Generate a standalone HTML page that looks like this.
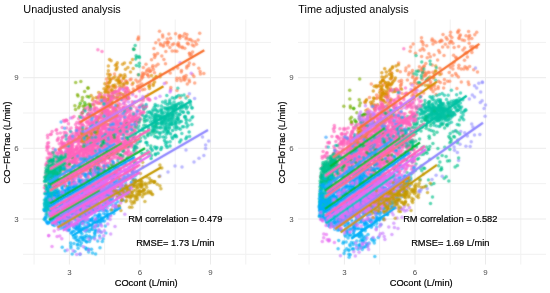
<!DOCTYPE html>
<html><head><meta charset="utf-8"><title>plot</title><style>html,body{margin:0;padding:0;background:#fff;width:550px;height:293px;overflow:hidden}
svg{display:block}
circle{r:1.75px}
.mn{stroke:#f1f1f1;stroke-width:1}
.mj{stroke:#ebebeb;stroke-width:1}
text{font-family:"Liberation Sans",Arial,sans-serif}
.t{font-size:10.9px;fill:#000}
.tk{font-size:7.9px;fill:#4d4d4d}
.ax{font-size:9.3px;fill:#000;stroke:#000;stroke-width:0.2px}</style></head><body>
<svg width="550" height="293" viewBox="0 0 550 293">
<defs><filter id="soft" x="0" y="0" width="275" height="293" filterUnits="userSpaceOnUse" primitiveUnits="userSpaceOnUse"><feConvolveMatrix order="3" kernelMatrix="1 2 1 2 12 2 1 2 1" divisor="24" edgeMode="duplicate"/></filter></defs>
<g>
<line x1="34.1" y1="19.5" x2="34.1" y2="264.5" class="mn"/>
<line x1="23.0" y1="254.3" x2="271.0" y2="254.3" class="mn"/>
<line x1="104.7" y1="19.5" x2="104.7" y2="264.5" class="mn"/>
<line x1="23.0" y1="183.7" x2="271.0" y2="183.7" class="mn"/>
<line x1="175.2" y1="19.5" x2="175.2" y2="264.5" class="mn"/>
<line x1="23.0" y1="113.0" x2="271.0" y2="113.0" class="mn"/>
<line x1="245.8" y1="19.5" x2="245.8" y2="264.5" class="mn"/>
<line x1="23.0" y1="42.4" x2="271.0" y2="42.4" class="mn"/>
<line x1="69.4" y1="19.5" x2="69.4" y2="264.5" class="mj"/>
<line x1="23.0" y1="219.0" x2="271.0" y2="219.0" class="mj"/>
<line x1="140.0" y1="19.5" x2="140.0" y2="264.5" class="mj"/>
<line x1="23.0" y1="148.3" x2="271.0" y2="148.3" class="mj"/>
<line x1="210.5" y1="19.5" x2="210.5" y2="264.5" class="mj"/>
<line x1="23.0" y1="77.7" x2="271.0" y2="77.7" class="mj"/>
<g filter="url(#soft)"><g fill="#FF62BC" fill-opacity="0.65"><circle cx="128.5" cy="149.9"/><circle cx="96.7" cy="124.3"/><circle cx="66.6" cy="149.3"/><circle cx="68.4" cy="123.7"/><circle cx="100.2" cy="138.3"/><circle cx="109.2" cy="117.1"/><circle cx="95.1" cy="136.8"/><circle cx="55.8" cy="162"/><circle cx="103.3" cy="175.4"/><circle cx="100.3" cy="133.5"/><circle cx="127.1" cy="129.2"/><circle cx="118.6" cy="122.8"/><circle cx="100.7" cy="153.3"/><circle cx="113.1" cy="133.3"/><circle cx="66.9" cy="156.3"/><circle cx="97" cy="149.5"/><circle cx="100.6" cy="154.4"/><circle cx="93.7" cy="141.9"/><circle cx="112.3" cy="112.9"/><circle cx="84.6" cy="133.5"/><circle cx="112" cy="142.1"/><circle cx="87.7" cy="114.4"/><circle cx="120.1" cy="121.5"/><circle cx="113.7" cy="108.7"/><circle cx="83.6" cy="163.7"/><circle cx="132.2" cy="101.7"/><circle cx="60.3" cy="150.4"/><circle cx="113.9" cy="133.5"/><circle cx="102.9" cy="118.2"/><circle cx="110.3" cy="151.2"/><circle cx="83.7" cy="117.9"/><circle cx="75.3" cy="158.4"/><circle cx="49.9" cy="153.6"/><circle cx="69.2" cy="145.6"/><circle cx="88.6" cy="140.7"/><circle cx="134" cy="130.3"/><circle cx="129.7" cy="122.4"/><circle cx="82.5" cy="149.2"/><circle cx="94" cy="141.1"/><circle cx="62.9" cy="158.1"/><circle cx="89.5" cy="123.5"/><circle cx="81.5" cy="140.6"/><circle cx="127.5" cy="127.4"/><circle cx="94.3" cy="144.9"/><circle cx="47.9" cy="177"/><circle cx="67" cy="156.1"/><circle cx="65.7" cy="132.5"/><circle cx="84.7" cy="174.1"/><circle cx="113.1" cy="120.8"/><circle cx="87.6" cy="121.2"/><circle cx="94.1" cy="128.6"/><circle cx="113.8" cy="107.8"/><circle cx="86.3" cy="127"/><circle cx="76.3" cy="157.2"/><circle cx="98.3" cy="146.7"/><circle cx="125.9" cy="145.8"/><circle cx="59.3" cy="160.7"/><circle cx="49.2" cy="154.3"/><circle cx="85.4" cy="144.5"/><circle cx="95.5" cy="138.3"/><circle cx="75.3" cy="163.9"/><circle cx="118.1" cy="125.6"/><circle cx="103.2" cy="146.1"/><circle cx="121.8" cy="134.5"/><circle cx="113.1" cy="126.7"/><circle cx="67.2" cy="140.1"/><circle cx="121.5" cy="144.6"/><circle cx="98.8" cy="126.9"/><circle cx="103" cy="163.2"/><circle cx="130.2" cy="113"/><circle cx="93.9" cy="113.8"/><circle cx="65.5" cy="152.4"/><circle cx="95.6" cy="154.2"/><circle cx="128" cy="139.7"/><circle cx="129.3" cy="115.7"/><circle cx="65.6" cy="157.7"/><circle cx="104.3" cy="114.9"/><circle cx="101.3" cy="159.8"/><circle cx="68.1" cy="161.9"/><circle cx="79.1" cy="165.7"/><circle cx="115.4" cy="135.4"/><circle cx="77.2" cy="176.3"/><circle cx="72.2" cy="184"/><circle cx="94" cy="120.8"/><circle cx="94.9" cy="140.2"/><circle cx="100.2" cy="132.7"/><circle cx="123.1" cy="87.9"/><circle cx="80.6" cy="139"/><circle cx="86.2" cy="121.9"/><circle cx="77.7" cy="155.5"/><circle cx="105.7" cy="158.4"/><circle cx="79.4" cy="148.5"/><circle cx="125.5" cy="141.8"/><circle cx="86.3" cy="160.5"/><circle cx="71" cy="177.8"/><circle cx="99" cy="134.6"/><circle cx="102" cy="149.8"/><circle cx="140.3" cy="118.4"/><circle cx="85.4" cy="151.6"/><circle cx="72.3" cy="117.8"/><circle cx="116.7" cy="123.3"/><circle cx="124.3" cy="109.4"/><circle cx="102.4" cy="137.8"/><circle cx="103" cy="144.9"/><circle cx="85.5" cy="142.9"/><circle cx="59.9" cy="160.2"/><circle cx="74.1" cy="138.4"/><circle cx="113.2" cy="146.7"/><circle cx="68.8" cy="182"/><circle cx="79.6" cy="158"/><circle cx="119.7" cy="132.4"/><circle cx="99.5" cy="166.9"/><circle cx="118.1" cy="136.8"/><circle cx="47.6" cy="143.3"/><circle cx="125.2" cy="129.8"/><circle cx="70.2" cy="136.5"/><circle cx="87" cy="152.7"/><circle cx="105.1" cy="151.1"/><circle cx="73.8" cy="162.8"/><circle cx="82" cy="137.9"/><circle cx="91.4" cy="135.8"/><circle cx="85" cy="168.3"/><circle cx="130.8" cy="136.6"/><circle cx="99.8" cy="153.9"/><circle cx="93" cy="146.5"/><circle cx="105.4" cy="135.5"/><circle cx="129.4" cy="92.4"/><circle cx="83.3" cy="142"/><circle cx="124.6" cy="146.7"/><circle cx="117.2" cy="131.9"/><circle cx="95.9" cy="151.8"/><circle cx="92.6" cy="123.6"/><circle cx="78.8" cy="141.8"/><circle cx="103.6" cy="173.2"/><circle cx="59.4" cy="159.6"/><circle cx="92.6" cy="144"/><circle cx="130.2" cy="145.7"/><circle cx="90.9" cy="130.1"/><circle cx="59.6" cy="150.3"/><circle cx="127.4" cy="121.2"/><circle cx="113.3" cy="143.1"/><circle cx="105.3" cy="152.5"/><circle cx="92" cy="125"/><circle cx="64.5" cy="165.3"/><circle cx="85.6" cy="136.3"/><circle cx="116.7" cy="116.3"/><circle cx="81.3" cy="132.4"/><circle cx="123.1" cy="107.2"/><circle cx="78.3" cy="144.4"/><circle cx="100.3" cy="136.3"/><circle cx="105.1" cy="128"/><circle cx="91.8" cy="160.7"/><circle cx="111.8" cy="124"/><circle cx="139.6" cy="87.2"/><circle cx="97.2" cy="148.5"/><circle cx="120.3" cy="130.3"/><circle cx="85" cy="151.8"/><circle cx="90" cy="148"/><circle cx="104.9" cy="120.8"/><circle cx="119.5" cy="141.4"/><circle cx="113.9" cy="123.9"/><circle cx="106.3" cy="127.9"/><circle cx="100.6" cy="133.6"/><circle cx="72.3" cy="180.2"/><circle cx="113.8" cy="95.9"/><circle cx="118.2" cy="105.5"/><circle cx="89" cy="130.4"/><circle cx="81.1" cy="147.4"/><circle cx="86.5" cy="116.6"/><circle cx="94.8" cy="144.3"/><circle cx="141" cy="113.5"/><circle cx="64.1" cy="143.3"/><circle cx="112" cy="116.5"/><circle cx="76.3" cy="154.5"/><circle cx="94.7" cy="141.9"/><circle cx="78.6" cy="130.2"/><circle cx="86.6" cy="138.6"/><circle cx="86.3" cy="148.6"/><circle cx="109.2" cy="141.9"/><circle cx="107.5" cy="118.2"/><circle cx="65.9" cy="162.7"/><circle cx="95.3" cy="139.9"/><circle cx="64.8" cy="145.9"/><circle cx="78.4" cy="129.6"/><circle cx="78.6" cy="118.8"/><circle cx="97.2" cy="157"/><circle cx="76.6" cy="146.6"/><circle cx="66.6" cy="160.2"/><circle cx="143.5" cy="98.6"/><circle cx="89.1" cy="164.5"/><circle cx="104.6" cy="136.3"/><circle cx="91.1" cy="155.1"/><circle cx="132.3" cy="134.7"/><circle cx="79.9" cy="132.1"/><circle cx="47.7" cy="137.7"/><circle cx="124.2" cy="125"/><circle cx="60.2" cy="173.7"/><circle cx="51.5" cy="176"/><circle cx="86.6" cy="147"/><circle cx="112.7" cy="135.7"/><circle cx="128.1" cy="125.7"/><circle cx="86.5" cy="130"/><circle cx="57.4" cy="140.5"/><circle cx="120.5" cy="142.3"/><circle cx="131.2" cy="170.6"/><circle cx="113.5" cy="139.5"/><circle cx="60.8" cy="146.9"/><circle cx="91.4" cy="144.6"/><circle cx="115" cy="146.8"/><circle cx="90.4" cy="145.6"/><circle cx="68.8" cy="155.7"/><circle cx="114.8" cy="156.6"/><circle cx="91.7" cy="125.2"/><circle cx="79.3" cy="154.5"/><circle cx="109.7" cy="132.7"/><circle cx="95.4" cy="134.6"/><circle cx="97" cy="121.1"/><circle cx="69.5" cy="153.6"/><circle cx="79.8" cy="139.2"/><circle cx="126.7" cy="122.7"/><circle cx="129.2" cy="124.9"/><circle cx="134.4" cy="130.9"/><circle cx="49.3" cy="176.4"/><circle cx="89.6" cy="106.7"/><circle cx="98" cy="139.5"/><circle cx="61.4" cy="140.4"/><circle cx="109.2" cy="156.6"/><circle cx="124.7" cy="147.5"/><circle cx="124.1" cy="84.7"/><circle cx="76.1" cy="148.4"/><circle cx="115" cy="145.5"/><circle cx="74.8" cy="139.2"/><circle cx="70.6" cy="147"/><circle cx="93.9" cy="138.3"/><circle cx="68.4" cy="154.7"/><circle cx="86.1" cy="157.5"/><circle cx="103.1" cy="109.7"/><circle cx="57.5" cy="153.4"/><circle cx="82.4" cy="150.8"/><circle cx="116" cy="130.4"/><circle cx="51.2" cy="134.3"/><circle cx="109.9" cy="114.5"/><circle cx="123.8" cy="125.5"/><circle cx="108.5" cy="117.8"/><circle cx="89.6" cy="149.8"/><circle cx="71.7" cy="132.5"/><circle cx="93.6" cy="139.6"/><circle cx="74" cy="157.5"/><circle cx="52.2" cy="173.2"/><circle cx="58.5" cy="137.9"/><circle cx="129.6" cy="107.9"/><circle cx="52" cy="155.6"/><circle cx="71.1" cy="128.1"/><circle cx="76.8" cy="132.3"/><circle cx="69.7" cy="130.1"/><circle cx="136.9" cy="110.6"/><circle cx="120.3" cy="104.5"/><circle cx="109.1" cy="111.4"/><circle cx="83.1" cy="153.3"/><circle cx="80.6" cy="140.8"/><circle cx="109.9" cy="115.4"/><circle cx="87.2" cy="142"/><circle cx="52.1" cy="152.5"/><circle cx="73.5" cy="153.6"/><circle cx="92.1" cy="136.3"/><circle cx="92.2" cy="132.8"/><circle cx="70.5" cy="138.6"/><circle cx="62.1" cy="153.4"/><circle cx="112.2" cy="141.6"/><circle cx="81.5" cy="171.7"/><circle cx="117.2" cy="113.4"/><circle cx="91.4" cy="111.7"/><circle cx="91.9" cy="151.3"/><circle cx="128" cy="118.4"/><circle cx="48.5" cy="152.8"/><circle cx="130.4" cy="127"/><circle cx="128.2" cy="139.5"/><circle cx="77.7" cy="152.1"/><circle cx="78.7" cy="133.9"/><circle cx="55" cy="165.2"/><circle cx="98.7" cy="125.8"/><circle cx="84" cy="134.9"/><circle cx="122.8" cy="124.4"/><circle cx="130.9" cy="110.1"/><circle cx="79.1" cy="135.8"/><circle cx="81" cy="141.8"/><circle cx="121.7" cy="148.4"/><circle cx="67.1" cy="170.3"/><circle cx="97.5" cy="164.1"/><circle cx="90.6" cy="125.4"/><circle cx="115.5" cy="140.8"/><circle cx="83.1" cy="142.9"/><circle cx="98.4" cy="142"/><circle cx="50.4" cy="134.5"/><circle cx="96.4" cy="141.9"/><circle cx="81.4" cy="113.3"/><circle cx="129.9" cy="119.5"/><circle cx="67.8" cy="175.5"/><circle cx="124.4" cy="144.5"/><circle cx="116.7" cy="139.4"/><circle cx="69.7" cy="148.1"/><circle cx="104.2" cy="145.3"/><circle cx="107.4" cy="116.2"/><circle cx="79.3" cy="138.3"/><circle cx="89.9" cy="125.1"/><circle cx="47.6" cy="135.3"/><circle cx="103" cy="134.8"/><circle cx="110.1" cy="100.2"/><circle cx="84.2" cy="157.3"/><circle cx="66.8" cy="120.4"/><circle cx="126.5" cy="126.6"/><circle cx="80.1" cy="146.2"/><circle cx="92.7" cy="154.3"/><circle cx="125.4" cy="142"/><circle cx="103.9" cy="147.6"/><circle cx="116.1" cy="149.8"/><circle cx="47.2" cy="162"/><circle cx="97" cy="139.9"/><circle cx="88.5" cy="139.2"/><circle cx="107.9" cy="136.5"/><circle cx="98.3" cy="118.5"/><circle cx="62.3" cy="137.7"/><circle cx="48.7" cy="146.8"/><circle cx="79.9" cy="180.7"/><circle cx="117.5" cy="116.2"/><circle cx="82" cy="125.7"/><circle cx="74.5" cy="139.8"/><circle cx="93.7" cy="127.9"/><circle cx="116.4" cy="140.8"/><circle cx="145.9" cy="96.4"/><circle cx="112.6" cy="125"/><circle cx="53.2" cy="148.7"/><circle cx="52.3" cy="153.8"/><circle cx="128.9" cy="156.1"/><circle cx="126.1" cy="99.9"/><circle cx="105.8" cy="136.3"/><circle cx="106.3" cy="116.1"/><circle cx="103" cy="126.6"/><circle cx="99.7" cy="115.1"/><circle cx="120" cy="131.3"/><circle cx="91.1" cy="132.2"/><circle cx="93.3" cy="140.9"/><circle cx="84.5" cy="158.3"/><circle cx="100.5" cy="134.3"/><circle cx="72.6" cy="167.2"/><circle cx="128.7" cy="136.9"/><circle cx="47.1" cy="150.3"/><circle cx="120.8" cy="128.8"/><circle cx="128.2" cy="117.9"/><circle cx="115.7" cy="139"/><circle cx="84.4" cy="138"/><circle cx="78.7" cy="129"/><circle cx="136.3" cy="120.3"/><circle cx="115.5" cy="107.4"/><circle cx="82.7" cy="149.6"/><circle cx="76.2" cy="154.2"/><circle cx="115.9" cy="122.4"/><circle cx="93.4" cy="126"/><circle cx="123.1" cy="157.4"/><circle cx="107.9" cy="124.5"/><circle cx="76.7" cy="140.2"/><circle cx="118.1" cy="116.3"/><circle cx="133.5" cy="102.6"/><circle cx="94.8" cy="160.5"/><circle cx="141.4" cy="113.5"/><circle cx="115.6" cy="173.2"/><circle cx="125.4" cy="89.2"/><circle cx="102.3" cy="175.6"/><circle cx="64.8" cy="165"/><circle cx="136.3" cy="108"/><circle cx="116" cy="145.5"/><circle cx="57.8" cy="157.7"/><circle cx="55.4" cy="152.7"/><circle cx="70.4" cy="170.2"/><circle cx="81.8" cy="127.5"/><circle cx="111.7" cy="152.4"/><circle cx="90.9" cy="144.3"/><circle cx="107.8" cy="124.7"/><circle cx="64.1" cy="158.8"/><circle cx="85.8" cy="118.2"/><circle cx="117.2" cy="136.9"/><circle cx="98.7" cy="123.8"/><circle cx="89.2" cy="150.6"/><circle cx="107.6" cy="119.2"/><circle cx="71.5" cy="152.7"/><circle cx="99.8" cy="150.6"/><circle cx="64.9" cy="165.1"/><circle cx="98.4" cy="152.1"/><circle cx="61.5" cy="143.2"/><circle cx="64.9" cy="163.4"/><circle cx="77.9" cy="134.9"/><circle cx="65.9" cy="177.7"/><circle cx="79.2" cy="139.3"/><circle cx="47.9" cy="169"/><circle cx="94.8" cy="146.6"/><circle cx="136.1" cy="125"/><circle cx="64" cy="132.5"/><circle cx="97.1" cy="159.6"/><circle cx="63.8" cy="145.7"/><circle cx="91.2" cy="150.6"/><circle cx="71.8" cy="152.1"/><circle cx="115.4" cy="129.6"/><circle cx="92.5" cy="149.5"/><circle cx="110.1" cy="153.6"/><circle cx="66.9" cy="169.6"/><circle cx="89.1" cy="120.9"/><circle cx="80.6" cy="122.5"/><circle cx="89.8" cy="157.6"/><circle cx="64.3" cy="162.7"/><circle cx="87.2" cy="154.4"/><circle cx="60.5" cy="150.2"/><circle cx="73" cy="158.9"/><circle cx="126.6" cy="153.7"/><circle cx="93.5" cy="123.6"/><circle cx="85" cy="109.2"/><circle cx="130.2" cy="144.6"/><circle cx="71.3" cy="178.1"/><circle cx="59.8" cy="160.9"/><circle cx="74" cy="116.4"/><circle cx="105.3" cy="114.4"/><circle cx="126" cy="110.9"/><circle cx="97.7" cy="128.8"/><circle cx="98.5" cy="125.9"/><circle cx="116.3" cy="140.3"/><circle cx="96.8" cy="135.2"/><circle cx="146.3" cy="106.7"/><circle cx="83.6" cy="155.5"/><circle cx="94.7" cy="110.3"/><circle cx="91.3" cy="132.9"/><circle cx="69.1" cy="151.1"/><circle cx="65.4" cy="145"/><circle cx="65.5" cy="175.8"/><circle cx="87.6" cy="148.3"/><circle cx="102.4" cy="147.2"/><circle cx="91.1" cy="152.3"/><circle cx="103.1" cy="112.9"/><circle cx="119.7" cy="132.3"/><circle cx="64.4" cy="143.2"/><circle cx="59.1" cy="185.4"/><circle cx="106.9" cy="132"/><circle cx="69.4" cy="142"/><circle cx="88.8" cy="132.8"/><circle cx="93" cy="152.4"/><circle cx="49.2" cy="159.2"/><circle cx="123.6" cy="103.8"/><circle cx="90.1" cy="133.4"/><circle cx="65.3" cy="165.4"/><circle cx="86.5" cy="160.7"/><circle cx="105.7" cy="129.2"/><circle cx="102.5" cy="128.8"/><circle cx="52.3" cy="178.4"/><circle cx="104.5" cy="154"/><circle cx="47.9" cy="173.7"/><circle cx="116.4" cy="129.2"/><circle cx="97.6" cy="125.7"/><circle cx="90" cy="140.8"/><circle cx="71.5" cy="144.7"/><circle cx="95.3" cy="162.7"/><circle cx="92.4" cy="179"/><circle cx="64.2" cy="147.4"/><circle cx="127.2" cy="99"/><circle cx="111.1" cy="138.6"/><circle cx="79.3" cy="139.9"/><circle cx="135.2" cy="115.1"/><circle cx="102.2" cy="142.6"/><circle cx="126.4" cy="90.9"/><circle cx="56.7" cy="129.7"/><circle cx="87.7" cy="151.2"/><circle cx="116.6" cy="124.9"/><circle cx="134.4" cy="121.8"/><circle cx="113" cy="118.3"/><circle cx="116.7" cy="117.5"/><circle cx="125.1" cy="141.2"/><circle cx="143.6" cy="112.3"/><circle cx="64.8" cy="163.6"/><circle cx="103.3" cy="125.9"/><circle cx="60.2" cy="164.8"/><circle cx="122.8" cy="123.1"/><circle cx="106.9" cy="141.8"/><circle cx="110.4" cy="150.1"/><circle cx="112" cy="125.2"/><circle cx="63" cy="145.3"/><circle cx="77.9" cy="151.4"/><circle cx="127" cy="139.2"/><circle cx="76.9" cy="148.3"/><circle cx="95.1" cy="129.9"/><circle cx="128.8" cy="135.6"/><circle cx="104.4" cy="113.6"/><circle cx="75.9" cy="164.6"/><circle cx="89.4" cy="139.7"/><circle cx="88.1" cy="148.8"/><circle cx="94.8" cy="167.2"/><circle cx="91.8" cy="134.7"/><circle cx="131.9" cy="136.7"/><circle cx="113.1" cy="140.1"/><circle cx="94" cy="143.8"/><circle cx="109" cy="134.5"/><circle cx="46.1" cy="180"/><circle cx="82.5" cy="133.1"/><circle cx="86.1" cy="129.1"/><circle cx="72.2" cy="145.2"/><circle cx="118" cy="124.2"/><circle cx="107.3" cy="110.4"/><circle cx="114.6" cy="111.2"/><circle cx="113.2" cy="118.5"/><circle cx="79.4" cy="122.6"/><circle cx="62" cy="146.7"/><circle cx="69.6" cy="143.8"/><circle cx="124.5" cy="112.4"/><circle cx="86.8" cy="139.4"/><circle cx="78.9" cy="143.6"/><circle cx="101.1" cy="153.4"/><circle cx="76.1" cy="141.5"/><circle cx="90.8" cy="160.3"/><circle cx="69" cy="150.8"/><circle cx="115" cy="140.4"/><circle cx="76.6" cy="127.4"/><circle cx="46.9" cy="147.2"/><circle cx="88.4" cy="115.1"/><circle cx="116.9" cy="132.4"/><circle cx="88.8" cy="131.4"/><circle cx="107.3" cy="128.5"/><circle cx="108.2" cy="124.8"/><circle cx="122.5" cy="99.9"/><circle cx="67.1" cy="179.2"/><circle cx="122.2" cy="155.6"/><circle cx="74.4" cy="158.2"/><circle cx="121" cy="143.7"/><circle cx="90.2" cy="164.8"/><circle cx="105.8" cy="111.9"/><circle cx="98.3" cy="158.1"/><circle cx="77" cy="129"/><circle cx="117.9" cy="143.3"/><circle cx="75.6" cy="149.6"/><circle cx="123.4" cy="107.7"/><circle cx="114.3" cy="148.8"/><circle cx="104.6" cy="160.1"/><circle cx="104.5" cy="139.4"/><circle cx="95" cy="145.1"/><circle cx="104.2" cy="118.6"/><circle cx="93.8" cy="132.1"/><circle cx="126.9" cy="112.5"/><circle cx="110.5" cy="102.3"/><circle cx="96.4" cy="168.3"/><circle cx="97.1" cy="159"/><circle cx="85.4" cy="149.4"/><circle cx="104.7" cy="97"/><circle cx="74.1" cy="178.1"/><circle cx="73.4" cy="166.7"/><circle cx="139.7" cy="120.2"/><circle cx="121.1" cy="134.3"/><circle cx="79.5" cy="153.8"/><circle cx="106.3" cy="116.9"/><circle cx="83.4" cy="119.5"/><circle cx="86.2" cy="140.6"/><circle cx="112.5" cy="152.9"/><circle cx="71.3" cy="148.2"/><circle cx="58.4" cy="173.5"/><circle cx="113.8" cy="154.9"/><circle cx="114" cy="139.8"/><circle cx="132.3" cy="119.1"/><circle cx="101.2" cy="117.2"/><circle cx="65.2" cy="152.9"/><circle cx="101" cy="108.7"/><circle cx="104.7" cy="151.5"/><circle cx="62.3" cy="144.6"/><circle cx="139.6" cy="106.6"/><circle cx="109.9" cy="145.7"/><circle cx="99.6" cy="138.7"/><circle cx="109.7" cy="137.3"/><circle cx="98.9" cy="111.4"/><circle cx="101.4" cy="122.2"/><circle cx="133.9" cy="160.9"/><circle cx="124" cy="90.4"/><circle cx="121" cy="130.2"/><circle cx="66.7" cy="128.1"/><circle cx="122.6" cy="116.5"/><circle cx="92.9" cy="139.9"/><circle cx="127" cy="112.1"/><circle cx="84.4" cy="152.5"/><circle cx="104.5" cy="95.1"/><circle cx="110.7" cy="129.4"/><circle cx="68.2" cy="137.8"/><circle cx="53.5" cy="167.1"/><circle cx="133.4" cy="112.7"/><circle cx="82.8" cy="117.9"/><circle cx="76.6" cy="127.6"/><circle cx="95.6" cy="167.3"/><circle cx="122.4" cy="144.2"/><circle cx="69.7" cy="161.8"/><circle cx="76.3" cy="130"/><circle cx="114" cy="129"/><circle cx="100" cy="130.9"/><circle cx="114.4" cy="110.9"/><circle cx="112.7" cy="157.8"/><circle cx="91.4" cy="130.6"/><circle cx="124.2" cy="107.9"/><circle cx="104.7" cy="125.4"/><circle cx="102.8" cy="121.7"/><circle cx="110.8" cy="141.6"/><circle cx="140.6" cy="114.4"/><circle cx="106.5" cy="103.7"/><circle cx="74.5" cy="150.3"/><circle cx="59.4" cy="149.7"/><circle cx="71.6" cy="155"/><circle cx="110.6" cy="124"/><circle cx="112.1" cy="122.1"/><circle cx="98" cy="145.7"/><circle cx="109.5" cy="142.6"/><circle cx="139.2" cy="110.2"/><circle cx="91" cy="108.4"/><circle cx="117.7" cy="110.3"/><circle cx="79.5" cy="135.2"/><circle cx="105.8" cy="129.1"/><circle cx="87.6" cy="142.1"/><circle cx="86.3" cy="140.9"/><circle cx="69.5" cy="138.3"/><circle cx="63.3" cy="164.6"/><circle cx="118.5" cy="140.4"/><circle cx="103.7" cy="124.4"/><circle cx="109.4" cy="106.2"/><circle cx="64.1" cy="175.2"/><circle cx="101.4" cy="162"/><circle cx="76.5" cy="162.3"/><circle cx="102.4" cy="153.5"/><circle cx="83.1" cy="172.5"/><circle cx="65" cy="136.5"/><circle cx="95.6" cy="124.7"/><circle cx="75.9" cy="173.7"/><circle cx="130.3" cy="118.2"/><circle cx="135.6" cy="142.7"/><circle cx="81.9" cy="133.5"/><circle cx="103.1" cy="154.5"/><circle cx="135.8" cy="148.1"/><circle cx="82.4" cy="112.4"/><circle cx="51.1" cy="180.4"/><circle cx="122.5" cy="147.7"/><circle cx="94.9" cy="139.5"/><circle cx="107.6" cy="141"/><circle cx="97.1" cy="120.7"/><circle cx="59.4" cy="154.2"/><circle cx="90.9" cy="163.7"/><circle cx="94.1" cy="166.9"/><circle cx="86" cy="129.5"/><circle cx="104.8" cy="160.5"/><circle cx="123.3" cy="142.2"/><circle cx="119.2" cy="123.9"/><circle cx="97.2" cy="144.2"/><circle cx="80.8" cy="149.7"/><circle cx="88.7" cy="138.2"/><circle cx="88.1" cy="124.4"/><circle cx="108.1" cy="155.1"/><circle cx="85.6" cy="149"/><circle cx="123.9" cy="115.9"/><circle cx="92.6" cy="116.7"/><circle cx="136.1" cy="151.6"/><circle cx="89.8" cy="174"/><circle cx="117.3" cy="98.4"/><circle cx="107.7" cy="137.4"/><circle cx="108.2" cy="144.6"/><circle cx="83.2" cy="161.8"/><circle cx="103.2" cy="167.1"/><circle cx="47.2" cy="145.8"/><circle cx="74.3" cy="161.8"/><circle cx="78.6" cy="164"/><circle cx="81.8" cy="159.3"/><circle cx="79.1" cy="123.7"/><circle cx="110.4" cy="128.2"/><circle cx="108.5" cy="104.8"/><circle cx="68" cy="142.4"/><circle cx="62.1" cy="167.3"/><circle cx="117.2" cy="166.1"/><circle cx="100.1" cy="127.6"/><circle cx="116.3" cy="106.9"/><circle cx="83.4" cy="125.4"/><circle cx="80.1" cy="121.8"/><circle cx="57.3" cy="133.4"/><circle cx="105.2" cy="134.7"/><circle cx="93" cy="146.8"/><circle cx="114.5" cy="138.7"/><circle cx="105" cy="125.9"/><circle cx="123.3" cy="151.6"/><circle cx="116.3" cy="111.2"/><circle cx="104.2" cy="136"/><circle cx="62.2" cy="127.4"/><circle cx="88.3" cy="185.2"/><circle cx="62.7" cy="143.3"/><circle cx="87.5" cy="136.3"/><circle cx="124.3" cy="161.9"/><circle cx="93.8" cy="145.5"/><circle cx="86.5" cy="168"/><circle cx="93.6" cy="150.2"/><circle cx="90" cy="159.1"/><circle cx="93.3" cy="124.3"/><circle cx="99.5" cy="130.3"/><circle cx="71.3" cy="182.5"/><circle cx="103.8" cy="127.6"/><circle cx="71.9" cy="152.5"/><circle cx="94.9" cy="133.9"/><circle cx="77.7" cy="170.5"/><circle cx="100.7" cy="132.6"/><circle cx="62.4" cy="137.2"/><circle cx="114.1" cy="117.9"/><circle cx="112" cy="129.6"/><circle cx="105.3" cy="140"/><circle cx="83.6" cy="137.8"/><circle cx="93.2" cy="149.9"/><circle cx="117.7" cy="107.1"/><circle cx="76.9" cy="147"/><circle cx="93.5" cy="142.9"/><circle cx="94.2" cy="137.8"/><circle cx="127.9" cy="154.4"/><circle cx="97.5" cy="164"/><circle cx="119.3" cy="149.1"/><circle cx="102" cy="138.9"/><circle cx="115.8" cy="113.8"/><circle cx="96.5" cy="118.2"/><circle cx="118.8" cy="132.6"/><circle cx="110.5" cy="126.4"/><circle cx="75" cy="162"/><circle cx="83.8" cy="138.6"/><circle cx="95.9" cy="145.6"/><circle cx="96.6" cy="119.7"/><circle cx="67.7" cy="165.7"/><circle cx="86.8" cy="137"/><circle cx="72" cy="162.6"/><circle cx="107.2" cy="124.2"/><circle cx="50.2" cy="185.7"/><circle cx="80.4" cy="123.7"/><circle cx="82.2" cy="123.5"/><circle cx="94.8" cy="128.7"/><circle cx="64.1" cy="161.3"/><circle cx="103.8" cy="125.3"/><circle cx="66.7" cy="120.4"/><circle cx="76.7" cy="134.7"/><circle cx="82.4" cy="134.2"/><circle cx="127.9" cy="143.5"/><circle cx="103.2" cy="144.5"/><circle cx="83.1" cy="117.8"/><circle cx="108.9" cy="156.2"/><circle cx="76.9" cy="133.1"/><circle cx="76.8" cy="122.4"/><circle cx="109.3" cy="114.1"/><circle cx="130.8" cy="152.7"/><circle cx="97.2" cy="136.4"/><circle cx="72.8" cy="161.8"/><circle cx="97.2" cy="111.8"/><circle cx="70.7" cy="155.2"/><circle cx="82.1" cy="150.4"/><circle cx="101.5" cy="160"/><circle cx="92.4" cy="157"/><circle cx="123.8" cy="149.6"/><circle cx="86" cy="146.2"/><circle cx="89.9" cy="129.6"/><circle cx="98.1" cy="116.8"/><circle cx="72.8" cy="139.1"/><circle cx="87.6" cy="157.9"/><circle cx="66.5" cy="145.7"/><circle cx="101.8" cy="130.4"/><circle cx="114.3" cy="168.7"/><circle cx="66.9" cy="133.9"/><circle cx="81.7" cy="133.8"/><circle cx="80.9" cy="150.5"/><circle cx="92.9" cy="103.9"/><circle cx="135.6" cy="122.8"/><circle cx="84.3" cy="160.8"/><circle cx="92" cy="135.3"/><circle cx="72.3" cy="162.3"/><circle cx="117" cy="115.2"/><circle cx="80.4" cy="164.6"/><circle cx="76.3" cy="138"/><circle cx="75" cy="141.5"/><circle cx="117.4" cy="130.5"/><circle cx="120.9" cy="138.4"/><circle cx="94.6" cy="137.8"/><circle cx="51.7" cy="167.7"/><circle cx="93.7" cy="129.9"/><circle cx="108.5" cy="149.2"/><circle cx="113.8" cy="121.9"/><circle cx="94" cy="180"/><circle cx="61.3" cy="152"/><circle cx="95.9" cy="163.2"/><circle cx="111" cy="135.7"/><circle cx="87.3" cy="162"/><circle cx="96.8" cy="135.7"/><circle cx="99.4" cy="148"/><circle cx="96" cy="142"/><circle cx="115.7" cy="117.8"/><circle cx="88.8" cy="141.6"/><circle cx="112.8" cy="140.8"/><circle cx="82.5" cy="125.2"/><circle cx="85.3" cy="133.2"/><circle cx="118.2" cy="140"/><circle cx="96.7" cy="119"/><circle cx="61.1" cy="153"/><circle cx="110.9" cy="138.4"/><circle cx="88.4" cy="150.2"/><circle cx="124.8" cy="152.2"/><circle cx="99.5" cy="140.4"/><circle cx="89.6" cy="155.3"/><circle cx="71.2" cy="137.2"/><circle cx="105.4" cy="109.9"/><circle cx="107.8" cy="140.9"/><circle cx="94.7" cy="129.7"/><circle cx="140.4" cy="111.6"/><circle cx="99" cy="150.2"/><circle cx="94.6" cy="156"/><circle cx="95.1" cy="142.3"/><circle cx="94.8" cy="149.3"/><circle cx="78.2" cy="159.5"/><circle cx="121.9" cy="110.1"/><circle cx="56.1" cy="130.2"/><circle cx="74.3" cy="157.6"/><circle cx="96.7" cy="169.4"/><circle cx="136" cy="96.4"/><circle cx="84.9" cy="136.7"/><circle cx="119.1" cy="115"/><circle cx="147.8" cy="99.2"/><circle cx="95.7" cy="121.4"/><circle cx="71.7" cy="151.1"/><circle cx="71.7" cy="158.5"/><circle cx="108.5" cy="133.8"/><circle cx="111.6" cy="150.8"/><circle cx="123.4" cy="107.9"/><circle cx="112" cy="146.7"/><circle cx="85.2" cy="135.1"/><circle cx="126.4" cy="137.3"/><circle cx="98.4" cy="161.1"/><circle cx="119.2" cy="158.3"/><circle cx="84.9" cy="158.6"/><circle cx="78.3" cy="172.8"/><circle cx="69.8" cy="145"/><circle cx="86" cy="149.6"/><circle cx="124.7" cy="154"/><circle cx="91.1" cy="145.2"/><circle cx="117.8" cy="149"/><circle cx="87.8" cy="163.8"/><circle cx="57.6" cy="156.9"/><circle cx="59.2" cy="143.8"/><circle cx="74.5" cy="175.9"/><circle cx="99.2" cy="103.2"/><circle cx="50.8" cy="158"/><circle cx="114" cy="139.5"/><circle cx="76.1" cy="132"/><circle cx="109.1" cy="171.3"/><circle cx="114" cy="130.2"/><circle cx="92.1" cy="146.6"/><circle cx="103" cy="110.7"/><circle cx="135.1" cy="130.5"/><circle cx="109.5" cy="124.8"/></g>
<g fill="#FF62BC" fill-opacity="0.65"><circle cx="96.9" cy="183.5"/><circle cx="114.7" cy="147.3"/><circle cx="106.5" cy="144.3"/><circle cx="97" cy="131.6"/><circle cx="69.6" cy="192.2"/><circle cx="61" cy="161.1"/><circle cx="64.6" cy="169.1"/><circle cx="50.9" cy="176.9"/><circle cx="118.2" cy="158.5"/><circle cx="122.3" cy="124.9"/><circle cx="86.1" cy="170.5"/><circle cx="82.9" cy="166.1"/><circle cx="49.3" cy="157.8"/><circle cx="89" cy="167.7"/><circle cx="61.3" cy="151.9"/><circle cx="83.3" cy="182.9"/><circle cx="113.1" cy="182.2"/><circle cx="117.6" cy="172.7"/><circle cx="113.7" cy="148.3"/><circle cx="94.9" cy="132.6"/><circle cx="52.6" cy="195.3"/><circle cx="148.1" cy="98.3"/><circle cx="66.6" cy="165.6"/><circle cx="82.6" cy="189.3"/><circle cx="75.3" cy="159.2"/><circle cx="103.5" cy="184.8"/><circle cx="80.3" cy="177.6"/><circle cx="50.8" cy="181.6"/><circle cx="87.8" cy="174.6"/><circle cx="112.9" cy="155"/><circle cx="118" cy="158.4"/><circle cx="83.7" cy="157.3"/><circle cx="92.6" cy="163.2"/><circle cx="113" cy="174.2"/><circle cx="92.5" cy="158.6"/><circle cx="74.1" cy="187.5"/><circle cx="74.7" cy="187.8"/><circle cx="49.6" cy="187.2"/><circle cx="113.4" cy="162.7"/><circle cx="112.6" cy="150"/><circle cx="46.6" cy="191.9"/><circle cx="112.5" cy="166"/><circle cx="64.8" cy="183.7"/><circle cx="51.2" cy="200.5"/><circle cx="127.5" cy="152.1"/><circle cx="81.4" cy="141.5"/><circle cx="136" cy="127.4"/><circle cx="64.4" cy="174.4"/><circle cx="113.1" cy="180.5"/><circle cx="65.8" cy="176.7"/><circle cx="46" cy="171.5"/><circle cx="123.5" cy="144.5"/><circle cx="59.8" cy="165.4"/><circle cx="66.7" cy="203.6"/><circle cx="119.1" cy="134"/><circle cx="111.5" cy="146.1"/><circle cx="100" cy="160.9"/><circle cx="65.4" cy="185.1"/><circle cx="139.5" cy="120.5"/><circle cx="63.6" cy="146.6"/><circle cx="90.6" cy="173"/><circle cx="133.2" cy="146"/><circle cx="97.7" cy="179.3"/><circle cx="98.1" cy="180.4"/><circle cx="51.5" cy="200.1"/><circle cx="56.7" cy="175.3"/><circle cx="98.2" cy="137.9"/><circle cx="98.9" cy="181.1"/><circle cx="49.4" cy="167"/><circle cx="91.8" cy="189.1"/><circle cx="138.1" cy="114.2"/><circle cx="116.7" cy="127"/><circle cx="140.8" cy="105.5"/><circle cx="51.5" cy="183.6"/><circle cx="105.9" cy="132.3"/><circle cx="109.9" cy="147"/><circle cx="102.3" cy="133.3"/><circle cx="62.5" cy="209.9"/><circle cx="118.3" cy="129"/><circle cx="142.3" cy="114.5"/><circle cx="99.5" cy="182.3"/><circle cx="57.4" cy="156.4"/><circle cx="51.3" cy="163.1"/><circle cx="89.9" cy="151.7"/><circle cx="78.6" cy="138.3"/><circle cx="103.5" cy="151.9"/><circle cx="133.9" cy="125"/><circle cx="114.7" cy="136.8"/><circle cx="135.4" cy="115.8"/><circle cx="103.7" cy="151.8"/><circle cx="100" cy="159.9"/><circle cx="109.3" cy="140.1"/><circle cx="112.1" cy="159.3"/><circle cx="131.8" cy="127.3"/><circle cx="116.1" cy="145.7"/><circle cx="103.1" cy="148.8"/><circle cx="109.4" cy="133.8"/><circle cx="73.9" cy="153.1"/><circle cx="116.3" cy="131.5"/><circle cx="136.2" cy="125.4"/><circle cx="88.4" cy="170.4"/><circle cx="124.3" cy="137.5"/><circle cx="79.6" cy="151.4"/><circle cx="92.7" cy="174.6"/><circle cx="125.4" cy="121.7"/><circle cx="91.6" cy="188.5"/><circle cx="71.7" cy="145.7"/><circle cx="118.4" cy="139.4"/><circle cx="130.3" cy="126.5"/><circle cx="97.1" cy="179.2"/><circle cx="56.2" cy="176.9"/><circle cx="63.4" cy="180.9"/><circle cx="132.9" cy="170.1"/><circle cx="135.4" cy="113.8"/><circle cx="97.4" cy="161.7"/><circle cx="121.5" cy="158.1"/><circle cx="70" cy="152.7"/><circle cx="115.2" cy="124.6"/><circle cx="61.1" cy="169.3"/><circle cx="83.1" cy="143.7"/><circle cx="88" cy="143.3"/><circle cx="73.2" cy="172.8"/><circle cx="103.6" cy="182.9"/><circle cx="55.8" cy="185.3"/><circle cx="112.8" cy="126.9"/><circle cx="88.3" cy="140.8"/><circle cx="52.8" cy="183.3"/><circle cx="108.5" cy="177.7"/><circle cx="131.3" cy="120.3"/><circle cx="128.7" cy="111.1"/><circle cx="143.4" cy="112.2"/><circle cx="137.6" cy="110.4"/><circle cx="93" cy="135.9"/><circle cx="131.2" cy="171.5"/><circle cx="107.7" cy="162.9"/><circle cx="125" cy="119.7"/><circle cx="89.6" cy="153.7"/><circle cx="135.1" cy="131.4"/><circle cx="89.2" cy="167"/><circle cx="69.7" cy="146.8"/><circle cx="73.6" cy="141.7"/><circle cx="125.3" cy="140"/><circle cx="119" cy="150.9"/><circle cx="51.5" cy="206.1"/><circle cx="143.3" cy="100.4"/><circle cx="96.6" cy="178"/><circle cx="94.9" cy="183.9"/><circle cx="128.4" cy="151.5"/><circle cx="115.2" cy="119.3"/><circle cx="99.5" cy="170"/><circle cx="107.8" cy="158.5"/><circle cx="86.9" cy="187.3"/><circle cx="74.5" cy="181.4"/><circle cx="97.4" cy="136.2"/><circle cx="47.3" cy="164"/><circle cx="79.6" cy="167.5"/><circle cx="48.2" cy="159.4"/><circle cx="96.7" cy="157.4"/><circle cx="117.3" cy="121.2"/><circle cx="109.6" cy="163.2"/><circle cx="110.4" cy="145.6"/><circle cx="102.3" cy="171.4"/><circle cx="97.5" cy="130.8"/><circle cx="116" cy="172"/><circle cx="89.3" cy="137.4"/><circle cx="57.7" cy="208.5"/><circle cx="58.3" cy="191.7"/><circle cx="55.5" cy="184.1"/><circle cx="81.9" cy="175.2"/><circle cx="113.8" cy="153.4"/><circle cx="92" cy="132.3"/><circle cx="116.4" cy="133.5"/><circle cx="119.5" cy="142.2"/><circle cx="77.2" cy="202.9"/><circle cx="83.6" cy="197.6"/><circle cx="102.3" cy="158.4"/><circle cx="77.3" cy="149.5"/><circle cx="129.7" cy="137.4"/><circle cx="115.2" cy="128"/><circle cx="106.2" cy="164.2"/><circle cx="136.2" cy="147.3"/><circle cx="94.7" cy="172.6"/><circle cx="116.6" cy="146.4"/><circle cx="120.6" cy="132.9"/><circle cx="52.6" cy="162.1"/><circle cx="109.9" cy="138.9"/><circle cx="57.8" cy="214.3"/><circle cx="98.5" cy="173.3"/><circle cx="60" cy="211.6"/><circle cx="109.5" cy="169.5"/><circle cx="119.7" cy="117.8"/><circle cx="100.4" cy="125.5"/><circle cx="76.9" cy="200.9"/><circle cx="128" cy="145.5"/><circle cx="58.4" cy="193.6"/><circle cx="117.7" cy="156.2"/><circle cx="127.6" cy="169.3"/><circle cx="98.7" cy="165.5"/><circle cx="108.6" cy="158.3"/><circle cx="126.5" cy="121.8"/><circle cx="51.7" cy="160.6"/><circle cx="50.1" cy="190"/><circle cx="81.6" cy="186.7"/><circle cx="64.4" cy="155.4"/><circle cx="87.3" cy="177.2"/><circle cx="112.5" cy="135.1"/><circle cx="61.2" cy="185.1"/><circle cx="74.8" cy="195.3"/><circle cx="76.8" cy="199.1"/><circle cx="47.6" cy="195.1"/><circle cx="78.9" cy="168.1"/><circle cx="97.4" cy="179.1"/><circle cx="67.2" cy="193.9"/><circle cx="49.1" cy="195.9"/><circle cx="87.6" cy="191.4"/><circle cx="72.5" cy="202.2"/><circle cx="88.9" cy="187.9"/><circle cx="83.6" cy="148.6"/><circle cx="75.9" cy="183.9"/><circle cx="57.9" cy="193.9"/><circle cx="45.2" cy="177.1"/><circle cx="90.7" cy="132.7"/><circle cx="97.3" cy="160.1"/><circle cx="56.8" cy="165.8"/><circle cx="114" cy="128.4"/><circle cx="88" cy="173.8"/><circle cx="116.4" cy="173.6"/><circle cx="97" cy="162.7"/><circle cx="95.6" cy="176.6"/><circle cx="120.1" cy="174.8"/><circle cx="62" cy="155.3"/><circle cx="80.1" cy="176.6"/><circle cx="121.6" cy="125.6"/><circle cx="77.6" cy="176.7"/><circle cx="76.7" cy="192.4"/><circle cx="57.8" cy="200.4"/><circle cx="63.4" cy="192.7"/><circle cx="124.3" cy="170.1"/><circle cx="135" cy="123.1"/><circle cx="114.9" cy="124.8"/><circle cx="136.9" cy="166.7"/><circle cx="104" cy="177.3"/><circle cx="73" cy="142.5"/><circle cx="55.1" cy="194.8"/><circle cx="118.3" cy="137"/><circle cx="50.1" cy="158.7"/><circle cx="50.4" cy="173.7"/><circle cx="81.9" cy="170.4"/><circle cx="119.5" cy="169"/><circle cx="120.3" cy="170.2"/><circle cx="75" cy="178.7"/><circle cx="129.2" cy="128.3"/><circle cx="83.7" cy="154.1"/><circle cx="45.6" cy="187.8"/><circle cx="62.7" cy="162.3"/><circle cx="64.3" cy="162.6"/><circle cx="69.3" cy="153.5"/><circle cx="111.4" cy="177.8"/><circle cx="82.9" cy="193.9"/><circle cx="70.3" cy="144.7"/><circle cx="70.9" cy="193.2"/><circle cx="129.1" cy="128.3"/><circle cx="71.4" cy="183"/><circle cx="106.4" cy="172.9"/><circle cx="98.5" cy="131.3"/><circle cx="53.5" cy="167"/><circle cx="107.8" cy="166.9"/><circle cx="111.7" cy="118.8"/><circle cx="109.8" cy="131.8"/><circle cx="74.2" cy="153.9"/><circle cx="117.8" cy="173.8"/><circle cx="76.7" cy="161.2"/><circle cx="79.5" cy="138.8"/><circle cx="46.3" cy="206.9"/><circle cx="54.2" cy="180.9"/><circle cx="81.5" cy="151.8"/><circle cx="68.4" cy="202.2"/><circle cx="119.8" cy="158.1"/><circle cx="125.2" cy="112.1"/><circle cx="72.3" cy="172"/><circle cx="46.1" cy="165.3"/><circle cx="46.9" cy="164.7"/><circle cx="109.7" cy="132"/><circle cx="45.9" cy="174.5"/><circle cx="76.1" cy="174.2"/><circle cx="109" cy="137.9"/><circle cx="66.6" cy="175.5"/><circle cx="92.3" cy="188.1"/><circle cx="70" cy="144.1"/><circle cx="51.2" cy="173.9"/><circle cx="71.3" cy="167.5"/><circle cx="116.2" cy="169.7"/><circle cx="127.7" cy="117.5"/><circle cx="94.3" cy="153.6"/><circle cx="77.6" cy="140.9"/><circle cx="68.3" cy="189.3"/><circle cx="47.7" cy="192.3"/><circle cx="67.9" cy="177.5"/><circle cx="109" cy="130.3"/><circle cx="55.6" cy="182"/><circle cx="51.3" cy="207.9"/><circle cx="49.8" cy="192.3"/><circle cx="102" cy="135.2"/><circle cx="149.7" cy="100.3"/><circle cx="85.5" cy="164.2"/><circle cx="106.5" cy="145.1"/><circle cx="90.3" cy="171"/><circle cx="57.8" cy="194.2"/><circle cx="117" cy="167.5"/><circle cx="54.1" cy="178.9"/><circle cx="115.3" cy="120.1"/><circle cx="136.5" cy="162.3"/><circle cx="120.1" cy="163"/><circle cx="106.4" cy="179"/><circle cx="126.2" cy="127.8"/><circle cx="115.7" cy="165.8"/><circle cx="146.3" cy="106.6"/><circle cx="65.1" cy="190"/><circle cx="130.9" cy="154.5"/><circle cx="103.7" cy="147.8"/><circle cx="79.4" cy="138.6"/><circle cx="55.1" cy="191.7"/><circle cx="124.5" cy="125"/><circle cx="133.8" cy="116.5"/><circle cx="89.6" cy="172.4"/><circle cx="124.7" cy="164.9"/><circle cx="112.5" cy="154.3"/><circle cx="47.2" cy="158"/><circle cx="82.3" cy="170.2"/><circle cx="119.1" cy="158.2"/><circle cx="47" cy="212.5"/><circle cx="73.5" cy="203.3"/><circle cx="86.5" cy="187.7"/><circle cx="130.5" cy="108.8"/><circle cx="106.4" cy="146.9"/><circle cx="92.4" cy="140.7"/><circle cx="45.6" cy="191.6"/><circle cx="119.4" cy="124.3"/><circle cx="130.8" cy="133.8"/><circle cx="106.4" cy="139"/><circle cx="85.4" cy="193.6"/><circle cx="54.4" cy="205.5"/><circle cx="135" cy="115.2"/><circle cx="96.7" cy="181.2"/><circle cx="106.1" cy="154.5"/><circle cx="105.5" cy="133"/><circle cx="79.3" cy="159.6"/><circle cx="129.9" cy="164.2"/><circle cx="111.2" cy="137.1"/><circle cx="88.1" cy="167.3"/><circle cx="72.1" cy="142.5"/><circle cx="123.9" cy="128.3"/><circle cx="75.3" cy="140.4"/><circle cx="143.5" cy="107"/><circle cx="63.2" cy="171.3"/><circle cx="65.7" cy="151.1"/><circle cx="110.9" cy="161.2"/><circle cx="139.2" cy="106"/><circle cx="51.2" cy="184"/><circle cx="134" cy="118.8"/><circle cx="116.5" cy="122.6"/><circle cx="54.9" cy="204.3"/><circle cx="98" cy="148.9"/><circle cx="96.3" cy="173.3"/><circle cx="132.4" cy="134.6"/><circle cx="77" cy="148.2"/><circle cx="51.3" cy="215.8"/><circle cx="116.2" cy="178.9"/><circle cx="114.1" cy="179.9"/><circle cx="62.4" cy="193.5"/><circle cx="146" cy="105.8"/><circle cx="69.5" cy="204.2"/><circle cx="73" cy="180.7"/><circle cx="137.8" cy="122.5"/><circle cx="93" cy="160.9"/><circle cx="129.5" cy="110.1"/><circle cx="54" cy="175.6"/><circle cx="63.7" cy="205.2"/><circle cx="98.2" cy="164.3"/><circle cx="96.1" cy="183.1"/><circle cx="54.7" cy="191"/><circle cx="111.7" cy="148.7"/><circle cx="66.1" cy="145.2"/><circle cx="47.9" cy="173.3"/><circle cx="131.4" cy="132.9"/><circle cx="110" cy="136.8"/><circle cx="76.7" cy="163.5"/><circle cx="57.6" cy="175.3"/><circle cx="74" cy="187.3"/><circle cx="82.5" cy="179.7"/><circle cx="48.2" cy="201"/><circle cx="121.5" cy="131.4"/><circle cx="97.7" cy="164.4"/><circle cx="136.4" cy="124.4"/><circle cx="128.3" cy="157.9"/><circle cx="51.1" cy="206.2"/><circle cx="98.6" cy="170.4"/><circle cx="123.1" cy="139.1"/><circle cx="133.3" cy="161.4"/><circle cx="116.5" cy="165"/><circle cx="86.8" cy="159"/><circle cx="49.9" cy="214.4"/><circle cx="118.5" cy="167.8"/><circle cx="64.9" cy="182.4"/><circle cx="131.8" cy="144.5"/><circle cx="126.5" cy="160.3"/><circle cx="91.9" cy="190.8"/><circle cx="94.4" cy="137.7"/><circle cx="65.4" cy="170.6"/><circle cx="105.4" cy="163.6"/><circle cx="117.6" cy="176.8"/><circle cx="92.2" cy="155"/><circle cx="132.5" cy="158.4"/><circle cx="133.7" cy="115.8"/><circle cx="121" cy="130.3"/><circle cx="77.9" cy="154.4"/><circle cx="46.1" cy="164.1"/><circle cx="125.6" cy="161.9"/><circle cx="57.8" cy="211"/><circle cx="100.9" cy="175.3"/><circle cx="50" cy="159.2"/><circle cx="142.7" cy="106.5"/><circle cx="49.5" cy="197"/><circle cx="50.3" cy="180.8"/><circle cx="142.8" cy="107.6"/><circle cx="143.6" cy="110.1"/><circle cx="113.9" cy="173.8"/><circle cx="106.5" cy="173.1"/><circle cx="125.2" cy="131.6"/><circle cx="142" cy="103.9"/><circle cx="46.8" cy="193.3"/><circle cx="56.9" cy="155.6"/><circle cx="149.5" cy="99.4"/><circle cx="78.7" cy="157.2"/><circle cx="59.1" cy="211.4"/><circle cx="71.8" cy="183"/><circle cx="88.9" cy="177.5"/><circle cx="56.3" cy="178.3"/><circle cx="125.7" cy="128"/><circle cx="89.8" cy="180.3"/><circle cx="70.3" cy="202.2"/><circle cx="61.9" cy="161.6"/><circle cx="118.7" cy="129.1"/><circle cx="60.3" cy="191.5"/><circle cx="96.3" cy="167.7"/><circle cx="58.4" cy="152.6"/><circle cx="80.4" cy="169.8"/><circle cx="68.9" cy="156.6"/><circle cx="86.6" cy="189.4"/><circle cx="61.9" cy="196.8"/></g>
<g fill="#FF7F50" fill-opacity="0.65"><circle cx="192.6" cy="51.9"/><circle cx="190.5" cy="39.5"/><circle cx="186.4" cy="37.4"/><circle cx="179.7" cy="35.6"/><circle cx="162.6" cy="35"/><circle cx="182.3" cy="47.8"/><circle cx="183" cy="36.2"/><circle cx="175.6" cy="33.7"/><circle cx="182.3" cy="47"/><circle cx="173.8" cy="43.7"/><circle cx="179.7" cy="46.8"/><circle cx="153.9" cy="48.5"/><circle cx="196.5" cy="44.3"/><circle cx="170.5" cy="38.2"/><circle cx="179.7" cy="38.3"/><circle cx="167.8" cy="42.3"/><circle cx="187.4" cy="43.2"/><circle cx="162.8" cy="36.9"/><circle cx="163.9" cy="59.6"/><circle cx="167.5" cy="44.9"/><circle cx="189.8" cy="53.4"/><circle cx="188.3" cy="44.1"/><circle cx="167.2" cy="38.9"/><circle cx="178.4" cy="43"/><circle cx="155.4" cy="55.5"/><circle cx="198.1" cy="39.9"/><circle cx="157.6" cy="53.4"/><circle cx="163.2" cy="45"/><circle cx="172.1" cy="51.1"/><circle cx="192.3" cy="44.9"/><circle cx="161.8" cy="56.1"/><circle cx="168.9" cy="33.9"/><circle cx="190" cy="55.6"/><circle cx="160.6" cy="44.9"/><circle cx="167.2" cy="42.5"/><circle cx="193.9" cy="46.1"/><circle cx="178.8" cy="44.7"/><circle cx="164.9" cy="42.7"/><circle cx="165.8" cy="51.4"/><circle cx="186" cy="38.7"/><circle cx="186.9" cy="34.6"/><circle cx="160.3" cy="43.7"/><circle cx="174.9" cy="50.9"/><circle cx="180.1" cy="36.1"/><circle cx="184.8" cy="48.2"/><circle cx="159.5" cy="31.3"/><circle cx="184.7" cy="33.7"/><circle cx="191.3" cy="54.7"/><circle cx="195.2" cy="41.8"/><circle cx="188.9" cy="39.5"/><circle cx="163.3" cy="46.2"/><circle cx="169.8" cy="47.5"/><circle cx="158.8" cy="39.9"/><circle cx="177.5" cy="44.5"/><circle cx="176.8" cy="51.3"/><circle cx="154.3" cy="54.5"/><circle cx="172.2" cy="44.7"/><circle cx="192.1" cy="41"/><circle cx="189.4" cy="53.3"/><circle cx="168.4" cy="42.2"/><circle cx="179.2" cy="36.8"/><circle cx="178.2" cy="45.4"/><circle cx="199.7" cy="33.3"/><circle cx="155.8" cy="42.8"/><circle cx="187" cy="66.2"/></g>
<g fill="#FF7F50" fill-opacity="0.65"><circle cx="177" cy="90.4"/><circle cx="176.9" cy="80.5"/><circle cx="179.8" cy="78.3"/><circle cx="188.5" cy="65.5"/><circle cx="173.2" cy="69"/><circle cx="187.7" cy="96.4"/><circle cx="198.8" cy="68.3"/><circle cx="200.4" cy="73.9"/><circle cx="181.3" cy="72.1"/><circle cx="186.7" cy="67.9"/><circle cx="184.7" cy="80"/><circle cx="170.2" cy="73.1"/><circle cx="181.5" cy="70.5"/><circle cx="183.8" cy="79.5"/><circle cx="189.1" cy="80.1"/><circle cx="185.9" cy="78.1"/><circle cx="183.6" cy="77.4"/><circle cx="184.1" cy="76.4"/><circle cx="181" cy="80.7"/><circle cx="194.7" cy="83"/><circle cx="203.8" cy="73.5"/><circle cx="177.7" cy="68"/><circle cx="166.2" cy="82.7"/><circle cx="187.3" cy="83.9"/><circle cx="186.1" cy="75.5"/><circle cx="170.7" cy="89.5"/><circle cx="180.1" cy="97.4"/><circle cx="193.8" cy="64.2"/><circle cx="192.6" cy="74.4"/><circle cx="189.4" cy="63"/><circle cx="189.5" cy="81.7"/><circle cx="170.8" cy="87.4"/><circle cx="200.1" cy="71.4"/><circle cx="176.8" cy="78.3"/><circle cx="193.9" cy="76.5"/></g>
<g fill="#FF7F50" fill-opacity="0.65"><circle cx="147.1" cy="70"/><circle cx="141.7" cy="75.9"/><circle cx="137.5" cy="81.9"/><circle cx="165.5" cy="63.8"/><circle cx="147.6" cy="75.1"/><circle cx="153.4" cy="69.5"/><circle cx="152.8" cy="65.7"/><circle cx="138.2" cy="74.8"/><circle cx="152.5" cy="67.3"/><circle cx="141.4" cy="78.9"/><circle cx="130.1" cy="79.8"/><circle cx="142.4" cy="89.7"/><circle cx="133.3" cy="89.1"/><circle cx="142.5" cy="72.9"/><circle cx="144.6" cy="89.2"/><circle cx="142.8" cy="77"/><circle cx="143.6" cy="74.3"/><circle cx="154.5" cy="72.8"/><circle cx="149" cy="68.8"/><circle cx="149.7" cy="71.6"/><circle cx="147.6" cy="74.8"/><circle cx="143.3" cy="67.4"/><circle cx="151.5" cy="59.7"/><circle cx="155.9" cy="66"/><circle cx="139.8" cy="85.2"/><circle cx="142.1" cy="77.3"/><circle cx="139.8" cy="81"/><circle cx="150.8" cy="70.7"/><circle cx="146" cy="64.2"/><circle cx="158" cy="64.3"/><circle cx="146.7" cy="71.2"/><circle cx="150.1" cy="71.3"/><circle cx="144.6" cy="73.6"/><circle cx="149.8" cy="83.7"/><circle cx="137.8" cy="86.2"/><circle cx="148.8" cy="76.7"/><circle cx="141.9" cy="83.9"/><circle cx="154.6" cy="57.6"/><circle cx="132.5" cy="93.3"/><circle cx="142.7" cy="74.9"/></g>
<g fill="#FF7F50" fill-opacity="0.65"><circle cx="138.5" cy="37.1"/><circle cx="138" cy="39.5"/><circle cx="138.3" cy="38.6"/></g>
<g fill="#FF7F50" fill-opacity="0.65"><circle cx="112.3" cy="96.3"/><circle cx="108.5" cy="91.9"/><circle cx="128.7" cy="95.3"/><circle cx="125.7" cy="81"/><circle cx="106.9" cy="99.2"/><circle cx="107.7" cy="102.9"/><circle cx="131.1" cy="78.9"/><circle cx="107" cy="84.3"/><circle cx="126.6" cy="88.1"/><circle cx="115.9" cy="86.7"/><circle cx="112.1" cy="92.2"/><circle cx="103.8" cy="104.4"/><circle cx="127.4" cy="97.1"/><circle cx="108.2" cy="124.4"/><circle cx="104.2" cy="99.6"/><circle cx="96.3" cy="101.6"/><circle cx="115.5" cy="87.4"/><circle cx="110.7" cy="87"/><circle cx="106.8" cy="87"/><circle cx="106.5" cy="79"/><circle cx="101.9" cy="96.6"/><circle cx="110" cy="107.2"/><circle cx="98.9" cy="96"/><circle cx="121.6" cy="81.1"/><circle cx="107.4" cy="82.2"/><circle cx="137.4" cy="86.8"/><circle cx="135.9" cy="80"/><circle cx="94.8" cy="108"/><circle cx="100.7" cy="103.4"/><circle cx="116.5" cy="97.4"/><circle cx="102.3" cy="101.7"/><circle cx="116.3" cy="104.4"/><circle cx="107.4" cy="114.3"/><circle cx="119.3" cy="94.1"/><circle cx="104.6" cy="102.2"/><circle cx="119.3" cy="81.8"/><circle cx="119.5" cy="92.9"/><circle cx="108.7" cy="89.6"/><circle cx="109.5" cy="102.4"/><circle cx="132.2" cy="84.5"/><circle cx="107.9" cy="103.4"/><circle cx="123.2" cy="95"/><circle cx="109.9" cy="74.4"/><circle cx="114" cy="93.1"/><circle cx="98.2" cy="103.3"/><circle cx="99.9" cy="99.1"/><circle cx="126.5" cy="81.3"/><circle cx="124.1" cy="86.9"/><circle cx="111.8" cy="78.8"/><circle cx="89.7" cy="104.5"/><circle cx="105.4" cy="100.1"/><circle cx="109.2" cy="99.4"/><circle cx="106.7" cy="101.1"/><circle cx="105.7" cy="102.8"/><circle cx="119.3" cy="77"/><circle cx="111.5" cy="91.8"/><circle cx="111.6" cy="111.5"/><circle cx="104.5" cy="97.7"/><circle cx="114.5" cy="74.1"/><circle cx="128.6" cy="90.6"/></g>
<g fill="#D89000" fill-opacity="0.65"><circle cx="110.1" cy="101.2"/><circle cx="103" cy="112.2"/><circle cx="130.5" cy="62.7"/><circle cx="117.1" cy="67.1"/><circle cx="114.9" cy="76.8"/><circle cx="118.3" cy="77.9"/><circle cx="125.5" cy="92.8"/><circle cx="130.5" cy="72"/><circle cx="108.6" cy="86.8"/><circle cx="105.2" cy="92"/><circle cx="101.1" cy="93.4"/><circle cx="120.8" cy="93.6"/><circle cx="116.5" cy="64.5"/><circle cx="128.4" cy="98.4"/><circle cx="121.4" cy="75.4"/><circle cx="119.1" cy="81.2"/><circle cx="94.9" cy="116.3"/><circle cx="121.4" cy="87.1"/><circle cx="119.6" cy="82.5"/><circle cx="99.1" cy="117.7"/><circle cx="108.5" cy="86.7"/><circle cx="117.3" cy="62.7"/><circle cx="109.6" cy="97.4"/><circle cx="109.5" cy="59.5"/><circle cx="113.9" cy="97.9"/><circle cx="97.8" cy="128.9"/><circle cx="114" cy="87.2"/><circle cx="117.1" cy="97.1"/><circle cx="114.9" cy="84.9"/><circle cx="116" cy="69.7"/><circle cx="133.9" cy="49.2"/><circle cx="110.3" cy="79.7"/><circle cx="113.4" cy="85.8"/><circle cx="123.3" cy="77.9"/><circle cx="109.1" cy="117"/><circle cx="101.1" cy="96.8"/><circle cx="108.1" cy="103.9"/><circle cx="112.2" cy="103.6"/><circle cx="104.1" cy="98.3"/><circle cx="118.3" cy="83.2"/><circle cx="115.4" cy="65.3"/><circle cx="117.5" cy="80.2"/><circle cx="132.6" cy="59.4"/><circle cx="95.9" cy="127"/><circle cx="133.2" cy="68.5"/><circle cx="91.1" cy="95.5"/><circle cx="115.3" cy="91.1"/><circle cx="122.9" cy="94.6"/><circle cx="119" cy="80.3"/><circle cx="126.9" cy="96.6"/><circle cx="116.1" cy="80"/><circle cx="120.7" cy="83.2"/><circle cx="111.8" cy="89.7"/><circle cx="124.8" cy="97.3"/><circle cx="123.2" cy="84.7"/><circle cx="108.4" cy="70.8"/><circle cx="109.9" cy="96.2"/><circle cx="102.7" cy="100.9"/><circle cx="103.3" cy="98.4"/><circle cx="116.6" cy="93.7"/><circle cx="112.4" cy="96.6"/><circle cx="101.5" cy="97.5"/><circle cx="107.6" cy="92.4"/><circle cx="112" cy="90.2"/><circle cx="104" cy="88.8"/><circle cx="92.7" cy="100.3"/><circle cx="115.7" cy="110.1"/><circle cx="106.8" cy="86.6"/><circle cx="113" cy="92.8"/><circle cx="120.1" cy="74.9"/><circle cx="108.8" cy="96"/><circle cx="116.6" cy="68.7"/><circle cx="117.5" cy="105.8"/><circle cx="93" cy="98"/><circle cx="108.8" cy="77.3"/><circle cx="97.6" cy="121.1"/><circle cx="114.1" cy="91.8"/><circle cx="122.6" cy="64.2"/><circle cx="125.5" cy="69.2"/><circle cx="123.7" cy="78.6"/><circle cx="127" cy="83.5"/><circle cx="111.9" cy="101.1"/><circle cx="105.4" cy="101.8"/><circle cx="97.2" cy="98"/><circle cx="133" cy="83"/><circle cx="101.6" cy="113.7"/><circle cx="108.8" cy="95.9"/><circle cx="108.2" cy="99.2"/><circle cx="106.5" cy="110.6"/><circle cx="108.9" cy="82.9"/><circle cx="107.8" cy="74.1"/><circle cx="119.6" cy="96.5"/><circle cx="127.1" cy="82.6"/><circle cx="110.6" cy="106.4"/><circle cx="127.9" cy="67.5"/><circle cx="98.7" cy="92.6"/><circle cx="112.2" cy="102.5"/><circle cx="124.1" cy="83.4"/><circle cx="124.7" cy="74.7"/><circle cx="111.1" cy="60.7"/><circle cx="106.7" cy="89.5"/><circle cx="125.1" cy="76.6"/><circle cx="108.4" cy="92.9"/><circle cx="108.4" cy="66"/><circle cx="105.1" cy="91.9"/><circle cx="110.1" cy="81.4"/><circle cx="107.3" cy="99.6"/><circle cx="96.3" cy="97.4"/><circle cx="105.8" cy="90.1"/><circle cx="112.7" cy="96.5"/><circle cx="110.1" cy="75.1"/><circle cx="93.9" cy="104.9"/><circle cx="113.3" cy="77.9"/><circle cx="109.8" cy="79.3"/><circle cx="127.5" cy="97.8"/><circle cx="124.5" cy="63.1"/><circle cx="119.7" cy="86.3"/><circle cx="113" cy="85.5"/><circle cx="109.3" cy="82.8"/><circle cx="104.8" cy="83.7"/></g>
<g fill="#D89000" fill-opacity="0.65"><circle cx="160.4" cy="74.2"/><circle cx="153.2" cy="85.5"/><circle cx="151.5" cy="75.5"/><circle cx="153.4" cy="84"/><circle cx="153.9" cy="78.5"/><circle cx="149.5" cy="88.4"/><circle cx="156.2" cy="77.1"/><circle cx="149.5" cy="86"/><circle cx="156.1" cy="76.5"/><circle cx="154.6" cy="82"/><circle cx="160" cy="76.8"/><circle cx="148.8" cy="86.2"/></g>
<g fill="#00C08B" fill-opacity="0.65"><circle cx="138.6" cy="74.8"/><circle cx="133.9" cy="49.5"/><circle cx="133.5" cy="48.9"/><circle cx="139.4" cy="57.4"/><circle cx="135.6" cy="58.9"/><circle cx="136.8" cy="57.2"/><circle cx="139.3" cy="63.2"/><circle cx="136.3" cy="65.4"/><circle cx="139" cy="56.5"/><circle cx="136.1" cy="55.8"/><circle cx="135.2" cy="45.5"/><circle cx="139.3" cy="66.2"/></g>
<g fill="#C77CFF" fill-opacity="0.65"><circle cx="180.1" cy="62.8"/><circle cx="164.3" cy="83.6"/><circle cx="148.4" cy="94.6"/><circle cx="170.6" cy="90.5"/><circle cx="155.6" cy="98.2"/><circle cx="170.1" cy="92.1"/><circle cx="191.2" cy="73.3"/><circle cx="160" cy="96.3"/></g>
<g fill="#7CAE00" fill-opacity="0.65"><circle cx="88" cy="87.8"/><circle cx="84.6" cy="91.5"/><circle cx="78" cy="95.9"/><circle cx="84.2" cy="106.1"/><circle cx="80.8" cy="81.6"/><circle cx="84.1" cy="110.4"/><circle cx="77.5" cy="94.8"/><circle cx="82.5" cy="97.6"/><circle cx="87.1" cy="96.5"/><circle cx="75.7" cy="82.6"/><circle cx="79.7" cy="105.7"/><circle cx="74.9" cy="105.8"/><circle cx="78.6" cy="107.8"/><circle cx="88.9" cy="104.2"/><circle cx="75.5" cy="109.4"/><circle cx="82.2" cy="100.5"/><circle cx="83.3" cy="106.2"/><circle cx="88" cy="88.3"/></g>
<g fill="#39B600" fill-opacity="0.65"><circle cx="89.9" cy="109.5"/><circle cx="90.3" cy="107.4"/><circle cx="88.2" cy="113.8"/><circle cx="90.3" cy="106.2"/><circle cx="90.8" cy="105.1"/><circle cx="80.3" cy="103.2"/><circle cx="79.8" cy="116.5"/><circle cx="89" cy="97.1"/><circle cx="84.2" cy="109.6"/><circle cx="85.9" cy="104.9"/><circle cx="82.3" cy="113.1"/><circle cx="84.7" cy="102.7"/></g>
<g fill="#00C1A3" fill-opacity="0.65"><circle cx="171.6" cy="109.5"/><circle cx="164.8" cy="125.7"/><circle cx="165.4" cy="143.1"/><circle cx="149.8" cy="112.8"/><circle cx="188.4" cy="113"/><circle cx="165.9" cy="127.3"/><circle cx="165.7" cy="108.1"/><circle cx="187.9" cy="112.2"/><circle cx="170.7" cy="118.1"/><circle cx="167.5" cy="108.7"/><circle cx="155.2" cy="104.4"/><circle cx="179.7" cy="114.4"/><circle cx="165.4" cy="103.2"/><circle cx="150.6" cy="118.3"/><circle cx="172.3" cy="114.1"/><circle cx="166.9" cy="108.6"/><circle cx="178.2" cy="116.9"/><circle cx="184.8" cy="117.3"/><circle cx="155" cy="114.6"/><circle cx="165.8" cy="128.9"/><circle cx="168.8" cy="116.7"/><circle cx="186.4" cy="120.3"/><circle cx="176.4" cy="97.1"/><circle cx="165.7" cy="137.6"/><circle cx="176.8" cy="127.1"/><circle cx="191.9" cy="117.8"/><circle cx="142.7" cy="128.3"/><circle cx="165.6" cy="109.1"/><circle cx="181.3" cy="105.8"/><circle cx="184.7" cy="116.6"/><circle cx="161.6" cy="110.6"/><circle cx="192" cy="107.8"/><circle cx="172.7" cy="115.4"/><circle cx="157.2" cy="117.1"/><circle cx="165.6" cy="100.9"/><circle cx="158.5" cy="110.9"/><circle cx="172.2" cy="117.2"/><circle cx="152.3" cy="115.6"/><circle cx="169.3" cy="108.5"/><circle cx="146" cy="132.2"/><circle cx="168" cy="113.7"/><circle cx="162" cy="122.2"/><circle cx="162.6" cy="119.1"/><circle cx="182.4" cy="126.7"/><circle cx="189.5" cy="100.6"/><circle cx="167.5" cy="104.4"/><circle cx="154.2" cy="107.3"/><circle cx="162.9" cy="114.1"/><circle cx="155.4" cy="119.8"/><circle cx="174.6" cy="109.9"/><circle cx="157.2" cy="127.9"/><circle cx="165" cy="120.1"/><circle cx="154.3" cy="126.7"/><circle cx="178.7" cy="103.4"/><circle cx="154" cy="117.1"/><circle cx="175.6" cy="122.2"/><circle cx="182.5" cy="103.5"/><circle cx="142.7" cy="115.6"/><circle cx="168.8" cy="121.1"/><circle cx="150.4" cy="121.7"/><circle cx="163.3" cy="122.9"/><circle cx="156.4" cy="118.6"/><circle cx="163.6" cy="120.8"/><circle cx="168" cy="120.8"/><circle cx="170.5" cy="124.4"/><circle cx="155.5" cy="154.8"/><circle cx="186" cy="97.9"/><circle cx="176.3" cy="109.6"/><circle cx="157.6" cy="132.1"/><circle cx="137.8" cy="118.2"/><circle cx="174.5" cy="98.3"/><circle cx="179.5" cy="108.9"/><circle cx="167.9" cy="131.7"/><circle cx="169.2" cy="126.8"/><circle cx="185.8" cy="106.1"/><circle cx="162.8" cy="132.1"/><circle cx="176" cy="129.6"/><circle cx="156.5" cy="119.7"/><circle cx="174" cy="102.1"/><circle cx="155.5" cy="105.9"/><circle cx="164.3" cy="119"/><circle cx="189.6" cy="136.5"/><circle cx="166" cy="116.1"/><circle cx="171.7" cy="119.7"/><circle cx="167.2" cy="131.8"/><circle cx="183.2" cy="106.7"/><circle cx="138.6" cy="125.9"/><circle cx="186.9" cy="127"/><circle cx="162.1" cy="113"/><circle cx="168.9" cy="110.6"/><circle cx="155.9" cy="114.6"/><circle cx="191.9" cy="124.5"/><circle cx="172.2" cy="124.7"/><circle cx="161.3" cy="113"/><circle cx="177.1" cy="119"/><circle cx="151.1" cy="134.7"/><circle cx="139.8" cy="119.2"/><circle cx="183.6" cy="126.7"/><circle cx="164.7" cy="116.6"/><circle cx="173.7" cy="116.2"/><circle cx="154.1" cy="118.3"/><circle cx="163.5" cy="128.1"/><circle cx="165.1" cy="119.1"/><circle cx="167.7" cy="114"/><circle cx="182.1" cy="108.1"/><circle cx="174.5" cy="127.5"/><circle cx="166" cy="128.8"/><circle cx="161.9" cy="122.1"/><circle cx="149.9" cy="132.5"/><circle cx="183.3" cy="112.2"/><circle cx="147.4" cy="120"/><circle cx="168.2" cy="129.6"/><circle cx="138" cy="128.7"/><circle cx="169.6" cy="101.7"/><circle cx="176.8" cy="96.8"/><circle cx="175.5" cy="124.6"/><circle cx="156" cy="109.9"/><circle cx="155.5" cy="116.1"/><circle cx="174.4" cy="121.6"/><circle cx="162.6" cy="124.2"/><circle cx="154.1" cy="120"/><circle cx="145.2" cy="138"/><circle cx="151.4" cy="113.1"/><circle cx="189.8" cy="120.2"/><circle cx="154.4" cy="130.3"/><circle cx="171.9" cy="106.5"/><circle cx="160.2" cy="136.7"/><circle cx="161.2" cy="110.9"/><circle cx="146.2" cy="115.3"/><circle cx="145.9" cy="116.6"/><circle cx="161.7" cy="123.6"/><circle cx="148.8" cy="129.6"/><circle cx="159.8" cy="133.7"/><circle cx="160.5" cy="119.3"/><circle cx="143" cy="106.1"/><circle cx="174.9" cy="135.5"/><circle cx="146.1" cy="120.7"/><circle cx="165.3" cy="118.2"/><circle cx="176.6" cy="120.6"/><circle cx="177.8" cy="88.3"/><circle cx="147.4" cy="145"/><circle cx="184.1" cy="95"/><circle cx="161.2" cy="123.4"/><circle cx="157.3" cy="115.4"/><circle cx="147.5" cy="112.3"/><circle cx="169.4" cy="115.6"/><circle cx="175.9" cy="106.8"/><circle cx="172.4" cy="114.8"/><circle cx="176.6" cy="104.4"/><circle cx="165.5" cy="129.2"/><circle cx="174.9" cy="105.8"/><circle cx="142.1" cy="130.5"/><circle cx="172.9" cy="109.6"/><circle cx="154.9" cy="120.2"/><circle cx="171.1" cy="122.3"/><circle cx="174" cy="119.1"/><circle cx="159.3" cy="123.2"/><circle cx="167.1" cy="112.9"/><circle cx="170.1" cy="141.8"/><circle cx="160.5" cy="116.5"/><circle cx="169" cy="115"/><circle cx="165.6" cy="122.9"/><circle cx="155.6" cy="126.6"/><circle cx="181.1" cy="107.2"/><circle cx="148.6" cy="127.4"/><circle cx="169.7" cy="119.6"/><circle cx="157.9" cy="105.8"/><circle cx="172.3" cy="97.7"/><circle cx="179.5" cy="121.2"/><circle cx="169.7" cy="123.7"/><circle cx="171.8" cy="118.3"/><circle cx="167.7" cy="110.3"/><circle cx="165.5" cy="117.4"/><circle cx="160.2" cy="118.9"/><circle cx="152.3" cy="125.7"/><circle cx="166.8" cy="95.6"/><circle cx="163.8" cy="107.8"/><circle cx="166.2" cy="134.2"/><circle cx="156.7" cy="122.4"/><circle cx="155" cy="117.1"/><circle cx="177.3" cy="118.2"/><circle cx="167.1" cy="126.6"/><circle cx="181.8" cy="133.5"/><circle cx="143.8" cy="108.9"/><circle cx="151.7" cy="114"/><circle cx="179.8" cy="114.2"/><circle cx="160" cy="116.3"/><circle cx="154.9" cy="129.9"/><circle cx="171.4" cy="114.9"/><circle cx="144.7" cy="117.6"/><circle cx="148.9" cy="116.8"/><circle cx="176.2" cy="105.9"/><circle cx="176.3" cy="104.9"/><circle cx="192" cy="108"/><circle cx="160.9" cy="126.8"/><circle cx="179" cy="103.7"/><circle cx="152.8" cy="109.8"/><circle cx="175.5" cy="108.2"/><circle cx="161.3" cy="122.1"/><circle cx="156.8" cy="124.2"/><circle cx="173.3" cy="108.6"/><circle cx="156.2" cy="132.1"/><circle cx="146" cy="125.5"/><circle cx="190.5" cy="105"/><circle cx="152.8" cy="127.7"/><circle cx="167.8" cy="108.1"/><circle cx="174.4" cy="113.4"/><circle cx="185.9" cy="118.7"/><circle cx="156.3" cy="127.3"/><circle cx="172.9" cy="113.4"/><circle cx="153.8" cy="128.6"/><circle cx="170.8" cy="107.5"/><circle cx="165.8" cy="120.3"/><circle cx="180.3" cy="129.3"/><circle cx="185.4" cy="106.9"/><circle cx="181.2" cy="102.2"/><circle cx="166.1" cy="122.7"/><circle cx="164.4" cy="112.2"/><circle cx="168.3" cy="131.4"/><circle cx="175.6" cy="106.4"/><circle cx="186.4" cy="108.7"/><circle cx="168.3" cy="119"/><circle cx="169.5" cy="107.5"/><circle cx="161.9" cy="116.6"/><circle cx="178.6" cy="95.6"/><circle cx="178.8" cy="128.2"/><circle cx="152.7" cy="121.4"/><circle cx="161.4" cy="106.1"/><circle cx="185.4" cy="116.4"/><circle cx="188" cy="125.2"/><circle cx="183.1" cy="112.1"/><circle cx="178" cy="118.7"/><circle cx="166.6" cy="124.2"/><circle cx="161.6" cy="117.9"/><circle cx="175.1" cy="124"/><circle cx="172.5" cy="107.5"/><circle cx="171.9" cy="136.9"/><circle cx="169.2" cy="124.4"/><circle cx="152.7" cy="125.3"/><circle cx="173.6" cy="109.2"/><circle cx="168.7" cy="115.4"/><circle cx="177" cy="116.1"/><circle cx="148.8" cy="129.2"/><circle cx="149.7" cy="111.7"/><circle cx="161.1" cy="109.3"/><circle cx="154.5" cy="123"/><circle cx="180.9" cy="111.2"/><circle cx="171.6" cy="123.7"/><circle cx="175.8" cy="112.1"/><circle cx="153.1" cy="110.9"/><circle cx="192.7" cy="116.8"/><circle cx="172.3" cy="124.1"/><circle cx="158.3" cy="115.9"/><circle cx="169.1" cy="103.4"/><circle cx="156" cy="123.2"/><circle cx="162.6" cy="102"/><circle cx="157.6" cy="123.6"/><circle cx="164.4" cy="131.5"/><circle cx="190.3" cy="102.6"/><circle cx="177.2" cy="113.5"/><circle cx="158.9" cy="127.5"/><circle cx="181.3" cy="95.7"/><circle cx="147.5" cy="134.7"/><circle cx="179.1" cy="123"/><circle cx="180.1" cy="106.9"/><circle cx="157.4" cy="112"/><circle cx="176.3" cy="123.1"/><circle cx="145.3" cy="108.1"/><circle cx="174.5" cy="105.1"/><circle cx="173.5" cy="105.5"/><circle cx="155.6" cy="109.7"/><circle cx="171.9" cy="121.6"/><circle cx="159.1" cy="115.8"/><circle cx="162.9" cy="121.5"/><circle cx="167.5" cy="118.3"/><circle cx="160.3" cy="118.8"/><circle cx="167" cy="116"/><circle cx="171.3" cy="103.7"/><circle cx="176.5" cy="127"/><circle cx="169.8" cy="99.9"/></g>
<g fill="#C77CFF" fill-opacity="0.6"><circle cx="128.5" cy="102.1"/><circle cx="107.9" cy="117.8"/><circle cx="106.7" cy="113.1"/><circle cx="120.2" cy="119.1"/><circle cx="124.8" cy="110.7"/><circle cx="113.5" cy="118.4"/><circle cx="116.7" cy="117.5"/><circle cx="96.8" cy="151.6"/><circle cx="108.4" cy="119.2"/><circle cx="83.1" cy="130.4"/><circle cx="105.3" cy="110.1"/><circle cx="112.1" cy="96.7"/><circle cx="72.5" cy="139.6"/><circle cx="66.1" cy="151.7"/><circle cx="120.2" cy="118.4"/><circle cx="73.9" cy="141.4"/><circle cx="85.8" cy="139.1"/><circle cx="122.6" cy="89.3"/><circle cx="91" cy="108.9"/><circle cx="136.6" cy="113.9"/><circle cx="81.8" cy="130.3"/><circle cx="120.6" cy="115"/><circle cx="85.4" cy="133.8"/><circle cx="95.4" cy="112"/><circle cx="101.6" cy="122"/><circle cx="127.1" cy="109.3"/><circle cx="98.6" cy="129.5"/><circle cx="112.9" cy="114"/><circle cx="114.7" cy="124.7"/><circle cx="107.6" cy="129.7"/><circle cx="104.6" cy="113.5"/><circle cx="81.7" cy="116.9"/><circle cx="107.3" cy="120"/><circle cx="90.1" cy="114.5"/><circle cx="127.3" cy="96"/><circle cx="106.3" cy="115.6"/><circle cx="91.9" cy="127.1"/><circle cx="108.2" cy="120.3"/><circle cx="123.8" cy="103.1"/><circle cx="115" cy="92.4"/><circle cx="111.1" cy="105"/><circle cx="107.5" cy="103.4"/><circle cx="132.7" cy="94.7"/><circle cx="93.3" cy="133.6"/><circle cx="142.8" cy="96.5"/><circle cx="96.1" cy="118.3"/><circle cx="70.6" cy="118"/><circle cx="97.1" cy="130.4"/><circle cx="116.1" cy="111.7"/><circle cx="103.7" cy="135.6"/></g>
<g fill="#9590FF" fill-opacity="0.65"><circle cx="202.5" cy="137"/><circle cx="208.7" cy="141"/><circle cx="205.6" cy="145"/><circle cx="205.6" cy="148.5"/><circle cx="203.8" cy="155.5"/><circle cx="199" cy="158.3"/><circle cx="194" cy="162"/><circle cx="182" cy="167"/><circle cx="189.4" cy="93.8"/><circle cx="194.6" cy="98.6"/><circle cx="175" cy="166"/><circle cx="168" cy="172"/><circle cx="160" cy="176"/><circle cx="186" cy="150"/></g>
<g fill="#FF62BC" fill-opacity="0.65"><circle cx="99.4" cy="125.9"/><circle cx="55.8" cy="158.9"/><circle cx="127.9" cy="143.7"/><circle cx="90.5" cy="159.5"/><circle cx="104" cy="148.6"/><circle cx="112.6" cy="152.4"/><circle cx="100" cy="132.2"/><circle cx="105.4" cy="124.7"/><circle cx="107.1" cy="137.9"/><circle cx="64" cy="203.1"/><circle cx="85.6" cy="169.9"/><circle cx="78.2" cy="156"/><circle cx="125.5" cy="115.6"/><circle cx="98.6" cy="172.3"/><circle cx="82.7" cy="162.9"/><circle cx="91.2" cy="141.2"/><circle cx="81.3" cy="155.6"/><circle cx="97.3" cy="140"/><circle cx="109" cy="141"/><circle cx="103.8" cy="158.8"/><circle cx="100.6" cy="143.4"/><circle cx="67.5" cy="152.2"/><circle cx="62.4" cy="161.2"/><circle cx="104.5" cy="161"/><circle cx="96.6" cy="116.6"/><circle cx="107.5" cy="153.3"/><circle cx="69.5" cy="163.1"/><circle cx="57.7" cy="139.2"/><circle cx="97.2" cy="156"/><circle cx="116.1" cy="148.9"/><circle cx="87.9" cy="158.1"/><circle cx="109.1" cy="128.6"/><circle cx="97.1" cy="162.7"/><circle cx="124.3" cy="120.7"/><circle cx="101.9" cy="137.5"/><circle cx="110.2" cy="159"/><circle cx="83.3" cy="155.4"/><circle cx="100.5" cy="153.6"/><circle cx="110.5" cy="147.5"/><circle cx="97.8" cy="162.9"/><circle cx="70.4" cy="148.9"/><circle cx="87.6" cy="157.2"/><circle cx="81.7" cy="137.1"/><circle cx="82.9" cy="138.2"/><circle cx="102.5" cy="161.7"/><circle cx="109.1" cy="154.9"/><circle cx="113.4" cy="138.3"/><circle cx="48.6" cy="142.7"/><circle cx="78.3" cy="164.3"/><circle cx="107.8" cy="149.9"/><circle cx="123.4" cy="129.1"/><circle cx="93.5" cy="154.1"/><circle cx="93.5" cy="140"/><circle cx="53.4" cy="164.8"/><circle cx="113.7" cy="108"/><circle cx="96.3" cy="158.7"/><circle cx="113.7" cy="152.4"/><circle cx="87.6" cy="161.5"/><circle cx="116.5" cy="153.5"/><circle cx="84.8" cy="157.2"/><circle cx="101.8" cy="139.2"/><circle cx="77.4" cy="166.9"/><circle cx="68.6" cy="174.2"/><circle cx="61.9" cy="158.9"/><circle cx="95.7" cy="140.6"/><circle cx="127.9" cy="131.5"/><circle cx="97.5" cy="135.8"/><circle cx="53" cy="170"/><circle cx="83.3" cy="174.1"/><circle cx="119.2" cy="123.7"/><circle cx="57.2" cy="158.9"/><circle cx="114.8" cy="134.6"/><circle cx="84.5" cy="159.6"/><circle cx="95.4" cy="167"/><circle cx="89.8" cy="133.1"/><circle cx="107.1" cy="146.6"/><circle cx="106.8" cy="141.5"/><circle cx="144.2" cy="107.2"/><circle cx="67.7" cy="142.2"/><circle cx="127" cy="109.4"/><circle cx="87" cy="122.5"/><circle cx="114.1" cy="135.2"/><circle cx="60.3" cy="178.1"/><circle cx="86.3" cy="135.4"/><circle cx="105" cy="144.9"/><circle cx="102.6" cy="155.3"/><circle cx="64.4" cy="196.4"/><circle cx="44.4" cy="187.8"/><circle cx="81" cy="173.5"/><circle cx="92.1" cy="133.5"/><circle cx="81.7" cy="115.2"/><circle cx="70.5" cy="183.1"/><circle cx="73.1" cy="160.5"/><circle cx="108.1" cy="141.7"/><circle cx="90.7" cy="140.3"/><circle cx="111.1" cy="116.9"/><circle cx="107.1" cy="140.5"/><circle cx="136.3" cy="117.1"/><circle cx="70.1" cy="155"/><circle cx="99.1" cy="163.9"/><circle cx="74.2" cy="160.1"/><circle cx="93.1" cy="149.2"/><circle cx="112.2" cy="113.7"/><circle cx="99.7" cy="139"/><circle cx="94.4" cy="161.7"/><circle cx="70.6" cy="136.6"/><circle cx="135.4" cy="159.4"/><circle cx="106.4" cy="131.6"/><circle cx="112.6" cy="123.8"/><circle cx="54.4" cy="181.1"/><circle cx="86.2" cy="132.2"/><circle cx="95.4" cy="170.3"/><circle cx="107.9" cy="142"/><circle cx="104.8" cy="167.4"/><circle cx="101.9" cy="134.6"/><circle cx="92.1" cy="168.3"/><circle cx="75.6" cy="124.5"/><circle cx="87.7" cy="175.2"/><circle cx="81.7" cy="162.3"/><circle cx="73.1" cy="150.7"/><circle cx="68.6" cy="141.9"/><circle cx="94.7" cy="178.8"/><circle cx="94.9" cy="144.4"/><circle cx="95.2" cy="132.8"/><circle cx="126.2" cy="129.8"/><circle cx="101" cy="115.1"/><circle cx="105.4" cy="164.8"/><circle cx="106.4" cy="137.3"/><circle cx="71.2" cy="151"/><circle cx="131.2" cy="126.3"/><circle cx="93.4" cy="176.9"/><circle cx="65.1" cy="120.6"/><circle cx="84.6" cy="149.2"/><circle cx="92.4" cy="174.6"/><circle cx="83.2" cy="155.4"/><circle cx="101.4" cy="146.5"/><circle cx="71.5" cy="175.7"/><circle cx="125.6" cy="105.5"/><circle cx="80.5" cy="138.5"/><circle cx="80" cy="128.3"/><circle cx="106" cy="142.6"/><circle cx="96.4" cy="179.7"/><circle cx="75.4" cy="135.7"/><circle cx="112.3" cy="131.2"/><circle cx="110.7" cy="121.5"/><circle cx="46.9" cy="200.5"/><circle cx="127.8" cy="147.3"/><circle cx="102.1" cy="140.6"/><circle cx="117.2" cy="123.3"/><circle cx="75.8" cy="151"/><circle cx="98.6" cy="137.4"/><circle cx="72.2" cy="159"/><circle cx="80.1" cy="150.8"/><circle cx="92.8" cy="148.8"/><circle cx="72.5" cy="140.3"/><circle cx="111" cy="155"/><circle cx="51" cy="177.8"/><circle cx="131.8" cy="133.5"/><circle cx="102.4" cy="129.1"/><circle cx="133" cy="133.2"/><circle cx="112.7" cy="148.4"/><circle cx="103.1" cy="170"/><circle cx="81.1" cy="169.8"/><circle cx="98.1" cy="139.5"/><circle cx="115.6" cy="143.3"/><circle cx="85.3" cy="141.8"/><circle cx="125.7" cy="127.4"/><circle cx="67.4" cy="152.7"/><circle cx="131.3" cy="144.6"/><circle cx="62" cy="146.7"/><circle cx="69.6" cy="191"/><circle cx="57.5" cy="177.2"/><circle cx="131.3" cy="135.2"/><circle cx="111.8" cy="137.6"/><circle cx="101.8" cy="146.2"/><circle cx="64.8" cy="185.3"/><circle cx="104.5" cy="171"/><circle cx="103.1" cy="132.9"/><circle cx="123.9" cy="122.7"/><circle cx="75.1" cy="165.2"/><circle cx="120.5" cy="169.1"/><circle cx="104.3" cy="134"/><circle cx="110.7" cy="146.4"/><circle cx="77.8" cy="165.9"/><circle cx="137.7" cy="120.7"/><circle cx="123.9" cy="171"/><circle cx="81" cy="128.2"/><circle cx="97" cy="157.5"/><circle cx="87.9" cy="166.3"/><circle cx="96.7" cy="140.3"/><circle cx="112.7" cy="133.8"/><circle cx="56.5" cy="165.1"/><circle cx="115.1" cy="173.7"/><circle cx="95.4" cy="144.7"/><circle cx="70.6" cy="185.4"/><circle cx="81.6" cy="146.4"/><circle cx="132.1" cy="116.2"/><circle cx="98.7" cy="153.8"/><circle cx="126.8" cy="121.3"/><circle cx="92.8" cy="152"/><circle cx="129.2" cy="115.8"/><circle cx="112.1" cy="145.3"/><circle cx="61.9" cy="159.4"/><circle cx="111.5" cy="149.3"/><circle cx="71.8" cy="171.9"/><circle cx="104.7" cy="166.4"/><circle cx="95.8" cy="119.9"/><circle cx="118.4" cy="120.4"/><circle cx="97.6" cy="122.1"/><circle cx="126.2" cy="152.6"/><circle cx="87.5" cy="138.1"/><circle cx="104" cy="128.8"/><circle cx="129.8" cy="106.5"/><circle cx="56.2" cy="178.7"/><circle cx="97.4" cy="159.5"/><circle cx="103.7" cy="139.4"/><circle cx="79.3" cy="127.8"/><circle cx="77" cy="156.3"/><circle cx="122.4" cy="142.1"/><circle cx="73.3" cy="168.7"/><circle cx="103" cy="159.9"/><circle cx="98.6" cy="157.3"/><circle cx="69.6" cy="189.8"/><circle cx="119.6" cy="123.3"/><circle cx="81.2" cy="131.9"/><circle cx="72.2" cy="147.7"/><circle cx="85.4" cy="136.9"/><circle cx="89.8" cy="162.7"/><circle cx="63.2" cy="179.2"/><circle cx="109" cy="117.5"/><circle cx="89.4" cy="142.7"/><circle cx="88.4" cy="159.3"/><circle cx="68.7" cy="158.7"/><circle cx="141.2" cy="99.9"/><circle cx="123.1" cy="133"/><circle cx="113.1" cy="128.1"/><circle cx="114.2" cy="133.6"/><circle cx="96.3" cy="117.7"/><circle cx="45.4" cy="192.6"/><circle cx="127.9" cy="129.9"/><circle cx="105.7" cy="151"/><circle cx="89.9" cy="118.7"/><circle cx="123.9" cy="110.1"/><circle cx="67.8" cy="163.4"/><circle cx="134.9" cy="148.4"/><circle cx="124.3" cy="131.2"/><circle cx="97.8" cy="130"/><circle cx="106.9" cy="134.8"/><circle cx="112.9" cy="146.4"/><circle cx="93.9" cy="160.3"/><circle cx="54.1" cy="164.8"/><circle cx="87" cy="153.2"/><circle cx="100.1" cy="137"/><circle cx="134.4" cy="135.4"/><circle cx="102.2" cy="136.6"/><circle cx="112.5" cy="135.7"/><circle cx="126.6" cy="144.2"/><circle cx="59.9" cy="175.1"/><circle cx="75.8" cy="158.9"/><circle cx="113.6" cy="165"/><circle cx="108.4" cy="135.7"/><circle cx="118.6" cy="135.8"/><circle cx="102.2" cy="137.7"/><circle cx="106.3" cy="166.2"/><circle cx="133.3" cy="118.2"/><circle cx="102.8" cy="167.1"/><circle cx="91.3" cy="161.3"/><circle cx="88.4" cy="138.4"/><circle cx="91.8" cy="152"/><circle cx="88.1" cy="154.2"/><circle cx="68.7" cy="154.4"/><circle cx="60.9" cy="204.3"/><circle cx="126.8" cy="133.1"/><circle cx="83.2" cy="154"/><circle cx="82.1" cy="158.9"/><circle cx="73.5" cy="150.4"/><circle cx="124.3" cy="118.5"/><circle cx="110.2" cy="116.7"/><circle cx="98.2" cy="168.2"/><circle cx="81.9" cy="170.2"/><circle cx="83.8" cy="156.3"/><circle cx="104.2" cy="110.5"/><circle cx="105.8" cy="124.7"/><circle cx="73.2" cy="161.6"/><circle cx="98.8" cy="166.1"/><circle cx="85.2" cy="133"/><circle cx="104.5" cy="128.6"/><circle cx="108.4" cy="155.4"/><circle cx="109.9" cy="144.1"/><circle cx="109.2" cy="119.3"/><circle cx="113.5" cy="166.8"/><circle cx="72.8" cy="161.7"/><circle cx="75.7" cy="149.4"/><circle cx="86.6" cy="146"/><circle cx="117.7" cy="95.2"/><circle cx="57.6" cy="174.6"/><circle cx="100.8" cy="118.4"/><circle cx="106.2" cy="151.4"/><circle cx="81.4" cy="195.9"/><circle cx="98.3" cy="162.1"/><circle cx="114.6" cy="141.2"/><circle cx="111.3" cy="136"/><circle cx="67.7" cy="147.5"/><circle cx="113.9" cy="171.6"/><circle cx="68.1" cy="191.6"/><circle cx="113.1" cy="148.6"/><circle cx="113.1" cy="117"/><circle cx="101.5" cy="138"/><circle cx="93.4" cy="179.6"/><circle cx="91.5" cy="113.4"/><circle cx="51.5" cy="189.3"/><circle cx="96.5" cy="124.6"/><circle cx="111.7" cy="142.2"/><circle cx="90.5" cy="144"/><circle cx="68.8" cy="150.9"/><circle cx="88.9" cy="172.6"/><circle cx="105.9" cy="134.2"/><circle cx="90.5" cy="162.7"/><circle cx="87.5" cy="142.2"/><circle cx="116" cy="137.6"/><circle cx="102.1" cy="127.1"/><circle cx="110.4" cy="160"/><circle cx="92.8" cy="148.7"/><circle cx="97.4" cy="141.2"/><circle cx="95.7" cy="163.4"/><circle cx="100.2" cy="131.9"/><circle cx="133.1" cy="121.2"/><circle cx="130.7" cy="109.3"/><circle cx="82.1" cy="134"/><circle cx="111.6" cy="136"/><circle cx="68.5" cy="149.3"/><circle cx="89.6" cy="173.2"/><circle cx="102.7" cy="171.8"/><circle cx="122.3" cy="161.1"/><circle cx="52.1" cy="131.5"/><circle cx="69.6" cy="137.4"/><circle cx="61.5" cy="142.2"/><circle cx="63.5" cy="120.4"/><circle cx="130.1" cy="115.1"/><circle cx="106.9" cy="146.5"/><circle cx="108.9" cy="105.7"/><circle cx="116" cy="172.6"/><circle cx="124.4" cy="138.2"/><circle cx="98.5" cy="186.5"/><circle cx="116.1" cy="152.1"/><circle cx="116.5" cy="120.3"/><circle cx="116.3" cy="123.3"/><circle cx="115.9" cy="149.6"/><circle cx="77.3" cy="140.6"/><circle cx="130.4" cy="134.7"/><circle cx="64.8" cy="170.2"/><circle cx="80" cy="166.1"/><circle cx="90" cy="168.2"/><circle cx="121.2" cy="134.5"/><circle cx="111.6" cy="127"/><circle cx="88.5" cy="136.2"/><circle cx="133.4" cy="165"/><circle cx="79.6" cy="183.1"/><circle cx="115.8" cy="129.4"/><circle cx="90.1" cy="156.2"/><circle cx="97.2" cy="138.4"/><circle cx="92.7" cy="145.8"/><circle cx="123.6" cy="160.6"/><circle cx="96.3" cy="153.4"/><circle cx="110.4" cy="152.5"/><circle cx="114.8" cy="140"/><circle cx="106.5" cy="154.4"/><circle cx="81.4" cy="165.1"/><circle cx="73" cy="146"/><circle cx="59.2" cy="149.2"/><circle cx="92.4" cy="146.5"/><circle cx="121.2" cy="159.3"/><circle cx="79.1" cy="153.8"/><circle cx="125.4" cy="122.6"/><circle cx="66.2" cy="156.4"/><circle cx="132.2" cy="120.2"/><circle cx="92.6" cy="122.2"/><circle cx="69.9" cy="151"/><circle cx="47.5" cy="148.1"/><circle cx="85.7" cy="148.9"/><circle cx="83" cy="183.1"/><circle cx="98.4" cy="159.7"/><circle cx="115.7" cy="168"/><circle cx="98.1" cy="109.8"/><circle cx="64.4" cy="135.4"/><circle cx="101.4" cy="171.9"/><circle cx="57.3" cy="165.2"/><circle cx="109.5" cy="137.5"/><circle cx="132.8" cy="129.1"/><circle cx="118" cy="153.1"/><circle cx="66.1" cy="120"/><circle cx="109.7" cy="119.1"/><circle cx="99.6" cy="133.5"/><circle cx="109.9" cy="136.5"/><circle cx="89.4" cy="146.6"/><circle cx="104" cy="139.4"/><circle cx="116.7" cy="116.3"/><circle cx="75.1" cy="154.4"/><circle cx="82" cy="133.7"/><circle cx="82.4" cy="141.6"/><circle cx="115.4" cy="157.9"/><circle cx="92.1" cy="139.3"/><circle cx="102.7" cy="121.3"/><circle cx="106.8" cy="144.3"/><circle cx="82.5" cy="188"/><circle cx="112.5" cy="128.8"/><circle cx="71.3" cy="135.2"/><circle cx="105.4" cy="148.2"/><circle cx="96.3" cy="143.7"/><circle cx="105.4" cy="155.2"/><circle cx="103.4" cy="124.4"/><circle cx="81.8" cy="163.1"/><circle cx="133.3" cy="153.7"/><circle cx="86.6" cy="131.4"/><circle cx="80.9" cy="182.8"/><circle cx="128.3" cy="125.2"/><circle cx="92.9" cy="156.5"/><circle cx="90.9" cy="138.4"/><circle cx="73.7" cy="133.9"/><circle cx="89.1" cy="134.1"/><circle cx="83.4" cy="154"/><circle cx="69.1" cy="163.5"/><circle cx="65.7" cy="146.9"/><circle cx="85.2" cy="148.3"/><circle cx="90.7" cy="130"/><circle cx="91.9" cy="121.6"/><circle cx="64.5" cy="121.5"/><circle cx="72.4" cy="148.3"/><circle cx="98.2" cy="170"/><circle cx="131.9" cy="146.7"/><circle cx="96.1" cy="175.6"/><circle cx="99.7" cy="130.7"/><circle cx="119.1" cy="130.8"/><circle cx="85.1" cy="169"/><circle cx="127" cy="148.2"/><circle cx="124.4" cy="134.6"/><circle cx="70.4" cy="172.6"/><circle cx="101.7" cy="121.5"/><circle cx="97.6" cy="138.1"/><circle cx="134.1" cy="136.8"/><circle cx="123.5" cy="144.4"/><circle cx="69.7" cy="185.8"/><circle cx="75.3" cy="185"/><circle cx="91.5" cy="125.3"/><circle cx="100.9" cy="158.3"/><circle cx="62.6" cy="181"/><circle cx="91.6" cy="136"/><circle cx="117.4" cy="163"/><circle cx="100.7" cy="122.1"/><circle cx="129.6" cy="146.3"/><circle cx="67.6" cy="149.5"/><circle cx="98.2" cy="168.7"/><circle cx="66" cy="166.8"/><circle cx="78.4" cy="180.5"/><circle cx="83.7" cy="162"/><circle cx="120.5" cy="150.2"/><circle cx="130.7" cy="155"/><circle cx="116.8" cy="139.8"/><circle cx="75" cy="155"/><circle cx="132.1" cy="137.7"/><circle cx="86.3" cy="136"/><circle cx="69.1" cy="167.5"/><circle cx="69" cy="165.1"/><circle cx="95.3" cy="178.1"/><circle cx="104.8" cy="122"/><circle cx="109.1" cy="147.2"/><circle cx="87.2" cy="157.7"/><circle cx="91.4" cy="185.1"/><circle cx="117" cy="149.4"/><circle cx="66.7" cy="176.5"/><circle cx="136.7" cy="121.4"/><circle cx="74.1" cy="136.4"/><circle cx="80.6" cy="162.5"/><circle cx="85.4" cy="136.6"/><circle cx="87.1" cy="150.1"/><circle cx="86.8" cy="156.7"/><circle cx="104.8" cy="105.8"/><circle cx="124.8" cy="131.9"/><circle cx="75.1" cy="166.7"/><circle cx="117.8" cy="142.4"/><circle cx="101.9" cy="125.6"/><circle cx="57.8" cy="178.2"/><circle cx="104.5" cy="155.6"/><circle cx="81.9" cy="164.1"/><circle cx="69.9" cy="140.5"/><circle cx="89.1" cy="182.2"/><circle cx="86" cy="177.1"/><circle cx="91.4" cy="147.8"/><circle cx="75.5" cy="153.9"/><circle cx="101.8" cy="144.3"/><circle cx="51.9" cy="165.4"/><circle cx="71.4" cy="151.6"/><circle cx="68" cy="171.4"/><circle cx="55.3" cy="150.7"/><circle cx="107.5" cy="156.2"/><circle cx="80.7" cy="146.8"/><circle cx="113.3" cy="173.9"/><circle cx="79.8" cy="163.2"/><circle cx="105.4" cy="135.1"/><circle cx="128.9" cy="156.3"/><circle cx="96.9" cy="131.1"/><circle cx="118.5" cy="141.9"/><circle cx="128.6" cy="97.8"/><circle cx="79.1" cy="139.4"/><circle cx="109.8" cy="145.4"/><circle cx="96.1" cy="162.7"/><circle cx="70.2" cy="143.7"/><circle cx="88.3" cy="161.4"/><circle cx="45.2" cy="185.3"/><circle cx="70.6" cy="161.8"/><circle cx="124.3" cy="148"/><circle cx="127.2" cy="133.9"/><circle cx="75.5" cy="172.3"/><circle cx="79" cy="157.5"/><circle cx="65.4" cy="186.5"/><circle cx="62.3" cy="152.7"/><circle cx="82.2" cy="185.7"/><circle cx="119" cy="127.7"/><circle cx="130.8" cy="125.4"/><circle cx="85.3" cy="154"/><circle cx="81.7" cy="156.5"/><circle cx="89" cy="128.6"/><circle cx="137.9" cy="121.2"/><circle cx="82" cy="172.6"/><circle cx="104.3" cy="174.9"/><circle cx="92.5" cy="160.4"/><circle cx="126.6" cy="146.6"/><circle cx="60.4" cy="133.1"/><circle cx="97.4" cy="144.1"/><circle cx="111.3" cy="131.6"/><circle cx="69.2" cy="154.1"/><circle cx="49.2" cy="167.1"/><circle cx="69.5" cy="160.9"/><circle cx="57.1" cy="195.2"/><circle cx="72.4" cy="180.1"/><circle cx="70.9" cy="178"/><circle cx="76.3" cy="132.5"/><circle cx="129.5" cy="141.9"/><circle cx="124.7" cy="127.2"/><circle cx="88.2" cy="156.7"/><circle cx="98.8" cy="147.3"/><circle cx="102.4" cy="153.8"/><circle cx="75.2" cy="171.7"/><circle cx="74.4" cy="167.9"/><circle cx="72.5" cy="143.9"/><circle cx="92.8" cy="169.9"/><circle cx="112.8" cy="166"/><circle cx="134.5" cy="132.5"/><circle cx="106.8" cy="155.2"/><circle cx="85.2" cy="186.7"/></g>
<g fill="#FF62BC" fill-opacity="0.65"><circle cx="97.9" cy="49.7"/></g>
<g fill="#FF62BC" fill-opacity="0.65"><circle cx="102" cy="51.4"/></g>
<g fill="#FF62BC" fill-opacity="0.65"><circle cx="111.2" cy="105"/><circle cx="125.8" cy="92.3"/><circle cx="117.2" cy="112"/><circle cx="120.1" cy="108.7"/><circle cx="106.7" cy="105.8"/><circle cx="119.8" cy="88.6"/><circle cx="103.6" cy="119.7"/><circle cx="110.4" cy="101"/><circle cx="95.1" cy="115.7"/><circle cx="116.6" cy="100.5"/><circle cx="116.4" cy="116.7"/><circle cx="119.2" cy="107.6"/><circle cx="114" cy="124.6"/><circle cx="100.3" cy="122.1"/><circle cx="103" cy="108.3"/><circle cx="118.7" cy="103"/><circle cx="86.8" cy="131.2"/><circle cx="118.8" cy="91.1"/><circle cx="112.6" cy="109"/><circle cx="125" cy="114"/><circle cx="103.9" cy="101.6"/><circle cx="100.5" cy="110.8"/><circle cx="116.3" cy="91.4"/><circle cx="108.9" cy="114.8"/><circle cx="99.1" cy="110.9"/><circle cx="88.9" cy="113.7"/><circle cx="95.9" cy="121.8"/><circle cx="85.3" cy="108.8"/><circle cx="115.2" cy="92"/><circle cx="128.8" cy="98.3"/><circle cx="113.9" cy="109.3"/><circle cx="92.3" cy="122.6"/><circle cx="127.9" cy="91.9"/><circle cx="88.1" cy="114.5"/><circle cx="90.6" cy="123.3"/><circle cx="120.9" cy="116.5"/><circle cx="99.7" cy="101.6"/><circle cx="87.7" cy="107.6"/><circle cx="139.4" cy="91"/><circle cx="104.7" cy="101.7"/><circle cx="118" cy="91.3"/><circle cx="109.1" cy="120.5"/><circle cx="114.1" cy="92"/><circle cx="98" cy="117"/><circle cx="108" cy="110.4"/><circle cx="125" cy="101.9"/><circle cx="109.6" cy="96.4"/><circle cx="107.9" cy="108.9"/><circle cx="121.6" cy="99.4"/><circle cx="97.6" cy="134.3"/><circle cx="101.2" cy="134.7"/><circle cx="110.7" cy="99.2"/><circle cx="109.4" cy="101.9"/><circle cx="127.4" cy="88.6"/><circle cx="99.8" cy="94.5"/><circle cx="107" cy="112.3"/><circle cx="106.2" cy="99.6"/><circle cx="87.5" cy="128.7"/><circle cx="113.6" cy="111.3"/><circle cx="94.8" cy="108.1"/><circle cx="105.2" cy="110.9"/><circle cx="87.5" cy="131.9"/><circle cx="112.2" cy="99.4"/><circle cx="103.7" cy="99"/><circle cx="125.2" cy="95"/><circle cx="96.6" cy="107.9"/><circle cx="119.6" cy="89.2"/><circle cx="113.2" cy="115.2"/><circle cx="103.1" cy="106"/><circle cx="132" cy="116"/><circle cx="114.2" cy="98"/><circle cx="106.7" cy="114.3"/><circle cx="124.4" cy="98.6"/><circle cx="133.4" cy="106.2"/><circle cx="110.4" cy="105.5"/><circle cx="110" cy="112.6"/><circle cx="94" cy="109.9"/><circle cx="104.7" cy="108.7"/><circle cx="106.4" cy="103.6"/><circle cx="93" cy="104.5"/><circle cx="107.8" cy="95.1"/><circle cx="121.8" cy="113.4"/><circle cx="125.7" cy="121.3"/><circle cx="117.6" cy="99.7"/><circle cx="83.2" cy="111.8"/><circle cx="111.9" cy="106.8"/><circle cx="96.6" cy="102.9"/><circle cx="121.1" cy="94.8"/><circle cx="97.2" cy="112.1"/><circle cx="108.7" cy="112.8"/><circle cx="127" cy="88"/><circle cx="121" cy="110.2"/><circle cx="107.1" cy="111.8"/><circle cx="104.9" cy="112"/><circle cx="125.8" cy="120"/><circle cx="111.4" cy="97.9"/><circle cx="97.5" cy="126.6"/><circle cx="98.2" cy="97.2"/><circle cx="112.4" cy="93.3"/><circle cx="94.7" cy="101.5"/><circle cx="101.4" cy="115.4"/><circle cx="105" cy="105"/><circle cx="103.9" cy="101.5"/><circle cx="88.8" cy="110.2"/><circle cx="89.5" cy="135"/><circle cx="120.1" cy="119.9"/><circle cx="101.6" cy="111"/><circle cx="107" cy="107.1"/><circle cx="107.6" cy="111.3"/><circle cx="111.8" cy="94.2"/></g>
<g fill="#D89000" fill-opacity="0.65"><circle cx="97.3" cy="131.4"/><circle cx="91.3" cy="137.3"/><circle cx="98.1" cy="128"/><circle cx="86.6" cy="129.5"/><circle cx="82.6" cy="129.6"/><circle cx="79.2" cy="137.1"/><circle cx="81.7" cy="133.4"/><circle cx="82.6" cy="139.1"/><circle cx="88.2" cy="137.8"/><circle cx="86.3" cy="139.3"/><circle cx="94" cy="127.5"/><circle cx="83.8" cy="141.1"/><circle cx="92.7" cy="129.5"/><circle cx="81.7" cy="141.2"/><circle cx="87.4" cy="131.8"/><circle cx="96.7" cy="133.5"/><circle cx="84.3" cy="144"/><circle cx="91.4" cy="133.7"/><circle cx="91.7" cy="143.5"/><circle cx="82.8" cy="133.7"/></g>
<g fill="#00C08B" fill-opacity="0.65"><circle cx="140.5" cy="137.8"/><circle cx="135.5" cy="134"/><circle cx="127.4" cy="145.8"/><circle cx="140.4" cy="134.5"/><circle cx="153.3" cy="130.9"/><circle cx="154" cy="133.2"/><circle cx="122.8" cy="155.9"/><circle cx="144" cy="119.4"/><circle cx="143.9" cy="125.3"/><circle cx="147.9" cy="135.8"/><circle cx="134.5" cy="149.3"/><circle cx="148.2" cy="153.9"/><circle cx="155.5" cy="125.4"/><circle cx="131.9" cy="130.2"/><circle cx="137.1" cy="143.7"/><circle cx="134.1" cy="138.3"/><circle cx="150.8" cy="146"/><circle cx="126.6" cy="137.4"/><circle cx="135.2" cy="126.9"/><circle cx="123.7" cy="150.7"/><circle cx="144.4" cy="131.5"/><circle cx="128.4" cy="146.2"/><circle cx="128.9" cy="140.4"/><circle cx="139" cy="122.3"/><circle cx="144.5" cy="121.4"/><circle cx="150.1" cy="153"/><circle cx="134.8" cy="120.7"/><circle cx="130.1" cy="160.7"/><circle cx="143.7" cy="135.9"/><circle cx="152.1" cy="131.6"/><circle cx="126.9" cy="157.7"/><circle cx="156.7" cy="137.1"/><circle cx="148.3" cy="133"/><circle cx="122.8" cy="151.3"/><circle cx="135" cy="139.1"/></g>
<g fill="#00C1A3" fill-opacity="0.75"><circle cx="134.9" cy="145.8"/><circle cx="135.1" cy="163.1"/><circle cx="151.4" cy="155.6"/><circle cx="164.5" cy="140.5"/><circle cx="160" cy="132.7"/><circle cx="160.5" cy="128"/><circle cx="158" cy="137.9"/><circle cx="142.5" cy="155.2"/><circle cx="133.7" cy="151.1"/><circle cx="156.9" cy="147.6"/><circle cx="170" cy="145.9"/><circle cx="135.1" cy="163.4"/><circle cx="169.6" cy="128.1"/><circle cx="140.2" cy="158.6"/><circle cx="155.3" cy="154"/><circle cx="145.2" cy="153.4"/><circle cx="163.4" cy="137"/><circle cx="186.2" cy="123.1"/><circle cx="176.5" cy="136.8"/><circle cx="167.9" cy="133.1"/><circle cx="133.4" cy="160.8"/><circle cx="166.1" cy="145.5"/><circle cx="178.1" cy="119.3"/><circle cx="185.9" cy="138.7"/><circle cx="138.8" cy="141.4"/><circle cx="163.5" cy="117.1"/><circle cx="146.8" cy="142.5"/><circle cx="147.6" cy="151.1"/><circle cx="161.5" cy="147.6"/><circle cx="152.2" cy="150.3"/><circle cx="136.9" cy="147.7"/><circle cx="172.6" cy="138.5"/><circle cx="133.3" cy="168.3"/><circle cx="150.9" cy="148.4"/><circle cx="175.6" cy="135.3"/><circle cx="134.1" cy="147.6"/><circle cx="179.7" cy="141.9"/><circle cx="154.8" cy="136.5"/><circle cx="160.8" cy="149.5"/><circle cx="134.9" cy="146.8"/><circle cx="142.1" cy="153.5"/><circle cx="167.2" cy="147.3"/><circle cx="189.1" cy="131.9"/><circle cx="151.1" cy="158.6"/><circle cx="181.4" cy="106.4"/><circle cx="156.1" cy="148.8"/><circle cx="145.9" cy="142.6"/><circle cx="174.7" cy="136.3"/><circle cx="152.3" cy="130.5"/><circle cx="167.1" cy="142.2"/><circle cx="172.6" cy="130.6"/><circle cx="140.5" cy="141.1"/><circle cx="187.4" cy="107.1"/><circle cx="181" cy="139.9"/><circle cx="154.8" cy="146.9"/><circle cx="170.5" cy="133.7"/><circle cx="158" cy="153.2"/><circle cx="181.3" cy="121.4"/><circle cx="186.7" cy="137.1"/><circle cx="136" cy="140.5"/></g>
<g fill="#35A2FF" fill-opacity="0.65"><circle cx="103.4" cy="142"/><circle cx="84.3" cy="139.1"/><circle cx="89.6" cy="156.4"/><circle cx="109.8" cy="146"/><circle cx="90.6" cy="174.1"/><circle cx="101.7" cy="145.3"/><circle cx="113.1" cy="130.2"/><circle cx="121" cy="123.6"/><circle cx="72.6" cy="136.2"/><circle cx="124.8" cy="117.3"/><circle cx="122.5" cy="138.6"/><circle cx="83.8" cy="160.7"/><circle cx="82.9" cy="131.5"/><circle cx="97.5" cy="124.9"/><circle cx="97.7" cy="143.2"/><circle cx="109.2" cy="129.6"/><circle cx="87.9" cy="144.9"/><circle cx="120.9" cy="99.4"/><circle cx="125.6" cy="126.3"/><circle cx="135" cy="101.8"/><circle cx="64.6" cy="128.2"/><circle cx="55.4" cy="149.8"/><circle cx="103" cy="136.5"/><circle cx="99.8" cy="150.7"/><circle cx="92.5" cy="117.9"/><circle cx="99.8" cy="149.6"/><circle cx="115.4" cy="105.6"/><circle cx="137.3" cy="111.4"/><circle cx="64.6" cy="158"/><circle cx="72.9" cy="167.8"/><circle cx="92.1" cy="137.7"/><circle cx="106.8" cy="149.3"/><circle cx="119.7" cy="127.8"/><circle cx="89.8" cy="165.9"/><circle cx="115.2" cy="134.4"/><circle cx="101.6" cy="100.6"/><circle cx="61.1" cy="122"/><circle cx="58.1" cy="157"/><circle cx="139.5" cy="107.6"/><circle cx="91.5" cy="119.8"/><circle cx="81" cy="158.5"/><circle cx="131.1" cy="129.2"/><circle cx="92.9" cy="176.3"/><circle cx="110.4" cy="125.1"/><circle cx="76.4" cy="171.4"/><circle cx="108.5" cy="139.3"/><circle cx="76.5" cy="130.5"/><circle cx="66" cy="169.9"/><circle cx="107.2" cy="144.1"/><circle cx="131.6" cy="124.4"/><circle cx="112.3" cy="124.2"/><circle cx="92.6" cy="125.6"/><circle cx="84.2" cy="144.8"/><circle cx="80.9" cy="159.6"/><circle cx="77.5" cy="156"/><circle cx="65.4" cy="158.9"/><circle cx="113.4" cy="124"/><circle cx="123.1" cy="113.4"/><circle cx="134.7" cy="124.3"/><circle cx="96.3" cy="162.3"/></g>
<g fill="#00BFC4" fill-opacity="0.65"><circle cx="80.7" cy="117.6"/><circle cx="79.3" cy="165.9"/><circle cx="102.9" cy="137.4"/><circle cx="83.1" cy="182.2"/><circle cx="82.9" cy="127.7"/><circle cx="86.2" cy="159"/><circle cx="70.6" cy="131.4"/><circle cx="90.5" cy="127.1"/><circle cx="104" cy="116.3"/><circle cx="120.5" cy="154.4"/><circle cx="127" cy="131.6"/><circle cx="84.1" cy="137.6"/><circle cx="67.5" cy="145.6"/><circle cx="95.4" cy="151.1"/><circle cx="99.3" cy="172"/><circle cx="106.1" cy="120.6"/><circle cx="107.7" cy="136.7"/><circle cx="103.9" cy="104"/><circle cx="130.7" cy="108.3"/><circle cx="91.2" cy="173.6"/><circle cx="66" cy="139"/><circle cx="83.8" cy="158.8"/><circle cx="96.6" cy="122.7"/><circle cx="85.3" cy="110.9"/><circle cx="105.3" cy="134.5"/><circle cx="124.6" cy="110.9"/><circle cx="104.2" cy="142.4"/><circle cx="66.1" cy="135.6"/><circle cx="95.6" cy="137.3"/><circle cx="117.8" cy="160.4"/><circle cx="123.4" cy="135.1"/><circle cx="96.8" cy="155.8"/><circle cx="146.1" cy="104.4"/><circle cx="90.9" cy="143.3"/><circle cx="101.6" cy="141.2"/><circle cx="59.4" cy="169.5"/><circle cx="85.5" cy="147.2"/><circle cx="104" cy="143.1"/><circle cx="91.9" cy="126.8"/><circle cx="133.4" cy="114"/><circle cx="68.6" cy="146.1"/><circle cx="120.2" cy="130.9"/><circle cx="96.2" cy="142.4"/><circle cx="126.3" cy="127.1"/><circle cx="74.6" cy="165.2"/><circle cx="111.9" cy="117.3"/><circle cx="90.5" cy="115.9"/><circle cx="131.3" cy="142.8"/><circle cx="104" cy="103.8"/><circle cx="105.8" cy="150"/></g>
<g fill="#00C08B" fill-opacity="0.65"><circle cx="44.5" cy="181.5"/><circle cx="53.3" cy="169.4"/><circle cx="57.3" cy="172.9"/><circle cx="63.3" cy="162"/><circle cx="51.4" cy="175.2"/><circle cx="50.8" cy="180.4"/><circle cx="57" cy="177.5"/><circle cx="49.1" cy="173.3"/><circle cx="58.2" cy="167.7"/><circle cx="46.5" cy="170.5"/><circle cx="63.6" cy="162.1"/><circle cx="48.1" cy="168.6"/><circle cx="50.5" cy="172.1"/><circle cx="58.5" cy="170.7"/><circle cx="50.2" cy="167.9"/><circle cx="51.8" cy="174.7"/><circle cx="51" cy="166.7"/><circle cx="53.4" cy="161.4"/><circle cx="59.7" cy="166.5"/><circle cx="50.9" cy="188.8"/><circle cx="50.6" cy="177.2"/><circle cx="54.3" cy="155.6"/><circle cx="45.6" cy="177.4"/><circle cx="55.1" cy="167.2"/><circle cx="55.4" cy="165.5"/><circle cx="56.5" cy="166.3"/><circle cx="51.1" cy="159.6"/><circle cx="60.7" cy="168.7"/><circle cx="62.8" cy="159.5"/><circle cx="58.8" cy="181.1"/><circle cx="53.5" cy="169.8"/><circle cx="48.3" cy="175.2"/><circle cx="48.3" cy="178.9"/><circle cx="51.1" cy="173.3"/><circle cx="51.3" cy="173.4"/><circle cx="50.1" cy="172.7"/><circle cx="51.3" cy="168.2"/><circle cx="47.3" cy="165.6"/><circle cx="53.7" cy="173.2"/><circle cx="62" cy="164.8"/><circle cx="54" cy="188"/><circle cx="51.1" cy="181"/><circle cx="55" cy="168.2"/><circle cx="49.8" cy="171"/><circle cx="50.4" cy="173.8"/><circle cx="54.1" cy="157.4"/><circle cx="48.2" cy="178.5"/><circle cx="51.3" cy="176.5"/><circle cx="49" cy="183.9"/><circle cx="49.4" cy="169.5"/><circle cx="56.5" cy="178.2"/><circle cx="64.4" cy="164.1"/><circle cx="46.1" cy="188.4"/><circle cx="47.8" cy="178.7"/><circle cx="60.8" cy="156.3"/><circle cx="59" cy="175.1"/><circle cx="57.6" cy="180.6"/><circle cx="55.7" cy="172.3"/><circle cx="60.4" cy="163.7"/><circle cx="48.2" cy="177.8"/><circle cx="64.2" cy="157.2"/><circle cx="60.4" cy="172.5"/><circle cx="50.5" cy="174.1"/><circle cx="52.2" cy="170.3"/><circle cx="53.7" cy="160.3"/><circle cx="48.7" cy="171.5"/><circle cx="45.9" cy="180.3"/><circle cx="53.7" cy="181.4"/><circle cx="50.4" cy="172.5"/><circle cx="53.2" cy="159"/><circle cx="49.5" cy="175.3"/><circle cx="60.3" cy="157.7"/><circle cx="52.4" cy="161.3"/><circle cx="46.8" cy="186.3"/><circle cx="51.2" cy="171.1"/><circle cx="46.3" cy="170.3"/><circle cx="61.3" cy="168.4"/><circle cx="57.4" cy="161.2"/><circle cx="55.6" cy="175.6"/><circle cx="56.6" cy="172.2"/><circle cx="55.2" cy="169.6"/><circle cx="53.2" cy="159.8"/><circle cx="52.7" cy="178.8"/><circle cx="58" cy="176.3"/><circle cx="53.2" cy="174.7"/><circle cx="49.4" cy="173.3"/><circle cx="60" cy="171.2"/><circle cx="72.7" cy="167"/><circle cx="45.5" cy="173.1"/><circle cx="46.8" cy="176.6"/><circle cx="50.5" cy="171.6"/><circle cx="50.1" cy="160.2"/><circle cx="52.8" cy="172.4"/><circle cx="62.8" cy="163.6"/><circle cx="63.6" cy="163.4"/><circle cx="59.9" cy="158.4"/><circle cx="52.8" cy="174.1"/><circle cx="54.4" cy="176.1"/><circle cx="50" cy="183.7"/><circle cx="52.1" cy="166.1"/><circle cx="58.7" cy="161.4"/><circle cx="61.6" cy="156.1"/><circle cx="62.9" cy="166.2"/><circle cx="48.7" cy="174.4"/><circle cx="56.2" cy="166.3"/><circle cx="45.5" cy="181.6"/><circle cx="54.4" cy="174.2"/><circle cx="51.8" cy="165.3"/><circle cx="51.4" cy="161.2"/><circle cx="58.5" cy="168.1"/><circle cx="56.8" cy="173.9"/><circle cx="56.5" cy="169.1"/><circle cx="52.5" cy="164.7"/><circle cx="56.5" cy="156.7"/><circle cx="45.3" cy="176.6"/><circle cx="51.8" cy="175.5"/><circle cx="56.6" cy="172.9"/><circle cx="53.7" cy="188.8"/><circle cx="64" cy="169.3"/><circle cx="69.2" cy="170.3"/><circle cx="51" cy="167.7"/><circle cx="46" cy="168.1"/><circle cx="54.6" cy="167.6"/><circle cx="61.8" cy="161.4"/><circle cx="55" cy="169.5"/><circle cx="62.6" cy="161.7"/><circle cx="57.6" cy="180"/><circle cx="51.4" cy="165.7"/><circle cx="51" cy="168.2"/><circle cx="56.2" cy="176.2"/><circle cx="55.3" cy="167.1"/><circle cx="53.5" cy="179.5"/><circle cx="49.2" cy="170.5"/><circle cx="48.9" cy="183.8"/><circle cx="65.4" cy="157.4"/><circle cx="48.6" cy="172"/><circle cx="55.3" cy="166.9"/><circle cx="56.9" cy="166.3"/><circle cx="53.9" cy="172.7"/><circle cx="47.9" cy="177.5"/><circle cx="50.6" cy="159.7"/><circle cx="59.2" cy="175"/><circle cx="52.8" cy="173.3"/><circle cx="55" cy="170.4"/><circle cx="58.4" cy="174.8"/><circle cx="52.7" cy="181.7"/><circle cx="65.1" cy="156.8"/><circle cx="47.9" cy="177.9"/><circle cx="46.8" cy="177.3"/><circle cx="44.9" cy="177.5"/><circle cx="53.4" cy="171.9"/><circle cx="51.9" cy="173.6"/><circle cx="47.3" cy="177.1"/><circle cx="52.1" cy="187.1"/><circle cx="57" cy="173.3"/><circle cx="62.8" cy="169.5"/><circle cx="60.3" cy="170.5"/><circle cx="60" cy="166.7"/><circle cx="45.3" cy="180.4"/><circle cx="49" cy="164.9"/><circle cx="50.6" cy="182.5"/><circle cx="48.9" cy="182.3"/><circle cx="54" cy="177.5"/><circle cx="53.4" cy="177.2"/><circle cx="49.8" cy="160.4"/><circle cx="60.2" cy="166.9"/><circle cx="50.2" cy="183.8"/><circle cx="52.3" cy="181.8"/><circle cx="45.2" cy="180.7"/><circle cx="52.9" cy="173.4"/><circle cx="53.5" cy="171.5"/><circle cx="53" cy="172.1"/><circle cx="49.8" cy="175.4"/><circle cx="48.1" cy="172.4"/><circle cx="53.3" cy="172"/><circle cx="53.2" cy="170.3"/><circle cx="52.1" cy="177.7"/><circle cx="57" cy="178"/><circle cx="51.4" cy="167.7"/><circle cx="50.5" cy="175"/><circle cx="53.1" cy="152.4"/><circle cx="49.7" cy="170.2"/><circle cx="49.3" cy="162.5"/><circle cx="64.4" cy="168.8"/><circle cx="65.6" cy="154.6"/><circle cx="57.1" cy="167.4"/><circle cx="53" cy="180.8"/><circle cx="60.9" cy="160.3"/><circle cx="46.9" cy="188.2"/><circle cx="48.5" cy="161.2"/><circle cx="61.8" cy="157.5"/><circle cx="53.3" cy="178.3"/><circle cx="60.5" cy="167.6"/><circle cx="55.1" cy="168.1"/><circle cx="52.5" cy="189.9"/><circle cx="46.6" cy="175.7"/><circle cx="49.5" cy="167.3"/><circle cx="53.5" cy="180.8"/><circle cx="46.4" cy="171.8"/><circle cx="64.3" cy="168.2"/><circle cx="57.5" cy="174.5"/><circle cx="53.8" cy="171.4"/><circle cx="50.6" cy="169.8"/><circle cx="63.5" cy="179.3"/><circle cx="61.2" cy="169.4"/><circle cx="63" cy="161.3"/><circle cx="58" cy="165.2"/><circle cx="59.8" cy="161"/><circle cx="55.1" cy="167.4"/><circle cx="52.5" cy="167.9"/><circle cx="50.3" cy="166.9"/><circle cx="54.3" cy="176.4"/><circle cx="56.1" cy="169.5"/><circle cx="52.4" cy="179.6"/><circle cx="64.9" cy="163.5"/><circle cx="53.6" cy="170.4"/><circle cx="51.6" cy="171.7"/><circle cx="54.4" cy="171.2"/><circle cx="49.2" cy="167.9"/><circle cx="57" cy="162.5"/><circle cx="55.8" cy="180.3"/><circle cx="57.5" cy="175.7"/><circle cx="49.7" cy="166.5"/><circle cx="53.3" cy="164.2"/><circle cx="58.3" cy="158.8"/><circle cx="48.9" cy="172.3"/><circle cx="50.8" cy="174.1"/><circle cx="45.5" cy="185.6"/><circle cx="64.6" cy="167.8"/><circle cx="62.7" cy="160.1"/></g>
<g fill="#00BFC4" fill-opacity="0.65"><circle cx="56.7" cy="193.4"/><circle cx="48.2" cy="190.3"/><circle cx="45.9" cy="181.3"/><circle cx="50.5" cy="212.6"/><circle cx="51.7" cy="207.6"/><circle cx="53.4" cy="207.9"/><circle cx="58.3" cy="190.4"/><circle cx="53.5" cy="202.7"/><circle cx="56.1" cy="199.3"/><circle cx="56.8" cy="191.9"/><circle cx="49.4" cy="202.9"/><circle cx="52.1" cy="212"/><circle cx="52.1" cy="186.2"/><circle cx="49.1" cy="185.9"/><circle cx="45.3" cy="193.8"/><circle cx="46.4" cy="188.9"/><circle cx="47.7" cy="199.8"/><circle cx="46.5" cy="199.6"/><circle cx="44.1" cy="209.4"/><circle cx="52.2" cy="205.6"/><circle cx="52.9" cy="181.2"/><circle cx="50.1" cy="194.4"/><circle cx="57.3" cy="203.9"/><circle cx="44.2" cy="219.2"/><circle cx="52.9" cy="178.4"/><circle cx="55" cy="203.7"/><circle cx="55.5" cy="189.5"/><circle cx="45.9" cy="200.8"/><circle cx="57.1" cy="184.2"/><circle cx="49.8" cy="200.4"/><circle cx="50.9" cy="209.9"/><circle cx="54.3" cy="185.7"/><circle cx="53.8" cy="197.1"/><circle cx="52" cy="203"/><circle cx="49.3" cy="196.6"/><circle cx="60.2" cy="201"/><circle cx="48.4" cy="199.8"/><circle cx="44.4" cy="203.4"/><circle cx="55.8" cy="198.2"/><circle cx="48.3" cy="215.2"/><circle cx="51.3" cy="194.5"/><circle cx="56.6" cy="209.2"/><circle cx="61.9" cy="203"/><circle cx="49.2" cy="193.2"/><circle cx="50.6" cy="195.6"/><circle cx="50.2" cy="195"/><circle cx="48.2" cy="205.2"/><circle cx="49.3" cy="175.9"/><circle cx="63.6" cy="211.1"/><circle cx="51.2" cy="205.5"/><circle cx="49" cy="198.6"/><circle cx="44.9" cy="218.9"/><circle cx="46.6" cy="208"/><circle cx="45" cy="203.3"/><circle cx="44.4" cy="199.9"/><circle cx="45.9" cy="202.7"/><circle cx="49" cy="195.8"/><circle cx="49.8" cy="216.9"/><circle cx="51.2" cy="199.5"/><circle cx="58.3" cy="208.7"/><circle cx="49.2" cy="196.2"/><circle cx="57.5" cy="169.7"/><circle cx="47.8" cy="203.4"/><circle cx="53.3" cy="192.1"/><circle cx="58" cy="192.8"/><circle cx="49.6" cy="209.2"/><circle cx="46.1" cy="217.6"/><circle cx="52.3" cy="211.6"/><circle cx="47.2" cy="202.9"/><circle cx="46.9" cy="207.3"/><circle cx="50.4" cy="209.8"/><circle cx="48.2" cy="177"/><circle cx="54.5" cy="195.3"/><circle cx="55.1" cy="180.2"/><circle cx="47.2" cy="209.9"/><circle cx="46.5" cy="189.6"/><circle cx="47.3" cy="192.4"/><circle cx="49.3" cy="197.5"/><circle cx="47.8" cy="202.2"/><circle cx="61" cy="183.6"/><circle cx="51.8" cy="204.3"/><circle cx="52.2" cy="205.2"/><circle cx="57.5" cy="200.3"/><circle cx="56.3" cy="209.1"/><circle cx="50.6" cy="199.3"/><circle cx="46.1" cy="198.9"/><circle cx="49.3" cy="207.8"/><circle cx="47.2" cy="179.3"/><circle cx="44.2" cy="209.1"/><circle cx="50.8" cy="175.2"/><circle cx="52.3" cy="200.3"/><circle cx="54.3" cy="186.7"/><circle cx="50.5" cy="198"/><circle cx="46.2" cy="207.1"/><circle cx="54.3" cy="209.9"/><circle cx="51.4" cy="193.3"/><circle cx="45.5" cy="208.1"/><circle cx="48.9" cy="191.9"/><circle cx="53.2" cy="198.2"/><circle cx="48.6" cy="204.2"/><circle cx="55.5" cy="199.2"/><circle cx="52.7" cy="210.9"/><circle cx="47" cy="214"/><circle cx="46.6" cy="201.8"/><circle cx="53.5" cy="179.7"/><circle cx="48.9" cy="199.8"/><circle cx="62.4" cy="193.8"/><circle cx="50.7" cy="200.4"/><circle cx="47.1" cy="198.3"/><circle cx="51.2" cy="203.7"/><circle cx="52.4" cy="206.7"/><circle cx="49.8" cy="199.9"/><circle cx="45.4" cy="210.9"/><circle cx="50.2" cy="193.6"/><circle cx="57.2" cy="202.9"/><circle cx="52.4" cy="208.6"/><circle cx="60.2" cy="195.8"/><circle cx="49.8" cy="185.2"/><circle cx="55" cy="186.8"/><circle cx="46.7" cy="203.6"/><circle cx="52.1" cy="184"/><circle cx="45.9" cy="200.8"/><circle cx="46.8" cy="200.5"/><circle cx="49.9" cy="209.3"/><circle cx="50.3" cy="188.6"/><circle cx="51.9" cy="208.9"/><circle cx="44.5" cy="210.4"/><circle cx="47.9" cy="178.4"/><circle cx="46.1" cy="209.5"/><circle cx="48.3" cy="201.5"/><circle cx="46.2" cy="214.2"/><circle cx="50.1" cy="204.6"/><circle cx="47.1" cy="205.7"/><circle cx="48.5" cy="209.1"/><circle cx="53" cy="193.5"/><circle cx="49.5" cy="195.2"/><circle cx="48.3" cy="191.8"/><circle cx="50.7" cy="199.3"/><circle cx="49.2" cy="195.1"/><circle cx="47" cy="210.9"/><circle cx="51.7" cy="197.2"/><circle cx="50.5" cy="198.4"/><circle cx="53.6" cy="206.4"/><circle cx="56.1" cy="187.6"/><circle cx="53.8" cy="193.4"/><circle cx="50.5" cy="191.2"/><circle cx="50.5" cy="196.1"/><circle cx="51.2" cy="204.1"/><circle cx="51.5" cy="221.1"/><circle cx="51.1" cy="208.9"/><circle cx="53" cy="193"/><circle cx="48.6" cy="189.5"/><circle cx="48.9" cy="205.4"/><circle cx="48.2" cy="204.6"/><circle cx="49.7" cy="200.7"/><circle cx="50.2" cy="201"/><circle cx="45.3" cy="201.4"/><circle cx="52.4" cy="203.7"/><circle cx="55" cy="190.7"/><circle cx="45.9" cy="194"/><circle cx="55" cy="193.6"/><circle cx="44.6" cy="204.9"/><circle cx="51.4" cy="204.6"/><circle cx="48.6" cy="179.4"/><circle cx="50.7" cy="202.6"/><circle cx="54.8" cy="191.2"/><circle cx="54.9" cy="210"/><circle cx="50.6" cy="205.5"/><circle cx="49.4" cy="199.2"/><circle cx="53.3" cy="206.8"/><circle cx="48.8" cy="190.3"/><circle cx="49.7" cy="204.8"/><circle cx="54.2" cy="201.1"/><circle cx="51.7" cy="208.1"/><circle cx="46.7" cy="205.6"/><circle cx="48.6" cy="199.1"/><circle cx="50.9" cy="199.5"/><circle cx="46.7" cy="189.2"/><circle cx="54.8" cy="194.9"/><circle cx="57.7" cy="201.8"/><circle cx="56.9" cy="188.1"/><circle cx="56.1" cy="208.2"/><circle cx="49.4" cy="193.6"/><circle cx="53.8" cy="194.7"/><circle cx="51.9" cy="204.8"/><circle cx="51.1" cy="192.9"/><circle cx="46.9" cy="190.6"/><circle cx="47.7" cy="208.1"/><circle cx="48.4" cy="192.2"/><circle cx="48.1" cy="207.2"/><circle cx="46.6" cy="205.9"/><circle cx="47.9" cy="204.7"/><circle cx="54.3" cy="193.7"/><circle cx="44.8" cy="193.4"/><circle cx="44.6" cy="206"/><circle cx="54.1" cy="205.9"/><circle cx="54.6" cy="188.6"/><circle cx="52" cy="204.1"/><circle cx="51.6" cy="201"/><circle cx="50.9" cy="200"/><circle cx="49.6" cy="203.6"/><circle cx="50.4" cy="212"/><circle cx="48.4" cy="195.6"/><circle cx="50.6" cy="197.8"/><circle cx="50.5" cy="187.1"/><circle cx="49.2" cy="195.9"/><circle cx="54.2" cy="189.8"/><circle cx="57.9" cy="196.8"/><circle cx="48.4" cy="197.6"/><circle cx="55.3" cy="203.3"/><circle cx="55.5" cy="198.7"/><circle cx="54" cy="187.7"/><circle cx="46.6" cy="200.3"/><circle cx="53.9" cy="176.7"/><circle cx="46.1" cy="206.4"/><circle cx="48.1" cy="189.2"/><circle cx="45.6" cy="199.6"/><circle cx="54.8" cy="197.9"/><circle cx="53" cy="211.2"/><circle cx="63.3" cy="185.8"/></g>
<g fill="#00BA38" fill-opacity="0.65"><circle cx="90.6" cy="169.6"/><circle cx="107.2" cy="155.9"/><circle cx="86.7" cy="181.3"/><circle cx="64.3" cy="194.3"/><circle cx="107.4" cy="176.1"/><circle cx="96.5" cy="199.2"/><circle cx="88.4" cy="191.8"/><circle cx="105.4" cy="171.2"/><circle cx="111.2" cy="165"/><circle cx="83.5" cy="146.5"/><circle cx="100.7" cy="169.2"/><circle cx="72.4" cy="175.4"/><circle cx="67.5" cy="186.6"/><circle cx="88.9" cy="193.7"/><circle cx="55.1" cy="185.5"/><circle cx="104.5" cy="154"/><circle cx="66.5" cy="176.8"/><circle cx="67.5" cy="178.3"/><circle cx="97.7" cy="167.7"/><circle cx="114.4" cy="137.6"/><circle cx="74" cy="210.6"/><circle cx="72.1" cy="157.2"/><circle cx="108.5" cy="157.1"/><circle cx="103.4" cy="140.3"/><circle cx="111.5" cy="153.7"/><circle cx="101.8" cy="182"/><circle cx="103.1" cy="143.2"/><circle cx="86.4" cy="135.4"/><circle cx="97.7" cy="168.3"/><circle cx="120.2" cy="155.2"/><circle cx="108.9" cy="167.6"/><circle cx="113.7" cy="135.1"/><circle cx="101.1" cy="145.7"/><circle cx="106.5" cy="196.8"/><circle cx="104.3" cy="172"/><circle cx="119.2" cy="129.1"/><circle cx="91.1" cy="171"/><circle cx="98.1" cy="174"/><circle cx="85.8" cy="160.5"/><circle cx="117" cy="153.6"/><circle cx="127.2" cy="138.6"/><circle cx="126.9" cy="124.1"/><circle cx="69.5" cy="164.2"/><circle cx="95" cy="132.2"/><circle cx="99.5" cy="157.4"/></g>
<g fill="#00A9FF" fill-opacity="0.65"><circle cx="107.1" cy="191.6"/><circle cx="60.6" cy="205.8"/><circle cx="92.4" cy="175.3"/><circle cx="54.4" cy="215.1"/><circle cx="81" cy="186.8"/><circle cx="85.3" cy="174"/><circle cx="69.4" cy="210.4"/><circle cx="53" cy="199.7"/><circle cx="106.3" cy="178.3"/><circle cx="101.8" cy="207.1"/><circle cx="69.6" cy="183"/><circle cx="67.7" cy="197.1"/><circle cx="77.2" cy="202.9"/><circle cx="90.3" cy="219.9"/><circle cx="83.8" cy="207.3"/><circle cx="74.1" cy="182.2"/><circle cx="101.4" cy="184.5"/><circle cx="72.8" cy="210.7"/><circle cx="86.1" cy="205.3"/><circle cx="66.9" cy="213.2"/><circle cx="64.5" cy="205.3"/><circle cx="66.1" cy="220.9"/><circle cx="95.1" cy="220.5"/><circle cx="101" cy="190.4"/><circle cx="54.9" cy="221.3"/><circle cx="112.4" cy="196.1"/><circle cx="60.6" cy="195.3"/><circle cx="98.4" cy="178.8"/><circle cx="74.6" cy="210.1"/><circle cx="98.4" cy="188.9"/><circle cx="71.3" cy="192.6"/><circle cx="97.8" cy="225.6"/><circle cx="68.8" cy="219.8"/><circle cx="122.1" cy="165"/><circle cx="91" cy="199.6"/><circle cx="55.1" cy="216.6"/><circle cx="85.8" cy="208.3"/><circle cx="72.6" cy="218.1"/><circle cx="102.9" cy="196.8"/><circle cx="92.2" cy="202.8"/><circle cx="74.6" cy="196.1"/><circle cx="79.3" cy="210.1"/><circle cx="75.3" cy="190"/><circle cx="55.4" cy="196.6"/><circle cx="72.5" cy="218"/><circle cx="90.3" cy="185.5"/><circle cx="91.3" cy="194.4"/><circle cx="80.4" cy="212.5"/><circle cx="84" cy="193.3"/><circle cx="60" cy="213.7"/><circle cx="73.8" cy="210.7"/><circle cx="62.9" cy="214.3"/><circle cx="61.4" cy="204.9"/><circle cx="84.8" cy="206"/><circle cx="107.8" cy="189.4"/><circle cx="92.5" cy="191.7"/><circle cx="45.1" cy="218.1"/><circle cx="99.4" cy="187.1"/><circle cx="62.4" cy="202.1"/><circle cx="73.6" cy="187"/><circle cx="85" cy="188.3"/><circle cx="80.6" cy="223"/><circle cx="85" cy="193.9"/><circle cx="93.3" cy="192.7"/><circle cx="48.7" cy="222.6"/><circle cx="91.3" cy="186.1"/><circle cx="99.8" cy="186.2"/><circle cx="90.9" cy="199.2"/><circle cx="94.2" cy="191.3"/><circle cx="57.5" cy="213.1"/><circle cx="68.8" cy="183.6"/><circle cx="90" cy="195.7"/><circle cx="95.1" cy="195"/><circle cx="76.8" cy="207.1"/><circle cx="90.7" cy="189.9"/><circle cx="66.1" cy="208.4"/><circle cx="114.2" cy="188.6"/><circle cx="91.7" cy="182.3"/><circle cx="52.7" cy="217.8"/><circle cx="62.2" cy="213.2"/><circle cx="88.1" cy="194.6"/><circle cx="101.5" cy="177.3"/><circle cx="72.5" cy="207.1"/><circle cx="99.2" cy="173"/><circle cx="67.9" cy="215.9"/><circle cx="83.8" cy="183.3"/><circle cx="50.8" cy="218.7"/><circle cx="90.6" cy="195.1"/><circle cx="76.7" cy="222.2"/><circle cx="79.1" cy="213.3"/><circle cx="68.2" cy="190.5"/><circle cx="114.2" cy="192.2"/><circle cx="87.3" cy="190.7"/><circle cx="53.6" cy="189.2"/><circle cx="69.1" cy="204.6"/><circle cx="111.5" cy="204.5"/><circle cx="99.7" cy="204.2"/><circle cx="75.1" cy="211.6"/><circle cx="59" cy="217.5"/><circle cx="98.4" cy="193.3"/><circle cx="97.2" cy="172.1"/><circle cx="69" cy="216.2"/><circle cx="98.1" cy="175.5"/><circle cx="99.5" cy="209.3"/><circle cx="83.3" cy="195.7"/><circle cx="78.7" cy="197.2"/><circle cx="98.1" cy="187.8"/><circle cx="101.5" cy="194.2"/><circle cx="76.5" cy="187.4"/><circle cx="54.9" cy="210.8"/><circle cx="52.5" cy="224.6"/><circle cx="79.8" cy="205.4"/><circle cx="112.6" cy="177.1"/><circle cx="68.2" cy="222.7"/><circle cx="106.8" cy="194.2"/><circle cx="73.9" cy="210.9"/><circle cx="66.9" cy="210"/><circle cx="79.6" cy="201.4"/><circle cx="84.7" cy="210.7"/><circle cx="73.6" cy="215.5"/><circle cx="53.2" cy="213.4"/><circle cx="80.6" cy="197.4"/><circle cx="94.5" cy="172.8"/><circle cx="96" cy="195.3"/><circle cx="98.7" cy="162.2"/><circle cx="98.7" cy="178.5"/><circle cx="49.7" cy="196.5"/><circle cx="71" cy="213"/><circle cx="82" cy="198.9"/><circle cx="60.7" cy="228.4"/><circle cx="87.9" cy="213.2"/><circle cx="91.2" cy="219.7"/><circle cx="104.5" cy="189.7"/><circle cx="88.6" cy="204.4"/><circle cx="93.5" cy="192.2"/><circle cx="103.7" cy="187.4"/><circle cx="78.3" cy="201.6"/><circle cx="63.8" cy="221.7"/><circle cx="99.9" cy="186.4"/><circle cx="117.5" cy="196"/><circle cx="68" cy="188.2"/><circle cx="73.8" cy="209.2"/><circle cx="110.6" cy="194.3"/><circle cx="102.7" cy="221.1"/><circle cx="77.2" cy="223.7"/><circle cx="96.2" cy="187.2"/><circle cx="121.4" cy="189.3"/><circle cx="74.2" cy="185.8"/><circle cx="102.8" cy="171.4"/><circle cx="110.5" cy="175.7"/><circle cx="99.1" cy="206.3"/><circle cx="103.8" cy="199.7"/><circle cx="104.9" cy="195.9"/><circle cx="80.2" cy="205"/><circle cx="104.4" cy="209.8"/><circle cx="90.4" cy="205.4"/><circle cx="96.4" cy="203.2"/><circle cx="91.3" cy="179.3"/><circle cx="102.8" cy="184.2"/><circle cx="73.5" cy="192"/><circle cx="79" cy="181.7"/><circle cx="65.3" cy="192.9"/><circle cx="116.2" cy="179.6"/><circle cx="97.5" cy="175.4"/><circle cx="112.2" cy="198.5"/><circle cx="71.9" cy="206"/><circle cx="79.3" cy="208.9"/><circle cx="63.5" cy="222"/><circle cx="97.2" cy="221.4"/><circle cx="86.1" cy="174.5"/><circle cx="68.5" cy="196.9"/><circle cx="71" cy="224.8"/><circle cx="61.4" cy="216.7"/><circle cx="81.9" cy="212.7"/><circle cx="119.6" cy="191.1"/><circle cx="93" cy="184.2"/><circle cx="54.9" cy="205"/><circle cx="105.1" cy="189.6"/><circle cx="86.3" cy="198.6"/><circle cx="100.8" cy="191.3"/><circle cx="91" cy="209.6"/><circle cx="80.7" cy="168"/><circle cx="82.5" cy="215.2"/><circle cx="113.5" cy="162.9"/><circle cx="87.7" cy="190.7"/><circle cx="55" cy="196.3"/><circle cx="61.6" cy="187.1"/><circle cx="98.9" cy="209.3"/><circle cx="61.5" cy="197.9"/><circle cx="96.3" cy="204.3"/><circle cx="80.7" cy="209.2"/><circle cx="90.6" cy="219.6"/><circle cx="90.9" cy="201.7"/><circle cx="72.1" cy="199.5"/><circle cx="66.5" cy="204.7"/><circle cx="69.7" cy="222"/><circle cx="79.5" cy="216.6"/><circle cx="86.4" cy="191.4"/><circle cx="101.2" cy="180.9"/><circle cx="52.5" cy="209.4"/><circle cx="94.6" cy="190.8"/><circle cx="103.2" cy="182.6"/><circle cx="90.5" cy="201.8"/><circle cx="64.7" cy="200.8"/><circle cx="104.3" cy="180.1"/><circle cx="72.8" cy="198.8"/><circle cx="75.2" cy="170.9"/><circle cx="81.2" cy="221.2"/><circle cx="73.4" cy="191.5"/><circle cx="98.1" cy="177.4"/><circle cx="68.6" cy="180.4"/><circle cx="53.1" cy="182.6"/><circle cx="86.6" cy="187.1"/><circle cx="113.7" cy="175.7"/><circle cx="78.4" cy="225.3"/><circle cx="56.6" cy="200.6"/><circle cx="99.7" cy="183.2"/><circle cx="79.1" cy="214.9"/><circle cx="62.3" cy="209.1"/><circle cx="53.5" cy="212.8"/><circle cx="84.9" cy="192.3"/><circle cx="70.3" cy="193.1"/><circle cx="84.5" cy="204.2"/><circle cx="65.4" cy="210.6"/><circle cx="93.1" cy="181"/><circle cx="91.3" cy="188.2"/><circle cx="79.4" cy="198.2"/><circle cx="78.2" cy="174.8"/><circle cx="88.7" cy="189.2"/><circle cx="76.9" cy="214.7"/><circle cx="81.7" cy="203.3"/><circle cx="65.1" cy="191.1"/><circle cx="115.3" cy="167"/><circle cx="90.7" cy="180.7"/><circle cx="81.5" cy="180.9"/><circle cx="81.1" cy="194.1"/><circle cx="75.9" cy="194.1"/><circle cx="98.6" cy="186.4"/><circle cx="61.9" cy="204.3"/><circle cx="84.6" cy="210.2"/><circle cx="102" cy="198.2"/><circle cx="81.6" cy="180.4"/><circle cx="53" cy="223.9"/><circle cx="70.6" cy="201.6"/><circle cx="62" cy="195.2"/><circle cx="76.4" cy="215.1"/><circle cx="98.3" cy="190.4"/><circle cx="82.5" cy="204"/><circle cx="112.7" cy="200.2"/><circle cx="92.3" cy="190.5"/><circle cx="87.9" cy="190.5"/><circle cx="72.1" cy="211.3"/><circle cx="126.3" cy="165"/><circle cx="75.8" cy="189"/><circle cx="82" cy="205.7"/><circle cx="81.2" cy="203.8"/><circle cx="93" cy="180.9"/><circle cx="124.3" cy="188.2"/><circle cx="63.4" cy="219.4"/><circle cx="101.8" cy="188.5"/><circle cx="98.6" cy="194.6"/><circle cx="97.7" cy="202.6"/><circle cx="79.1" cy="199.7"/><circle cx="84.1" cy="188.2"/><circle cx="97.7" cy="193.2"/><circle cx="53" cy="216.5"/><circle cx="56.6" cy="204.6"/><circle cx="89.8" cy="209.2"/><circle cx="67.6" cy="203"/><circle cx="90.3" cy="210.8"/><circle cx="69.8" cy="218.5"/><circle cx="78.7" cy="179.1"/><circle cx="92.8" cy="217.8"/><circle cx="98.2" cy="168.2"/><circle cx="84.7" cy="216.4"/><circle cx="81.6" cy="220"/><circle cx="60.8" cy="198.4"/><circle cx="66" cy="215.5"/><circle cx="58.4" cy="195.8"/><circle cx="100.4" cy="186.7"/><circle cx="46.8" cy="222.1"/><circle cx="74.2" cy="197"/><circle cx="87.7" cy="202.2"/><circle cx="75.2" cy="186.2"/><circle cx="75.5" cy="198"/><circle cx="69.7" cy="205.2"/><circle cx="87.3" cy="194.7"/><circle cx="86.3" cy="202.3"/><circle cx="87.9" cy="210.1"/><circle cx="52.9" cy="201.8"/><circle cx="54" cy="217.5"/><circle cx="72" cy="209.2"/><circle cx="104.3" cy="187.7"/><circle cx="99.5" cy="205.6"/><circle cx="86.1" cy="202.5"/><circle cx="78.3" cy="202.1"/><circle cx="89.1" cy="189.2"/><circle cx="79.3" cy="199.9"/><circle cx="79.8" cy="190.5"/><circle cx="77.3" cy="192.6"/><circle cx="64.5" cy="208.8"/><circle cx="97.7" cy="210.1"/><circle cx="76.7" cy="214.2"/><circle cx="116.2" cy="182.3"/><circle cx="74.5" cy="206"/><circle cx="59.5" cy="205.5"/><circle cx="90.1" cy="195.5"/><circle cx="83.4" cy="204.8"/><circle cx="62.7" cy="192.4"/><circle cx="71.1" cy="198.8"/><circle cx="108.6" cy="188.1"/><circle cx="75.6" cy="204.7"/><circle cx="63.5" cy="195.3"/><circle cx="96.1" cy="207.9"/><circle cx="86.2" cy="210.2"/><circle cx="79.3" cy="231.5"/><circle cx="114.4" cy="175.3"/><circle cx="84.9" cy="191.6"/><circle cx="72.6" cy="216.3"/><circle cx="71.4" cy="222.2"/><circle cx="75.3" cy="211.6"/><circle cx="118.7" cy="170"/><circle cx="89.2" cy="212.9"/><circle cx="93.4" cy="208"/><circle cx="111.4" cy="178.2"/><circle cx="85.3" cy="193"/><circle cx="85.8" cy="176.5"/><circle cx="93.6" cy="209.1"/><circle cx="81.2" cy="182.4"/><circle cx="77.2" cy="209.5"/><circle cx="112.4" cy="191.4"/><circle cx="79.8" cy="215.3"/><circle cx="111.8" cy="198.2"/><circle cx="82.7" cy="191.8"/><circle cx="91" cy="199.2"/><circle cx="59.1" cy="210.2"/><circle cx="120.6" cy="188.7"/><circle cx="98.6" cy="182.7"/><circle cx="83.6" cy="205.9"/><circle cx="86.7" cy="222.4"/><circle cx="56.3" cy="223.7"/><circle cx="71.3" cy="186.9"/><circle cx="72.6" cy="178"/><circle cx="105.3" cy="177.9"/><circle cx="94.8" cy="196.8"/><circle cx="93" cy="197.3"/><circle cx="86.2" cy="215"/><circle cx="81.8" cy="202.5"/><circle cx="68.1" cy="225.8"/><circle cx="62.3" cy="196.8"/><circle cx="84.5" cy="197.5"/><circle cx="75" cy="195.7"/><circle cx="95.7" cy="208.5"/><circle cx="117.9" cy="190.4"/><circle cx="80.9" cy="208.2"/><circle cx="94.7" cy="195.3"/><circle cx="81.5" cy="206.5"/><circle cx="103.6" cy="195.1"/><circle cx="75.1" cy="203.6"/><circle cx="108" cy="175.9"/><circle cx="84.8" cy="214.5"/><circle cx="110.2" cy="183.1"/><circle cx="71.2" cy="233.3"/><circle cx="68.7" cy="213"/><circle cx="107.7" cy="201.9"/><circle cx="60" cy="207"/><circle cx="54.9" cy="205.2"/><circle cx="98" cy="177.9"/><circle cx="104.4" cy="202.4"/><circle cx="114.7" cy="191"/><circle cx="89.8" cy="212.9"/><circle cx="54.3" cy="193.9"/><circle cx="118.3" cy="177.3"/><circle cx="108.9" cy="192.9"/><circle cx="124.6" cy="174.5"/><circle cx="68.2" cy="207.6"/><circle cx="112.6" cy="161.2"/><circle cx="85.2" cy="204"/><circle cx="94.6" cy="192.5"/><circle cx="90.8" cy="202.1"/><circle cx="92.4" cy="194.4"/><circle cx="119.8" cy="191.3"/><circle cx="78" cy="197.1"/><circle cx="81.4" cy="200.5"/><circle cx="55.8" cy="185.1"/><circle cx="83.1" cy="199"/><circle cx="82.4" cy="202.2"/><circle cx="101.9" cy="194.3"/><circle cx="100.8" cy="186.2"/><circle cx="77.1" cy="216.1"/><circle cx="104" cy="165.9"/><circle cx="86.6" cy="180.9"/><circle cx="69.2" cy="198.8"/><circle cx="81.7" cy="185.8"/><circle cx="114.2" cy="187.8"/><circle cx="75.3" cy="188.5"/><circle cx="76.7" cy="188.6"/><circle cx="87.5" cy="203.1"/><circle cx="87.9" cy="206.6"/><circle cx="86.2" cy="216.8"/><circle cx="106.8" cy="200.3"/><circle cx="84.2" cy="196.5"/><circle cx="95.2" cy="187.6"/><circle cx="62.4" cy="187.9"/><circle cx="99" cy="204.6"/><circle cx="61.2" cy="225.6"/><circle cx="87.1" cy="190.7"/><circle cx="61.5" cy="215.5"/><circle cx="89.2" cy="206.6"/><circle cx="82.4" cy="188.9"/><circle cx="69.5" cy="197.3"/><circle cx="94.9" cy="189.1"/><circle cx="69.8" cy="195.3"/><circle cx="72.6" cy="210.6"/><circle cx="101.8" cy="189.4"/><circle cx="94.9" cy="187.3"/><circle cx="70" cy="195.6"/><circle cx="53.2" cy="201.1"/><circle cx="55.5" cy="207.9"/><circle cx="91.3" cy="194.1"/><circle cx="81.3" cy="216.9"/><circle cx="82.1" cy="200.3"/><circle cx="65.1" cy="177"/><circle cx="123.4" cy="178.7"/><circle cx="55.6" cy="176.6"/><circle cx="102.6" cy="198.4"/><circle cx="88" cy="199.6"/><circle cx="88" cy="207.5"/><circle cx="90.6" cy="189.2"/><circle cx="65.9" cy="216.2"/><circle cx="59.5" cy="205.1"/><circle cx="99.9" cy="171.2"/><circle cx="101.3" cy="182.3"/><circle cx="107.9" cy="178.3"/><circle cx="80.5" cy="185.4"/><circle cx="62.3" cy="202.2"/><circle cx="97.1" cy="201.1"/><circle cx="105.8" cy="203.4"/><circle cx="85.2" cy="183.1"/><circle cx="67.5" cy="207.8"/><circle cx="88.6" cy="184.8"/><circle cx="79.6" cy="187.1"/><circle cx="75" cy="201.9"/><circle cx="72.1" cy="202.7"/><circle cx="48" cy="194.3"/><circle cx="102.9" cy="191"/><circle cx="65.5" cy="228.9"/><circle cx="88" cy="190.3"/><circle cx="72.8" cy="211.7"/><circle cx="96.4" cy="194.8"/><circle cx="84.1" cy="197"/><circle cx="109.8" cy="185.3"/><circle cx="53.6" cy="217.8"/><circle cx="73" cy="213.7"/><circle cx="104.7" cy="206.2"/><circle cx="113.1" cy="178.7"/><circle cx="54.2" cy="205.3"/><circle cx="91.8" cy="186.3"/><circle cx="72.3" cy="197.1"/><circle cx="85.8" cy="197"/><circle cx="81.2" cy="197.1"/><circle cx="60.2" cy="221.3"/><circle cx="102.5" cy="206"/><circle cx="78.9" cy="190.8"/><circle cx="84.5" cy="194.9"/><circle cx="88.1" cy="180.1"/><circle cx="93.7" cy="190.6"/><circle cx="82.2" cy="173.1"/><circle cx="97.6" cy="180.6"/><circle cx="89.9" cy="195.9"/><circle cx="117.3" cy="180.2"/><circle cx="64" cy="196"/><circle cx="87.6" cy="183.6"/><circle cx="87.8" cy="211.4"/><circle cx="93.6" cy="190.7"/><circle cx="95.9" cy="210.6"/><circle cx="92.1" cy="210.3"/><circle cx="98.1" cy="189.4"/><circle cx="55.7" cy="212.7"/><circle cx="45.6" cy="216.8"/><circle cx="67.5" cy="225.2"/><circle cx="76.3" cy="201.3"/><circle cx="93.6" cy="159.2"/><circle cx="57.9" cy="203.4"/><circle cx="98.6" cy="199.5"/><circle cx="84.2" cy="210.3"/><circle cx="91.1" cy="201.1"/><circle cx="125.4" cy="182.5"/><circle cx="94.9" cy="209.3"/><circle cx="67.8" cy="205.3"/><circle cx="86.2" cy="190.2"/><circle cx="100.3" cy="187"/><circle cx="82.1" cy="187"/><circle cx="84.1" cy="193.4"/><circle cx="91" cy="198"/><circle cx="69.4" cy="226.8"/><circle cx="58.2" cy="217.7"/><circle cx="63.4" cy="205.7"/><circle cx="110" cy="183.2"/><circle cx="71.1" cy="207.3"/><circle cx="112.3" cy="178.5"/><circle cx="81.8" cy="184.7"/><circle cx="71" cy="197.6"/><circle cx="93" cy="194.4"/><circle cx="68.1" cy="189.6"/><circle cx="106.6" cy="188.9"/><circle cx="86.1" cy="196.6"/><circle cx="98" cy="196.2"/><circle cx="95" cy="183.4"/><circle cx="67.7" cy="211.4"/><circle cx="109.7" cy="174.2"/><circle cx="104" cy="178.6"/><circle cx="80.9" cy="207"/><circle cx="69.7" cy="186.9"/><circle cx="90" cy="196.8"/><circle cx="66.6" cy="188.8"/><circle cx="104.1" cy="183.3"/><circle cx="76.6" cy="184.6"/><circle cx="102.2" cy="190.8"/><circle cx="87.3" cy="214.7"/><circle cx="86.1" cy="183.9"/><circle cx="55.1" cy="215.1"/><circle cx="74.1" cy="196.3"/><circle cx="112.2" cy="184.7"/><circle cx="109.2" cy="176.2"/><circle cx="68.8" cy="230.4"/><circle cx="88.7" cy="219.7"/><circle cx="73.7" cy="202.2"/><circle cx="85.5" cy="199.1"/><circle cx="65.5" cy="221.6"/><circle cx="57.5" cy="205.1"/><circle cx="63.5" cy="167.9"/><circle cx="98.1" cy="192"/><circle cx="60.4" cy="222.2"/><circle cx="94.2" cy="212"/><circle cx="69.4" cy="206.1"/><circle cx="62.6" cy="205.6"/><circle cx="81.3" cy="196.5"/><circle cx="82.3" cy="210.1"/><circle cx="76.3" cy="210.6"/><circle cx="113.5" cy="186.3"/><circle cx="57.4" cy="191.3"/><circle cx="84.1" cy="185.2"/><circle cx="51.8" cy="210.9"/><circle cx="68.1" cy="188.8"/><circle cx="64.2" cy="192.1"/><circle cx="111.9" cy="181.3"/><circle cx="92.1" cy="199.3"/><circle cx="86.9" cy="179.9"/><circle cx="70.3" cy="212.4"/><circle cx="95.1" cy="206.4"/><circle cx="51.7" cy="200.7"/><circle cx="85.2" cy="180.2"/><circle cx="71.8" cy="193.4"/><circle cx="74.4" cy="207.6"/><circle cx="77.4" cy="189.8"/><circle cx="73.3" cy="213.3"/><circle cx="96.9" cy="182.1"/><circle cx="89.7" cy="206.9"/><circle cx="86.9" cy="198.1"/><circle cx="86.2" cy="190.4"/><circle cx="67.1" cy="192.8"/><circle cx="76.6" cy="205.2"/><circle cx="78.1" cy="226"/><circle cx="91.7" cy="197.1"/><circle cx="74.3" cy="185.5"/><circle cx="59" cy="221.3"/><circle cx="67.5" cy="217.3"/><circle cx="108.9" cy="205.2"/><circle cx="82.8" cy="194.2"/><circle cx="84.4" cy="199"/><circle cx="121.4" cy="200.5"/><circle cx="67.2" cy="200.7"/><circle cx="65.6" cy="205"/><circle cx="101.9" cy="189.5"/><circle cx="77" cy="202.2"/><circle cx="84.6" cy="175.4"/><circle cx="88.6" cy="215.2"/><circle cx="91.4" cy="186.2"/><circle cx="79" cy="225.7"/><circle cx="50.2" cy="181.6"/><circle cx="77.9" cy="196.1"/><circle cx="44.3" cy="210.4"/><circle cx="91.5" cy="206.4"/><circle cx="94.1" cy="192.9"/><circle cx="99.5" cy="192.1"/><circle cx="99.5" cy="197"/><circle cx="74" cy="197.5"/><circle cx="57.1" cy="210.6"/><circle cx="90.1" cy="190.8"/><circle cx="63.8" cy="206.4"/><circle cx="97.3" cy="208.8"/><circle cx="63.6" cy="212.3"/><circle cx="52.4" cy="208.3"/><circle cx="110.2" cy="173.1"/><circle cx="94.6" cy="169.8"/><circle cx="87.9" cy="188.1"/><circle cx="75.4" cy="224.9"/><circle cx="86.1" cy="189.7"/><circle cx="67.2" cy="227.1"/><circle cx="86.6" cy="199.2"/><circle cx="79" cy="209.4"/><circle cx="49.2" cy="186.5"/><circle cx="73" cy="204.4"/><circle cx="68.5" cy="200.3"/><circle cx="69.1" cy="206.1"/><circle cx="85.6" cy="195.1"/><circle cx="84.8" cy="189.5"/><circle cx="104.4" cy="169.4"/><circle cx="87.5" cy="215"/><circle cx="80.6" cy="192.8"/><circle cx="85.5" cy="183.6"/><circle cx="92.9" cy="179.1"/><circle cx="67.2" cy="208.1"/><circle cx="73.3" cy="206.6"/><circle cx="60.8" cy="224.6"/><circle cx="69.4" cy="217.8"/><circle cx="78.7" cy="215"/><circle cx="93.8" cy="185.4"/><circle cx="81.9" cy="204.8"/><circle cx="107.8" cy="165.6"/><circle cx="100.4" cy="173.1"/><circle cx="80.6" cy="186.4"/><circle cx="71.6" cy="232.5"/><circle cx="85.5" cy="213.9"/><circle cx="76.9" cy="213.3"/><circle cx="108.6" cy="188.2"/><circle cx="74" cy="186.7"/><circle cx="88.6" cy="199"/><circle cx="105.2" cy="192.8"/><circle cx="78.9" cy="216.1"/><circle cx="122.2" cy="190.3"/><circle cx="69.1" cy="217.1"/><circle cx="102.1" cy="190.8"/><circle cx="72.7" cy="188.6"/><circle cx="59.2" cy="192.2"/><circle cx="62.5" cy="191.7"/><circle cx="115.7" cy="182.9"/><circle cx="109.4" cy="200.4"/><circle cx="92.1" cy="204.6"/><circle cx="92" cy="184.6"/><circle cx="57.9" cy="197"/><circle cx="55.2" cy="201.2"/><circle cx="78.2" cy="186.1"/><circle cx="90.6" cy="191.5"/><circle cx="59.2" cy="195.1"/><circle cx="81.4" cy="203.9"/><circle cx="58.1" cy="225.5"/><circle cx="55.4" cy="201.2"/><circle cx="106.2" cy="184.4"/><circle cx="99.5" cy="195.9"/><circle cx="45.4" cy="220.2"/><circle cx="72.3" cy="176"/><circle cx="77.8" cy="208.9"/><circle cx="46" cy="197.2"/><circle cx="88.9" cy="201.8"/><circle cx="88.9" cy="195.7"/><circle cx="67.6" cy="222.6"/><circle cx="75.2" cy="186.8"/><circle cx="62.2" cy="188.9"/><circle cx="87.4" cy="184.3"/><circle cx="87.9" cy="195.4"/><circle cx="64.9" cy="217"/><circle cx="60" cy="205"/><circle cx="112.7" cy="201.6"/><circle cx="79" cy="198.6"/><circle cx="74.1" cy="186.9"/><circle cx="48" cy="223.6"/><circle cx="74.4" cy="205.1"/><circle cx="67.6" cy="194.6"/><circle cx="106.2" cy="194.7"/><circle cx="80.1" cy="181"/><circle cx="94" cy="191.1"/><circle cx="68.5" cy="200"/><circle cx="76.2" cy="228.6"/><circle cx="57.7" cy="221.5"/><circle cx="89.8" cy="203.3"/><circle cx="70.7" cy="190"/><circle cx="60.3" cy="219.3"/><circle cx="65.5" cy="202.8"/><circle cx="68.4" cy="206.9"/><circle cx="89.4" cy="173.3"/><circle cx="98.4" cy="184.2"/><circle cx="67.5" cy="212.3"/><circle cx="78" cy="195.8"/><circle cx="121.1" cy="183.4"/><circle cx="78.2" cy="199.2"/><circle cx="74.4" cy="218.8"/><circle cx="64" cy="201.4"/><circle cx="78.9" cy="216.8"/><circle cx="60.2" cy="197.9"/><circle cx="84.9" cy="196.9"/><circle cx="106.9" cy="192.5"/><circle cx="126.4" cy="165.2"/><circle cx="111.9" cy="192"/><circle cx="66.6" cy="221.2"/><circle cx="124.1" cy="161.2"/><circle cx="85.8" cy="213.7"/><circle cx="64.7" cy="218.7"/><circle cx="81.2" cy="220"/><circle cx="89.7" cy="189.9"/><circle cx="100.9" cy="174.9"/><circle cx="80.7" cy="227.8"/><circle cx="98.6" cy="198.6"/><circle cx="76.9" cy="229.6"/><circle cx="95.2" cy="177.4"/><circle cx="105.3" cy="189.2"/><circle cx="95.3" cy="191.7"/><circle cx="61.1" cy="182.5"/><circle cx="82.4" cy="187.2"/><circle cx="80.2" cy="205.1"/><circle cx="60.9" cy="206.4"/><circle cx="99.9" cy="185.9"/><circle cx="76.9" cy="204.2"/><circle cx="98.4" cy="198.9"/><circle cx="86.4" cy="182"/><circle cx="81.7" cy="190.8"/><circle cx="63.5" cy="193.6"/><circle cx="105.1" cy="189.9"/><circle cx="104.1" cy="200.7"/><circle cx="115" cy="167.7"/><circle cx="85.6" cy="201.1"/><circle cx="77.4" cy="198.8"/><circle cx="75.6" cy="203.6"/><circle cx="90.4" cy="187.8"/><circle cx="73.3" cy="199.8"/><circle cx="70.1" cy="187.7"/><circle cx="101.3" cy="160.4"/><circle cx="97.7" cy="203.2"/><circle cx="64.7" cy="190.8"/><circle cx="73.5" cy="193.4"/><circle cx="84.3" cy="188.3"/><circle cx="89.7" cy="181.4"/><circle cx="94.5" cy="165.9"/><circle cx="103.7" cy="186"/><circle cx="89.2" cy="203.6"/><circle cx="84" cy="210"/><circle cx="57.4" cy="199.5"/><circle cx="64.9" cy="224.7"/><circle cx="71.2" cy="171.4"/><circle cx="69" cy="204.1"/><circle cx="70.7" cy="212.6"/><circle cx="110" cy="171.5"/><circle cx="86" cy="186.8"/><circle cx="87" cy="183.8"/><circle cx="85.4" cy="185.8"/><circle cx="93" cy="190.2"/><circle cx="111.6" cy="192.2"/><circle cx="108.4" cy="192.9"/><circle cx="70.5" cy="196.2"/></g>
<g fill="#E76BF3" fill-opacity="0.65"><circle cx="105.7" cy="181.6"/><circle cx="103.8" cy="185.9"/><circle cx="130.5" cy="176.5"/><circle cx="67.3" cy="226.4"/><circle cx="64.2" cy="205.7"/><circle cx="71.1" cy="224.5"/><circle cx="84.3" cy="196.3"/><circle cx="94.6" cy="190.9"/><circle cx="75.7" cy="203.7"/><circle cx="93.9" cy="203.4"/><circle cx="69" cy="223"/><circle cx="126.7" cy="185.3"/><circle cx="92.1" cy="205.1"/><circle cx="124.9" cy="170.8"/><circle cx="125.8" cy="185.4"/><circle cx="50.5" cy="213.6"/><circle cx="67.7" cy="214.3"/><circle cx="120.2" cy="183.3"/><circle cx="64.9" cy="204.2"/><circle cx="106.2" cy="182.7"/><circle cx="82.4" cy="211.8"/><circle cx="122.8" cy="178.7"/><circle cx="65.1" cy="228"/><circle cx="90" cy="189.5"/><circle cx="74.7" cy="205.2"/><circle cx="74" cy="208.8"/><circle cx="67.1" cy="230.4"/><circle cx="121.7" cy="194.5"/><circle cx="55.4" cy="209"/><circle cx="78" cy="201.3"/><circle cx="121.6" cy="186.4"/><circle cx="106.8" cy="201"/><circle cx="128.4" cy="191.9"/><circle cx="83.6" cy="202"/><circle cx="124.7" cy="168.8"/><circle cx="90.3" cy="209.5"/><circle cx="73.7" cy="225.9"/><circle cx="88.2" cy="188.9"/><circle cx="104.1" cy="192.2"/><circle cx="77.1" cy="220.5"/><circle cx="90.8" cy="210.5"/><circle cx="117.7" cy="192.8"/><circle cx="49.7" cy="213.1"/><circle cx="99.3" cy="207.2"/><circle cx="134.4" cy="169.9"/><circle cx="110.1" cy="192.8"/><circle cx="95.1" cy="212.1"/><circle cx="72" cy="200.1"/><circle cx="121.6" cy="185.3"/><circle cx="82.4" cy="211.9"/><circle cx="107.2" cy="178"/><circle cx="82.5" cy="196.6"/><circle cx="89.8" cy="211.1"/><circle cx="53.4" cy="209.4"/><circle cx="131.4" cy="188.3"/><circle cx="99.1" cy="191.4"/><circle cx="62.2" cy="211.3"/><circle cx="92.5" cy="205.4"/><circle cx="131.1" cy="187.1"/><circle cx="97.8" cy="187.8"/><circle cx="136.6" cy="163.3"/><circle cx="75" cy="198.4"/><circle cx="55.5" cy="217.4"/><circle cx="108.8" cy="177.4"/><circle cx="127.8" cy="191.2"/><circle cx="63.6" cy="207.8"/><circle cx="102.5" cy="207.5"/><circle cx="62.7" cy="225.5"/><circle cx="61.6" cy="212.9"/><circle cx="100.4" cy="205"/><circle cx="123.8" cy="186.9"/><circle cx="73.8" cy="205.7"/><circle cx="77.4" cy="195.2"/><circle cx="127.8" cy="174"/><circle cx="128" cy="177.8"/><circle cx="87.8" cy="203.6"/><circle cx="51.3" cy="213.9"/><circle cx="94.1" cy="210"/><circle cx="90.5" cy="206.9"/><circle cx="82.6" cy="212.1"/><circle cx="80" cy="212.9"/><circle cx="86.7" cy="207"/><circle cx="50.1" cy="215.1"/><circle cx="106.2" cy="203.3"/><circle cx="128.9" cy="167.6"/><circle cx="113.6" cy="189.8"/><circle cx="85.4" cy="212.8"/><circle cx="121.6" cy="199.3"/><circle cx="52.9" cy="210.8"/><circle cx="99.8" cy="183.5"/><circle cx="75.9" cy="197.9"/><circle cx="129.5" cy="167.2"/><circle cx="112.2" cy="175.2"/><circle cx="72.9" cy="215.9"/><circle cx="100" cy="209"/><circle cx="80" cy="210.5"/><circle cx="88.6" cy="210.2"/><circle cx="134.4" cy="168.3"/><circle cx="62.4" cy="218.7"/><circle cx="68.6" cy="200.7"/><circle cx="103.7" cy="186.2"/><circle cx="114.9" cy="188.8"/><circle cx="61.5" cy="218.6"/><circle cx="103.8" cy="193.5"/><circle cx="123.1" cy="179.4"/><circle cx="80.2" cy="199.1"/><circle cx="105.8" cy="181.7"/><circle cx="115.6" cy="190.8"/><circle cx="126.5" cy="177.6"/><circle cx="76" cy="205.8"/><circle cx="70.9" cy="222.4"/><circle cx="54.5" cy="214.3"/><circle cx="115.7" cy="183.9"/><circle cx="131.4" cy="183.3"/><circle cx="57.1" cy="214.1"/><circle cx="94.3" cy="198.9"/><circle cx="132.7" cy="177.4"/><circle cx="111.7" cy="177.3"/><circle cx="115.8" cy="185.3"/><circle cx="131.3" cy="164.9"/></g>
<g fill="#00A9FF" fill-opacity="0.65"><circle cx="93.3" cy="210"/><circle cx="135.7" cy="175.2"/><circle cx="108.1" cy="216.9"/><circle cx="100.4" cy="223.5"/><circle cx="59.5" cy="216.1"/><circle cx="80" cy="224.7"/><circle cx="95.4" cy="226.5"/><circle cx="89.3" cy="224.6"/><circle cx="119" cy="182.2"/><circle cx="88.3" cy="223.7"/><circle cx="134" cy="184.1"/><circle cx="116" cy="191.3"/><circle cx="76" cy="227.6"/><circle cx="114.4" cy="182.3"/><circle cx="82.4" cy="215.9"/><circle cx="87.1" cy="230.2"/><circle cx="81.5" cy="221.3"/><circle cx="74.7" cy="207.6"/><circle cx="114.8" cy="183.6"/><circle cx="122" cy="180.6"/><circle cx="76.6" cy="213.6"/><circle cx="105.7" cy="214.4"/><circle cx="63.3" cy="227.7"/><circle cx="96.9" cy="218.8"/><circle cx="108.2" cy="198.8"/><circle cx="97.3" cy="195"/><circle cx="106.3" cy="190.7"/><circle cx="98.5" cy="216.6"/><circle cx="83.7" cy="224.3"/><circle cx="67.3" cy="216.2"/><circle cx="88.3" cy="226.1"/><circle cx="123.3" cy="191.7"/><circle cx="73.4" cy="206.3"/><circle cx="99.5" cy="221.8"/><circle cx="125.6" cy="186"/><circle cx="108.2" cy="214.4"/><circle cx="79.9" cy="207.5"/><circle cx="70.4" cy="211.8"/><circle cx="108.4" cy="215"/><circle cx="79.2" cy="220.5"/><circle cx="107.3" cy="215.1"/><circle cx="104.6" cy="220.9"/><circle cx="94" cy="196.8"/><circle cx="83.6" cy="221.5"/><circle cx="97.8" cy="215.3"/><circle cx="99.3" cy="199.8"/><circle cx="134.6" cy="180.8"/><circle cx="104.7" cy="200.7"/><circle cx="78" cy="202.9"/><circle cx="75.3" cy="226.4"/><circle cx="87.8" cy="211.5"/><circle cx="118.4" cy="186.5"/><circle cx="86.5" cy="227.1"/><circle cx="78.5" cy="225"/><circle cx="56.8" cy="216.7"/><circle cx="110.4" cy="214.9"/><circle cx="81.2" cy="214.4"/><circle cx="99.4" cy="197"/><circle cx="74.1" cy="231.3"/><circle cx="100" cy="214.8"/><circle cx="95.9" cy="206.7"/><circle cx="57.4" cy="222.5"/><circle cx="135.6" cy="180"/><circle cx="93.2" cy="200.7"/><circle cx="80.6" cy="229.9"/><circle cx="72.5" cy="213.8"/><circle cx="113.5" cy="210.4"/><circle cx="98.6" cy="210.3"/><circle cx="128.1" cy="194.6"/><circle cx="67.6" cy="226.9"/><circle cx="90.4" cy="213"/><circle cx="104.9" cy="210.4"/><circle cx="97.2" cy="192.9"/><circle cx="87.9" cy="204.1"/><circle cx="123.8" cy="176.4"/><circle cx="51.4" cy="218.3"/><circle cx="64" cy="228.2"/><circle cx="123.3" cy="200.3"/><circle cx="95.7" cy="198.3"/><circle cx="82.5" cy="221.4"/><circle cx="73.4" cy="226.9"/><circle cx="107.7" cy="218.4"/><circle cx="69.2" cy="223.7"/><circle cx="62.5" cy="218.1"/><circle cx="92.3" cy="221.3"/><circle cx="107.7" cy="186.4"/><circle cx="83.3" cy="218.9"/><circle cx="107.1" cy="192.1"/><circle cx="78.5" cy="229.4"/><circle cx="95.8" cy="194"/><circle cx="47.3" cy="222.9"/><circle cx="106.3" cy="207.1"/><circle cx="85.9" cy="219.9"/><circle cx="58.8" cy="220.3"/><circle cx="100.8" cy="218.8"/><circle cx="52.9" cy="219.3"/><circle cx="134" cy="179.5"/><circle cx="99.3" cy="210.8"/><circle cx="77.7" cy="215.3"/><circle cx="93.3" cy="203.6"/><circle cx="97.4" cy="217.6"/><circle cx="120.3" cy="191.9"/><circle cx="54.5" cy="222.4"/><circle cx="109.4" cy="196"/><circle cx="128" cy="174.9"/><circle cx="60.4" cy="223.9"/><circle cx="88.3" cy="197.3"/><circle cx="96.9" cy="199.1"/><circle cx="71.4" cy="212.4"/><circle cx="74.4" cy="207.2"/><circle cx="126.2" cy="192.9"/><circle cx="113.8" cy="213.4"/><circle cx="75.9" cy="224.7"/><circle cx="76.3" cy="209.8"/><circle cx="59.6" cy="213.4"/><circle cx="129.9" cy="177.4"/><circle cx="97.8" cy="198.7"/><circle cx="118.9" cy="206.4"/><circle cx="66.2" cy="223.9"/><circle cx="78.1" cy="206"/><circle cx="97.4" cy="198.1"/><circle cx="110.4" cy="195.6"/><circle cx="80.8" cy="220.9"/><circle cx="84.7" cy="201.4"/><circle cx="95.7" cy="208.6"/><circle cx="74.2" cy="217.6"/><circle cx="132.8" cy="172"/><circle cx="57.3" cy="218.8"/><circle cx="75.7" cy="228.3"/><circle cx="68.1" cy="229.8"/><circle cx="125.9" cy="180"/><circle cx="102.1" cy="220.2"/><circle cx="134.7" cy="175.9"/><circle cx="73.5" cy="217.5"/><circle cx="124.9" cy="187.9"/><circle cx="115.8" cy="207.5"/><circle cx="55.4" cy="217.4"/><circle cx="102.7" cy="206.4"/><circle cx="115.1" cy="182.9"/><circle cx="80.4" cy="209.5"/><circle cx="107.2" cy="211.5"/><circle cx="132.7" cy="172.3"/><circle cx="63.2" cy="224.3"/><circle cx="60" cy="220.2"/><circle cx="122.1" cy="184.7"/><circle cx="107.6" cy="193.8"/><circle cx="85" cy="229.9"/><circle cx="97.1" cy="205.6"/><circle cx="77.5" cy="226.5"/><circle cx="88" cy="207.3"/><circle cx="83.2" cy="214.2"/><circle cx="137.1" cy="172.1"/><circle cx="122.3" cy="200"/><circle cx="110.3" cy="198"/><circle cx="89.3" cy="207.2"/><circle cx="90.7" cy="212.9"/><circle cx="137.3" cy="172.5"/><circle cx="110.7" cy="209.9"/><circle cx="83.4" cy="221.8"/><circle cx="102.3" cy="210.4"/><circle cx="115.4" cy="203.4"/><circle cx="115.6" cy="207.7"/><circle cx="91.3" cy="208.5"/><circle cx="113.2" cy="193.4"/><circle cx="103.7" cy="204.4"/><circle cx="77.5" cy="225"/><circle cx="85.6" cy="202.3"/><circle cx="88.9" cy="208.1"/><circle cx="132.9" cy="174.6"/><circle cx="116.4" cy="199.7"/><circle cx="84.3" cy="210.4"/><circle cx="105.1" cy="194.1"/><circle cx="115.3" cy="209.5"/><circle cx="85.9" cy="205"/><circle cx="124" cy="178.1"/><circle cx="131.6" cy="184.8"/><circle cx="118.8" cy="192.9"/><circle cx="68" cy="211.5"/><circle cx="69.5" cy="229"/><circle cx="98.5" cy="196.1"/><circle cx="93.6" cy="209.4"/><circle cx="76.1" cy="211.7"/><circle cx="92.3" cy="200.2"/><circle cx="123.3" cy="190.3"/><circle cx="129.2" cy="188.5"/><circle cx="82.5" cy="210.5"/><circle cx="56.9" cy="222.6"/><circle cx="75.9" cy="223.5"/><circle cx="75.2" cy="219.6"/><circle cx="111.9" cy="187.3"/><circle cx="106.4" cy="202.9"/><circle cx="131.5" cy="182.2"/><circle cx="81" cy="210.4"/><circle cx="96.8" cy="219.6"/><circle cx="110.4" cy="186.2"/><circle cx="106.4" cy="210.2"/><circle cx="98.1" cy="210.4"/><circle cx="56.6" cy="216.8"/><circle cx="83.7" cy="228.4"/><circle cx="50.9" cy="222.6"/><circle cx="63.3" cy="216.6"/><circle cx="88" cy="203.6"/><circle cx="79.5" cy="229.2"/><circle cx="47.3" cy="222.2"/><circle cx="137.8" cy="173.2"/><circle cx="80.6" cy="212.3"/><circle cx="65.5" cy="227"/><circle cx="52.7" cy="219.1"/><circle cx="53.3" cy="224.8"/><circle cx="104.7" cy="187.9"/><circle cx="118.1" cy="207.3"/><circle cx="55.9" cy="216.2"/><circle cx="54.6" cy="225.4"/><circle cx="60.4" cy="226.4"/><circle cx="102.9" cy="218.3"/><circle cx="54.3" cy="218.4"/><circle cx="49.7" cy="221.7"/><circle cx="84.5" cy="210"/><circle cx="95.5" cy="220.6"/><circle cx="94.9" cy="215.2"/><circle cx="93.7" cy="221.5"/><circle cx="117.9" cy="201.7"/><circle cx="85.8" cy="213.4"/><circle cx="125.1" cy="188.7"/><circle cx="115.8" cy="205.3"/><circle cx="103.7" cy="213.4"/><circle cx="92.7" cy="199.7"/><circle cx="60.8" cy="213"/><circle cx="93.8" cy="210.7"/><circle cx="102.3" cy="198.9"/><circle cx="114.1" cy="181.9"/><circle cx="68.4" cy="225.8"/><circle cx="63.9" cy="213.9"/><circle cx="71" cy="213.7"/><circle cx="57.9" cy="219.6"/><circle cx="90.4" cy="203.7"/><circle cx="121" cy="194.2"/><circle cx="97.2" cy="222.5"/><circle cx="110.6" cy="200.9"/><circle cx="99.7" cy="216.3"/><circle cx="64.8" cy="223.7"/><circle cx="72.5" cy="207"/><circle cx="99.1" cy="214.5"/><circle cx="109.4" cy="200.5"/><circle cx="83.6" cy="214.5"/><circle cx="85.9" cy="204.4"/><circle cx="96" cy="223.1"/><circle cx="63.2" cy="214"/><circle cx="89.2" cy="220.7"/><circle cx="99.4" cy="198.8"/><circle cx="112.6" cy="196.7"/><circle cx="52.2" cy="221.4"/><circle cx="103.2" cy="208.2"/><circle cx="132.8" cy="179.5"/><circle cx="107.7" cy="215.7"/><circle cx="126.8" cy="193.6"/><circle cx="67.7" cy="220.4"/><circle cx="107.9" cy="194.5"/><circle cx="93" cy="226.5"/><circle cx="108.6" cy="196.6"/></g>
<g fill="#00B0F6" fill-opacity="0.65"><circle cx="85.1" cy="240.7"/><circle cx="76.1" cy="239.6"/><circle cx="82.3" cy="237.8"/><circle cx="86.3" cy="237.4"/><circle cx="95.8" cy="221.9"/><circle cx="86.7" cy="242"/><circle cx="74.8" cy="251.4"/><circle cx="80.7" cy="245.4"/><circle cx="89" cy="249.4"/><circle cx="100.6" cy="221.7"/><circle cx="95.3" cy="230.3"/><circle cx="94.5" cy="232.7"/><circle cx="94.8" cy="235.8"/><circle cx="71" cy="248.1"/><circle cx="72.8" cy="231.2"/><circle cx="90.3" cy="239.3"/><circle cx="100.9" cy="232.1"/><circle cx="95.8" cy="229.9"/><circle cx="86.5" cy="249.1"/><circle cx="88.1" cy="249"/><circle cx="90.1" cy="229.4"/><circle cx="77.3" cy="240.5"/><circle cx="88.6" cy="252"/><circle cx="89.3" cy="231.5"/><circle cx="82.5" cy="239.8"/><circle cx="87.2" cy="229.3"/><circle cx="105.8" cy="233.1"/><circle cx="82" cy="229.4"/><circle cx="95.6" cy="253.9"/><circle cx="83.8" cy="238"/><circle cx="105.4" cy="225.9"/><circle cx="79.4" cy="241.6"/><circle cx="91.9" cy="229.5"/><circle cx="94.2" cy="237.9"/><circle cx="83.3" cy="228.5"/><circle cx="103" cy="238.7"/><circle cx="80" cy="254.3"/><circle cx="77.3" cy="245"/><circle cx="92.2" cy="219"/><circle cx="86" cy="231.7"/><circle cx="100" cy="247.7"/><circle cx="101.5" cy="217.9"/><circle cx="84.6" cy="236.5"/><circle cx="91.5" cy="249.2"/><circle cx="70.6" cy="242.9"/><circle cx="92.5" cy="253.1"/><circle cx="82" cy="233.7"/><circle cx="78.2" cy="226.2"/><circle cx="76.3" cy="236.4"/><circle cx="92.2" cy="237.4"/><circle cx="62.2" cy="247.3"/><circle cx="73.9" cy="243.5"/><circle cx="65.2" cy="250.7"/><circle cx="85.1" cy="247.5"/><circle cx="97.7" cy="241.1"/><circle cx="96.1" cy="231.8"/><circle cx="75.3" cy="237.6"/><circle cx="77.8" cy="244.2"/><circle cx="73.9" cy="237.8"/><circle cx="78.1" cy="248.2"/><circle cx="81.4" cy="236.9"/><circle cx="81.4" cy="242.9"/><circle cx="80.8" cy="223.3"/><circle cx="80.1" cy="237.4"/><circle cx="92.6" cy="228.9"/><circle cx="86.5" cy="241.6"/><circle cx="78.9" cy="239.7"/><circle cx="70.9" cy="245.8"/><circle cx="94.9" cy="233.7"/><circle cx="102.3" cy="241.6"/><circle cx="89.6" cy="237.3"/><circle cx="99.1" cy="230.7"/><circle cx="74.2" cy="227.3"/><circle cx="78.9" cy="228"/><circle cx="83.4" cy="239.7"/><circle cx="97.9" cy="226"/><circle cx="89.5" cy="236.3"/><circle cx="85.1" cy="226.9"/><circle cx="80.9" cy="232.4"/><circle cx="99.6" cy="236"/><circle cx="92.1" cy="226.6"/><circle cx="86.1" cy="248.9"/><circle cx="89.5" cy="241.6"/><circle cx="86.5" cy="235.6"/><circle cx="72.2" cy="253.9"/></g>
<g fill="#E76BF3" fill-opacity="0.65"><circle cx="92.2" cy="203.3"/><circle cx="90.1" cy="197"/><circle cx="75" cy="178.6"/><circle cx="94.4" cy="205.4"/><circle cx="100" cy="196.7"/><circle cx="85.1" cy="186.1"/><circle cx="62.5" cy="225.3"/><circle cx="120.7" cy="203"/><circle cx="106.7" cy="181.5"/><circle cx="101.6" cy="184.1"/><circle cx="72.6" cy="175.5"/><circle cx="121.7" cy="192.3"/><circle cx="65.4" cy="218.3"/><circle cx="95" cy="195.3"/><circle cx="112.5" cy="187"/><circle cx="103.1" cy="194.6"/><circle cx="118.7" cy="190.9"/><circle cx="100.3" cy="199"/><circle cx="103.1" cy="209.9"/><circle cx="52.8" cy="215"/><circle cx="73.5" cy="220.8"/><circle cx="69.9" cy="219"/><circle cx="105.7" cy="190.1"/><circle cx="73" cy="211.8"/><circle cx="95.4" cy="219"/><circle cx="101.7" cy="191.1"/><circle cx="107.4" cy="202.3"/><circle cx="106.4" cy="199.3"/><circle cx="76.3" cy="196.5"/><circle cx="91.1" cy="197.7"/><circle cx="95" cy="185.1"/><circle cx="57.6" cy="204.8"/><circle cx="74" cy="196.2"/><circle cx="85.7" cy="201.4"/><circle cx="92.4" cy="182.5"/><circle cx="102.3" cy="190.3"/><circle cx="76.2" cy="207.8"/><circle cx="90.7" cy="200.4"/><circle cx="73.3" cy="207.4"/><circle cx="83.2" cy="202.2"/><circle cx="66.5" cy="210.2"/><circle cx="71.7" cy="209.3"/><circle cx="86.6" cy="183.8"/><circle cx="76.8" cy="218.4"/><circle cx="102.2" cy="199.6"/><circle cx="71" cy="224"/><circle cx="113.4" cy="195.4"/><circle cx="87.3" cy="189.4"/><circle cx="67.8" cy="225.7"/><circle cx="96.9" cy="192.1"/><circle cx="98.3" cy="194.7"/><circle cx="88" cy="203.9"/><circle cx="78.9" cy="219.8"/><circle cx="100.5" cy="191.1"/><circle cx="71.6" cy="199.1"/><circle cx="101.2" cy="187.1"/><circle cx="91.7" cy="187.5"/><circle cx="76.6" cy="206.5"/><circle cx="90.4" cy="190.8"/><circle cx="74.2" cy="202"/><circle cx="79.3" cy="204.6"/><circle cx="102.4" cy="198.4"/><circle cx="116" cy="191.9"/><circle cx="93.9" cy="198.2"/><circle cx="91.4" cy="197.1"/><circle cx="97.3" cy="177.6"/><circle cx="107.1" cy="201.1"/><circle cx="78.4" cy="199"/><circle cx="70" cy="197.3"/><circle cx="78.3" cy="221.1"/><circle cx="71" cy="211.4"/><circle cx="77.5" cy="204.9"/><circle cx="64.9" cy="224.2"/><circle cx="64.5" cy="216.9"/><circle cx="102.1" cy="199.7"/><circle cx="74.8" cy="206.1"/><circle cx="103.7" cy="195.8"/><circle cx="52.1" cy="204.2"/><circle cx="86" cy="204.4"/><circle cx="79.4" cy="212.8"/><circle cx="71.8" cy="217.1"/><circle cx="90.4" cy="188.5"/><circle cx="55.1" cy="223.5"/><circle cx="84.5" cy="201"/><circle cx="119.6" cy="178.9"/><circle cx="61.8" cy="206.5"/><circle cx="87.5" cy="204.2"/><circle cx="88.9" cy="209.7"/><circle cx="122.3" cy="179"/><circle cx="71.2" cy="205.4"/><circle cx="79.7" cy="213.5"/><circle cx="84.9" cy="180.8"/><circle cx="118.8" cy="196.8"/><circle cx="106.7" cy="180.8"/><circle cx="65.9" cy="200"/><circle cx="85.7" cy="197.1"/><circle cx="113.5" cy="187.9"/><circle cx="69.7" cy="206"/><circle cx="125.5" cy="173.5"/><circle cx="130" cy="169.4"/><circle cx="88.4" cy="197.9"/><circle cx="101.3" cy="203.5"/><circle cx="97.6" cy="203.1"/><circle cx="75" cy="207"/><circle cx="82.5" cy="210.9"/><circle cx="88.6" cy="192.2"/><circle cx="104.6" cy="189"/><circle cx="92.4" cy="170.4"/><circle cx="108.7" cy="192.8"/><circle cx="62.7" cy="222.9"/><circle cx="53.1" cy="214.6"/><circle cx="56.2" cy="223.2"/><circle cx="64.8" cy="183.8"/><circle cx="103.8" cy="200.1"/><circle cx="83.5" cy="204.6"/><circle cx="84.3" cy="203.1"/><circle cx="97.5" cy="200.1"/><circle cx="93.4" cy="195.7"/><circle cx="83.3" cy="214.9"/><circle cx="68.4" cy="207.8"/><circle cx="95.7" cy="183.3"/><circle cx="66.1" cy="200.6"/><circle cx="92" cy="211.9"/><circle cx="75.1" cy="198.9"/><circle cx="95.1" cy="195.6"/><circle cx="63.9" cy="218.6"/><circle cx="74.5" cy="212"/><circle cx="122.1" cy="184.8"/><circle cx="101.5" cy="196.2"/><circle cx="104.7" cy="194"/><circle cx="82.8" cy="197.6"/><circle cx="81" cy="200.4"/><circle cx="113.4" cy="205.2"/><circle cx="88" cy="194.4"/><circle cx="105.3" cy="189.4"/><circle cx="84.3" cy="215.7"/><circle cx="82.2" cy="198.4"/><circle cx="64.3" cy="214.7"/><circle cx="78" cy="203.2"/><circle cx="70.8" cy="203.1"/><circle cx="112" cy="197.2"/><circle cx="104" cy="197.8"/><circle cx="96.3" cy="195.4"/><circle cx="66.8" cy="204.7"/><circle cx="99.9" cy="180.3"/><circle cx="82.6" cy="223.6"/><circle cx="86.9" cy="199.8"/><circle cx="91.1" cy="199.3"/><circle cx="62.9" cy="214"/><circle cx="80.9" cy="198.4"/><circle cx="94.3" cy="201.8"/><circle cx="120.7" cy="171.5"/><circle cx="94.2" cy="190.2"/><circle cx="107.4" cy="207.9"/><circle cx="83.5" cy="208.1"/><circle cx="112.6" cy="206.9"/><circle cx="77.7" cy="188.8"/><circle cx="99" cy="204.5"/><circle cx="108.9" cy="189.6"/><circle cx="88.9" cy="198.8"/><circle cx="111" cy="187.3"/><circle cx="85.4" cy="192.6"/><circle cx="101" cy="174.2"/><circle cx="98.5" cy="194.7"/><circle cx="128.8" cy="175.5"/><circle cx="74.3" cy="183.8"/><circle cx="95" cy="209"/><circle cx="80.5" cy="187"/><circle cx="73.5" cy="225.9"/><circle cx="76.2" cy="213"/><circle cx="91.3" cy="191.5"/><circle cx="77.6" cy="208.5"/><circle cx="91.2" cy="180.1"/><circle cx="92.1" cy="206.3"/><circle cx="95.3" cy="178.7"/><circle cx="87.5" cy="185.8"/><circle cx="93.6" cy="206.7"/><circle cx="116.8" cy="183.8"/><circle cx="84.9" cy="192.7"/><circle cx="86" cy="202.1"/><circle cx="76.4" cy="194.4"/><circle cx="95.5" cy="209.7"/><circle cx="89.4" cy="200.2"/><circle cx="102" cy="188.2"/><circle cx="66.8" cy="207.3"/><circle cx="105.3" cy="182.5"/><circle cx="85.5" cy="196.6"/><circle cx="74" cy="202.2"/><circle cx="102.2" cy="192.1"/><circle cx="83.2" cy="203.7"/><circle cx="71.5" cy="209.4"/><circle cx="111.1" cy="190.2"/><circle cx="88.4" cy="208.1"/><circle cx="102.3" cy="201.1"/><circle cx="104.6" cy="178.5"/><circle cx="116.2" cy="186.8"/><circle cx="104.4" cy="174.5"/><circle cx="58.7" cy="216.8"/><circle cx="101" cy="200.3"/><circle cx="99.1" cy="178.8"/><circle cx="106.5" cy="197.5"/><circle cx="95.4" cy="201.6"/><circle cx="119.7" cy="180"/><circle cx="87.6" cy="213.7"/><circle cx="111.3" cy="193.4"/><circle cx="106" cy="188.1"/><circle cx="70.8" cy="213"/><circle cx="107.9" cy="192.3"/><circle cx="98.5" cy="194"/><circle cx="92" cy="191.2"/><circle cx="88.3" cy="197.2"/><circle cx="88.5" cy="199.8"/><circle cx="94.6" cy="196.4"/><circle cx="113.8" cy="186.9"/><circle cx="114.6" cy="186.7"/><circle cx="95.8" cy="180.4"/><circle cx="103.6" cy="200.3"/><circle cx="109.7" cy="193.2"/><circle cx="115.6" cy="176.8"/><circle cx="103.6" cy="198.7"/><circle cx="118.3" cy="184.2"/><circle cx="113.9" cy="176.2"/><circle cx="112.8" cy="192.8"/><circle cx="133.2" cy="172.5"/><circle cx="93.5" cy="198.4"/><circle cx="103.6" cy="202.3"/><circle cx="88.2" cy="194.5"/><circle cx="104.2" cy="184.8"/><circle cx="101" cy="171.1"/><circle cx="101.4" cy="175.8"/><circle cx="87.5" cy="208"/><circle cx="86.5" cy="203.2"/><circle cx="96" cy="225.2"/><circle cx="99.9" cy="194.8"/><circle cx="89.1" cy="208.7"/><circle cx="80.9" cy="197.4"/><circle cx="100.5" cy="206.1"/><circle cx="104.9" cy="194.2"/><circle cx="72.7" cy="199"/><circle cx="59.3" cy="219.3"/><circle cx="78" cy="202.1"/><circle cx="90.5" cy="194.1"/><circle cx="93.4" cy="202.3"/><circle cx="67.7" cy="214.9"/><circle cx="66.8" cy="204.9"/><circle cx="91.9" cy="190.2"/><circle cx="93.7" cy="206.9"/><circle cx="61.9" cy="196.5"/><circle cx="95.4" cy="190.5"/><circle cx="97.4" cy="200.7"/><circle cx="83" cy="206.9"/><circle cx="127.2" cy="171.4"/><circle cx="82.7" cy="182.1"/><circle cx="110.7" cy="216.1"/><circle cx="108.5" cy="185.8"/><circle cx="105.3" cy="205.3"/><circle cx="91.8" cy="211.4"/><circle cx="105" cy="189.6"/><circle cx="60.2" cy="218.8"/><circle cx="74.5" cy="209.9"/><circle cx="72.5" cy="202.6"/><circle cx="90.6" cy="198.3"/><circle cx="84.7" cy="207.1"/><circle cx="90.7" cy="196.8"/><circle cx="116.8" cy="195.6"/><circle cx="112" cy="180.5"/><circle cx="120.4" cy="184.7"/><circle cx="122.5" cy="198"/><circle cx="127.8" cy="179"/><circle cx="103.6" cy="200.2"/><circle cx="97.8" cy="199.6"/><circle cx="101.3" cy="206.3"/><circle cx="93.8" cy="173.1"/><circle cx="108.2" cy="203.2"/><circle cx="98.9" cy="191.7"/><circle cx="103.6" cy="208"/><circle cx="65.4" cy="203.2"/><circle cx="111.9" cy="183.8"/><circle cx="98.8" cy="192"/><circle cx="91.9" cy="199.4"/><circle cx="110.7" cy="188"/><circle cx="77.4" cy="213.3"/><circle cx="88.6" cy="202.1"/><circle cx="96.2" cy="206.7"/><circle cx="70.3" cy="202.4"/><circle cx="133.8" cy="165.4"/><circle cx="95.1" cy="192.1"/><circle cx="54" cy="198.5"/><circle cx="50" cy="199.8"/><circle cx="82.9" cy="209.7"/><circle cx="96.7" cy="185.5"/><circle cx="86.5" cy="218.3"/><circle cx="93.4" cy="175.3"/><circle cx="68.9" cy="215.9"/><circle cx="71.3" cy="201.7"/><circle cx="125.4" cy="171.5"/><circle cx="122.3" cy="179"/><circle cx="66.8" cy="223.8"/><circle cx="52.4" cy="212.2"/><circle cx="115.9" cy="206"/><circle cx="107.8" cy="192.9"/><circle cx="58.4" cy="213.1"/><circle cx="94" cy="202"/><circle cx="69.8" cy="203.5"/><circle cx="116.1" cy="207.1"/><circle cx="80.5" cy="213.3"/><circle cx="105.1" cy="192.8"/><circle cx="66.7" cy="198.7"/><circle cx="82.6" cy="205.2"/><circle cx="102.6" cy="191"/><circle cx="105" cy="179.9"/><circle cx="74" cy="205.8"/><circle cx="84.5" cy="199.3"/><circle cx="122.5" cy="192.7"/><circle cx="101.6" cy="194.9"/><circle cx="76.4" cy="201"/><circle cx="103.6" cy="186.4"/><circle cx="89.8" cy="204.3"/><circle cx="73.7" cy="215.3"/><circle cx="74.6" cy="215.5"/><circle cx="61.7" cy="201.7"/><circle cx="91.4" cy="214"/><circle cx="79.8" cy="203.8"/><circle cx="57" cy="219.4"/><circle cx="54.4" cy="212"/><circle cx="88.1" cy="216.2"/><circle cx="72.4" cy="209.2"/><circle cx="90.5" cy="199.3"/><circle cx="77.3" cy="223.8"/><circle cx="81.1" cy="213.1"/><circle cx="87.5" cy="198.3"/><circle cx="80.6" cy="191.4"/><circle cx="64.5" cy="205.8"/><circle cx="86.8" cy="212.5"/><circle cx="127.1" cy="172.6"/><circle cx="96.7" cy="180.9"/><circle cx="105.5" cy="172.3"/><circle cx="106.7" cy="175.6"/><circle cx="98.4" cy="199.6"/><circle cx="109.7" cy="189.1"/><circle cx="90.9" cy="190.7"/><circle cx="56.1" cy="217.1"/><circle cx="89.5" cy="187.6"/><circle cx="66.2" cy="206.7"/><circle cx="111.4" cy="186.2"/><circle cx="82.6" cy="205.8"/><circle cx="108.1" cy="192.4"/><circle cx="87.5" cy="219.1"/><circle cx="78.2" cy="211.1"/><circle cx="100.8" cy="200.2"/><circle cx="105.2" cy="181.5"/><circle cx="114.1" cy="192"/><circle cx="107.4" cy="198.5"/><circle cx="81.8" cy="216.7"/><circle cx="111.9" cy="196.6"/><circle cx="73.5" cy="217.1"/><circle cx="91.8" cy="198.3"/><circle cx="77.1" cy="201.1"/><circle cx="77.7" cy="211.8"/><circle cx="83.2" cy="186.8"/><circle cx="93.1" cy="178.3"/><circle cx="88.4" cy="190.8"/><circle cx="120.1" cy="187"/><circle cx="59.9" cy="213.4"/><circle cx="113.6" cy="196"/><circle cx="116.3" cy="170.6"/><circle cx="90.4" cy="198.8"/><circle cx="130.4" cy="178.3"/><circle cx="91.9" cy="181.3"/><circle cx="59.1" cy="199.5"/><circle cx="123.9" cy="191.2"/><circle cx="65.7" cy="212.5"/><circle cx="79.5" cy="200"/><circle cx="111.9" cy="184.3"/><circle cx="113" cy="195.1"/><circle cx="83.9" cy="209.1"/><circle cx="71.1" cy="203.6"/><circle cx="101.4" cy="192.9"/><circle cx="115.7" cy="152.7"/><circle cx="97.1" cy="205.8"/><circle cx="74.6" cy="201"/><circle cx="130" cy="189.7"/><circle cx="62.7" cy="192.6"/><circle cx="68.6" cy="214.8"/><circle cx="83.8" cy="197.4"/><circle cx="53.5" cy="212.3"/><circle cx="64.3" cy="202.9"/><circle cx="104.1" cy="202.3"/><circle cx="73.2" cy="211.2"/><circle cx="107.9" cy="191.1"/><circle cx="115.3" cy="185.4"/><circle cx="110.1" cy="192.8"/><circle cx="107.1" cy="197.1"/><circle cx="117.1" cy="190.9"/><circle cx="71.2" cy="193.6"/><circle cx="95" cy="178.9"/><circle cx="90" cy="197.1"/><circle cx="101.8" cy="182.4"/><circle cx="64.2" cy="213.6"/><circle cx="90.9" cy="202.9"/><circle cx="118" cy="183.9"/><circle cx="78.2" cy="201.1"/><circle cx="96.4" cy="207"/><circle cx="74.3" cy="207.2"/><circle cx="112" cy="193.1"/><circle cx="101.1" cy="193.4"/><circle cx="75.3" cy="224"/><circle cx="67.5" cy="219"/><circle cx="97.6" cy="195.2"/><circle cx="124.5" cy="178.1"/><circle cx="102.2" cy="197.4"/><circle cx="107.2" cy="179.7"/><circle cx="78.8" cy="202.7"/><circle cx="111.5" cy="194.3"/><circle cx="75.8" cy="182.8"/><circle cx="99.6" cy="184.4"/><circle cx="120.5" cy="184.7"/><circle cx="130" cy="185.6"/><circle cx="101.8" cy="178.5"/><circle cx="122.8" cy="193.5"/><circle cx="76.4" cy="207"/><circle cx="76.9" cy="200.6"/><circle cx="89.5" cy="210.5"/><circle cx="75.9" cy="203.7"/><circle cx="62.7" cy="208.4"/><circle cx="78.2" cy="218.7"/><circle cx="86.9" cy="197.5"/><circle cx="97.3" cy="196"/><circle cx="106.6" cy="200"/><circle cx="105.1" cy="173.5"/><circle cx="126.1" cy="196.5"/><circle cx="109.7" cy="201.8"/><circle cx="84.8" cy="207.3"/><circle cx="85.1" cy="191.5"/><circle cx="85.7" cy="202"/><circle cx="101.3" cy="192.5"/><circle cx="91.8" cy="208.5"/><circle cx="102.1" cy="181.9"/><circle cx="101.6" cy="181.9"/><circle cx="73.1" cy="204.8"/><circle cx="79.9" cy="204.9"/><circle cx="58.2" cy="226.4"/><circle cx="85" cy="220"/><circle cx="79.3" cy="194.1"/><circle cx="86.9" cy="191.2"/><circle cx="85" cy="191.9"/><circle cx="102.1" cy="192.1"/><circle cx="90.9" cy="197.1"/><circle cx="121.7" cy="179"/><circle cx="123.4" cy="180.5"/></g>
<g fill="#E76BF3" fill-opacity="0.65"><circle cx="58.4" cy="229.3"/><circle cx="54.2" cy="231.1"/><circle cx="52" cy="246.4"/><circle cx="48.8" cy="235.4"/><circle cx="59.8" cy="236"/><circle cx="48.6" cy="235.7"/><circle cx="61.8" cy="238.7"/><circle cx="57.1" cy="236.5"/></g>
<g fill="#C77CFF" fill-opacity="0.65"><circle cx="115" cy="226.4"/><circle cx="98.8" cy="229.5"/><circle cx="94.8" cy="239"/><circle cx="88.6" cy="250"/><circle cx="76.7" cy="254.5"/><circle cx="110.7" cy="234"/><circle cx="73.2" cy="250.7"/><circle cx="110.1" cy="219.6"/><circle cx="86.3" cy="229.3"/><circle cx="83.4" cy="246.7"/><circle cx="87.1" cy="225.8"/><circle cx="100.9" cy="225.1"/><circle cx="67.3" cy="250.1"/><circle cx="80.2" cy="254"/><circle cx="101.7" cy="225.9"/><circle cx="104.3" cy="230.7"/><circle cx="94.5" cy="227.4"/><circle cx="84.5" cy="230.6"/><circle cx="88.9" cy="239"/><circle cx="99.9" cy="238.1"/><circle cx="124.8" cy="214.2"/><circle cx="101.7" cy="232.3"/><circle cx="98.2" cy="232.1"/><circle cx="103.7" cy="235.8"/><circle cx="107.8" cy="223.9"/></g>
<g fill="#C49A00" fill-opacity="0.65"><circle cx="159.2" cy="176.4"/><circle cx="141.9" cy="182.6"/><circle cx="127.2" cy="191.7"/><circle cx="133.6" cy="186.6"/><circle cx="130.5" cy="175.5"/><circle cx="143.9" cy="189.6"/><circle cx="133.7" cy="186"/><circle cx="136.8" cy="192.7"/><circle cx="126.7" cy="197"/><circle cx="117.6" cy="193.3"/><circle cx="134.4" cy="202.8"/><circle cx="135.1" cy="197.6"/><circle cx="148.3" cy="191"/><circle cx="133.5" cy="180.5"/><circle cx="141.3" cy="184.8"/><circle cx="148.7" cy="183.1"/><circle cx="150.4" cy="182.4"/><circle cx="129.6" cy="207.3"/><circle cx="160.9" cy="188.7"/><circle cx="111.6" cy="209.9"/><circle cx="119.7" cy="194.7"/><circle cx="146.6" cy="187.3"/><circle cx="141.9" cy="186.9"/><circle cx="137" cy="197.8"/><circle cx="141.1" cy="185.1"/><circle cx="143.4" cy="194.3"/><circle cx="139.5" cy="184.6"/><circle cx="141.7" cy="181.2"/><circle cx="136.6" cy="195.2"/><circle cx="142.4" cy="196.7"/><circle cx="143.5" cy="190.1"/><circle cx="128" cy="196.3"/><circle cx="131.7" cy="192.6"/><circle cx="154.1" cy="181.6"/><circle cx="117.1" cy="197.8"/><circle cx="161.8" cy="168.1"/><circle cx="138.4" cy="191.3"/><circle cx="125.8" cy="201.5"/><circle cx="135.7" cy="190.1"/><circle cx="129.9" cy="192"/><circle cx="137.3" cy="187.9"/><circle cx="146.3" cy="184.8"/><circle cx="126.4" cy="200.6"/><circle cx="133.1" cy="184.9"/><circle cx="125.1" cy="195.7"/><circle cx="151.9" cy="180.8"/><circle cx="146.5" cy="176.7"/><circle cx="121.1" cy="195.9"/><circle cx="139.7" cy="194.7"/><circle cx="144.9" cy="201.5"/><circle cx="144.6" cy="189.9"/><circle cx="134.7" cy="196"/><circle cx="133.7" cy="201.8"/><circle cx="141.4" cy="186.4"/><circle cx="154" cy="181.9"/><circle cx="137.2" cy="199.6"/><circle cx="150.7" cy="191.5"/><circle cx="154.8" cy="181.7"/><circle cx="138.2" cy="194.3"/><circle cx="135.6" cy="180.2"/><circle cx="141.9" cy="191.4"/><circle cx="139.5" cy="190.8"/><circle cx="132.3" cy="192.2"/><circle cx="127.2" cy="189.2"/><circle cx="122.7" cy="190.6"/><circle cx="148.9" cy="192.8"/><circle cx="135.3" cy="200"/><circle cx="130.9" cy="201.2"/><circle cx="145.3" cy="183.3"/><circle cx="138.3" cy="184.5"/><circle cx="132" cy="194.5"/><circle cx="125.9" cy="178.9"/><circle cx="131.1" cy="196.6"/><circle cx="122.1" cy="199.8"/><circle cx="150.6" cy="180.4"/><circle cx="136.9" cy="196.7"/><circle cx="137.6" cy="187.3"/><circle cx="136.2" cy="186.6"/><circle cx="140.7" cy="191.5"/><circle cx="146.8" cy="193"/><circle cx="149.3" cy="178.2"/><circle cx="116.2" cy="190.9"/><circle cx="141.7" cy="185"/><circle cx="127" cy="178.7"/><circle cx="135.9" cy="184.4"/><circle cx="154.1" cy="182.2"/><circle cx="125.9" cy="187.6"/><circle cx="129.6" cy="194.8"/><circle cx="151.9" cy="193.9"/><circle cx="131.9" cy="207.3"/><circle cx="152.6" cy="194.6"/><circle cx="139.3" cy="191.6"/><circle cx="120.8" cy="190.9"/><circle cx="125.8" cy="185.6"/><circle cx="159.9" cy="185.7"/><circle cx="117.5" cy="186.4"/><circle cx="133" cy="195.6"/><circle cx="140.5" cy="187"/><circle cx="127.3" cy="190.4"/><circle cx="124" cy="192.7"/><circle cx="140.4" cy="173.6"/><circle cx="119.8" cy="179.8"/><circle cx="154.2" cy="182"/><circle cx="140.4" cy="185.1"/><circle cx="157.2" cy="184.2"/><circle cx="122.9" cy="188.4"/><circle cx="121.6" cy="200.6"/><circle cx="120.9" cy="210.6"/><circle cx="130.1" cy="198.1"/><circle cx="143.2" cy="191.1"/><circle cx="119.6" cy="207"/><circle cx="128.3" cy="196.6"/><circle cx="143" cy="166.8"/><circle cx="131" cy="197.1"/><circle cx="140.1" cy="191.6"/><circle cx="144.3" cy="184.8"/><circle cx="142.6" cy="162.3"/><circle cx="159.9" cy="165.1"/><circle cx="139.8" cy="194"/><circle cx="127.7" cy="188.5"/><circle cx="139.7" cy="181.8"/><circle cx="133.5" cy="190.4"/><circle cx="118.9" cy="205.6"/><circle cx="150.8" cy="193"/><circle cx="141.6" cy="184.4"/><circle cx="129.4" cy="190.6"/><circle cx="140.7" cy="180.4"/><circle cx="132" cy="203.8"/><circle cx="144.8" cy="193.8"/><circle cx="113.9" cy="190.9"/></g>
<g stroke-width="2.3"><line x1="79.6" y1="122.6" x2="204.3" y2="50.3" stroke="#F8702E"/><line x1="100" y1="123" x2="163.5" y2="86.2" stroke="#D89000"/><line x1="85" y1="131.5" x2="144.4" y2="97" stroke="#C77CFF"/><line x1="58" y1="149.9" x2="118" y2="115.1" stroke="#F8766D"/><line x1="50" y1="169" x2="140" y2="116.8" stroke="#FF62BC"/><line x1="49" y1="182.1" x2="115.3" y2="143.6" stroke="#35A2FF"/><line x1="126" y1="138.7" x2="191.6" y2="100.7" stroke="#00C1A3"/><line x1="50" y1="185" x2="122" y2="143.2" stroke="#00BA38"/><line x1="52" y1="186.3" x2="150" y2="129.5" stroke="#FF62BC"/><line x1="50" y1="190.5" x2="140" y2="138.3" stroke="#FF6C91"/><line x1="50" y1="203.4" x2="145" y2="148.3" stroke="#00BA38"/><line x1="49" y1="206.8" x2="135" y2="156.9" stroke="#00A9FF"/><line x1="50" y1="209.5" x2="150" y2="151.5" stroke="#FF62BC"/><line x1="52" y1="212.5" x2="151" y2="155.1" stroke="#E76BF3"/><line x1="50" y1="217" x2="140" y2="164.8" stroke="#FF62BC"/><line x1="49" y1="220.1" x2="100" y2="190.5" stroke="#00BA38"/><line x1="60" y1="215.8" x2="208" y2="130" stroke="#8F87FF"/><line x1="51.3" y1="223.8" x2="140" y2="172.3" stroke="#FA62DB"/><line x1="57.5" y1="227.5" x2="161.3" y2="167.2" stroke="#C49A00"/><line x1="62.7" y1="230.6" x2="130" y2="191.6" stroke="#E76BF3"/><line x1="71.9" y1="236.1" x2="121" y2="207.6" stroke="#00B0F6"/></g></g>
<text x="23.3" y="12.7" class="t">Unadjusted analysis</text>
<text x="18.6" y="221.6" class="tk" text-anchor="end">3</text>
<text x="69.4" y="274.9" class="tk" text-anchor="middle">3</text>
<text x="18.6" y="150.9" class="tk" text-anchor="end">6</text>
<text x="140.0" y="274.9" class="tk" text-anchor="middle">6</text>
<text x="18.6" y="80.3" class="tk" text-anchor="end">9</text>
<text x="210.5" y="274.9" class="tk" text-anchor="middle">9</text>
<text x="146.2" y="285.8" class="ax" text-anchor="middle">COcont (L/min)</text>
<text transform="translate(10.2,142.4) rotate(-90)" class="ax" text-anchor="middle">CO−FloTrac (L/min)</text>
<text x="175.3" y="221.9" class="ax" text-anchor="middle">RM correlation = 0.479</text>
<text x="175.3" y="245.5" class="ax" text-anchor="middle">RMSE= 1.73 L/min</text>
</g>
<g transform="translate(275,0)">
<line x1="34.1" y1="19.5" x2="34.1" y2="264.5" class="mn"/>
<line x1="23.0" y1="254.3" x2="271.0" y2="254.3" class="mn"/>
<line x1="104.7" y1="19.5" x2="104.7" y2="264.5" class="mn"/>
<line x1="23.0" y1="183.7" x2="271.0" y2="183.7" class="mn"/>
<line x1="175.2" y1="19.5" x2="175.2" y2="264.5" class="mn"/>
<line x1="23.0" y1="113.0" x2="271.0" y2="113.0" class="mn"/>
<line x1="245.8" y1="19.5" x2="245.8" y2="264.5" class="mn"/>
<line x1="23.0" y1="42.4" x2="271.0" y2="42.4" class="mn"/>
<line x1="69.4" y1="19.5" x2="69.4" y2="264.5" class="mj"/>
<line x1="23.0" y1="219.0" x2="271.0" y2="219.0" class="mj"/>
<line x1="140.0" y1="19.5" x2="140.0" y2="264.5" class="mj"/>
<line x1="23.0" y1="148.3" x2="271.0" y2="148.3" class="mj"/>
<line x1="210.5" y1="19.5" x2="210.5" y2="264.5" class="mj"/>
<line x1="23.0" y1="77.7" x2="271.0" y2="77.7" class="mj"/>
<g filter="url(#soft)"><g fill="#FF62BC" fill-opacity="0.65"><circle cx="79.8" cy="156"/><circle cx="100.8" cy="154.6"/><circle cx="60.5" cy="150.3"/><circle cx="77.5" cy="131.9"/><circle cx="75.1" cy="142.5"/><circle cx="89.5" cy="129.7"/><circle cx="108" cy="128.1"/><circle cx="128" cy="122.3"/><circle cx="77.7" cy="154.7"/><circle cx="103" cy="140.4"/><circle cx="74.8" cy="154.6"/><circle cx="57" cy="183.3"/><circle cx="64.1" cy="152.3"/><circle cx="97.5" cy="145.5"/><circle cx="90.6" cy="152.9"/><circle cx="90.9" cy="139.6"/><circle cx="82.3" cy="172"/><circle cx="68.2" cy="150.5"/><circle cx="100.7" cy="110.5"/><circle cx="52.6" cy="198.7"/><circle cx="112" cy="133.3"/><circle cx="98" cy="114.6"/><circle cx="66" cy="160.1"/><circle cx="100.7" cy="108.4"/><circle cx="96.7" cy="120.7"/><circle cx="72.9" cy="148.9"/><circle cx="67.4" cy="157.1"/><circle cx="119.7" cy="129.3"/><circle cx="82.1" cy="159.5"/><circle cx="85.8" cy="159.1"/><circle cx="85.2" cy="172.6"/><circle cx="86.2" cy="126"/><circle cx="96.2" cy="129.2"/><circle cx="68.8" cy="149.4"/><circle cx="113.4" cy="95.6"/><circle cx="92.5" cy="139.1"/><circle cx="89.8" cy="156.7"/><circle cx="59.2" cy="167.1"/><circle cx="87.7" cy="145.7"/><circle cx="88" cy="138"/><circle cx="80" cy="154.2"/><circle cx="116.6" cy="141.5"/><circle cx="81.5" cy="157.1"/><circle cx="116.2" cy="149.7"/><circle cx="101.9" cy="151.9"/><circle cx="131.3" cy="164.3"/><circle cx="129.2" cy="155.6"/><circle cx="103.7" cy="152.1"/><circle cx="99.6" cy="144.7"/><circle cx="83" cy="158.4"/><circle cx="133.5" cy="122.9"/><circle cx="102.1" cy="149.6"/><circle cx="96.1" cy="157.6"/><circle cx="102.4" cy="118.8"/><circle cx="68.6" cy="165.6"/><circle cx="112.4" cy="153.7"/><circle cx="102.5" cy="142.5"/><circle cx="54.5" cy="183.1"/><circle cx="71.8" cy="169.8"/><circle cx="66.1" cy="143"/><circle cx="100.2" cy="132.8"/><circle cx="77.8" cy="164.9"/><circle cx="113.9" cy="141.2"/><circle cx="87.4" cy="131.4"/><circle cx="83.8" cy="138.1"/><circle cx="95.7" cy="155.3"/><circle cx="92" cy="130.2"/><circle cx="80.2" cy="170.6"/><circle cx="100.8" cy="144.1"/><circle cx="103.9" cy="149"/><circle cx="100.2" cy="160.5"/><circle cx="93.1" cy="193.9"/><circle cx="63.3" cy="158.2"/><circle cx="125" cy="130.1"/><circle cx="131.8" cy="105.7"/><circle cx="64.2" cy="152.5"/><circle cx="77.6" cy="131.7"/><circle cx="111.8" cy="140.4"/><circle cx="97.2" cy="135"/><circle cx="103.8" cy="137.1"/><circle cx="78" cy="158.7"/><circle cx="106.7" cy="139.3"/><circle cx="115.1" cy="115.6"/><circle cx="93.2" cy="134.7"/><circle cx="131.7" cy="136.1"/><circle cx="87.4" cy="127.4"/><circle cx="109.6" cy="131.9"/><circle cx="92.9" cy="125.7"/><circle cx="112.6" cy="138.6"/><circle cx="107.5" cy="142.9"/><circle cx="89.9" cy="134.2"/><circle cx="83.2" cy="164.1"/><circle cx="94.4" cy="168.8"/><circle cx="101.7" cy="151.7"/><circle cx="110.2" cy="150.2"/><circle cx="64.3" cy="174.3"/><circle cx="99.8" cy="124.2"/><circle cx="113" cy="141.2"/><circle cx="130.5" cy="140.4"/><circle cx="106.5" cy="110.3"/><circle cx="117.2" cy="141.4"/><circle cx="128.7" cy="114"/><circle cx="115.2" cy="134.7"/><circle cx="70.9" cy="159.2"/><circle cx="106.2" cy="167.1"/><circle cx="121.5" cy="104.4"/><circle cx="91.6" cy="128.4"/><circle cx="59.1" cy="154.6"/><circle cx="66.9" cy="142.9"/><circle cx="119.4" cy="136.6"/><circle cx="77.4" cy="131.1"/><circle cx="92.1" cy="173.5"/><circle cx="83.8" cy="177"/><circle cx="76.5" cy="147"/><circle cx="115.1" cy="121.3"/><circle cx="98.4" cy="118.4"/><circle cx="114.2" cy="154.5"/><circle cx="80.1" cy="152.3"/><circle cx="113.3" cy="149.2"/><circle cx="107.1" cy="140.7"/><circle cx="49.5" cy="156.6"/><circle cx="86.1" cy="143"/><circle cx="115.1" cy="122.1"/><circle cx="62.5" cy="137.3"/><circle cx="108.9" cy="153.2"/><circle cx="118" cy="160.3"/><circle cx="83.5" cy="164.5"/><circle cx="114.8" cy="131.7"/><circle cx="77.4" cy="165.1"/><circle cx="79.3" cy="144.4"/><circle cx="71.7" cy="182.3"/><circle cx="95.6" cy="134.1"/><circle cx="90.5" cy="140.8"/><circle cx="99.3" cy="112"/><circle cx="66.8" cy="163.3"/><circle cx="125.1" cy="113"/><circle cx="99.9" cy="131"/><circle cx="88.9" cy="126.9"/><circle cx="119.6" cy="128.9"/><circle cx="95.9" cy="117.5"/><circle cx="100.7" cy="107.3"/><circle cx="102.7" cy="163"/><circle cx="65.4" cy="169.7"/><circle cx="133.5" cy="123.2"/><circle cx="126" cy="131.2"/><circle cx="68.9" cy="128.5"/><circle cx="103.7" cy="136.2"/><circle cx="61.8" cy="186.1"/><circle cx="66.7" cy="180"/><circle cx="125.2" cy="131.4"/><circle cx="79.8" cy="148.4"/><circle cx="62.5" cy="167.5"/><circle cx="124.3" cy="118.6"/><circle cx="105" cy="121.2"/><circle cx="85.2" cy="159.3"/><circle cx="98.8" cy="141.8"/><circle cx="47.7" cy="165.7"/><circle cx="73.3" cy="128.1"/><circle cx="58.2" cy="160.7"/><circle cx="86.6" cy="157.9"/><circle cx="90.9" cy="144.5"/><circle cx="135.2" cy="139.6"/><circle cx="117" cy="158.7"/><circle cx="102.7" cy="122.7"/><circle cx="76.2" cy="124.1"/><circle cx="106.2" cy="131.2"/><circle cx="110.3" cy="150.6"/><circle cx="75.8" cy="154"/><circle cx="130.1" cy="129.5"/><circle cx="121.3" cy="128.4"/><circle cx="72.2" cy="148.5"/><circle cx="47.8" cy="174.8"/><circle cx="83.5" cy="170.6"/><circle cx="64.8" cy="157.7"/><circle cx="105.9" cy="134.8"/><circle cx="107" cy="124.9"/><circle cx="68.9" cy="129.7"/><circle cx="82.2" cy="134.3"/><circle cx="103.2" cy="133.1"/><circle cx="79.7" cy="136.7"/><circle cx="47.2" cy="156.6"/><circle cx="107.8" cy="114.6"/><circle cx="90.2" cy="156.4"/><circle cx="78.8" cy="152.9"/><circle cx="85.8" cy="188.9"/><circle cx="133.6" cy="146.9"/><circle cx="79" cy="160.7"/><circle cx="92.7" cy="150"/><circle cx="81.9" cy="151.1"/><circle cx="76.8" cy="155.5"/><circle cx="143.3" cy="99"/><circle cx="62.3" cy="165.2"/><circle cx="117.9" cy="126.8"/><circle cx="112.5" cy="142.8"/><circle cx="111.5" cy="159.7"/><circle cx="79.9" cy="160.6"/><circle cx="102.3" cy="127.9"/><circle cx="110.2" cy="114"/><circle cx="57.8" cy="177"/><circle cx="67.8" cy="183.5"/><circle cx="124.5" cy="121.5"/><circle cx="95" cy="114.5"/><circle cx="138.5" cy="95.4"/><circle cx="87.6" cy="168.9"/><circle cx="85.1" cy="132.7"/><circle cx="84.3" cy="153.8"/><circle cx="120.5" cy="128"/><circle cx="105.1" cy="155.4"/><circle cx="101.3" cy="143.1"/><circle cx="82.5" cy="161"/><circle cx="143.8" cy="104.9"/><circle cx="99" cy="123"/><circle cx="78.6" cy="146.4"/><circle cx="110" cy="121.9"/><circle cx="89" cy="169"/><circle cx="110.3" cy="148.5"/><circle cx="107.4" cy="134.2"/><circle cx="108" cy="146.3"/><circle cx="96.8" cy="159.8"/><circle cx="97" cy="157.6"/><circle cx="97.4" cy="154.4"/><circle cx="78.9" cy="139.7"/><circle cx="66" cy="175.8"/><circle cx="110.4" cy="139.9"/><circle cx="113.3" cy="120.6"/><circle cx="99.5" cy="132"/><circle cx="47.3" cy="158.2"/><circle cx="73.6" cy="176.5"/><circle cx="77" cy="139.5"/><circle cx="122.9" cy="130.8"/><circle cx="61.3" cy="160.8"/><circle cx="76.8" cy="180.1"/><circle cx="68.7" cy="140.9"/><circle cx="78.9" cy="182.1"/><circle cx="93.5" cy="126.6"/><circle cx="104.5" cy="133.7"/><circle cx="95.8" cy="185.8"/><circle cx="141.1" cy="107.3"/><circle cx="107.4" cy="138.3"/><circle cx="93.7" cy="155.8"/><circle cx="111.9" cy="140.2"/><circle cx="110" cy="132.9"/><circle cx="87" cy="170.4"/><circle cx="90.3" cy="179.4"/><circle cx="114.1" cy="135.8"/><circle cx="126.8" cy="120.8"/><circle cx="91.9" cy="138.2"/><circle cx="96.9" cy="153.9"/><circle cx="68.6" cy="139.5"/><circle cx="48.7" cy="174.9"/><circle cx="120.3" cy="137.9"/><circle cx="106.5" cy="147.1"/><circle cx="108.3" cy="148.4"/><circle cx="102.9" cy="122.3"/><circle cx="122" cy="154.7"/><circle cx="53.3" cy="156.3"/><circle cx="66.7" cy="163.5"/><circle cx="89.3" cy="170"/><circle cx="126.5" cy="121.5"/><circle cx="84.2" cy="137.1"/><circle cx="112.2" cy="119.3"/><circle cx="108.6" cy="112.8"/><circle cx="124.8" cy="138.6"/><circle cx="66" cy="141.3"/><circle cx="100.6" cy="145.3"/><circle cx="102.3" cy="166"/><circle cx="85" cy="123.4"/><circle cx="129.3" cy="132.5"/><circle cx="102.1" cy="150.5"/><circle cx="64.2" cy="144"/><circle cx="66.8" cy="134.8"/><circle cx="88.3" cy="127.2"/><circle cx="118.9" cy="103.9"/><circle cx="91.1" cy="141.7"/><circle cx="101.2" cy="147.9"/><circle cx="75.6" cy="134.9"/><circle cx="122.2" cy="170.5"/><circle cx="76" cy="154"/><circle cx="109.4" cy="167.4"/><circle cx="90.6" cy="131.6"/><circle cx="124.6" cy="117.7"/><circle cx="74" cy="160.8"/><circle cx="91.7" cy="125.8"/><circle cx="89.8" cy="137.7"/><circle cx="90.9" cy="131.6"/><circle cx="112.3" cy="129.3"/><circle cx="80.9" cy="167.1"/><circle cx="72.2" cy="165.4"/><circle cx="112.5" cy="130.3"/><circle cx="102.6" cy="113.8"/><circle cx="103.4" cy="121.3"/><circle cx="74" cy="156.1"/><circle cx="77.4" cy="152.4"/><circle cx="107.7" cy="155.5"/><circle cx="107.4" cy="155.5"/><circle cx="77" cy="143.9"/><circle cx="114" cy="155.2"/><circle cx="108.8" cy="127.8"/><circle cx="68.5" cy="137.4"/><circle cx="126.5" cy="112.6"/><circle cx="90.7" cy="155.5"/><circle cx="108.4" cy="125"/><circle cx="104.2" cy="152.9"/><circle cx="88.6" cy="157.4"/><circle cx="93.1" cy="128.2"/><circle cx="71.8" cy="159.1"/><circle cx="99.5" cy="138.1"/><circle cx="84.9" cy="142.7"/><circle cx="117.8" cy="152.1"/><circle cx="90.2" cy="149.2"/><circle cx="78.4" cy="134.1"/><circle cx="115.1" cy="98.5"/><circle cx="109.7" cy="148.3"/><circle cx="108.8" cy="162.4"/><circle cx="121.5" cy="115.6"/><circle cx="87.6" cy="126.1"/><circle cx="98.7" cy="153"/><circle cx="132.6" cy="136.6"/><circle cx="120.4" cy="150.3"/><circle cx="75.4" cy="162.6"/><circle cx="122.5" cy="128.2"/><circle cx="71.9" cy="155.2"/><circle cx="101" cy="152.1"/><circle cx="50.1" cy="155.3"/><circle cx="93.1" cy="138.6"/><circle cx="90" cy="128.3"/><circle cx="85.1" cy="146.3"/><circle cx="65.6" cy="153.9"/><circle cx="103.9" cy="117.1"/><circle cx="85.1" cy="120.4"/><circle cx="98.1" cy="145.3"/><circle cx="83.4" cy="148.9"/><circle cx="111.4" cy="147.6"/><circle cx="62" cy="151.2"/><circle cx="59.3" cy="125.5"/><circle cx="123.6" cy="143.8"/><circle cx="130.1" cy="141.2"/><circle cx="83.8" cy="151.1"/><circle cx="82.8" cy="171.2"/><circle cx="107.5" cy="128.1"/><circle cx="115.7" cy="154.7"/><circle cx="80.4" cy="172.3"/><circle cx="125.4" cy="103.1"/><circle cx="144.8" cy="101.7"/><circle cx="61.6" cy="173"/><circle cx="78.1" cy="153.7"/><circle cx="95.8" cy="125.1"/><circle cx="138.8" cy="149.8"/><circle cx="99" cy="168.1"/><circle cx="96.8" cy="146.5"/><circle cx="89.1" cy="122.8"/><circle cx="88.1" cy="129.5"/><circle cx="107.7" cy="140.1"/><circle cx="82" cy="170.2"/><circle cx="106.7" cy="169.1"/><circle cx="86.8" cy="139.7"/><circle cx="77.8" cy="154.1"/><circle cx="92.8" cy="144.4"/><circle cx="80.8" cy="155.7"/><circle cx="90.2" cy="139.6"/><circle cx="91.4" cy="145.5"/><circle cx="113.8" cy="152.3"/><circle cx="98" cy="127.8"/><circle cx="97" cy="138.8"/><circle cx="90" cy="124.2"/><circle cx="93.5" cy="112.5"/><circle cx="130" cy="140.7"/><circle cx="116.6" cy="117.9"/><circle cx="103.3" cy="161.2"/><circle cx="91.4" cy="126.1"/><circle cx="121.4" cy="139.2"/><circle cx="61.2" cy="169"/><circle cx="126.8" cy="140.5"/><circle cx="114.4" cy="161"/><circle cx="102.9" cy="163.5"/><circle cx="91.8" cy="132.5"/><circle cx="88.6" cy="127.8"/><circle cx="107.3" cy="125.8"/><circle cx="106.6" cy="143.4"/><circle cx="139.5" cy="154.3"/><circle cx="82.8" cy="145"/><circle cx="92.7" cy="133.3"/><circle cx="91.4" cy="120.8"/><circle cx="80.4" cy="149.5"/><circle cx="138" cy="103"/><circle cx="134.8" cy="101.8"/><circle cx="106.1" cy="118.4"/><circle cx="112.6" cy="136"/><circle cx="95.1" cy="142.3"/><circle cx="59.2" cy="166.1"/><circle cx="93.7" cy="124"/><circle cx="115.8" cy="150.7"/><circle cx="91.7" cy="122.6"/><circle cx="67.4" cy="149.1"/><circle cx="73.7" cy="156.5"/><circle cx="74" cy="166.8"/><circle cx="127.6" cy="118.8"/><circle cx="97.6" cy="148"/><circle cx="72.2" cy="171.2"/><circle cx="79.2" cy="129.2"/><circle cx="118.1" cy="140.7"/><circle cx="78.5" cy="127.7"/><circle cx="90.9" cy="147.4"/><circle cx="84.7" cy="149.5"/><circle cx="120.1" cy="126.6"/><circle cx="63.6" cy="139.1"/><circle cx="118.3" cy="162"/><circle cx="92.1" cy="150.2"/><circle cx="75.6" cy="140.9"/><circle cx="121.6" cy="122.7"/><circle cx="101.2" cy="142.1"/><circle cx="126.8" cy="133.3"/><circle cx="95.1" cy="137.4"/><circle cx="82.7" cy="165"/><circle cx="123.3" cy="113.8"/><circle cx="80.6" cy="143.4"/><circle cx="85.1" cy="140.4"/><circle cx="80.9" cy="179"/><circle cx="58.9" cy="146.6"/><circle cx="76.4" cy="153.6"/><circle cx="63.1" cy="155.7"/><circle cx="99.6" cy="173.7"/><circle cx="113.3" cy="133.9"/><circle cx="99.3" cy="172"/><circle cx="93.7" cy="131.4"/><circle cx="80.6" cy="142.5"/><circle cx="119.5" cy="115.4"/><circle cx="81.6" cy="147.8"/><circle cx="72.6" cy="163"/><circle cx="86.4" cy="154.6"/><circle cx="109.9" cy="161.6"/><circle cx="141.6" cy="108.4"/><circle cx="62.5" cy="136.6"/><circle cx="108.9" cy="145.7"/><circle cx="96.6" cy="141.3"/><circle cx="136" cy="140.5"/><circle cx="102.4" cy="150"/><circle cx="57.8" cy="178.2"/><circle cx="85.6" cy="167.6"/><circle cx="84" cy="149"/><circle cx="112.6" cy="132.7"/><circle cx="115.1" cy="101.5"/><circle cx="115.8" cy="143"/><circle cx="102.7" cy="133"/><circle cx="98" cy="148.9"/><circle cx="67.3" cy="158.7"/><circle cx="76.6" cy="185.8"/><circle cx="106.3" cy="142.7"/><circle cx="123.1" cy="147"/><circle cx="121.5" cy="120.7"/><circle cx="100.9" cy="155.3"/><circle cx="102.7" cy="141.6"/><circle cx="82.3" cy="151.4"/><circle cx="132.8" cy="106.7"/><circle cx="61.8" cy="136.5"/><circle cx="57" cy="180.3"/><circle cx="99.4" cy="164.4"/><circle cx="124.2" cy="92.2"/><circle cx="95.3" cy="184.1"/><circle cx="86.9" cy="134.3"/><circle cx="81.1" cy="175.3"/><circle cx="85.8" cy="153.9"/><circle cx="128.1" cy="132.1"/><circle cx="97.6" cy="124.3"/><circle cx="65.3" cy="173.6"/><circle cx="63.7" cy="174.1"/><circle cx="129.3" cy="153.8"/><circle cx="92.4" cy="129.8"/><circle cx="99.6" cy="162.8"/><circle cx="111.2" cy="144.2"/><circle cx="93.9" cy="158.9"/><circle cx="137.3" cy="133.1"/><circle cx="115.2" cy="102.4"/><circle cx="75.3" cy="143.9"/><circle cx="94.5" cy="163.1"/><circle cx="82.6" cy="150.3"/><circle cx="78.5" cy="146"/><circle cx="106.7" cy="145"/><circle cx="122.7" cy="110.1"/><circle cx="117.2" cy="141.2"/><circle cx="76.7" cy="172.6"/><circle cx="79.9" cy="143.1"/><circle cx="110.8" cy="160.1"/><circle cx="86.6" cy="171.2"/><circle cx="107.5" cy="124.8"/><circle cx="115.9" cy="135.3"/><circle cx="78.6" cy="147.3"/><circle cx="129.2" cy="134.4"/><circle cx="90.8" cy="158.3"/><circle cx="61.1" cy="168.1"/><circle cx="131.4" cy="108.2"/><circle cx="68.8" cy="139.5"/><circle cx="91.8" cy="131.7"/><circle cx="96.7" cy="125.5"/><circle cx="104.4" cy="148.6"/><circle cx="108.7" cy="127.6"/><circle cx="118.6" cy="107"/><circle cx="80.3" cy="147.8"/><circle cx="130" cy="121.7"/><circle cx="112.9" cy="162.8"/><circle cx="76.8" cy="155.1"/><circle cx="110.1" cy="147.9"/><circle cx="110.4" cy="134.5"/><circle cx="98.4" cy="118.5"/><circle cx="115.7" cy="139.7"/><circle cx="82.4" cy="178.4"/><circle cx="97.5" cy="131"/><circle cx="112.4" cy="143.1"/><circle cx="114" cy="133.5"/><circle cx="116.9" cy="135.8"/><circle cx="128.2" cy="134.5"/><circle cx="76.4" cy="133.8"/><circle cx="112" cy="151.6"/><circle cx="59.9" cy="168"/><circle cx="95.5" cy="147.5"/><circle cx="76.6" cy="132.1"/><circle cx="82.3" cy="134.8"/><circle cx="86.6" cy="148.3"/><circle cx="98.4" cy="173.2"/><circle cx="73.1" cy="144.9"/><circle cx="99.8" cy="151.4"/><circle cx="70.9" cy="129.1"/><circle cx="103.9" cy="145.7"/><circle cx="112.3" cy="146.5"/><circle cx="58.1" cy="176.4"/><circle cx="94.2" cy="178.3"/><circle cx="94.4" cy="146.5"/><circle cx="105.5" cy="142.1"/><circle cx="92.9" cy="138.6"/><circle cx="80.4" cy="150.1"/><circle cx="75.9" cy="137"/><circle cx="90.7" cy="172"/><circle cx="96.3" cy="151.6"/><circle cx="128.2" cy="120.1"/><circle cx="110.8" cy="118.3"/><circle cx="96.3" cy="156"/><circle cx="96.6" cy="146"/><circle cx="77.8" cy="138.3"/><circle cx="104.1" cy="136.1"/><circle cx="100.5" cy="129.6"/><circle cx="87.3" cy="158.7"/><circle cx="133.1" cy="120.3"/><circle cx="80.8" cy="151"/><circle cx="120.8" cy="136.8"/><circle cx="124.8" cy="127.3"/><circle cx="118.9" cy="137.2"/><circle cx="80.8" cy="154.8"/><circle cx="67.8" cy="171.5"/><circle cx="123.5" cy="150.5"/><circle cx="86" cy="170.4"/><circle cx="118.2" cy="159.7"/><circle cx="54.1" cy="175.7"/><circle cx="130.6" cy="123.3"/><circle cx="121.6" cy="133.8"/><circle cx="134.3" cy="122.6"/><circle cx="98.6" cy="122"/><circle cx="70.6" cy="138.3"/><circle cx="99.5" cy="142.2"/><circle cx="108.5" cy="163.3"/><circle cx="122.6" cy="107.4"/><circle cx="101.9" cy="137.2"/><circle cx="116.6" cy="136.1"/><circle cx="131.3" cy="130.2"/><circle cx="147.3" cy="105.3"/><circle cx="127.2" cy="144.9"/><circle cx="78.9" cy="127.7"/><circle cx="80.8" cy="155.4"/><circle cx="139.5" cy="100.1"/><circle cx="90.2" cy="124"/><circle cx="117.5" cy="136.2"/><circle cx="98.3" cy="154.1"/><circle cx="105.2" cy="163.2"/><circle cx="90.1" cy="135.3"/><circle cx="97.7" cy="141.4"/><circle cx="130.1" cy="121.9"/><circle cx="84.1" cy="136.5"/><circle cx="100.8" cy="149.1"/><circle cx="101.6" cy="127.5"/><circle cx="120.8" cy="144.2"/><circle cx="104" cy="149.9"/><circle cx="94.7" cy="149.9"/><circle cx="111.1" cy="116.2"/><circle cx="84.7" cy="135.6"/><circle cx="104.7" cy="138.8"/><circle cx="92.8" cy="150.6"/><circle cx="59.4" cy="161.7"/><circle cx="78.1" cy="139.9"/><circle cx="132.4" cy="121.7"/><circle cx="124.4" cy="130.1"/><circle cx="89.7" cy="138.9"/><circle cx="60.5" cy="151.9"/><circle cx="100.9" cy="164"/><circle cx="116.5" cy="147.8"/><circle cx="73.8" cy="139.7"/><circle cx="106.8" cy="146.9"/><circle cx="70.3" cy="170.7"/><circle cx="81.1" cy="153.3"/><circle cx="85.3" cy="159.4"/><circle cx="119.5" cy="149.8"/><circle cx="74.3" cy="154.3"/><circle cx="109.3" cy="139.2"/><circle cx="84.5" cy="176.1"/><circle cx="137.4" cy="113.9"/><circle cx="110.5" cy="167.6"/><circle cx="109.4" cy="138.5"/><circle cx="122.5" cy="145.4"/><circle cx="66.6" cy="141.5"/><circle cx="138.1" cy="115.6"/><circle cx="96.4" cy="131.8"/><circle cx="146.3" cy="101"/><circle cx="102" cy="133.7"/><circle cx="89.9" cy="124.9"/><circle cx="77" cy="147.3"/><circle cx="103.8" cy="108.7"/><circle cx="99.7" cy="126.6"/><circle cx="96" cy="135.2"/><circle cx="94.3" cy="139.3"/><circle cx="109.2" cy="137.2"/><circle cx="60.4" cy="162.3"/><circle cx="54.3" cy="143.1"/><circle cx="92.1" cy="149.8"/><circle cx="113.5" cy="126.5"/><circle cx="99.8" cy="106.8"/><circle cx="105.4" cy="148.2"/><circle cx="52.7" cy="175.9"/><circle cx="91.8" cy="167.7"/><circle cx="114.6" cy="122.8"/><circle cx="81.2" cy="142.4"/><circle cx="114.5" cy="120.3"/><circle cx="59.2" cy="160"/><circle cx="77" cy="178.6"/><circle cx="70.4" cy="157.8"/><circle cx="91.1" cy="119.6"/><circle cx="106.7" cy="121.7"/><circle cx="64.9" cy="128.8"/><circle cx="132.8" cy="135.5"/><circle cx="71" cy="150"/><circle cx="112.7" cy="144.9"/><circle cx="97" cy="106.7"/><circle cx="140.4" cy="121.4"/><circle cx="132.5" cy="105.4"/><circle cx="117.3" cy="155.9"/><circle cx="126.6" cy="108.8"/><circle cx="90.3" cy="170.8"/><circle cx="75.7" cy="162.5"/><circle cx="92.3" cy="118.6"/><circle cx="121.4" cy="150.1"/><circle cx="113.5" cy="139.3"/><circle cx="123" cy="97.6"/><circle cx="95.8" cy="171.4"/><circle cx="109.6" cy="154.9"/><circle cx="90.7" cy="150.5"/><circle cx="66.9" cy="163.4"/><circle cx="104.2" cy="132.6"/><circle cx="96.5" cy="143.7"/><circle cx="102.3" cy="152.7"/><circle cx="123.2" cy="94.7"/><circle cx="103.5" cy="158.3"/><circle cx="67.1" cy="151.6"/><circle cx="80.9" cy="165.7"/><circle cx="103.4" cy="115.1"/><circle cx="90.4" cy="113.9"/><circle cx="87.9" cy="161.2"/><circle cx="113.8" cy="140"/><circle cx="83.1" cy="158.7"/><circle cx="128.9" cy="141.7"/><circle cx="122.8" cy="138.9"/><circle cx="108.8" cy="122"/><circle cx="136.2" cy="107.7"/><circle cx="74.1" cy="139.7"/><circle cx="78.2" cy="172.5"/><circle cx="91.8" cy="139.8"/><circle cx="90" cy="145"/><circle cx="131.5" cy="153"/><circle cx="85.9" cy="175.8"/><circle cx="112.8" cy="140.7"/><circle cx="131" cy="129.9"/><circle cx="105.6" cy="141.2"/><circle cx="67.3" cy="133.5"/><circle cx="72.1" cy="137.8"/><circle cx="82" cy="139.2"/><circle cx="125.8" cy="130.3"/><circle cx="117.3" cy="139.3"/><circle cx="74.9" cy="146.6"/><circle cx="58.4" cy="129.1"/><circle cx="106.8" cy="137.2"/><circle cx="98.9" cy="157.6"/><circle cx="61.8" cy="154"/><circle cx="74" cy="161.4"/><circle cx="56.9" cy="136.4"/><circle cx="88.5" cy="173.7"/><circle cx="116.2" cy="130.5"/><circle cx="112.4" cy="136.6"/><circle cx="85.9" cy="137.3"/><circle cx="107.8" cy="135.1"/><circle cx="116.2" cy="124.2"/><circle cx="117.7" cy="125.9"/><circle cx="126.9" cy="145.8"/><circle cx="78.2" cy="188.3"/><circle cx="105.8" cy="126.6"/><circle cx="64.2" cy="157.1"/><circle cx="99.9" cy="127.6"/><circle cx="68.2" cy="145.8"/><circle cx="68.8" cy="142.5"/><circle cx="73.6" cy="158.8"/><circle cx="95.3" cy="120"/><circle cx="124.5" cy="127.6"/><circle cx="87.3" cy="130.1"/><circle cx="111.8" cy="143.4"/><circle cx="80.1" cy="176.1"/><circle cx="73" cy="171.9"/><circle cx="100.8" cy="116.9"/><circle cx="89.5" cy="153.8"/><circle cx="85.7" cy="147.8"/><circle cx="93.9" cy="149.9"/><circle cx="79.4" cy="180.1"/><circle cx="104.8" cy="163.2"/><circle cx="90.1" cy="147.9"/><circle cx="71.3" cy="153.2"/><circle cx="135.4" cy="130.7"/><circle cx="77.8" cy="140.5"/><circle cx="111.6" cy="132.7"/><circle cx="97.2" cy="153.9"/><circle cx="138.7" cy="98.6"/><circle cx="78.4" cy="137.9"/><circle cx="94.2" cy="157.2"/><circle cx="113.1" cy="146"/><circle cx="112.2" cy="128.1"/><circle cx="134.9" cy="120.5"/><circle cx="73.4" cy="160.3"/><circle cx="122.8" cy="139.2"/><circle cx="116.9" cy="150.1"/><circle cx="107.7" cy="121.8"/><circle cx="120.6" cy="122.9"/><circle cx="101.4" cy="175.7"/><circle cx="76.2" cy="150.8"/><circle cx="122.1" cy="129.7"/><circle cx="95.2" cy="155.6"/><circle cx="91.6" cy="155.6"/><circle cx="129.3" cy="116.8"/><circle cx="108" cy="139.7"/><circle cx="124.1" cy="171.6"/><circle cx="71.2" cy="178.6"/><circle cx="99.7" cy="151.9"/><circle cx="106.6" cy="135.6"/><circle cx="65.1" cy="155.3"/><circle cx="74.2" cy="175.9"/><circle cx="108.4" cy="127.5"/><circle cx="87.4" cy="164.6"/><circle cx="60.5" cy="160.4"/><circle cx="100.6" cy="125.2"/><circle cx="123.7" cy="123.9"/><circle cx="123.8" cy="133.9"/><circle cx="80.8" cy="146.8"/><circle cx="122.5" cy="115.6"/><circle cx="75.9" cy="149.1"/><circle cx="111" cy="146.2"/><circle cx="72.2" cy="132.4"/><circle cx="94.3" cy="139.2"/><circle cx="104" cy="113.3"/><circle cx="83.9" cy="128.7"/><circle cx="137.4" cy="90.4"/><circle cx="73" cy="143"/><circle cx="51.8" cy="153.1"/><circle cx="77.1" cy="124"/><circle cx="84.2" cy="168.9"/><circle cx="100" cy="163"/><circle cx="129" cy="130.5"/><circle cx="98.2" cy="144"/><circle cx="74.5" cy="146.4"/><circle cx="69.2" cy="167.7"/><circle cx="98.9" cy="107.4"/><circle cx="81.7" cy="168.5"/><circle cx="69.9" cy="134.6"/><circle cx="71.9" cy="143"/><circle cx="98.9" cy="138"/><circle cx="100.5" cy="130.5"/><circle cx="113" cy="158.4"/><circle cx="74.2" cy="156"/><circle cx="104.4" cy="141.5"/><circle cx="95.7" cy="150.2"/><circle cx="91.3" cy="133.7"/><circle cx="77.1" cy="162.5"/><circle cx="84.7" cy="138.4"/><circle cx="118.6" cy="149.5"/><circle cx="69.1" cy="174.1"/><circle cx="105.4" cy="163.9"/><circle cx="83.7" cy="158.3"/><circle cx="115.4" cy="160.1"/><circle cx="64.4" cy="155.1"/><circle cx="100" cy="137.3"/><circle cx="74.7" cy="147.1"/><circle cx="98.9" cy="173.1"/><circle cx="98.2" cy="158.9"/><circle cx="84" cy="151.2"/><circle cx="96.2" cy="143.7"/><circle cx="60.4" cy="157.3"/><circle cx="96.9" cy="120.5"/><circle cx="108.7" cy="143"/><circle cx="58.3" cy="153.4"/><circle cx="91.1" cy="141.9"/><circle cx="71.7" cy="163.5"/><circle cx="63.7" cy="174.8"/><circle cx="96.6" cy="134.9"/><circle cx="57.8" cy="164.2"/><circle cx="106.1" cy="113.8"/><circle cx="139.2" cy="120.3"/><circle cx="58.3" cy="178.3"/><circle cx="70.3" cy="138.3"/><circle cx="60.8" cy="141.4"/><circle cx="89.6" cy="126.9"/><circle cx="103.3" cy="122.1"/><circle cx="82.5" cy="146.3"/><circle cx="111.9" cy="129.2"/><circle cx="98.9" cy="146.2"/><circle cx="74" cy="160"/><circle cx="103.6" cy="129.7"/><circle cx="65.1" cy="175.7"/><circle cx="123.5" cy="133.5"/><circle cx="123.5" cy="154.3"/><circle cx="92.6" cy="152.8"/><circle cx="110.6" cy="143.8"/><circle cx="93.2" cy="135.5"/><circle cx="115.6" cy="137.3"/><circle cx="137.7" cy="132.1"/><circle cx="98.7" cy="120.4"/><circle cx="93.3" cy="147.7"/><circle cx="92.8" cy="131.4"/><circle cx="73.5" cy="153.5"/><circle cx="136.6" cy="105.9"/><circle cx="109.2" cy="115"/><circle cx="119.8" cy="128.1"/><circle cx="96.1" cy="147.7"/><circle cx="79.6" cy="137.8"/><circle cx="120.9" cy="108.2"/><circle cx="72.6" cy="164.5"/><circle cx="114.3" cy="120.8"/><circle cx="76.8" cy="151.8"/><circle cx="88.5" cy="136"/><circle cx="93.7" cy="113.8"/><circle cx="103.1" cy="132.1"/><circle cx="122.5" cy="117.4"/><circle cx="104.2" cy="128.4"/><circle cx="82.5" cy="176.7"/><circle cx="73.5" cy="149.6"/><circle cx="106" cy="169"/><circle cx="103.9" cy="131.5"/><circle cx="103.1" cy="167.7"/><circle cx="110.3" cy="146.8"/><circle cx="125.6" cy="115.8"/></g>
<g fill="#FF62BC" fill-opacity="0.65"><circle cx="61.9" cy="172.6"/><circle cx="59.7" cy="160.5"/><circle cx="112.6" cy="185.6"/><circle cx="79.5" cy="153.1"/><circle cx="48.8" cy="187.3"/><circle cx="55.3" cy="192.4"/><circle cx="100" cy="139.2"/><circle cx="136.1" cy="118.8"/><circle cx="131.6" cy="152.5"/><circle cx="137.9" cy="113.9"/><circle cx="54.6" cy="221.5"/><circle cx="81.7" cy="200.8"/><circle cx="69.9" cy="153.9"/><circle cx="106.6" cy="160.1"/><circle cx="125.9" cy="152.8"/><circle cx="88.4" cy="187"/><circle cx="106.8" cy="132.9"/><circle cx="115.1" cy="141"/><circle cx="110.4" cy="131.3"/><circle cx="75.3" cy="163"/><circle cx="124.6" cy="112.3"/><circle cx="95" cy="158.5"/><circle cx="106.8" cy="177.6"/><circle cx="94" cy="196.3"/><circle cx="75.5" cy="178.3"/><circle cx="81.6" cy="159.7"/><circle cx="53.4" cy="212.6"/><circle cx="123.5" cy="167.6"/><circle cx="102.2" cy="138.6"/><circle cx="124.2" cy="173.6"/><circle cx="111.8" cy="137.3"/><circle cx="107.7" cy="179.8"/><circle cx="134" cy="106.3"/><circle cx="61.5" cy="155.7"/><circle cx="99" cy="161.5"/><circle cx="47.1" cy="220"/><circle cx="110.7" cy="169.5"/><circle cx="134.6" cy="146.5"/><circle cx="108" cy="173.8"/><circle cx="138.9" cy="120.8"/><circle cx="141.6" cy="108.9"/><circle cx="108.9" cy="183.4"/><circle cx="71.2" cy="207.9"/><circle cx="103.1" cy="174.7"/><circle cx="63.2" cy="157.2"/><circle cx="75.1" cy="185.3"/><circle cx="107.7" cy="148.1"/><circle cx="105.1" cy="172.2"/><circle cx="125.9" cy="133.1"/><circle cx="75.4" cy="148.9"/><circle cx="93.6" cy="173.3"/><circle cx="106.1" cy="153.8"/><circle cx="137.4" cy="132.2"/><circle cx="127.9" cy="145.7"/><circle cx="98" cy="180.8"/><circle cx="80.5" cy="194.9"/><circle cx="83.9" cy="149.6"/><circle cx="110.5" cy="158.2"/><circle cx="81.7" cy="159.1"/><circle cx="130.2" cy="135"/><circle cx="111" cy="139.4"/><circle cx="65.3" cy="208.1"/><circle cx="126.8" cy="129.6"/><circle cx="93.7" cy="169.9"/><circle cx="52.8" cy="202.2"/><circle cx="100.9" cy="135.4"/><circle cx="109.7" cy="160.2"/><circle cx="128.7" cy="167"/><circle cx="77.3" cy="150.9"/><circle cx="132.1" cy="148"/><circle cx="69.7" cy="162.7"/><circle cx="99.8" cy="165.5"/><circle cx="127.7" cy="139.8"/><circle cx="46" cy="201.1"/><circle cx="123.9" cy="127.5"/><circle cx="134.1" cy="117.3"/><circle cx="131.9" cy="119.5"/><circle cx="63" cy="192.7"/><circle cx="64.3" cy="212"/><circle cx="137.2" cy="127.9"/><circle cx="120.8" cy="117.4"/><circle cx="57.7" cy="194.8"/><circle cx="133.9" cy="124"/><circle cx="46.6" cy="168.4"/><circle cx="84.6" cy="163.7"/><circle cx="129.1" cy="158.8"/><circle cx="71.6" cy="198.7"/><circle cx="114.7" cy="160.9"/><circle cx="104.5" cy="154.8"/><circle cx="68.1" cy="207.9"/><circle cx="109.8" cy="125.3"/><circle cx="139.8" cy="159.1"/><circle cx="97.1" cy="158.8"/><circle cx="77.5" cy="156.8"/><circle cx="109.2" cy="150.9"/><circle cx="123.4" cy="155.7"/><circle cx="68.3" cy="201.8"/><circle cx="99.1" cy="155.9"/><circle cx="67.1" cy="191.9"/><circle cx="126.6" cy="161.8"/><circle cx="110.6" cy="161.8"/><circle cx="91.7" cy="134.5"/><circle cx="132.5" cy="165.5"/><circle cx="101.9" cy="188.4"/><circle cx="51.2" cy="201.3"/><circle cx="92.6" cy="176"/><circle cx="88.2" cy="184.4"/><circle cx="69.3" cy="168.7"/><circle cx="94.4" cy="159.9"/><circle cx="95" cy="194.7"/><circle cx="106.7" cy="160.9"/><circle cx="60.4" cy="191.3"/><circle cx="136.3" cy="149.7"/><circle cx="89.6" cy="193.6"/><circle cx="58.8" cy="202.2"/><circle cx="64" cy="171"/><circle cx="138.2" cy="159.8"/><circle cx="116" cy="138.2"/><circle cx="103.3" cy="146.3"/><circle cx="76.8" cy="158"/><circle cx="67.2" cy="207.7"/><circle cx="134.8" cy="152.2"/><circle cx="75.6" cy="180.7"/><circle cx="84.7" cy="163.5"/><circle cx="94.8" cy="197.7"/><circle cx="123.8" cy="163.2"/><circle cx="120.2" cy="179.8"/><circle cx="65" cy="182.4"/><circle cx="89.2" cy="192.8"/><circle cx="100.6" cy="136.8"/><circle cx="89.9" cy="178.4"/><circle cx="110.4" cy="122.6"/><circle cx="49.3" cy="205.4"/><circle cx="125.5" cy="150.8"/><circle cx="56" cy="160.2"/><circle cx="131.9" cy="139.7"/><circle cx="46.3" cy="203.1"/><circle cx="55.1" cy="191.2"/><circle cx="130.2" cy="122"/><circle cx="93.8" cy="180.6"/><circle cx="78.1" cy="184.9"/><circle cx="51.7" cy="209"/><circle cx="73.3" cy="175.6"/><circle cx="67.2" cy="204.5"/><circle cx="92.7" cy="166.3"/><circle cx="78.6" cy="154.6"/><circle cx="69.8" cy="202.9"/><circle cx="57.6" cy="185.4"/><circle cx="58.8" cy="159.1"/><circle cx="123.4" cy="121.5"/><circle cx="88.7" cy="139.9"/><circle cx="146.1" cy="96.2"/><circle cx="68.8" cy="169.1"/><circle cx="66.4" cy="153.2"/><circle cx="102" cy="161.8"/><circle cx="65.9" cy="180.6"/><circle cx="64.2" cy="155.3"/><circle cx="91.5" cy="189.7"/><circle cx="54.8" cy="224.9"/><circle cx="116.4" cy="137.2"/><circle cx="137.4" cy="111.8"/><circle cx="107.7" cy="178.4"/><circle cx="109.4" cy="172.7"/><circle cx="66.5" cy="209.2"/><circle cx="63.1" cy="176.2"/><circle cx="116.2" cy="178.2"/><circle cx="59.4" cy="175.2"/><circle cx="137.6" cy="118.2"/><circle cx="92.2" cy="145.5"/><circle cx="90.5" cy="201.3"/><circle cx="54" cy="208.2"/><circle cx="121.4" cy="130.8"/><circle cx="46" cy="185"/><circle cx="125.3" cy="157"/><circle cx="77.4" cy="202.8"/><circle cx="101.7" cy="188.9"/><circle cx="118.3" cy="160.8"/><circle cx="130.7" cy="169.8"/><circle cx="94.5" cy="153"/><circle cx="76.2" cy="169.4"/><circle cx="74.5" cy="152"/><circle cx="131.4" cy="168.5"/><circle cx="95.9" cy="141.2"/><circle cx="136.5" cy="159.3"/><circle cx="93.8" cy="164"/><circle cx="89.9" cy="171"/><circle cx="124.3" cy="173"/><circle cx="85" cy="203"/><circle cx="118.6" cy="145.7"/><circle cx="110.7" cy="181.6"/><circle cx="108.6" cy="165.2"/><circle cx="138.7" cy="117.4"/><circle cx="103.6" cy="165.6"/><circle cx="77.9" cy="202.3"/><circle cx="50.7" cy="209.3"/><circle cx="80.8" cy="157.9"/><circle cx="51" cy="181.4"/><circle cx="88.9" cy="179.5"/><circle cx="63.4" cy="188.8"/><circle cx="128.7" cy="122.7"/><circle cx="81.3" cy="177.5"/><circle cx="68" cy="188.9"/><circle cx="51.3" cy="211.2"/><circle cx="111.9" cy="142"/><circle cx="120.2" cy="137.7"/><circle cx="104" cy="164.5"/><circle cx="141" cy="112.2"/><circle cx="67.6" cy="211.7"/><circle cx="77.1" cy="200.7"/><circle cx="70.6" cy="206.3"/><circle cx="126.5" cy="160"/><circle cx="121.3" cy="135.6"/><circle cx="137.4" cy="162.4"/><circle cx="109.3" cy="179.1"/><circle cx="88.4" cy="166.2"/><circle cx="126.6" cy="130.7"/><circle cx="139.7" cy="153.6"/><circle cx="69.7" cy="176.1"/><circle cx="49.3" cy="217.7"/><circle cx="66.9" cy="182.5"/><circle cx="134.3" cy="105.1"/><circle cx="74.8" cy="153.3"/><circle cx="64.3" cy="200.8"/><circle cx="138.7" cy="148.9"/><circle cx="108.8" cy="181.4"/><circle cx="117" cy="118.6"/><circle cx="145.3" cy="96.7"/><circle cx="120.3" cy="129.7"/><circle cx="114" cy="122.1"/><circle cx="125.8" cy="166.3"/><circle cx="118.8" cy="169"/><circle cx="113.3" cy="155.9"/><circle cx="144.9" cy="109"/><circle cx="92.1" cy="187.4"/><circle cx="133.8" cy="165.4"/><circle cx="132.5" cy="150.2"/><circle cx="121.4" cy="128.1"/><circle cx="137.9" cy="156.3"/><circle cx="72.8" cy="172.1"/><circle cx="96.9" cy="179.4"/><circle cx="54" cy="168.5"/><circle cx="94" cy="143.4"/><circle cx="45.5" cy="176.4"/><circle cx="141.3" cy="114.3"/><circle cx="129.5" cy="158.9"/><circle cx="107.2" cy="139.1"/><circle cx="104.5" cy="141.2"/><circle cx="113.7" cy="139.9"/><circle cx="97.2" cy="190.3"/><circle cx="46.8" cy="184.6"/><circle cx="55.9" cy="215"/><circle cx="62.4" cy="207.4"/><circle cx="68.1" cy="163.8"/><circle cx="83.9" cy="199.1"/><circle cx="74.9" cy="158.3"/><circle cx="138.9" cy="118.1"/><circle cx="114.6" cy="149.8"/><circle cx="129.8" cy="140.2"/><circle cx="72.3" cy="156.1"/><circle cx="75.5" cy="183.9"/><circle cx="83.8" cy="162.3"/><circle cx="99.8" cy="189.5"/><circle cx="114.4" cy="154.8"/><circle cx="82.8" cy="162.8"/><circle cx="99.2" cy="182.5"/><circle cx="71.1" cy="210.8"/><circle cx="81.3" cy="162.9"/><circle cx="101.7" cy="133.6"/><circle cx="106.9" cy="186.6"/><circle cx="59.2" cy="221.4"/><circle cx="94.1" cy="149"/><circle cx="109.9" cy="127.5"/><circle cx="85.1" cy="189.5"/><circle cx="80.9" cy="190.9"/><circle cx="78.9" cy="193.2"/><circle cx="131.3" cy="144.7"/><circle cx="100.3" cy="142.9"/><circle cx="57.5" cy="192"/><circle cx="86.4" cy="194.1"/><circle cx="58.6" cy="162.8"/><circle cx="85.1" cy="175.1"/><circle cx="133.5" cy="146.9"/><circle cx="75.7" cy="150.3"/><circle cx="124.9" cy="118.4"/><circle cx="100.2" cy="170.7"/><circle cx="57.7" cy="214.6"/><circle cx="116.3" cy="162.8"/><circle cx="53.2" cy="179.6"/><circle cx="63" cy="175.7"/><circle cx="91" cy="196.6"/><circle cx="101.3" cy="164.9"/><circle cx="95.5" cy="158.7"/><circle cx="53.3" cy="206.1"/><circle cx="103.4" cy="139.4"/><circle cx="135.5" cy="104.5"/><circle cx="60.9" cy="187.6"/><circle cx="71" cy="185.1"/><circle cx="46.1" cy="211.8"/><circle cx="87" cy="182.4"/><circle cx="92.2" cy="198.2"/><circle cx="141.6" cy="115.3"/><circle cx="45.1" cy="209.5"/><circle cx="90.6" cy="178"/><circle cx="58.9" cy="179.8"/><circle cx="105.9" cy="169"/><circle cx="59" cy="165.9"/><circle cx="93.5" cy="156.4"/><circle cx="101.3" cy="163.9"/><circle cx="54.9" cy="178.9"/><circle cx="120.7" cy="116.8"/><circle cx="124.3" cy="117.2"/><circle cx="70" cy="166"/><circle cx="82.4" cy="146.9"/><circle cx="95.2" cy="184.2"/><circle cx="86.2" cy="165.9"/><circle cx="58.8" cy="167.5"/><circle cx="58.2" cy="213"/><circle cx="113.8" cy="144.6"/><circle cx="127.7" cy="123.7"/><circle cx="86.9" cy="185.8"/><circle cx="86.4" cy="204.1"/><circle cx="100.9" cy="127.4"/><circle cx="103.2" cy="183.8"/><circle cx="66.4" cy="181.1"/><circle cx="111.9" cy="178.7"/><circle cx="46.8" cy="213.5"/><circle cx="54.8" cy="207.1"/><circle cx="47.8" cy="183.1"/><circle cx="101.7" cy="187"/><circle cx="97" cy="146.7"/><circle cx="134.6" cy="153"/><circle cx="137.2" cy="161"/><circle cx="68.3" cy="152.7"/><circle cx="59.6" cy="174.5"/><circle cx="139.4" cy="161.2"/><circle cx="46.8" cy="182"/><circle cx="53.8" cy="175.5"/><circle cx="91.6" cy="195.2"/><circle cx="71.1" cy="181.1"/><circle cx="96.1" cy="194.6"/><circle cx="126.2" cy="137.3"/><circle cx="55.6" cy="176.9"/><circle cx="59.8" cy="222.6"/><circle cx="80.5" cy="153.6"/><circle cx="48.8" cy="174.2"/><circle cx="116.5" cy="149.9"/><circle cx="114.9" cy="165.8"/><circle cx="68" cy="190.5"/><circle cx="115.5" cy="182.6"/><circle cx="94.8" cy="146.2"/><circle cx="72.1" cy="195"/><circle cx="141.6" cy="118.8"/><circle cx="90.8" cy="140.8"/><circle cx="105" cy="154.7"/><circle cx="53.8" cy="184.2"/><circle cx="55.6" cy="191.7"/><circle cx="58.6" cy="197.7"/><circle cx="109.6" cy="183"/><circle cx="125.5" cy="170.6"/><circle cx="103.4" cy="159.4"/><circle cx="73" cy="168.3"/><circle cx="111.7" cy="143.9"/><circle cx="45.9" cy="188.7"/><circle cx="64.2" cy="219.5"/><circle cx="56" cy="207.1"/><circle cx="136.6" cy="169.3"/><circle cx="133.1" cy="153.6"/><circle cx="119.2" cy="174.5"/><circle cx="94.2" cy="151.6"/><circle cx="119.7" cy="151.3"/><circle cx="82.3" cy="172"/><circle cx="95.1" cy="189.8"/><circle cx="59.7" cy="161.1"/><circle cx="105.6" cy="160.7"/><circle cx="48.8" cy="193.7"/><circle cx="60.5" cy="168.6"/><circle cx="137.9" cy="102.8"/><circle cx="69.9" cy="181.8"/><circle cx="106.8" cy="157.4"/><circle cx="59.9" cy="217.7"/><circle cx="70.6" cy="186.9"/><circle cx="126" cy="142.9"/><circle cx="88.7" cy="140"/><circle cx="97.7" cy="134.9"/><circle cx="109.7" cy="151"/><circle cx="53.5" cy="184.7"/><circle cx="98.4" cy="147.3"/><circle cx="54.1" cy="162.5"/><circle cx="52.7" cy="190"/><circle cx="48.3" cy="194.3"/><circle cx="129.4" cy="143.3"/><circle cx="65.9" cy="181.1"/><circle cx="47.1" cy="194.3"/><circle cx="57.4" cy="165.6"/><circle cx="100" cy="153"/><circle cx="67.3" cy="161.3"/><circle cx="78.9" cy="207.2"/><circle cx="48" cy="196.8"/><circle cx="77.4" cy="149"/><circle cx="79.1" cy="178.4"/><circle cx="79.7" cy="167.9"/><circle cx="131.6" cy="139.2"/><circle cx="54.8" cy="165.7"/><circle cx="92.2" cy="179.6"/><circle cx="134.8" cy="144.9"/><circle cx="71.1" cy="184.5"/><circle cx="119.9" cy="124.3"/><circle cx="115.9" cy="147.6"/><circle cx="90.6" cy="167.2"/><circle cx="88.9" cy="160.2"/><circle cx="101.9" cy="126.9"/><circle cx="80.1" cy="196.2"/><circle cx="105.5" cy="170"/><circle cx="69.7" cy="191.2"/><circle cx="47.7" cy="207.3"/><circle cx="138.1" cy="117"/><circle cx="78.8" cy="148.7"/><circle cx="60.8" cy="207.5"/><circle cx="57.4" cy="209.5"/><circle cx="76.9" cy="200.7"/><circle cx="114.1" cy="162.6"/><circle cx="100.4" cy="129.3"/><circle cx="104.9" cy="171.7"/><circle cx="107.7" cy="133.3"/><circle cx="110.1" cy="122.6"/><circle cx="66.1" cy="174.2"/><circle cx="102.7" cy="150.9"/><circle cx="76" cy="207.5"/><circle cx="57.2" cy="168.8"/><circle cx="134.6" cy="125.1"/><circle cx="105.5" cy="166.7"/><circle cx="90.6" cy="184.7"/><circle cx="89.3" cy="196.9"/><circle cx="45.7" cy="216.6"/><circle cx="121.5" cy="120.2"/><circle cx="92.5" cy="196.5"/><circle cx="55.4" cy="171.8"/><circle cx="63.7" cy="163.8"/><circle cx="71.9" cy="211.7"/><circle cx="118.1" cy="149.7"/><circle cx="108.8" cy="182.6"/><circle cx="82.2" cy="202.2"/><circle cx="90.5" cy="165"/><circle cx="92.9" cy="141"/><circle cx="87.2" cy="184.3"/><circle cx="52" cy="200.8"/><circle cx="123.1" cy="153.3"/><circle cx="76.1" cy="148.9"/><circle cx="108.3" cy="139.2"/><circle cx="52.9" cy="212.1"/></g>
<g fill="#FF7F50" fill-opacity="0.65"><circle cx="193.6" cy="31.6"/><circle cx="181.3" cy="58.1"/><circle cx="195.7" cy="46.7"/><circle cx="162.6" cy="60.1"/><circle cx="167" cy="41"/><circle cx="151.7" cy="45.8"/><circle cx="149" cy="50.1"/><circle cx="159.2" cy="41"/><circle cx="178.6" cy="55.2"/><circle cx="172.2" cy="39.3"/><circle cx="163.7" cy="50.6"/><circle cx="145.2" cy="50.3"/><circle cx="148.2" cy="44.8"/><circle cx="196.8" cy="38.6"/><circle cx="194.2" cy="43.3"/><circle cx="152.2" cy="57.7"/><circle cx="146.5" cy="41.3"/><circle cx="176.3" cy="41.6"/><circle cx="191.9" cy="53"/><circle cx="189.4" cy="40.6"/><circle cx="179.1" cy="47.4"/><circle cx="184.7" cy="36"/><circle cx="193.8" cy="36.7"/><circle cx="182.8" cy="32.4"/><circle cx="175.2" cy="35.5"/><circle cx="157.2" cy="39.1"/><circle cx="183.9" cy="30.2"/><circle cx="191.6" cy="52.6"/><circle cx="170.4" cy="44.3"/><circle cx="166.2" cy="40.3"/><circle cx="146.6" cy="56.6"/><circle cx="197.9" cy="46.6"/><circle cx="135.7" cy="46.9"/><circle cx="177.9" cy="43.2"/><circle cx="171.1" cy="37.5"/><circle cx="187.9" cy="50.1"/><circle cx="194.6" cy="35.5"/><circle cx="183.7" cy="46.5"/><circle cx="146.5" cy="37.8"/><circle cx="159.1" cy="54.9"/><circle cx="160.9" cy="42.3"/><circle cx="189.6" cy="47.9"/><circle cx="183" cy="31.6"/><circle cx="175.6" cy="32.3"/><circle cx="153.9" cy="53.8"/><circle cx="193.9" cy="39.1"/><circle cx="140.5" cy="53.2"/><circle cx="184.3" cy="38.4"/><circle cx="147.7" cy="42.3"/><circle cx="201.7" cy="32.2"/><circle cx="176.9" cy="37.6"/><circle cx="174.5" cy="42.9"/><circle cx="168" cy="34.5"/><circle cx="196.8" cy="49.5"/><circle cx="147.6" cy="48.4"/><circle cx="164.8" cy="41.7"/><circle cx="191" cy="35.8"/><circle cx="164.6" cy="52.4"/><circle cx="158" cy="44.1"/><circle cx="135.1" cy="51.2"/><circle cx="183.8" cy="38.1"/><circle cx="167.6" cy="47"/><circle cx="172.9" cy="46.9"/><circle cx="138.2" cy="44"/><circle cx="185.4" cy="35.1"/><circle cx="165.3" cy="41.2"/><circle cx="187.2" cy="40.1"/><circle cx="199.8" cy="34.8"/><circle cx="169" cy="55.4"/><circle cx="175.8" cy="41.2"/></g>
<g fill="#FF7F50" fill-opacity="0.65"><circle cx="169.4" cy="79.4"/><circle cx="201.5" cy="47.5"/><circle cx="188.9" cy="69.1"/><circle cx="174.2" cy="72.4"/><circle cx="190.2" cy="53.3"/><circle cx="191.7" cy="67.7"/><circle cx="183.4" cy="76.9"/><circle cx="180.6" cy="73.4"/><circle cx="166.3" cy="73.8"/><circle cx="190" cy="66.8"/><circle cx="183.6" cy="68"/><circle cx="175.4" cy="67.2"/><circle cx="192.4" cy="69.1"/><circle cx="168.6" cy="87.9"/><circle cx="194.6" cy="66.6"/><circle cx="181.9" cy="88.6"/><circle cx="169.5" cy="83.5"/><circle cx="196.9" cy="52.6"/><circle cx="174.7" cy="81.2"/><circle cx="179.1" cy="62.3"/><circle cx="177.9" cy="65.6"/><circle cx="183.9" cy="65.3"/><circle cx="189.5" cy="60.3"/><circle cx="181.6" cy="75.2"/><circle cx="192.4" cy="57"/><circle cx="177.9" cy="68.9"/><circle cx="198.7" cy="69.8"/><circle cx="177.2" cy="75.4"/><circle cx="186.3" cy="69"/><circle cx="201.4" cy="46.4"/><circle cx="202.5" cy="71.9"/><circle cx="180.8" cy="57.3"/><circle cx="193.9" cy="84.6"/><circle cx="193.2" cy="81.9"/><circle cx="186.3" cy="81.9"/></g>
<g fill="#FF7F50" fill-opacity="0.65"><circle cx="147.8" cy="67.7"/><circle cx="134.2" cy="72.8"/><circle cx="150.4" cy="75.5"/><circle cx="149.1" cy="71.5"/><circle cx="151.4" cy="73.2"/><circle cx="148.9" cy="66.6"/><circle cx="147.3" cy="69.6"/><circle cx="137.6" cy="77.6"/><circle cx="133.6" cy="74.8"/><circle cx="130.6" cy="70.7"/><circle cx="155.6" cy="83.7"/><circle cx="149.2" cy="66.1"/><circle cx="141.9" cy="77.9"/><circle cx="144.4" cy="66.7"/><circle cx="150.8" cy="63.5"/><circle cx="147.3" cy="68.2"/><circle cx="141" cy="89.8"/><circle cx="157.9" cy="72.2"/><circle cx="135.9" cy="83.7"/><circle cx="148" cy="76.5"/><circle cx="155.3" cy="56.8"/><circle cx="147.8" cy="73"/><circle cx="149.6" cy="73.4"/><circle cx="142.8" cy="83.9"/><circle cx="136.9" cy="95.9"/><circle cx="154.3" cy="72.4"/><circle cx="133.9" cy="66.1"/><circle cx="132.4" cy="80.1"/><circle cx="149.2" cy="75.9"/><circle cx="146.2" cy="69.9"/><circle cx="139.8" cy="79.8"/><circle cx="142.2" cy="83.5"/><circle cx="144.8" cy="83.4"/><circle cx="157" cy="40.6"/><circle cx="139.7" cy="86.9"/><circle cx="157.2" cy="64.9"/><circle cx="147.3" cy="79.2"/><circle cx="158.1" cy="77.9"/><circle cx="137.5" cy="70.6"/><circle cx="137" cy="73"/><circle cx="153.2" cy="72.3"/><circle cx="147.2" cy="71.6"/><circle cx="164.9" cy="68.2"/><circle cx="141.1" cy="78.7"/><circle cx="143.5" cy="70.4"/></g>
<g fill="#FF7F50" fill-opacity="0.65"><circle cx="150.9" cy="74.6"/><circle cx="141.9" cy="93.8"/><circle cx="139.9" cy="89.5"/><circle cx="139" cy="83.3"/><circle cx="155.7" cy="86.1"/><circle cx="139.4" cy="96.7"/><circle cx="172.6" cy="81.2"/><circle cx="154" cy="79.9"/><circle cx="160.2" cy="89.3"/><circle cx="138" cy="93.7"/><circle cx="165.3" cy="82.4"/><circle cx="156.3" cy="88.1"/><circle cx="156.7" cy="85.9"/><circle cx="163.2" cy="86.8"/><circle cx="156.4" cy="89.6"/><circle cx="155.7" cy="81.7"/><circle cx="155" cy="88"/><circle cx="135" cy="112.2"/><circle cx="158.1" cy="91.7"/><circle cx="159" cy="86.2"/><circle cx="161.1" cy="94.4"/><circle cx="163.6" cy="81.2"/><circle cx="163.2" cy="88.5"/><circle cx="148.7" cy="93.1"/><circle cx="159.4" cy="84.4"/></g>
<g fill="#FF7F50" fill-opacity="0.65"><circle cx="115.3" cy="88.2"/><circle cx="102.2" cy="97.7"/><circle cx="100.3" cy="129.2"/><circle cx="125.6" cy="85.4"/><circle cx="96.1" cy="114.5"/><circle cx="125.3" cy="71.8"/><circle cx="108.2" cy="110.1"/><circle cx="118.5" cy="105.9"/><circle cx="105.3" cy="96.5"/><circle cx="105.3" cy="90.3"/><circle cx="98.8" cy="104.8"/><circle cx="138" cy="76.1"/><circle cx="116.3" cy="72.7"/><circle cx="116.5" cy="89.8"/><circle cx="103.1" cy="86"/><circle cx="127" cy="93.6"/><circle cx="107" cy="91.3"/><circle cx="112.8" cy="85.8"/><circle cx="89.6" cy="101.9"/><circle cx="131" cy="67.9"/><circle cx="112.1" cy="93.2"/><circle cx="95.1" cy="117.6"/><circle cx="139.7" cy="81.5"/><circle cx="114.4" cy="103.6"/><circle cx="123.6" cy="63"/><circle cx="120.5" cy="90.9"/><circle cx="116.5" cy="99.6"/><circle cx="112.7" cy="97.7"/><circle cx="101.6" cy="94.9"/><circle cx="110.8" cy="92.8"/><circle cx="131" cy="93.2"/><circle cx="112.1" cy="102.2"/><circle cx="108.3" cy="84.7"/><circle cx="113.1" cy="92.7"/><circle cx="119.6" cy="90"/><circle cx="111.3" cy="96.7"/><circle cx="125.6" cy="87.9"/><circle cx="113.4" cy="105.2"/><circle cx="96.3" cy="83.9"/><circle cx="107.1" cy="105"/><circle cx="94.5" cy="97.5"/><circle cx="126.4" cy="80.2"/><circle cx="121.2" cy="88.7"/><circle cx="112.4" cy="99.1"/><circle cx="92.1" cy="114"/><circle cx="101.6" cy="98.6"/><circle cx="96.5" cy="104.6"/><circle cx="125" cy="98.8"/><circle cx="126.2" cy="84.4"/><circle cx="108.6" cy="93.4"/><circle cx="94" cy="131.9"/><circle cx="124.1" cy="96.9"/><circle cx="111.2" cy="95"/><circle cx="112.8" cy="95.9"/><circle cx="92.8" cy="109.2"/><circle cx="116.4" cy="78.8"/><circle cx="124.2" cy="81.2"/><circle cx="126.5" cy="82.6"/><circle cx="105" cy="95.5"/><circle cx="108.8" cy="100.5"/></g>
<g fill="#D89000" fill-opacity="0.72"><circle cx="100.3" cy="106.3"/><circle cx="104.3" cy="85.8"/><circle cx="115.7" cy="69.2"/><circle cx="115.7" cy="84.9"/><circle cx="111.5" cy="85.4"/><circle cx="105.9" cy="98.6"/><circle cx="116.7" cy="77.4"/><circle cx="111.1" cy="96.4"/><circle cx="106" cy="100.2"/><circle cx="106.3" cy="112"/><circle cx="111.5" cy="86.7"/><circle cx="111.4" cy="76.1"/><circle cx="99.3" cy="86.2"/><circle cx="117.9" cy="91.7"/><circle cx="109.7" cy="68.7"/><circle cx="91.6" cy="99.7"/><circle cx="126.5" cy="89.3"/><circle cx="117.5" cy="67.8"/><circle cx="106.9" cy="76.9"/><circle cx="108.2" cy="107.2"/><circle cx="121" cy="66.1"/><circle cx="107.5" cy="92.8"/><circle cx="99.4" cy="109"/><circle cx="99.2" cy="98.5"/><circle cx="113.9" cy="83.6"/><circle cx="90.9" cy="100.8"/><circle cx="116.8" cy="73.6"/><circle cx="90.3" cy="102.8"/><circle cx="107.6" cy="80.4"/><circle cx="110.1" cy="94.3"/><circle cx="122.3" cy="70.6"/><circle cx="106.2" cy="89.2"/><circle cx="107.2" cy="100.1"/><circle cx="105.5" cy="82.8"/><circle cx="96.9" cy="104.3"/><circle cx="95.5" cy="116.6"/><circle cx="106.9" cy="104.3"/><circle cx="114.4" cy="74.2"/><circle cx="111.3" cy="117"/><circle cx="106.7" cy="89.1"/><circle cx="93.5" cy="114.1"/><circle cx="110.2" cy="82.6"/><circle cx="111.4" cy="91"/><circle cx="109" cy="107.1"/><circle cx="108.9" cy="92.9"/><circle cx="106.2" cy="95"/><circle cx="120.4" cy="78"/><circle cx="115.4" cy="100.4"/><circle cx="98.6" cy="97.9"/><circle cx="115.4" cy="111"/><circle cx="123.4" cy="64.7"/><circle cx="111.7" cy="105.9"/><circle cx="105" cy="97.9"/><circle cx="107.6" cy="80.3"/><circle cx="109.9" cy="102.3"/><circle cx="100.2" cy="105.3"/><circle cx="111.3" cy="72"/><circle cx="108.3" cy="100.6"/><circle cx="113.2" cy="111.9"/><circle cx="116.5" cy="84"/><circle cx="102.7" cy="104.8"/><circle cx="119.8" cy="91.5"/><circle cx="106.4" cy="87.2"/><circle cx="106.5" cy="107.3"/><circle cx="114.3" cy="84.7"/><circle cx="106.8" cy="72.7"/><circle cx="109.9" cy="96.6"/><circle cx="119.7" cy="80"/><circle cx="105.6" cy="82.2"/><circle cx="108.3" cy="90.3"/><circle cx="113.5" cy="88.9"/><circle cx="112.3" cy="85.2"/><circle cx="106.7" cy="96.5"/><circle cx="101.2" cy="85.8"/><circle cx="114.6" cy="70.7"/><circle cx="110.6" cy="83"/><circle cx="117.6" cy="66.8"/><circle cx="116.8" cy="76.3"/><circle cx="107.7" cy="94.9"/><circle cx="108.5" cy="80.6"/><circle cx="98.1" cy="101.2"/><circle cx="107.2" cy="85.7"/><circle cx="104.9" cy="92.5"/><circle cx="107.6" cy="80.5"/><circle cx="112" cy="87.3"/><circle cx="117.2" cy="83.1"/><circle cx="98.3" cy="91"/><circle cx="116.5" cy="75.2"/><circle cx="101.5" cy="87"/><circle cx="91" cy="110.6"/><circle cx="109.3" cy="77.6"/><circle cx="111.4" cy="94.4"/><circle cx="115" cy="90.4"/><circle cx="118.1" cy="81.4"/><circle cx="113.2" cy="82.5"/><circle cx="95.7" cy="102.3"/><circle cx="115.3" cy="78.8"/><circle cx="123.1" cy="91.1"/><circle cx="119.4" cy="89.8"/><circle cx="107.7" cy="93.5"/></g>
<g fill="#D89000" fill-opacity="0.65"><circle cx="164.9" cy="74.6"/><circle cx="153.7" cy="86.2"/><circle cx="159.3" cy="73.9"/><circle cx="158.8" cy="77.5"/><circle cx="154.9" cy="76.9"/><circle cx="153" cy="85.3"/><circle cx="160.8" cy="70.9"/><circle cx="160.4" cy="71.1"/><circle cx="152" cy="80"/><circle cx="160.7" cy="65.9"/><circle cx="150.3" cy="85.2"/><circle cx="153.2" cy="78.2"/></g>
<g fill="#00C08B" fill-opacity="0.65"><circle cx="143.4" cy="71.2"/><circle cx="147.7" cy="72.5"/><circle cx="141.7" cy="74.8"/><circle cx="160.6" cy="80.3"/><circle cx="155.5" cy="64.3"/><circle cx="141" cy="55.4"/><circle cx="161.4" cy="67.8"/><circle cx="146.7" cy="84.8"/><circle cx="153.7" cy="78.6"/><circle cx="155" cy="61"/><circle cx="146.4" cy="75.6"/><circle cx="146.3" cy="78.1"/><circle cx="144.9" cy="82.8"/><circle cx="139" cy="73.7"/><circle cx="148.9" cy="69.1"/><circle cx="151.8" cy="80.3"/><circle cx="141.3" cy="71.2"/><circle cx="143.4" cy="82.6"/><circle cx="151.2" cy="80.3"/><circle cx="146.8" cy="61.9"/></g>
<g fill="#7CAE00" fill-opacity="0.65"><circle cx="80.6" cy="121.8"/><circle cx="81" cy="125.5"/><circle cx="85.3" cy="103.1"/><circle cx="78.7" cy="108.7"/><circle cx="81.9" cy="112.8"/><circle cx="84.2" cy="99.8"/><circle cx="84.1" cy="132.7"/><circle cx="84.7" cy="79.1"/><circle cx="90.8" cy="114.6"/><circle cx="88.2" cy="115.2"/><circle cx="75.4" cy="107.8"/><circle cx="75.3" cy="106.1"/><circle cx="76.5" cy="122.4"/><circle cx="68.8" cy="106.2"/><circle cx="84.5" cy="105.7"/><circle cx="74.8" cy="99"/><circle cx="76.5" cy="121.8"/><circle cx="76.4" cy="117.2"/><circle cx="74.7" cy="90.2"/><circle cx="75.1" cy="118.9"/></g>
<g fill="#39B600" fill-opacity="0.65"><circle cx="78.7" cy="108.2"/><circle cx="86.3" cy="115.6"/><circle cx="81.3" cy="122"/><circle cx="87.8" cy="115.5"/><circle cx="90.5" cy="125.1"/><circle cx="84.5" cy="117.1"/><circle cx="84.2" cy="118.7"/><circle cx="87.2" cy="121.7"/><circle cx="87.8" cy="121.5"/><circle cx="79.8" cy="120"/><circle cx="88" cy="115"/><circle cx="89.3" cy="114.2"/></g>
<g fill="#00C1A3" fill-opacity="0.65"><circle cx="168.1" cy="110.6"/><circle cx="182.3" cy="124.6"/><circle cx="174" cy="123.5"/><circle cx="161.9" cy="95.4"/><circle cx="159.5" cy="107.7"/><circle cx="165.6" cy="109.2"/><circle cx="159" cy="117.3"/><circle cx="167.3" cy="103.5"/><circle cx="169" cy="113.2"/><circle cx="169.6" cy="116.8"/><circle cx="164.4" cy="111"/><circle cx="181" cy="106.9"/><circle cx="163.7" cy="120.8"/><circle cx="171.7" cy="109.9"/><circle cx="173.3" cy="112.1"/><circle cx="141.7" cy="107.1"/><circle cx="159.5" cy="111"/><circle cx="155" cy="96.7"/><circle cx="161" cy="107.6"/><circle cx="150.8" cy="108.1"/><circle cx="158.5" cy="107.1"/><circle cx="152.8" cy="110.5"/><circle cx="164.5" cy="107.2"/><circle cx="158.2" cy="96.5"/><circle cx="156.8" cy="114.8"/><circle cx="164.8" cy="117.2"/><circle cx="154.4" cy="106.8"/><circle cx="171" cy="117.1"/><circle cx="166" cy="115.8"/><circle cx="152.9" cy="121"/><circle cx="156.7" cy="114"/><circle cx="172.8" cy="110.6"/><circle cx="151.2" cy="107.2"/><circle cx="166.4" cy="116.8"/><circle cx="162.4" cy="108.5"/><circle cx="153.9" cy="107.3"/><circle cx="161.7" cy="120.3"/><circle cx="174.1" cy="115.5"/><circle cx="160" cy="115.1"/><circle cx="142.3" cy="121.9"/><circle cx="172.6" cy="102.7"/><circle cx="171.5" cy="99.6"/><circle cx="156.5" cy="112.8"/><circle cx="162" cy="118.3"/><circle cx="177.3" cy="115"/><circle cx="147.1" cy="113.9"/><circle cx="190.8" cy="110.2"/><circle cx="156.8" cy="104.8"/><circle cx="159.1" cy="122.5"/><circle cx="172.4" cy="125.8"/><circle cx="170.3" cy="117.8"/><circle cx="156.2" cy="130.4"/><circle cx="166.5" cy="120.1"/><circle cx="188.1" cy="114.9"/><circle cx="181.9" cy="104"/><circle cx="173.1" cy="112.9"/><circle cx="173.1" cy="115.2"/><circle cx="167.9" cy="108.5"/><circle cx="174.6" cy="113.3"/><circle cx="156.7" cy="112.4"/><circle cx="144.3" cy="117.9"/><circle cx="153.2" cy="114.3"/><circle cx="161.9" cy="100.8"/><circle cx="142.8" cy="119"/><circle cx="165.4" cy="99.7"/><circle cx="158" cy="110.3"/><circle cx="163.4" cy="99.7"/><circle cx="152.8" cy="106.7"/><circle cx="147.2" cy="110.6"/><circle cx="164.4" cy="118.9"/><circle cx="187.8" cy="99.7"/><circle cx="164.3" cy="110.2"/><circle cx="161" cy="112.3"/><circle cx="178.8" cy="102.7"/><circle cx="164.4" cy="101.6"/><circle cx="175.4" cy="115.6"/><circle cx="168.1" cy="106.2"/><circle cx="165.2" cy="107.3"/><circle cx="163.3" cy="118.9"/><circle cx="175.9" cy="111.7"/><circle cx="150.4" cy="112.1"/><circle cx="181.9" cy="101.1"/><circle cx="165.1" cy="126"/><circle cx="145.3" cy="108.7"/><circle cx="175.1" cy="113.7"/><circle cx="157.1" cy="119.1"/><circle cx="168.5" cy="108.9"/><circle cx="163.3" cy="114.6"/><circle cx="165.4" cy="102.7"/><circle cx="149.4" cy="112.2"/><circle cx="170.2" cy="118.8"/><circle cx="147.8" cy="105.3"/><circle cx="167.5" cy="118.6"/><circle cx="160.2" cy="112"/><circle cx="167" cy="106.1"/><circle cx="163.7" cy="105.9"/><circle cx="167.2" cy="93.6"/><circle cx="173.2" cy="112.2"/><circle cx="164.3" cy="105.8"/><circle cx="165.3" cy="118"/><circle cx="157.4" cy="99.2"/><circle cx="160.1" cy="108.4"/><circle cx="161.2" cy="111.9"/><circle cx="153.5" cy="103.5"/><circle cx="166" cy="112.5"/><circle cx="154.6" cy="101.8"/><circle cx="167.2" cy="110"/><circle cx="180.3" cy="101.3"/><circle cx="166.1" cy="112.9"/><circle cx="167" cy="108.9"/><circle cx="154.7" cy="115.1"/><circle cx="158.9" cy="110.3"/><circle cx="146.4" cy="110.4"/><circle cx="161.5" cy="113.2"/><circle cx="156.6" cy="108.5"/><circle cx="174.1" cy="107.1"/><circle cx="171.3" cy="117.4"/><circle cx="161.6" cy="113.4"/><circle cx="156.9" cy="108.8"/><circle cx="170.8" cy="108.4"/><circle cx="176" cy="114.9"/><circle cx="164.4" cy="94.5"/><circle cx="156.5" cy="97.6"/><circle cx="144.8" cy="114.4"/><circle cx="153.1" cy="117.2"/><circle cx="165.4" cy="109"/><circle cx="161.3" cy="103.7"/><circle cx="165.4" cy="103"/><circle cx="182.9" cy="110.3"/><circle cx="181.3" cy="109.7"/><circle cx="176.2" cy="103.6"/><circle cx="149.8" cy="120.4"/><circle cx="172" cy="124.5"/><circle cx="190.6" cy="109.7"/><circle cx="189.5" cy="110.8"/><circle cx="151.7" cy="116.9"/><circle cx="158.5" cy="122.8"/><circle cx="171.8" cy="109.2"/><circle cx="158.4" cy="111.1"/><circle cx="165.7" cy="108.5"/><circle cx="161" cy="115.9"/><circle cx="164.3" cy="106.4"/><circle cx="181.5" cy="100.3"/><circle cx="188.7" cy="119.7"/><circle cx="178.9" cy="100.8"/><circle cx="163.5" cy="105.4"/><circle cx="165.8" cy="116.9"/><circle cx="186.6" cy="107.1"/><circle cx="169.2" cy="114.9"/><circle cx="157.6" cy="105.3"/><circle cx="164.7" cy="114.8"/><circle cx="164.5" cy="117.2"/><circle cx="164.2" cy="117.1"/><circle cx="149.4" cy="105.3"/><circle cx="155.6" cy="109.5"/><circle cx="167.3" cy="113"/><circle cx="173.1" cy="109.6"/><circle cx="157.3" cy="107.5"/><circle cx="179.8" cy="114.7"/><circle cx="162" cy="110.4"/><circle cx="149.8" cy="100.4"/><circle cx="156.1" cy="118"/><circle cx="183.5" cy="105.3"/><circle cx="173.6" cy="103.7"/><circle cx="167.8" cy="104.6"/><circle cx="169.8" cy="115.4"/><circle cx="165" cy="116.5"/><circle cx="169.6" cy="109.3"/><circle cx="165.4" cy="105.2"/><circle cx="132.7" cy="129.8"/><circle cx="150.3" cy="108"/><circle cx="166.9" cy="108.4"/><circle cx="162" cy="114.2"/><circle cx="176.6" cy="101.2"/><circle cx="173.9" cy="102.3"/><circle cx="177.5" cy="112.4"/><circle cx="181.6" cy="94.8"/><circle cx="167.2" cy="109"/><circle cx="176.8" cy="104.9"/><circle cx="161.7" cy="109.1"/><circle cx="184.2" cy="106.9"/><circle cx="144" cy="109.2"/><circle cx="157.1" cy="116.7"/><circle cx="163.4" cy="114.9"/><circle cx="165.1" cy="101.8"/><circle cx="153.2" cy="102.5"/><circle cx="152.5" cy="116"/><circle cx="155.8" cy="112"/><circle cx="181.2" cy="101.5"/><circle cx="163.6" cy="116.3"/><circle cx="170.8" cy="105.9"/><circle cx="157.1" cy="114.1"/><circle cx="158.4" cy="112.3"/><circle cx="163" cy="114.2"/><circle cx="153.6" cy="105.6"/><circle cx="161.5" cy="126"/><circle cx="158.6" cy="110.5"/><circle cx="185.1" cy="107.4"/><circle cx="159" cy="99.9"/><circle cx="179.7" cy="107.1"/><circle cx="162.3" cy="118.5"/><circle cx="172.2" cy="120.6"/><circle cx="153.8" cy="118.3"/><circle cx="162.8" cy="113.8"/><circle cx="185.5" cy="93"/><circle cx="174" cy="107"/><circle cx="155.6" cy="114.3"/><circle cx="164.1" cy="126.4"/><circle cx="157.6" cy="109.2"/><circle cx="161" cy="112.2"/><circle cx="168.8" cy="107.9"/><circle cx="164.8" cy="114.8"/><circle cx="152.2" cy="117.6"/><circle cx="157.8" cy="103.7"/><circle cx="167.7" cy="113.9"/><circle cx="165.8" cy="107.6"/><circle cx="159.6" cy="119.3"/><circle cx="148.5" cy="113.8"/><circle cx="180" cy="107.7"/><circle cx="158.2" cy="111.2"/><circle cx="161.9" cy="121"/><circle cx="165.6" cy="102.4"/><circle cx="173.4" cy="119"/><circle cx="184.3" cy="98.4"/><circle cx="178.2" cy="113.1"/><circle cx="158.4" cy="114.3"/><circle cx="176.4" cy="90.2"/><circle cx="159" cy="107.9"/><circle cx="167.7" cy="115.3"/><circle cx="141.8" cy="127.4"/><circle cx="153.6" cy="110.4"/><circle cx="176.1" cy="109.3"/><circle cx="186.4" cy="112.4"/><circle cx="156.7" cy="110.8"/><circle cx="163.1" cy="120.4"/><circle cx="169.3" cy="109.2"/><circle cx="176.4" cy="122.3"/><circle cx="188.7" cy="112"/><circle cx="142.6" cy="112.4"/><circle cx="170.3" cy="120.3"/><circle cx="185.4" cy="103.1"/><circle cx="166" cy="123.3"/><circle cx="152" cy="117.2"/><circle cx="185.4" cy="109.4"/><circle cx="170.1" cy="113.1"/><circle cx="182.1" cy="101.9"/><circle cx="168.2" cy="110.8"/><circle cx="157" cy="113.8"/><circle cx="145.8" cy="113.4"/><circle cx="167.8" cy="108.9"/><circle cx="175.1" cy="110.9"/><circle cx="165.8" cy="110.8"/><circle cx="164.5" cy="112.5"/><circle cx="164.8" cy="106.7"/><circle cx="178.8" cy="112.4"/><circle cx="159.6" cy="113.8"/><circle cx="162.6" cy="108.1"/><circle cx="165.2" cy="107.3"/><circle cx="148" cy="117.6"/><circle cx="159.1" cy="125.2"/><circle cx="171.4" cy="110.9"/><circle cx="145.3" cy="96.9"/><circle cx="154.4" cy="104.6"/><circle cx="159.1" cy="106"/><circle cx="152.5" cy="120.5"/><circle cx="183.1" cy="102"/><circle cx="165.4" cy="113.8"/><circle cx="183" cy="110.2"/><circle cx="154.7" cy="107.5"/><circle cx="175.6" cy="118.3"/><circle cx="187.3" cy="118.1"/><circle cx="170.5" cy="116.1"/><circle cx="147.2" cy="118.1"/><circle cx="168.2" cy="123"/><circle cx="165.3" cy="100.8"/><circle cx="139.4" cy="125"/><circle cx="178.8" cy="103.1"/><circle cx="179.5" cy="114.2"/><circle cx="163.1" cy="110.4"/><circle cx="159.4" cy="118.8"/><circle cx="167.4" cy="118.1"/><circle cx="180.3" cy="103.9"/><circle cx="161.7" cy="117.5"/><circle cx="173.6" cy="115.1"/><circle cx="149.8" cy="118.1"/><circle cx="154.7" cy="115.6"/><circle cx="156.1" cy="119.2"/><circle cx="164.5" cy="120"/><circle cx="149.7" cy="107.9"/><circle cx="158.3" cy="112.6"/><circle cx="177.6" cy="116"/><circle cx="152" cy="109.3"/><circle cx="155.1" cy="108.1"/><circle cx="182.8" cy="110.3"/><circle cx="169.4" cy="95.2"/><circle cx="156.8" cy="116.2"/><circle cx="165" cy="105.1"/><circle cx="159.5" cy="113.7"/><circle cx="150.2" cy="111.3"/><circle cx="163.6" cy="108.7"/><circle cx="173.6" cy="104.8"/><circle cx="166.4" cy="124.3"/><circle cx="167" cy="103.8"/><circle cx="168.2" cy="110.8"/><circle cx="169.6" cy="111"/><circle cx="186" cy="116.9"/><circle cx="150.9" cy="125.1"/><circle cx="146.8" cy="107.4"/><circle cx="162.2" cy="120.3"/><circle cx="182.1" cy="100.5"/><circle cx="175.3" cy="110.9"/><circle cx="176.7" cy="116.3"/><circle cx="166.9" cy="116.8"/><circle cx="173.8" cy="120"/><circle cx="162.2" cy="109.8"/><circle cx="169.6" cy="118.7"/><circle cx="175.2" cy="133.4"/><circle cx="167.2" cy="109.5"/><circle cx="181.8" cy="111.1"/><circle cx="183.7" cy="105.7"/><circle cx="139.6" cy="115.9"/><circle cx="150.6" cy="115.7"/><circle cx="154.1" cy="114.9"/><circle cx="167.5" cy="115.7"/><circle cx="173.2" cy="95.2"/><circle cx="172.2" cy="114.1"/><circle cx="138.5" cy="116"/><circle cx="168.5" cy="103.5"/><circle cx="160.7" cy="102.2"/><circle cx="147.3" cy="111.7"/></g>
<g fill="#C77CFF" fill-opacity="0.6"><circle cx="75.9" cy="158"/><circle cx="112" cy="135.9"/><circle cx="117.5" cy="105.2"/><circle cx="136" cy="89.5"/><circle cx="136.8" cy="101.2"/><circle cx="104.9" cy="113.6"/><circle cx="104.2" cy="125.3"/><circle cx="116.1" cy="131.6"/><circle cx="103.4" cy="146"/><circle cx="105.7" cy="116"/><circle cx="104.4" cy="109.7"/><circle cx="72.8" cy="147.6"/><circle cx="117.7" cy="89.9"/><circle cx="100.3" cy="130"/><circle cx="142.3" cy="90.4"/><circle cx="107.4" cy="127.5"/><circle cx="103.5" cy="128.8"/><circle cx="126.4" cy="103.9"/><circle cx="86.9" cy="127.3"/><circle cx="131.8" cy="94.6"/><circle cx="81" cy="125.4"/><circle cx="74.4" cy="153.8"/><circle cx="146.1" cy="91.3"/><circle cx="81.1" cy="144"/><circle cx="112.8" cy="100.3"/><circle cx="87.9" cy="135.3"/><circle cx="137.7" cy="120.9"/><circle cx="117.2" cy="110.4"/><circle cx="98.9" cy="125.1"/><circle cx="120.1" cy="118.8"/><circle cx="111.3" cy="108.4"/><circle cx="104.5" cy="108.4"/><circle cx="129.3" cy="107.6"/><circle cx="72.5" cy="151.7"/><circle cx="111.5" cy="108.6"/><circle cx="119.3" cy="123.4"/><circle cx="100.2" cy="115.6"/><circle cx="92.9" cy="111.6"/><circle cx="137.2" cy="85.2"/><circle cx="72.1" cy="137.5"/><circle cx="102" cy="126.6"/><circle cx="101.7" cy="122.7"/><circle cx="124.7" cy="92.8"/><circle cx="104.9" cy="125.2"/><circle cx="111.1" cy="106.3"/></g>
<g fill="#9590FF" fill-opacity="0.65"><circle cx="195.2" cy="146.4"/><circle cx="185.7" cy="131.4"/><circle cx="205.3" cy="102.4"/><circle cx="183.6" cy="160.6"/><circle cx="182.7" cy="140.7"/><circle cx="207.1" cy="100.7"/><circle cx="180.1" cy="130.9"/><circle cx="204.8" cy="134.5"/><circle cx="189.7" cy="132.7"/><circle cx="199.5" cy="135.1"/><circle cx="192.4" cy="136.1"/><circle cx="179.5" cy="150.3"/><circle cx="196.7" cy="124"/><circle cx="179.1" cy="147.1"/><circle cx="197.9" cy="127"/><circle cx="210.1" cy="116.2"/><circle cx="182.4" cy="152.6"/><circle cx="185" cy="144.3"/><circle cx="196.2" cy="141.8"/><circle cx="209.1" cy="108.4"/><circle cx="210.5" cy="105"/><circle cx="190.9" cy="146.2"/></g>
<g fill="#9590FF" fill-opacity="0.65"><circle cx="200.5" cy="68"/><circle cx="207.3" cy="82.1"/><circle cx="203.8" cy="83.3"/><circle cx="207.4" cy="82.6"/><circle cx="201.7" cy="88"/><circle cx="199.5" cy="97"/><circle cx="197.3" cy="94.9"/><circle cx="199.6" cy="85.7"/><circle cx="194.3" cy="99.1"/><circle cx="205.7" cy="92.1"/></g>
<g fill="#FF62BC" fill-opacity="0.65"><circle cx="89.7" cy="138.6"/><circle cx="85.4" cy="170.7"/><circle cx="125.9" cy="129"/><circle cx="86.9" cy="131.4"/><circle cx="107.1" cy="145.7"/><circle cx="47" cy="167.9"/><circle cx="92.7" cy="155.6"/><circle cx="72.2" cy="176.8"/><circle cx="114.6" cy="140.3"/><circle cx="101.8" cy="163.6"/><circle cx="109.9" cy="162.3"/><circle cx="117.3" cy="125.8"/><circle cx="84.2" cy="198"/><circle cx="83.1" cy="159.1"/><circle cx="101.2" cy="138.8"/><circle cx="94.2" cy="147"/><circle cx="58.2" cy="156.4"/><circle cx="96" cy="168.1"/><circle cx="92.7" cy="123.4"/><circle cx="103.3" cy="129.3"/><circle cx="128.2" cy="129.7"/><circle cx="87.7" cy="159.8"/><circle cx="97.5" cy="131"/><circle cx="107.6" cy="103.9"/><circle cx="89" cy="170.8"/><circle cx="88.7" cy="117.2"/><circle cx="121.3" cy="132.7"/><circle cx="99.9" cy="175.3"/><circle cx="119.6" cy="108.4"/><circle cx="97.9" cy="169.1"/><circle cx="80.3" cy="153.8"/><circle cx="127.8" cy="147.2"/><circle cx="97.6" cy="173.8"/><circle cx="87.3" cy="174.9"/><circle cx="109.7" cy="141.4"/><circle cx="97.3" cy="154.5"/><circle cx="65.2" cy="137.9"/><circle cx="140" cy="92.3"/><circle cx="103.5" cy="156.9"/><circle cx="72.5" cy="138.2"/><circle cx="125.9" cy="119.4"/><circle cx="110.5" cy="162.2"/><circle cx="58" cy="157.8"/><circle cx="133.7" cy="102.1"/><circle cx="132.8" cy="124"/><circle cx="83.1" cy="141.4"/><circle cx="91.9" cy="136.3"/><circle cx="116.2" cy="133.6"/><circle cx="75.6" cy="157.3"/><circle cx="60.7" cy="162.7"/><circle cx="98.2" cy="170.2"/><circle cx="61.8" cy="156.6"/><circle cx="64.7" cy="148"/><circle cx="121" cy="152.8"/><circle cx="48.3" cy="171.5"/><circle cx="87.5" cy="145.3"/><circle cx="98.6" cy="159.7"/><circle cx="105.4" cy="160.7"/><circle cx="87.1" cy="138.5"/><circle cx="121.8" cy="126"/><circle cx="110.6" cy="120"/><circle cx="119.6" cy="132"/><circle cx="75.7" cy="191.4"/><circle cx="81.9" cy="142.1"/><circle cx="107.5" cy="135.2"/><circle cx="108.6" cy="168.7"/><circle cx="107.5" cy="129.1"/><circle cx="133.4" cy="136"/><circle cx="127.1" cy="123.4"/><circle cx="122.2" cy="142.1"/><circle cx="120.7" cy="140.5"/><circle cx="93.3" cy="142.6"/><circle cx="79.6" cy="141.8"/><circle cx="124.7" cy="144.4"/><circle cx="128.3" cy="135.3"/><circle cx="110.8" cy="178.3"/><circle cx="113.7" cy="180.6"/><circle cx="125.2" cy="147.2"/><circle cx="109.6" cy="142.2"/><circle cx="66.3" cy="133.8"/><circle cx="111.3" cy="176.6"/><circle cx="88.3" cy="163.1"/><circle cx="45.3" cy="191.5"/><circle cx="106.2" cy="117.1"/><circle cx="76.8" cy="163.5"/><circle cx="110.3" cy="130.9"/><circle cx="112.1" cy="153.2"/><circle cx="98.1" cy="144.9"/><circle cx="133.8" cy="148.9"/><circle cx="89.1" cy="156.2"/><circle cx="120.9" cy="153.5"/><circle cx="103.9" cy="141.2"/><circle cx="100.5" cy="148.8"/><circle cx="120.3" cy="137"/><circle cx="72.1" cy="171.3"/><circle cx="81.6" cy="165.8"/><circle cx="69.1" cy="166.8"/><circle cx="75.6" cy="152.6"/><circle cx="113.5" cy="166.2"/><circle cx="111.5" cy="146.5"/><circle cx="82.5" cy="175.7"/><circle cx="92.6" cy="132.5"/><circle cx="77.6" cy="152.2"/><circle cx="96.3" cy="142.1"/><circle cx="110.9" cy="118.2"/><circle cx="116.6" cy="162.3"/><circle cx="131.9" cy="142.9"/><circle cx="75.6" cy="165.6"/><circle cx="124" cy="128.4"/><circle cx="58.7" cy="181.9"/><circle cx="113" cy="139.4"/><circle cx="85.7" cy="126.3"/><circle cx="90" cy="143.7"/><circle cx="89.5" cy="147.9"/><circle cx="74.7" cy="148"/><circle cx="76.1" cy="137.3"/><circle cx="105.8" cy="144.9"/><circle cx="72.2" cy="161.2"/><circle cx="94.4" cy="174"/><circle cx="117.8" cy="132.6"/><circle cx="115.7" cy="140.9"/><circle cx="138.7" cy="121.7"/><circle cx="73.3" cy="164.2"/><circle cx="82.3" cy="143"/><circle cx="100.6" cy="132.2"/><circle cx="108.4" cy="125.6"/><circle cx="117.2" cy="143.3"/><circle cx="111.2" cy="154.8"/><circle cx="87.6" cy="152.9"/><circle cx="104.1" cy="172.5"/><circle cx="106.2" cy="118.2"/><circle cx="51.4" cy="147.1"/><circle cx="88.6" cy="154.9"/><circle cx="92.4" cy="165.3"/><circle cx="135.7" cy="112"/><circle cx="87.7" cy="142.3"/><circle cx="106.8" cy="136.6"/><circle cx="117.2" cy="130.4"/><circle cx="94.5" cy="170.3"/><circle cx="117.2" cy="116.6"/><circle cx="103" cy="145.6"/><circle cx="124.9" cy="137"/><circle cx="69.8" cy="161.9"/><circle cx="137.8" cy="108.1"/><circle cx="50.7" cy="198.4"/><circle cx="137.1" cy="132.9"/><circle cx="112.5" cy="158.8"/><circle cx="96.2" cy="151.4"/><circle cx="80.1" cy="150"/><circle cx="117.6" cy="134"/><circle cx="123.1" cy="152"/><circle cx="66.3" cy="144.2"/><circle cx="105.3" cy="132.6"/><circle cx="95.6" cy="159.9"/><circle cx="90.7" cy="149.3"/><circle cx="95.3" cy="163.9"/><circle cx="88.9" cy="163.8"/><circle cx="113.6" cy="158.7"/><circle cx="106.2" cy="174.3"/><circle cx="128.8" cy="141.6"/><circle cx="123.4" cy="143.8"/><circle cx="90.9" cy="151.9"/><circle cx="93.4" cy="160.1"/><circle cx="88.2" cy="163.2"/><circle cx="79.2" cy="150.5"/><circle cx="58.9" cy="157.1"/><circle cx="109.3" cy="121.7"/><circle cx="100.4" cy="155.6"/><circle cx="102.5" cy="149.9"/><circle cx="90.8" cy="157.5"/><circle cx="115.2" cy="143.4"/><circle cx="94.9" cy="148.3"/><circle cx="88.9" cy="162.8"/><circle cx="123.8" cy="123.5"/><circle cx="78.5" cy="160"/><circle cx="104.3" cy="153"/><circle cx="127.3" cy="137.7"/><circle cx="116.5" cy="118.1"/><circle cx="103" cy="143.7"/><circle cx="59.4" cy="180.4"/><circle cx="106" cy="114.4"/><circle cx="110" cy="145.7"/><circle cx="79.5" cy="157"/><circle cx="71.9" cy="141.1"/><circle cx="94.5" cy="153.2"/><circle cx="73.2" cy="175.6"/><circle cx="83.8" cy="156.4"/><circle cx="84.4" cy="136.3"/><circle cx="75.8" cy="143.6"/><circle cx="98.5" cy="185.4"/><circle cx="89.9" cy="155.9"/><circle cx="95.2" cy="184.8"/><circle cx="61.2" cy="178.9"/><circle cx="106" cy="166.6"/><circle cx="74.9" cy="173.2"/><circle cx="86" cy="121.5"/><circle cx="93.3" cy="153.4"/><circle cx="145.7" cy="106.2"/><circle cx="100.1" cy="131.1"/><circle cx="122.9" cy="132"/><circle cx="86.2" cy="148.1"/><circle cx="105.3" cy="166.8"/><circle cx="94.3" cy="160.6"/><circle cx="118.7" cy="150.9"/><circle cx="120.3" cy="151.3"/><circle cx="95.9" cy="137.2"/><circle cx="90.9" cy="153.2"/><circle cx="81.8" cy="152"/><circle cx="71.8" cy="167.2"/><circle cx="110.2" cy="146.8"/><circle cx="132.6" cy="152.1"/><circle cx="115.6" cy="129.2"/><circle cx="92.4" cy="159.2"/><circle cx="60.1" cy="167"/><circle cx="94.3" cy="190.4"/><circle cx="118.2" cy="138.1"/><circle cx="129.2" cy="121.2"/><circle cx="75.7" cy="169.8"/><circle cx="96.5" cy="154.2"/><circle cx="80.4" cy="148"/><circle cx="82.4" cy="137.7"/><circle cx="62.6" cy="166.2"/><circle cx="112.4" cy="144.5"/><circle cx="62.8" cy="156.2"/><circle cx="116.8" cy="160.8"/><circle cx="84.2" cy="200.7"/><circle cx="70.6" cy="134.4"/><circle cx="111.5" cy="113.5"/><circle cx="113.3" cy="138.6"/><circle cx="124.9" cy="147.7"/><circle cx="92.4" cy="167"/><circle cx="116.6" cy="164.2"/><circle cx="99.7" cy="150"/><circle cx="121" cy="136"/><circle cx="91.7" cy="145.2"/><circle cx="97.7" cy="188.1"/><circle cx="110" cy="164.3"/><circle cx="68.3" cy="168.6"/><circle cx="80.7" cy="150.5"/><circle cx="115.9" cy="143.6"/><circle cx="140.6" cy="120.1"/><circle cx="133.6" cy="155.5"/><circle cx="91.8" cy="138"/><circle cx="81.8" cy="149"/><circle cx="101.7" cy="146.7"/><circle cx="119.5" cy="156.9"/><circle cx="66.6" cy="160.4"/><circle cx="93.6" cy="132.6"/><circle cx="78.6" cy="200.1"/><circle cx="120.4" cy="151.7"/><circle cx="49.6" cy="174.2"/><circle cx="130.1" cy="133.1"/><circle cx="99.8" cy="144.3"/><circle cx="128.1" cy="143.7"/><circle cx="76.5" cy="152.4"/><circle cx="83.9" cy="135.8"/><circle cx="103.5" cy="154.1"/><circle cx="104.4" cy="156.6"/><circle cx="101.2" cy="105.5"/><circle cx="131.4" cy="126.7"/><circle cx="68.9" cy="141.1"/><circle cx="63.5" cy="168.5"/><circle cx="95.6" cy="150.9"/><circle cx="86" cy="159.8"/><circle cx="80.9" cy="138.6"/><circle cx="64.4" cy="183.3"/><circle cx="63.9" cy="185.2"/><circle cx="72.8" cy="157.2"/><circle cx="75.9" cy="161.1"/><circle cx="125.8" cy="141.4"/><circle cx="110.5" cy="133.7"/><circle cx="91.8" cy="154.9"/><circle cx="85.7" cy="178.6"/><circle cx="117.3" cy="148.6"/><circle cx="94.2" cy="159.5"/><circle cx="70.2" cy="144.2"/><circle cx="57.6" cy="171.9"/><circle cx="103.6" cy="156.9"/><circle cx="92.7" cy="143.3"/><circle cx="76.8" cy="162.9"/><circle cx="109.1" cy="129.9"/><circle cx="115.1" cy="160.5"/><circle cx="119.4" cy="141.1"/><circle cx="95.6" cy="141.2"/><circle cx="138.6" cy="150"/><circle cx="67.8" cy="143.7"/><circle cx="107.9" cy="138.6"/><circle cx="108.4" cy="133.5"/><circle cx="54.1" cy="142.2"/><circle cx="86.1" cy="145.1"/><circle cx="78.9" cy="156.4"/><circle cx="132.7" cy="139.9"/><circle cx="119.3" cy="108"/><circle cx="107.6" cy="151.3"/><circle cx="71.8" cy="159.7"/><circle cx="101.1" cy="141.9"/><circle cx="100.2" cy="109.8"/><circle cx="102.9" cy="132.6"/><circle cx="80.6" cy="144.3"/><circle cx="104.1" cy="159.6"/><circle cx="90.6" cy="166.9"/><circle cx="73.6" cy="146.9"/><circle cx="61.1" cy="172.3"/><circle cx="135.9" cy="134.9"/><circle cx="138.9" cy="115.9"/><circle cx="80.8" cy="175.1"/><circle cx="129.3" cy="153.5"/><circle cx="97.3" cy="141.3"/><circle cx="74.9" cy="175.2"/><circle cx="113.1" cy="130.6"/><circle cx="92.1" cy="165.3"/><circle cx="66.5" cy="184.5"/><circle cx="61.4" cy="198.5"/><circle cx="68.9" cy="191.4"/><circle cx="113.2" cy="143.1"/><circle cx="73.1" cy="147.7"/><circle cx="106.9" cy="126"/><circle cx="75.7" cy="136.2"/><circle cx="137.9" cy="140"/><circle cx="118.1" cy="121.2"/><circle cx="104.7" cy="129.8"/><circle cx="142.3" cy="107.2"/><circle cx="128.2" cy="146.6"/><circle cx="81.8" cy="206.6"/><circle cx="74.1" cy="160.2"/><circle cx="96.2" cy="185.1"/><circle cx="78.7" cy="173.9"/><circle cx="111.3" cy="127.2"/><circle cx="58.7" cy="181.2"/><circle cx="82.6" cy="186.8"/><circle cx="119.8" cy="136.2"/><circle cx="95.7" cy="124.3"/><circle cx="121.8" cy="123.4"/><circle cx="70" cy="192.5"/><circle cx="89.2" cy="165.3"/><circle cx="75" cy="155.5"/><circle cx="61.1" cy="201.6"/><circle cx="84.1" cy="162.5"/><circle cx="83" cy="154"/><circle cx="126.9" cy="129.3"/><circle cx="59.5" cy="157.5"/><circle cx="99.6" cy="175.6"/><circle cx="91.4" cy="169.4"/><circle cx="93.3" cy="147"/><circle cx="78" cy="163.5"/><circle cx="90" cy="155.2"/><circle cx="102.1" cy="175.2"/><circle cx="67.5" cy="178"/><circle cx="84" cy="142.5"/><circle cx="87.7" cy="156.9"/><circle cx="48.1" cy="151.5"/><circle cx="108.5" cy="125.6"/><circle cx="85.6" cy="134.7"/><circle cx="109.8" cy="131.5"/><circle cx="116.6" cy="163.4"/><circle cx="120.5" cy="132.8"/><circle cx="111.8" cy="168.4"/><circle cx="82.6" cy="168.7"/><circle cx="70" cy="163.9"/><circle cx="110" cy="152"/><circle cx="86.9" cy="164.6"/><circle cx="72" cy="151.5"/><circle cx="121.1" cy="166.7"/><circle cx="51.2" cy="157.4"/><circle cx="132.3" cy="122.1"/><circle cx="128.3" cy="122.9"/><circle cx="107.5" cy="126.4"/><circle cx="130.8" cy="142.9"/><circle cx="106.1" cy="122.4"/><circle cx="117.7" cy="161.5"/><circle cx="117.4" cy="122.5"/><circle cx="130.7" cy="145.6"/><circle cx="96.5" cy="169.5"/><circle cx="80.8" cy="154.7"/><circle cx="80.6" cy="162.3"/><circle cx="52" cy="152.7"/><circle cx="131.4" cy="123.3"/><circle cx="77.3" cy="178.2"/><circle cx="68.9" cy="158.9"/><circle cx="107.5" cy="163.2"/><circle cx="113" cy="134.9"/><circle cx="130.2" cy="118.4"/><circle cx="116.6" cy="161.7"/><circle cx="65.4" cy="169.9"/><circle cx="112" cy="139.6"/><circle cx="84.5" cy="191.8"/><circle cx="56.5" cy="162.8"/><circle cx="117.4" cy="122.9"/><circle cx="100.9" cy="176.9"/><circle cx="92.2" cy="132.1"/><circle cx="52.8" cy="187.1"/><circle cx="89.2" cy="142.6"/><circle cx="121" cy="142.1"/><circle cx="101.4" cy="173.8"/><circle cx="86" cy="123.5"/><circle cx="55.8" cy="169.4"/><circle cx="118.4" cy="128.7"/><circle cx="113.4" cy="125.4"/><circle cx="123.5" cy="136"/><circle cx="100.9" cy="139.8"/><circle cx="65.8" cy="155.9"/><circle cx="131.6" cy="133.4"/><circle cx="100.5" cy="154.5"/><circle cx="93.3" cy="159.5"/><circle cx="100.4" cy="153.7"/><circle cx="112.7" cy="170.2"/><circle cx="121.6" cy="136.8"/><circle cx="116.8" cy="146"/><circle cx="109.9" cy="139.7"/><circle cx="87" cy="160.6"/><circle cx="59.6" cy="127.7"/><circle cx="138.1" cy="166.2"/><circle cx="102.5" cy="119.7"/><circle cx="125.6" cy="141.8"/><circle cx="100.7" cy="114.9"/><circle cx="98.2" cy="157.9"/><circle cx="106.6" cy="134.3"/><circle cx="86.9" cy="123.2"/><circle cx="94.4" cy="147.5"/><circle cx="100.1" cy="161.3"/><circle cx="51.8" cy="186.8"/><circle cx="97.6" cy="153.4"/><circle cx="135.3" cy="133.4"/><circle cx="93.1" cy="181.5"/><circle cx="65.2" cy="191.8"/><circle cx="119.6" cy="116.8"/><circle cx="99.6" cy="183.9"/><circle cx="92.3" cy="132.1"/><circle cx="59.9" cy="191.5"/><circle cx="76.9" cy="150.6"/><circle cx="93.4" cy="140.7"/><circle cx="101.3" cy="128.9"/><circle cx="57" cy="165.7"/><circle cx="62.8" cy="145.9"/><circle cx="66.9" cy="142.3"/><circle cx="83.4" cy="176"/><circle cx="122.5" cy="140.1"/><circle cx="109.4" cy="143.3"/><circle cx="98" cy="152.6"/><circle cx="97.6" cy="123.9"/><circle cx="69.1" cy="162.1"/><circle cx="135.2" cy="125.2"/><circle cx="74.4" cy="192.5"/><circle cx="109.6" cy="126.7"/><circle cx="75.4" cy="179.1"/><circle cx="75.7" cy="152.8"/><circle cx="87.8" cy="162.1"/><circle cx="85.2" cy="179.9"/><circle cx="108.6" cy="138.6"/><circle cx="109.4" cy="139.6"/><circle cx="92" cy="130.5"/><circle cx="86" cy="148.4"/><circle cx="127.1" cy="160.7"/><circle cx="115.5" cy="149.3"/><circle cx="115.5" cy="156.7"/><circle cx="106.3" cy="157.1"/><circle cx="87.9" cy="141.4"/><circle cx="85.4" cy="191.6"/><circle cx="83.3" cy="170.3"/><circle cx="129" cy="136"/><circle cx="102.3" cy="150.1"/><circle cx="101.7" cy="143.8"/><circle cx="94.3" cy="160.9"/><circle cx="97.1" cy="135.5"/><circle cx="87.7" cy="161.2"/><circle cx="93.7" cy="145.6"/><circle cx="97.8" cy="145"/><circle cx="121.7" cy="167.5"/><circle cx="75.4" cy="167.8"/><circle cx="104.3" cy="128.7"/><circle cx="117" cy="143.5"/><circle cx="93.6" cy="156.4"/><circle cx="77.8" cy="152.9"/><circle cx="93.1" cy="193.8"/><circle cx="130.1" cy="113.7"/><circle cx="84.6" cy="175.2"/><circle cx="87.5" cy="151.5"/><circle cx="104.2" cy="138.7"/><circle cx="109.5" cy="168"/><circle cx="118.5" cy="163.1"/><circle cx="53.8" cy="195.2"/><circle cx="92.2" cy="162.1"/><circle cx="81.7" cy="172.3"/><circle cx="73.7" cy="176.1"/><circle cx="88.8" cy="168.8"/><circle cx="65.1" cy="143.9"/><circle cx="86.4" cy="157"/><circle cx="55.3" cy="164.5"/><circle cx="124.2" cy="159.8"/><circle cx="114.1" cy="138"/><circle cx="89.4" cy="167.5"/><circle cx="85.2" cy="153.5"/><circle cx="111.9" cy="130.6"/><circle cx="100.1" cy="125.3"/><circle cx="120.7" cy="99.5"/><circle cx="93.8" cy="170.6"/><circle cx="135.2" cy="118.5"/><circle cx="81.5" cy="144.2"/><circle cx="96.8" cy="152.2"/><circle cx="132.4" cy="141"/><circle cx="86.5" cy="169.9"/><circle cx="107.4" cy="129.6"/><circle cx="105.1" cy="151.6"/><circle cx="95.3" cy="157.7"/><circle cx="108.4" cy="154.2"/><circle cx="131.9" cy="146.8"/><circle cx="136.4" cy="166.2"/><circle cx="132.2" cy="122.4"/><circle cx="89.9" cy="134.7"/><circle cx="111.8" cy="152.2"/><circle cx="100.1" cy="142.8"/><circle cx="80.7" cy="152.4"/><circle cx="127.2" cy="126.2"/><circle cx="102.6" cy="145.8"/><circle cx="105.1" cy="148.9"/><circle cx="123.3" cy="124.3"/><circle cx="127.2" cy="154.3"/><circle cx="113.3" cy="160.3"/><circle cx="91.2" cy="192.7"/><circle cx="109.9" cy="142.5"/><circle cx="135.2" cy="124.2"/><circle cx="117.6" cy="148.8"/><circle cx="59.1" cy="131.5"/><circle cx="73.7" cy="140.6"/><circle cx="101.6" cy="118.5"/><circle cx="81.7" cy="136.9"/><circle cx="94.1" cy="143.2"/><circle cx="86.9" cy="166.2"/><circle cx="91.9" cy="154.6"/><circle cx="139.8" cy="106.1"/><circle cx="92.1" cy="163.8"/><circle cx="127.4" cy="150.2"/><circle cx="90.6" cy="143.7"/><circle cx="59.5" cy="153"/><circle cx="52.8" cy="142.7"/><circle cx="106.6" cy="122.6"/><circle cx="78.3" cy="168.2"/><circle cx="80.8" cy="127.5"/><circle cx="93.7" cy="150"/><circle cx="130.2" cy="145.6"/><circle cx="69.3" cy="172.7"/><circle cx="69.9" cy="156.8"/><circle cx="63.2" cy="184.7"/><circle cx="77.6" cy="156.7"/><circle cx="117" cy="135.4"/><circle cx="94.2" cy="177.8"/><circle cx="80.8" cy="172.1"/><circle cx="59.6" cy="148.7"/><circle cx="108.9" cy="137.8"/><circle cx="111.3" cy="155.6"/></g>
<g fill="#FF62BC" fill-opacity="0.65"><circle cx="128.8" cy="48.8"/></g>
<g fill="#FF62BC" fill-opacity="0.65"><circle cx="107.9" cy="112.3"/><circle cx="119" cy="100.8"/><circle cx="131.9" cy="94.3"/><circle cx="107.8" cy="120.4"/><circle cx="94.9" cy="128.3"/><circle cx="118.6" cy="100.3"/><circle cx="82.7" cy="124.5"/><circle cx="108.8" cy="120.4"/><circle cx="113.5" cy="107.7"/><circle cx="97.6" cy="115.1"/><circle cx="88.8" cy="124.4"/><circle cx="106.5" cy="106.1"/><circle cx="99.4" cy="124.1"/><circle cx="102.7" cy="124.3"/><circle cx="104.5" cy="108.4"/><circle cx="121.5" cy="115.5"/><circle cx="128.8" cy="99.8"/><circle cx="92.6" cy="117.5"/><circle cx="126.2" cy="102.9"/><circle cx="103.5" cy="106.3"/><circle cx="125.1" cy="103.5"/><circle cx="121.6" cy="89.4"/><circle cx="98.8" cy="122.2"/><circle cx="113" cy="107.9"/><circle cx="128.6" cy="117.5"/><circle cx="116.1" cy="102.7"/><circle cx="120.2" cy="106.6"/><circle cx="111" cy="97.1"/><circle cx="113.6" cy="112.6"/><circle cx="116.3" cy="117.3"/><circle cx="108.5" cy="106"/><circle cx="129.9" cy="94.2"/><circle cx="104.4" cy="108.4"/><circle cx="111.8" cy="111.2"/><circle cx="128.8" cy="97.9"/><circle cx="126.8" cy="105.2"/><circle cx="130.5" cy="87.9"/><circle cx="132" cy="93.2"/><circle cx="104.6" cy="113"/><circle cx="135.4" cy="104.6"/><circle cx="93.3" cy="119.8"/><circle cx="108" cy="107.3"/><circle cx="107.9" cy="110.1"/><circle cx="92.8" cy="116.7"/><circle cx="109.9" cy="117.2"/><circle cx="105.7" cy="107"/><circle cx="119.7" cy="113.2"/><circle cx="115.4" cy="90.4"/><circle cx="109.7" cy="128.6"/><circle cx="99.8" cy="107.3"/><circle cx="102.9" cy="122.9"/><circle cx="104.4" cy="118.8"/><circle cx="119.6" cy="104.1"/><circle cx="123.9" cy="98.7"/><circle cx="123.1" cy="90.3"/><circle cx="106.6" cy="104.6"/><circle cx="115.1" cy="120.4"/><circle cx="94.8" cy="111"/><circle cx="106" cy="102.6"/><circle cx="117.6" cy="118.9"/></g>
<g fill="#D89000" fill-opacity="0.65"><circle cx="85.1" cy="132.5"/><circle cx="80.5" cy="138.9"/><circle cx="86.7" cy="126.2"/><circle cx="85.8" cy="130.5"/><circle cx="86.2" cy="134.5"/><circle cx="84" cy="133.5"/><circle cx="83.3" cy="128.1"/><circle cx="82.8" cy="130.5"/><circle cx="84.7" cy="133.9"/><circle cx="86.6" cy="136.8"/><circle cx="82.8" cy="142.7"/><circle cx="99.1" cy="122.4"/><circle cx="89.2" cy="136.8"/><circle cx="80.4" cy="147.7"/><circle cx="84.9" cy="128.8"/><circle cx="90.6" cy="137"/><circle cx="92.8" cy="139.4"/><circle cx="83.7" cy="133.1"/><circle cx="79.4" cy="137.4"/><circle cx="91.7" cy="134.2"/></g>
<g fill="#00C08B" fill-opacity="0.65"><circle cx="148.1" cy="124.5"/><circle cx="137.1" cy="140.3"/><circle cx="150.9" cy="119.8"/><circle cx="138.8" cy="123.5"/><circle cx="124.9" cy="137"/><circle cx="146" cy="131.1"/><circle cx="138.8" cy="135.2"/><circle cx="129.5" cy="130.4"/><circle cx="137.8" cy="127.2"/><circle cx="140.8" cy="141.1"/><circle cx="147.3" cy="126.9"/><circle cx="140.9" cy="133.4"/><circle cx="154" cy="129.7"/><circle cx="137.8" cy="145.5"/><circle cx="142" cy="124"/><circle cx="159.4" cy="110.9"/><circle cx="133.4" cy="128.5"/><circle cx="134.9" cy="142"/><circle cx="150.1" cy="103.2"/><circle cx="142.8" cy="130.2"/><circle cx="126.4" cy="130.5"/><circle cx="129.5" cy="141.7"/><circle cx="144.6" cy="139"/><circle cx="129.8" cy="155.2"/><circle cx="140.2" cy="130.5"/><circle cx="151" cy="116.7"/><circle cx="136.2" cy="142.5"/><circle cx="134.5" cy="128.5"/><circle cx="135.2" cy="134.5"/><circle cx="145.2" cy="126.3"/><circle cx="126.9" cy="144.6"/><circle cx="150.2" cy="119.5"/><circle cx="136.3" cy="131.9"/><circle cx="151.1" cy="128.2"/><circle cx="147" cy="127.1"/><circle cx="136.8" cy="134.3"/><circle cx="138.3" cy="142.1"/><circle cx="130.3" cy="133.8"/><circle cx="140.4" cy="128.5"/><circle cx="154.1" cy="101.8"/><circle cx="125.1" cy="140.5"/><circle cx="151.6" cy="125.8"/><circle cx="128.9" cy="138.1"/><circle cx="141.4" cy="124"/><circle cx="156" cy="123.4"/><circle cx="146.6" cy="121.5"/><circle cx="137.9" cy="132.5"/><circle cx="133.1" cy="137.1"/><circle cx="137.7" cy="133.3"/><circle cx="151.1" cy="116.4"/><circle cx="135.2" cy="141.8"/><circle cx="141.5" cy="147.1"/><circle cx="138.8" cy="131.4"/><circle cx="138.7" cy="132.8"/><circle cx="152.3" cy="121.6"/><circle cx="126.8" cy="117.4"/><circle cx="145.4" cy="125.7"/><circle cx="133.5" cy="145.2"/><circle cx="132.5" cy="116.6"/><circle cx="131.4" cy="146.8"/></g>
<g fill="#00C08B" fill-opacity="0.65"><circle cx="133.3" cy="181.4"/><circle cx="153.9" cy="149.2"/><circle cx="137.1" cy="156.9"/><circle cx="180.8" cy="130.8"/><circle cx="184.8" cy="134"/><circle cx="137.5" cy="147.5"/><circle cx="137.7" cy="142.6"/><circle cx="137" cy="143.9"/><circle cx="184.1" cy="125.1"/><circle cx="135.7" cy="178"/><circle cx="176.2" cy="139.5"/><circle cx="183.6" cy="157.9"/><circle cx="137.2" cy="161.8"/><circle cx="174.8" cy="149.3"/><circle cx="153.2" cy="149.7"/><circle cx="178.7" cy="136.4"/><circle cx="179.5" cy="136.9"/><circle cx="154.1" cy="136.2"/><circle cx="148.3" cy="154.3"/><circle cx="162.9" cy="157.9"/><circle cx="154.8" cy="146.6"/><circle cx="137.3" cy="146.5"/><circle cx="162" cy="132.3"/><circle cx="154.4" cy="138.2"/><circle cx="159.2" cy="134.4"/><circle cx="138.2" cy="146.2"/><circle cx="182.7" cy="132.3"/><circle cx="148.3" cy="146.7"/><circle cx="171.1" cy="156.5"/><circle cx="164.9" cy="161.9"/><circle cx="174.8" cy="137.9"/><circle cx="162.9" cy="148.4"/><circle cx="172.5" cy="161"/><circle cx="174.9" cy="142.7"/><circle cx="142.4" cy="159.3"/><circle cx="145.1" cy="179.5"/><circle cx="146.3" cy="154.5"/><circle cx="173.8" cy="136.4"/><circle cx="143.5" cy="158.2"/><circle cx="182.4" cy="142.8"/><circle cx="176" cy="141.8"/><circle cx="167.6" cy="124.6"/><circle cx="132" cy="172.6"/><circle cx="148.6" cy="167.9"/><circle cx="169.8" cy="147.3"/><circle cx="136.9" cy="173.5"/><circle cx="155.6" cy="125.8"/><circle cx="157.9" cy="143.5"/><circle cx="171.6" cy="125.1"/><circle cx="149.6" cy="168.6"/><circle cx="150.1" cy="119.6"/><circle cx="130.6" cy="184.2"/><circle cx="163.5" cy="165.7"/><circle cx="131.9" cy="159.9"/><circle cx="152" cy="153.3"/><circle cx="145.2" cy="168.2"/><circle cx="173.5" cy="116.8"/><circle cx="140.4" cy="170.4"/><circle cx="151" cy="151.7"/><circle cx="172.6" cy="115.8"/><circle cx="149.3" cy="152.4"/><circle cx="139.7" cy="169.9"/><circle cx="182.9" cy="139.9"/><circle cx="146.2" cy="165.9"/><circle cx="130.5" cy="151.9"/><circle cx="167.1" cy="155.6"/><circle cx="178" cy="131.7"/><circle cx="151.4" cy="147.1"/><circle cx="158.5" cy="131.2"/><circle cx="146.8" cy="147.7"/><circle cx="147" cy="150"/><circle cx="141" cy="163.9"/><circle cx="132.5" cy="183.6"/><circle cx="130.2" cy="160"/><circle cx="143.5" cy="154.5"/><circle cx="146.8" cy="170.8"/><circle cx="154.8" cy="159.3"/><circle cx="137" cy="149.4"/><circle cx="169.6" cy="128.1"/><circle cx="184.5" cy="120.1"/></g>
<g fill="#35A2FF" fill-opacity="0.65"><circle cx="108" cy="142.5"/><circle cx="79.9" cy="158.8"/><circle cx="83.5" cy="163.9"/><circle cx="59.7" cy="150.4"/><circle cx="117.5" cy="146.4"/><circle cx="120.9" cy="124.6"/><circle cx="112.7" cy="134.1"/><circle cx="66.5" cy="181.5"/><circle cx="137.1" cy="131.6"/><circle cx="82.1" cy="149.5"/><circle cx="110.7" cy="146.5"/><circle cx="105.3" cy="120.7"/><circle cx="95.4" cy="149.2"/><circle cx="97" cy="140.7"/><circle cx="102.7" cy="137.9"/><circle cx="72.3" cy="138.4"/><circle cx="124.5" cy="148"/><circle cx="116.8" cy="110.8"/><circle cx="110.5" cy="129.9"/><circle cx="119" cy="120.7"/><circle cx="92.8" cy="146"/><circle cx="76.4" cy="162.5"/><circle cx="123.4" cy="115.6"/><circle cx="67.6" cy="163.1"/><circle cx="106.6" cy="125"/><circle cx="79.6" cy="136.9"/><circle cx="121.6" cy="108.6"/><circle cx="126.2" cy="111.6"/><circle cx="123.4" cy="131.9"/><circle cx="129.6" cy="129"/><circle cx="131.4" cy="131.1"/><circle cx="57.7" cy="158.4"/><circle cx="107.9" cy="122.8"/><circle cx="132.8" cy="137"/><circle cx="125.1" cy="124.7"/><circle cx="77.2" cy="144.8"/><circle cx="105" cy="136.3"/><circle cx="122.5" cy="124.5"/><circle cx="77.7" cy="146.1"/><circle cx="97.6" cy="106.3"/><circle cx="95.5" cy="124"/><circle cx="79.6" cy="142.7"/><circle cx="99.7" cy="144.9"/><circle cx="127.6" cy="117.2"/><circle cx="62.3" cy="168.8"/><circle cx="121.6" cy="127.4"/><circle cx="92.5" cy="140.9"/><circle cx="79.1" cy="161.4"/><circle cx="107.7" cy="126.9"/><circle cx="85.9" cy="177.4"/><circle cx="99.7" cy="135.6"/><circle cx="118.8" cy="115.1"/><circle cx="121.8" cy="125.6"/><circle cx="82" cy="151.4"/><circle cx="109.9" cy="126.2"/><circle cx="69.9" cy="136.9"/><circle cx="121.5" cy="127.8"/><circle cx="80.2" cy="151.9"/><circle cx="89.2" cy="139.4"/><circle cx="51" cy="137.3"/></g>
<g fill="#00BFC4" fill-opacity="0.65"><circle cx="130.5" cy="131.9"/><circle cx="126" cy="125.6"/><circle cx="118.2" cy="128"/><circle cx="117.6" cy="114.9"/><circle cx="109.5" cy="112.2"/><circle cx="131.7" cy="143.3"/><circle cx="97.3" cy="152.7"/><circle cx="85.2" cy="144.6"/><circle cx="95.5" cy="166.7"/><circle cx="123.3" cy="92.4"/><circle cx="60.7" cy="145.6"/><circle cx="107.3" cy="137.9"/><circle cx="108" cy="140.7"/><circle cx="79.5" cy="173.5"/><circle cx="111.2" cy="144.3"/><circle cx="88.6" cy="147.6"/><circle cx="96.7" cy="152.6"/><circle cx="118.4" cy="136.3"/><circle cx="90.1" cy="146.5"/><circle cx="85.3" cy="146.8"/><circle cx="99.2" cy="138.1"/><circle cx="112.8" cy="135.3"/><circle cx="123.1" cy="133.9"/><circle cx="104.1" cy="155.5"/><circle cx="92.4" cy="125.8"/><circle cx="79.7" cy="134.8"/><circle cx="72.3" cy="161.3"/><circle cx="86.1" cy="122.6"/><circle cx="124.3" cy="125.4"/><circle cx="95.3" cy="144.9"/><circle cx="131.3" cy="133.6"/><circle cx="109.3" cy="139.6"/><circle cx="96.2" cy="144.3"/><circle cx="84.7" cy="161.8"/><circle cx="81.4" cy="151"/><circle cx="122.7" cy="127.9"/><circle cx="115.4" cy="110"/><circle cx="98.3" cy="147.8"/><circle cx="78.6" cy="151.8"/><circle cx="63.9" cy="156.1"/><circle cx="83.4" cy="166"/><circle cx="66.2" cy="157.4"/><circle cx="53.2" cy="147"/><circle cx="84.7" cy="135.3"/><circle cx="97.9" cy="123.6"/><circle cx="88.5" cy="157.5"/><circle cx="122.1" cy="129.7"/><circle cx="89" cy="175.9"/><circle cx="92" cy="163.4"/><circle cx="114.5" cy="138.4"/></g>
<g fill="#00C08B" fill-opacity="0.65"><circle cx="55.4" cy="166.3"/><circle cx="67.1" cy="167.5"/><circle cx="61.6" cy="162.4"/><circle cx="48.7" cy="165.3"/><circle cx="57.3" cy="175.2"/><circle cx="54.8" cy="167.7"/><circle cx="51.7" cy="180.7"/><circle cx="59.2" cy="177.5"/><circle cx="55.1" cy="177.2"/><circle cx="57.7" cy="171"/><circle cx="50.5" cy="166.6"/><circle cx="48" cy="164.3"/><circle cx="57.1" cy="162.7"/><circle cx="49.3" cy="185.4"/><circle cx="49.7" cy="171.7"/><circle cx="54.6" cy="179.7"/><circle cx="55.6" cy="176.6"/><circle cx="46.4" cy="175.4"/><circle cx="46.5" cy="186.6"/><circle cx="50.1" cy="181.8"/><circle cx="47.6" cy="167.2"/><circle cx="60.5" cy="160.6"/><circle cx="57.9" cy="161.4"/><circle cx="54.8" cy="170.7"/><circle cx="50.4" cy="188.2"/><circle cx="57" cy="163.8"/><circle cx="53.7" cy="174.9"/><circle cx="58.1" cy="168.3"/><circle cx="53" cy="178.4"/><circle cx="49.9" cy="183.5"/><circle cx="52.7" cy="163"/><circle cx="48.3" cy="171.3"/><circle cx="59" cy="153.7"/><circle cx="60.7" cy="164.6"/><circle cx="53.6" cy="167.3"/><circle cx="54.6" cy="184.8"/><circle cx="52.9" cy="158.3"/><circle cx="49.6" cy="171.3"/><circle cx="55.8" cy="161.1"/><circle cx="62.3" cy="145.4"/><circle cx="45.1" cy="180.9"/><circle cx="50.6" cy="176.5"/><circle cx="49.2" cy="168.4"/><circle cx="57.4" cy="180.2"/><circle cx="45.4" cy="183.6"/><circle cx="54.6" cy="177"/><circle cx="56.7" cy="177.7"/><circle cx="53.5" cy="167.3"/><circle cx="54.6" cy="164.2"/><circle cx="62.9" cy="155.7"/><circle cx="56.8" cy="163.1"/><circle cx="67.3" cy="170.2"/><circle cx="58" cy="167.9"/><circle cx="49.5" cy="179.7"/><circle cx="54.2" cy="172.3"/><circle cx="46" cy="177.4"/><circle cx="57.5" cy="165.5"/><circle cx="48.7" cy="181"/><circle cx="56.2" cy="161.9"/><circle cx="63.6" cy="165.8"/><circle cx="49.8" cy="165.1"/><circle cx="53.8" cy="170"/><circle cx="47.6" cy="178.2"/><circle cx="50.6" cy="163"/><circle cx="60.5" cy="161"/><circle cx="53.7" cy="174.9"/><circle cx="48.9" cy="168.5"/><circle cx="52.9" cy="170"/><circle cx="47" cy="182.6"/><circle cx="47.2" cy="168.4"/><circle cx="54.8" cy="171.7"/><circle cx="57.1" cy="166.6"/><circle cx="52.6" cy="163.7"/><circle cx="52.3" cy="190.9"/><circle cx="52.3" cy="195.6"/><circle cx="62.8" cy="157.3"/><circle cx="51.4" cy="170.8"/><circle cx="62.4" cy="171.2"/><circle cx="49.6" cy="179.4"/><circle cx="56.1" cy="158"/><circle cx="55.4" cy="162.7"/><circle cx="46.8" cy="180.8"/><circle cx="50.6" cy="169.9"/><circle cx="55.9" cy="174.1"/><circle cx="62.7" cy="168.2"/><circle cx="52.4" cy="170.8"/><circle cx="57.9" cy="167.6"/><circle cx="46.3" cy="188.9"/><circle cx="55.5" cy="166.1"/><circle cx="57.2" cy="171.9"/><circle cx="52.6" cy="179.8"/><circle cx="57" cy="173.6"/><circle cx="51.7" cy="176.8"/><circle cx="61.7" cy="162.8"/><circle cx="58.7" cy="162.9"/><circle cx="51.7" cy="179"/><circle cx="55.6" cy="181.4"/><circle cx="55.4" cy="166"/><circle cx="57.6" cy="175.2"/><circle cx="53.9" cy="169.2"/><circle cx="60.2" cy="158"/><circle cx="52.3" cy="177.2"/><circle cx="45.9" cy="168.8"/><circle cx="60.1" cy="166.6"/><circle cx="51.7" cy="170.7"/><circle cx="58.2" cy="164.3"/><circle cx="60.9" cy="181.8"/><circle cx="49.3" cy="177.6"/><circle cx="57.7" cy="170.7"/><circle cx="46.5" cy="172.3"/><circle cx="59.2" cy="160.9"/><circle cx="52.2" cy="173"/><circle cx="48.7" cy="177.3"/><circle cx="58" cy="158.6"/><circle cx="47.9" cy="182.9"/><circle cx="62.8" cy="166.9"/><circle cx="63" cy="155.1"/><circle cx="56.1" cy="167.5"/><circle cx="57.4" cy="161.2"/><circle cx="57.5" cy="169.5"/><circle cx="52.9" cy="165.2"/><circle cx="52.5" cy="178.7"/><circle cx="58.3" cy="154.4"/><circle cx="57.4" cy="167.9"/><circle cx="46.3" cy="182.3"/><circle cx="52.9" cy="172.7"/><circle cx="46.4" cy="175.2"/><circle cx="55" cy="158.1"/><circle cx="66" cy="167.4"/><circle cx="57.8" cy="162.1"/><circle cx="51" cy="178.6"/><circle cx="55.8" cy="159.7"/><circle cx="51" cy="171.8"/><circle cx="51.5" cy="169.3"/><circle cx="50.3" cy="182.3"/><circle cx="50.8" cy="180.9"/><circle cx="55.7" cy="164.2"/><circle cx="55.3" cy="156.5"/><circle cx="51.2" cy="166.3"/><circle cx="46.6" cy="175.5"/><circle cx="60.7" cy="166.2"/><circle cx="48.6" cy="184.1"/><circle cx="56.7" cy="177.2"/><circle cx="57.6" cy="175.4"/><circle cx="46.9" cy="177.9"/><circle cx="56" cy="161.5"/><circle cx="54.9" cy="173.7"/><circle cx="50.1" cy="161.9"/><circle cx="54.8" cy="172.8"/><circle cx="55.8" cy="169.8"/><circle cx="50.4" cy="164.5"/><circle cx="57.2" cy="169.5"/><circle cx="63" cy="173.4"/><circle cx="51.3" cy="179.4"/><circle cx="59.9" cy="156.8"/><circle cx="47.9" cy="169.8"/><circle cx="46.2" cy="176.8"/><circle cx="51.4" cy="178.6"/><circle cx="51" cy="165.4"/><circle cx="54.5" cy="170.6"/><circle cx="57.4" cy="164.3"/><circle cx="52.1" cy="173.6"/><circle cx="56.1" cy="172.6"/><circle cx="48.6" cy="176.3"/><circle cx="54.4" cy="170.1"/><circle cx="59" cy="171.1"/><circle cx="55.5" cy="179.8"/><circle cx="61.8" cy="168.7"/><circle cx="50.4" cy="179.1"/><circle cx="52.1" cy="161.3"/><circle cx="48.7" cy="177"/><circle cx="50.4" cy="180.7"/><circle cx="49.5" cy="167.7"/><circle cx="47.3" cy="169.3"/><circle cx="46.6" cy="195.5"/><circle cx="56.1" cy="177.2"/><circle cx="49.2" cy="171.9"/><circle cx="48.8" cy="179.1"/><circle cx="55.9" cy="183.1"/><circle cx="61.1" cy="167.4"/><circle cx="53.2" cy="165.4"/><circle cx="46.5" cy="179.1"/><circle cx="55" cy="168.3"/><circle cx="54.5" cy="170.2"/><circle cx="62.3" cy="173.7"/><circle cx="58.8" cy="165.7"/><circle cx="45.4" cy="189.2"/><circle cx="54.8" cy="176.3"/><circle cx="57.6" cy="168.6"/><circle cx="51.3" cy="173.8"/><circle cx="48.1" cy="178.2"/><circle cx="53.8" cy="179.8"/><circle cx="51.1" cy="165.7"/><circle cx="60.4" cy="168.6"/><circle cx="46" cy="185.7"/><circle cx="48.5" cy="176.7"/><circle cx="55.4" cy="166.2"/><circle cx="52" cy="176.5"/><circle cx="51.9" cy="177.1"/><circle cx="48" cy="162.5"/><circle cx="54" cy="171.2"/><circle cx="47.1" cy="185.3"/><circle cx="53.5" cy="175.8"/><circle cx="57.7" cy="171.1"/><circle cx="52.2" cy="172.9"/><circle cx="45" cy="186.7"/><circle cx="58.7" cy="168.1"/><circle cx="59.6" cy="170.6"/><circle cx="50.4" cy="174.8"/><circle cx="52.2" cy="181.9"/><circle cx="58.9" cy="161.7"/><circle cx="49.3" cy="171.6"/><circle cx="48.5" cy="175.2"/><circle cx="46.2" cy="174"/><circle cx="49.3" cy="174.4"/><circle cx="45.8" cy="177.4"/><circle cx="63.5" cy="165.9"/><circle cx="50.6" cy="179.7"/><circle cx="52.1" cy="177.5"/><circle cx="58" cy="159.9"/><circle cx="62.1" cy="178"/><circle cx="57.3" cy="165"/><circle cx="48.3" cy="167.5"/><circle cx="54.3" cy="174.5"/><circle cx="54.8" cy="179.1"/><circle cx="51" cy="168.8"/><circle cx="52.9" cy="168.1"/><circle cx="54.5" cy="189.7"/><circle cx="51.6" cy="172.3"/><circle cx="57.1" cy="155.8"/></g>
<g fill="#00BFC4" fill-opacity="0.65"><circle cx="58.5" cy="189.5"/><circle cx="54.2" cy="193.2"/><circle cx="54" cy="198.7"/><circle cx="45.9" cy="202.2"/><circle cx="48.6" cy="202.3"/><circle cx="52.2" cy="198.5"/><circle cx="54.2" cy="205.6"/><circle cx="50.4" cy="202.5"/><circle cx="55.5" cy="189.2"/><circle cx="58.9" cy="196.9"/><circle cx="47.7" cy="205.4"/><circle cx="57.6" cy="209.5"/><circle cx="48.5" cy="194.5"/><circle cx="50" cy="210.1"/><circle cx="49.9" cy="200.5"/><circle cx="53.2" cy="200.5"/><circle cx="55.5" cy="201.5"/><circle cx="45.1" cy="211.8"/><circle cx="52" cy="203.5"/><circle cx="47.6" cy="214"/><circle cx="50.3" cy="201.1"/><circle cx="44.8" cy="201"/><circle cx="53.9" cy="210"/><circle cx="53.1" cy="191.7"/><circle cx="46.5" cy="196"/><circle cx="47" cy="208.7"/><circle cx="46.8" cy="206.7"/><circle cx="53.9" cy="190"/><circle cx="55.9" cy="204.7"/><circle cx="45.2" cy="193.2"/><circle cx="48.6" cy="184.9"/><circle cx="50.7" cy="202.7"/><circle cx="48.1" cy="186.5"/><circle cx="54.1" cy="203.7"/><circle cx="46.4" cy="209.2"/><circle cx="44.8" cy="209.2"/><circle cx="44.7" cy="195.7"/><circle cx="48.3" cy="209.7"/><circle cx="58.5" cy="202.3"/><circle cx="49.2" cy="202.9"/><circle cx="52.4" cy="210.3"/><circle cx="53.5" cy="211.9"/><circle cx="56.1" cy="214.3"/><circle cx="52.8" cy="185.1"/><circle cx="46.2" cy="218.9"/><circle cx="48.5" cy="210.1"/><circle cx="49.2" cy="175.4"/><circle cx="49.6" cy="216"/><circle cx="44.8" cy="204.5"/><circle cx="53.1" cy="189.2"/><circle cx="46.6" cy="217.9"/><circle cx="55.6" cy="204.1"/><circle cx="51.5" cy="194.3"/><circle cx="46.3" cy="210.1"/><circle cx="51.2" cy="195.6"/><circle cx="47.6" cy="192.6"/><circle cx="49.7" cy="212.9"/><circle cx="46.6" cy="202.2"/><circle cx="51.8" cy="186.6"/><circle cx="46.6" cy="202.7"/><circle cx="54" cy="188.2"/><circle cx="52.1" cy="185.1"/><circle cx="58.6" cy="189.8"/><circle cx="53.2" cy="219.1"/><circle cx="55.4" cy="210"/><circle cx="48.2" cy="197"/><circle cx="58" cy="192.7"/><circle cx="50.3" cy="201.5"/><circle cx="55.7" cy="183.5"/><circle cx="48.4" cy="211.4"/><circle cx="52.6" cy="194.1"/><circle cx="44.3" cy="216.4"/><circle cx="49.4" cy="196.8"/><circle cx="55" cy="196"/><circle cx="47.7" cy="186.8"/><circle cx="56.8" cy="190.8"/><circle cx="48.7" cy="189.9"/><circle cx="48.5" cy="206.9"/><circle cx="53" cy="216.3"/><circle cx="44.8" cy="204"/><circle cx="50.7" cy="194.5"/><circle cx="50.7" cy="192"/><circle cx="48.8" cy="209"/><circle cx="50.8" cy="207.8"/><circle cx="50.3" cy="204"/><circle cx="51.9" cy="195.8"/><circle cx="55.1" cy="205.1"/><circle cx="47.3" cy="199.8"/><circle cx="46.5" cy="211.9"/><circle cx="51.8" cy="197.2"/><circle cx="55.5" cy="199.4"/><circle cx="57.3" cy="191.2"/><circle cx="50.4" cy="189.2"/><circle cx="54.1" cy="194"/><circle cx="50.6" cy="201.6"/><circle cx="58.4" cy="178.1"/><circle cx="55.6" cy="177.7"/><circle cx="55.1" cy="196.3"/><circle cx="46.6" cy="202.8"/><circle cx="53.8" cy="200.7"/><circle cx="46.7" cy="210.3"/><circle cx="51.6" cy="208"/><circle cx="52.6" cy="199.9"/><circle cx="54" cy="197.9"/><circle cx="48.5" cy="211"/><circle cx="49.6" cy="195"/><circle cx="55.3" cy="213.8"/><circle cx="49.7" cy="218.5"/><circle cx="49.2" cy="193.1"/><circle cx="53.6" cy="200.9"/><circle cx="50.6" cy="178.7"/><circle cx="46.3" cy="193.3"/><circle cx="55.1" cy="199.2"/><circle cx="47" cy="187.9"/><circle cx="49.3" cy="203.2"/><circle cx="50.5" cy="197.5"/><circle cx="53" cy="192.5"/><circle cx="55.8" cy="188.5"/><circle cx="53.4" cy="184.9"/><circle cx="44.8" cy="202"/><circle cx="45.9" cy="208"/><circle cx="50.2" cy="218.4"/><circle cx="46.3" cy="206.6"/><circle cx="45.1" cy="213.5"/><circle cx="50.4" cy="210.2"/><circle cx="54.8" cy="189.4"/><circle cx="54" cy="172.7"/><circle cx="55.5" cy="199.8"/><circle cx="48.9" cy="202.9"/><circle cx="55" cy="208.3"/><circle cx="49.6" cy="209"/><circle cx="50" cy="204.7"/><circle cx="48.4" cy="203.5"/><circle cx="54.1" cy="188.9"/><circle cx="45.7" cy="210.9"/><circle cx="48.6" cy="187.3"/><circle cx="45.6" cy="196.8"/><circle cx="48.3" cy="215.6"/><circle cx="44.9" cy="205.6"/><circle cx="46.7" cy="199.8"/><circle cx="45.9" cy="193.7"/><circle cx="45.1" cy="190.9"/><circle cx="47" cy="197.4"/><circle cx="51.7" cy="211.1"/><circle cx="46.6" cy="193.2"/><circle cx="53.4" cy="189.1"/><circle cx="53.2" cy="204.3"/><circle cx="52.8" cy="183.6"/><circle cx="49.9" cy="183.2"/><circle cx="51.1" cy="186.3"/><circle cx="49" cy="215.9"/><circle cx="51.8" cy="205.1"/><circle cx="51" cy="208.8"/><circle cx="52.4" cy="209.4"/><circle cx="46.9" cy="197.8"/><circle cx="51.2" cy="191.1"/><circle cx="52.8" cy="196.7"/><circle cx="54.7" cy="184.5"/><circle cx="51.2" cy="202.2"/><circle cx="52.4" cy="204.3"/><circle cx="54.2" cy="187.1"/><circle cx="52.9" cy="193.4"/><circle cx="51.6" cy="199"/><circle cx="52.6" cy="204.4"/><circle cx="52.3" cy="194.3"/><circle cx="51.3" cy="202.2"/><circle cx="47.8" cy="207.7"/><circle cx="46.1" cy="203.7"/><circle cx="44.2" cy="206.6"/><circle cx="52.9" cy="201.1"/><circle cx="44.3" cy="198.7"/><circle cx="55" cy="182"/><circle cx="46.6" cy="190.1"/><circle cx="46.7" cy="195.9"/><circle cx="48.7" cy="204.4"/><circle cx="60.2" cy="192.1"/><circle cx="53.8" cy="214"/><circle cx="51.4" cy="208.5"/><circle cx="51.3" cy="191.5"/><circle cx="50.6" cy="198.3"/><circle cx="52.3" cy="199.9"/><circle cx="46.9" cy="209.6"/><circle cx="44.5" cy="202.1"/><circle cx="50.4" cy="198.7"/><circle cx="45.4" cy="200.9"/><circle cx="50.4" cy="204.1"/><circle cx="55.1" cy="195.9"/><circle cx="54.7" cy="193.1"/><circle cx="51" cy="199.8"/><circle cx="55.4" cy="187.3"/><circle cx="56.8" cy="189.4"/><circle cx="46" cy="205.7"/><circle cx="52" cy="208.7"/><circle cx="45.9" cy="202.8"/><circle cx="54.1" cy="195.7"/><circle cx="50.7" cy="189.2"/><circle cx="49" cy="206.9"/><circle cx="53.2" cy="197.4"/><circle cx="57.9" cy="178.4"/><circle cx="51.6" cy="202.5"/><circle cx="54" cy="222.3"/><circle cx="47.9" cy="197.2"/><circle cx="53.1" cy="213.5"/><circle cx="44.7" cy="194"/><circle cx="60.9" cy="198.5"/><circle cx="50" cy="201.8"/><circle cx="59.3" cy="178.4"/><circle cx="48.1" cy="198.8"/><circle cx="44.5" cy="205.5"/><circle cx="49.1" cy="212.1"/><circle cx="61.5" cy="197.9"/><circle cx="51.9" cy="207.5"/><circle cx="52.6" cy="200.1"/><circle cx="58.9" cy="206.5"/><circle cx="53" cy="205.3"/><circle cx="49" cy="178.2"/><circle cx="59" cy="199.4"/><circle cx="55.6" cy="189.5"/><circle cx="48.3" cy="201.4"/><circle cx="47" cy="209.3"/></g>
<g fill="#C77CFF" fill-opacity="0.65"><circle cx="125.5" cy="208.5"/><circle cx="131.9" cy="210.2"/><circle cx="129.8" cy="211"/><circle cx="119.5" cy="207"/><circle cx="109.7" cy="219.4"/><circle cx="134.4" cy="207.5"/><circle cx="120.5" cy="208"/><circle cx="127" cy="217.2"/><circle cx="116.7" cy="212.3"/><circle cx="118.1" cy="214.8"/><circle cx="122" cy="217.9"/><circle cx="129.4" cy="206.6"/><circle cx="128.2" cy="209.3"/><circle cx="112.3" cy="214.3"/><circle cx="126.7" cy="208.9"/></g>
<g fill="#00C08B" fill-opacity="0.65"><circle cx="156.4" cy="184.5"/><circle cx="153.5" cy="179.9"/><circle cx="166.5" cy="167.7"/><circle cx="166.5" cy="169.3"/><circle cx="155.5" cy="203.4"/><circle cx="165.7" cy="170.1"/><circle cx="182.4" cy="165.4"/><circle cx="169.2" cy="178.3"/><circle cx="180.1" cy="167"/><circle cx="151.3" cy="186"/><circle cx="157.5" cy="196.9"/><circle cx="173.8" cy="181"/><circle cx="174.5" cy="160.7"/><circle cx="158.8" cy="183.6"/><circle cx="171.2" cy="176.8"/></g>
<g fill="#00BA38" fill-opacity="0.65"><circle cx="82.4" cy="172.3"/><circle cx="68.5" cy="176.8"/><circle cx="69.1" cy="165.6"/><circle cx="119.9" cy="169.9"/><circle cx="91.8" cy="152.5"/><circle cx="99.6" cy="188.3"/><circle cx="77" cy="166.9"/><circle cx="88.5" cy="165.1"/><circle cx="114.8" cy="177.5"/><circle cx="126.1" cy="155.8"/><circle cx="112.8" cy="155.3"/><circle cx="90.7" cy="162"/><circle cx="88.9" cy="178.2"/><circle cx="59.2" cy="196.3"/><circle cx="68.4" cy="166.7"/><circle cx="80.1" cy="182.8"/><circle cx="107.2" cy="159.2"/><circle cx="81" cy="163"/><circle cx="120" cy="165.6"/><circle cx="93.3" cy="153.9"/><circle cx="108.6" cy="134.3"/><circle cx="92.5" cy="165"/><circle cx="109.4" cy="191.6"/><circle cx="112.1" cy="161.5"/><circle cx="73.2" cy="198.4"/><circle cx="99.3" cy="170.5"/><circle cx="86.9" cy="168"/><circle cx="99.7" cy="164.6"/><circle cx="101.4" cy="149.4"/><circle cx="127.8" cy="135.8"/><circle cx="68.8" cy="202.6"/><circle cx="103.2" cy="156.2"/><circle cx="122.7" cy="147"/><circle cx="110.8" cy="113.6"/><circle cx="88.4" cy="145.8"/><circle cx="95.7" cy="154.9"/><circle cx="74.1" cy="176.9"/><circle cx="109.5" cy="141.9"/><circle cx="77.1" cy="173.2"/><circle cx="75.7" cy="159.5"/><circle cx="93.2" cy="180.8"/><circle cx="99.8" cy="154"/><circle cx="84.6" cy="182.9"/><circle cx="100" cy="150.4"/><circle cx="117" cy="155.1"/></g>
<g fill="#00A9FF" fill-opacity="0.65"><circle cx="117.9" cy="184.3"/><circle cx="71.9" cy="171.5"/><circle cx="82.9" cy="194.2"/><circle cx="82.3" cy="190.4"/><circle cx="104.6" cy="180.3"/><circle cx="100.6" cy="187.9"/><circle cx="87.3" cy="190.9"/><circle cx="48.3" cy="201.1"/><circle cx="44.8" cy="210.5"/><circle cx="101.7" cy="168.4"/><circle cx="80.2" cy="180.2"/><circle cx="88.5" cy="171.6"/><circle cx="72.7" cy="181.3"/><circle cx="49.1" cy="215.6"/><circle cx="71.8" cy="210"/><circle cx="103.3" cy="179"/><circle cx="67.1" cy="200"/><circle cx="45.6" cy="203.7"/><circle cx="62.6" cy="189.3"/><circle cx="98.6" cy="197.4"/><circle cx="60.1" cy="207.7"/><circle cx="86.4" cy="179.6"/><circle cx="83.2" cy="185"/><circle cx="74" cy="201.5"/><circle cx="63.1" cy="209.7"/><circle cx="69.9" cy="202.4"/><circle cx="86.9" cy="190.1"/><circle cx="69" cy="199.7"/><circle cx="76.2" cy="203.3"/><circle cx="93.9" cy="180.3"/><circle cx="119" cy="174"/><circle cx="71.6" cy="199"/><circle cx="91" cy="197.9"/><circle cx="96.9" cy="184"/><circle cx="59.2" cy="201.6"/><circle cx="76.9" cy="179.1"/><circle cx="63.1" cy="198.1"/><circle cx="47.9" cy="184.5"/><circle cx="90.5" cy="192.7"/><circle cx="83.9" cy="192.6"/><circle cx="95.3" cy="187.4"/><circle cx="73" cy="196"/><circle cx="87.1" cy="172.4"/><circle cx="93.9" cy="189.7"/><circle cx="67.6" cy="212.2"/><circle cx="89.2" cy="185.1"/><circle cx="90.3" cy="179.2"/><circle cx="105.4" cy="176.8"/><circle cx="59.4" cy="192"/><circle cx="68" cy="210.2"/><circle cx="70.3" cy="196.5"/><circle cx="86.9" cy="190.3"/><circle cx="86.7" cy="210"/><circle cx="99.3" cy="194.5"/><circle cx="67.2" cy="198.4"/><circle cx="56.7" cy="212.4"/><circle cx="80.9" cy="176.6"/><circle cx="50.5" cy="202.8"/><circle cx="66.8" cy="215.2"/><circle cx="93.3" cy="218.8"/><circle cx="83.6" cy="196.4"/><circle cx="61.8" cy="192.4"/><circle cx="62.2" cy="204.8"/><circle cx="61.1" cy="196.1"/><circle cx="103.7" cy="168.4"/><circle cx="88.6" cy="176.3"/><circle cx="61.6" cy="224.8"/><circle cx="127.1" cy="168.5"/><circle cx="50.6" cy="210.2"/><circle cx="91.4" cy="195.9"/><circle cx="82.8" cy="197.1"/><circle cx="64" cy="200.7"/><circle cx="106.4" cy="193"/><circle cx="90.2" cy="208.5"/><circle cx="69.8" cy="197.7"/><circle cx="87.4" cy="201.2"/><circle cx="60.9" cy="185.7"/><circle cx="92.6" cy="194.5"/><circle cx="84.2" cy="196.7"/><circle cx="70.4" cy="192.2"/><circle cx="75.1" cy="186"/><circle cx="59.6" cy="198.1"/><circle cx="84.8" cy="180.4"/><circle cx="81.5" cy="171.7"/><circle cx="69.9" cy="205"/><circle cx="66.4" cy="200.2"/><circle cx="97.9" cy="207.2"/><circle cx="88.6" cy="170.8"/><circle cx="97.4" cy="202.9"/><circle cx="108.2" cy="201.7"/><circle cx="64.8" cy="205.6"/><circle cx="70.1" cy="215.1"/><circle cx="92.6" cy="169.6"/><circle cx="81.2" cy="212.1"/><circle cx="78.8" cy="186.9"/><circle cx="76.1" cy="209.6"/><circle cx="92.1" cy="186.3"/><circle cx="69.7" cy="200"/><circle cx="72" cy="194.2"/><circle cx="56.2" cy="211.2"/><circle cx="54.4" cy="192.2"/><circle cx="80.3" cy="179.4"/><circle cx="61.7" cy="186.6"/><circle cx="104.2" cy="183.3"/><circle cx="45.5" cy="191.3"/><circle cx="75.9" cy="192.8"/><circle cx="92.2" cy="190.1"/><circle cx="64.8" cy="195.5"/><circle cx="100.7" cy="185.8"/><circle cx="82.3" cy="170.7"/><circle cx="80.4" cy="196"/><circle cx="102" cy="168.3"/><circle cx="66.6" cy="207.5"/><circle cx="81.2" cy="203.5"/><circle cx="94.9" cy="165"/><circle cx="89.5" cy="200.7"/><circle cx="44.6" cy="216.1"/><circle cx="79.1" cy="206.7"/><circle cx="79.1" cy="194.3"/><circle cx="88.5" cy="197.6"/><circle cx="90.6" cy="187.7"/><circle cx="71.5" cy="196.4"/><circle cx="91.4" cy="184"/><circle cx="84.9" cy="203.8"/><circle cx="81.1" cy="196.4"/><circle cx="95.5" cy="192.5"/><circle cx="49.1" cy="186.5"/><circle cx="57" cy="208"/><circle cx="59.6" cy="218.1"/><circle cx="79.7" cy="184.4"/><circle cx="76.4" cy="153.5"/><circle cx="68.5" cy="214.6"/><circle cx="73.6" cy="187.5"/><circle cx="86.7" cy="176.5"/><circle cx="75.4" cy="217.9"/><circle cx="110.3" cy="188.9"/><circle cx="93.4" cy="184.2"/><circle cx="78.4" cy="175.8"/><circle cx="85.1" cy="194.3"/><circle cx="85.3" cy="188.1"/><circle cx="65.8" cy="223.6"/><circle cx="61.7" cy="209.2"/><circle cx="124.9" cy="186.2"/><circle cx="59" cy="210"/><circle cx="55.7" cy="196.3"/><circle cx="107" cy="187.3"/><circle cx="54.5" cy="202.1"/><circle cx="66.6" cy="209.7"/><circle cx="77.9" cy="229.4"/><circle cx="88.5" cy="206.9"/><circle cx="97.6" cy="189.7"/><circle cx="90.9" cy="193.5"/><circle cx="49.2" cy="201.4"/><circle cx="108.8" cy="193.8"/><circle cx="80.5" cy="178.1"/><circle cx="81.5" cy="200.5"/><circle cx="73" cy="208.2"/><circle cx="83" cy="183"/><circle cx="65.9" cy="212.6"/><circle cx="102.5" cy="184.3"/><circle cx="92.3" cy="195.3"/><circle cx="99" cy="185.8"/><circle cx="78.1" cy="182"/><circle cx="47.4" cy="211.4"/><circle cx="89.2" cy="183.9"/><circle cx="72.4" cy="205.9"/><circle cx="67.4" cy="184.8"/><circle cx="67" cy="200.6"/><circle cx="57.7" cy="200"/><circle cx="63" cy="203.7"/><circle cx="84.7" cy="205.4"/><circle cx="80.7" cy="182.6"/><circle cx="82" cy="210"/><circle cx="90.1" cy="189"/><circle cx="75.2" cy="181.6"/><circle cx="51.1" cy="217.9"/><circle cx="101.4" cy="196"/><circle cx="69.9" cy="197.7"/><circle cx="62.6" cy="213.8"/><circle cx="76.4" cy="179"/><circle cx="119.1" cy="178"/><circle cx="102.1" cy="212.1"/><circle cx="76.6" cy="193.8"/><circle cx="75.7" cy="214.5"/><circle cx="48.1" cy="207.7"/><circle cx="97.5" cy="200.6"/><circle cx="76.5" cy="194.5"/><circle cx="82.9" cy="191.7"/><circle cx="72.5" cy="192.8"/><circle cx="70.8" cy="199"/><circle cx="57.2" cy="206.8"/><circle cx="93.2" cy="199.9"/><circle cx="96.4" cy="192.9"/><circle cx="91.4" cy="177.5"/><circle cx="45.5" cy="213.3"/><circle cx="55" cy="182.1"/><circle cx="80.8" cy="192.6"/><circle cx="57.8" cy="226"/><circle cx="96.6" cy="170.3"/><circle cx="86" cy="220"/><circle cx="52.8" cy="207.5"/><circle cx="84.2" cy="176.5"/><circle cx="57.7" cy="222.2"/><circle cx="84.4" cy="210.5"/><circle cx="78.4" cy="184.7"/><circle cx="72.6" cy="220.7"/><circle cx="86" cy="191"/><circle cx="85.3" cy="216.8"/><circle cx="86.5" cy="200.4"/><circle cx="67.5" cy="186.9"/><circle cx="53" cy="225.3"/><circle cx="54.6" cy="214.6"/><circle cx="121.9" cy="171.8"/><circle cx="94.1" cy="182.7"/><circle cx="59.2" cy="200.9"/><circle cx="57.8" cy="213.7"/><circle cx="67.9" cy="190.6"/><circle cx="76.8" cy="193.3"/><circle cx="78" cy="188.2"/><circle cx="110.4" cy="198.9"/><circle cx="58.2" cy="206.4"/><circle cx="86.5" cy="189"/><circle cx="65.1" cy="215.1"/><circle cx="72.9" cy="196.7"/><circle cx="101" cy="181.4"/><circle cx="102.3" cy="190.6"/><circle cx="92.9" cy="197.4"/><circle cx="93.2" cy="187.5"/><circle cx="78.5" cy="197.7"/><circle cx="55.5" cy="211.2"/><circle cx="64.5" cy="215.3"/><circle cx="87.3" cy="196.6"/><circle cx="47.7" cy="209.2"/><circle cx="54.8" cy="225.4"/><circle cx="44.9" cy="198.6"/><circle cx="65.1" cy="214.2"/><circle cx="69.9" cy="187.5"/><circle cx="79.6" cy="228.1"/><circle cx="77.2" cy="195.4"/><circle cx="66.3" cy="192.3"/><circle cx="59.6" cy="201.3"/><circle cx="60.6" cy="204.8"/><circle cx="59" cy="203.7"/><circle cx="70.4" cy="194.3"/><circle cx="80.3" cy="189.1"/><circle cx="89.3" cy="181.8"/><circle cx="63.3" cy="189.9"/><circle cx="67.6" cy="181.8"/><circle cx="92" cy="184.1"/><circle cx="89.8" cy="202.2"/><circle cx="107.6" cy="180"/><circle cx="54.6" cy="216.7"/><circle cx="77.4" cy="197"/><circle cx="94.9" cy="181.6"/><circle cx="80.1" cy="214.7"/><circle cx="78.3" cy="197.8"/><circle cx="87" cy="172.4"/><circle cx="81.1" cy="209.9"/><circle cx="78.2" cy="203.8"/><circle cx="66.5" cy="211.8"/><circle cx="64.4" cy="219.3"/><circle cx="67.1" cy="177.6"/><circle cx="80.6" cy="221.8"/><circle cx="58.6" cy="188.1"/><circle cx="105.8" cy="195.2"/><circle cx="58.6" cy="206.4"/><circle cx="58.4" cy="212"/><circle cx="75.9" cy="195.1"/><circle cx="89.3" cy="186.6"/><circle cx="98.2" cy="179.2"/><circle cx="69.6" cy="207.6"/><circle cx="58.3" cy="189.6"/><circle cx="62.1" cy="196.1"/><circle cx="119.7" cy="156.3"/><circle cx="89.9" cy="222.3"/><circle cx="101.6" cy="154.8"/><circle cx="88" cy="195.5"/><circle cx="69.2" cy="208.6"/><circle cx="82.6" cy="199.8"/><circle cx="53.3" cy="193.7"/><circle cx="58.8" cy="222.3"/><circle cx="83.4" cy="223.3"/><circle cx="73.4" cy="225.9"/><circle cx="64.1" cy="209.3"/><circle cx="66.5" cy="207"/><circle cx="70" cy="192.1"/><circle cx="62.9" cy="199.9"/><circle cx="97.2" cy="208.5"/><circle cx="80.4" cy="182.1"/><circle cx="77.3" cy="221.4"/><circle cx="94.9" cy="190.3"/><circle cx="95.4" cy="202.3"/><circle cx="110.3" cy="158.4"/><circle cx="76.1" cy="192.6"/><circle cx="92.6" cy="196.2"/><circle cx="60.7" cy="208.8"/><circle cx="62.7" cy="214.1"/><circle cx="54.2" cy="202.4"/><circle cx="71.4" cy="200.3"/><circle cx="89.8" cy="186.7"/><circle cx="76" cy="201.8"/><circle cx="68.8" cy="202.3"/><circle cx="76.3" cy="219.7"/><circle cx="67.5" cy="210.9"/><circle cx="57" cy="186.2"/><circle cx="79.9" cy="209.8"/><circle cx="78.5" cy="213.1"/><circle cx="73.3" cy="200.7"/><circle cx="74.6" cy="182.1"/><circle cx="93" cy="197"/><circle cx="67.4" cy="223.4"/><circle cx="45.1" cy="206.8"/><circle cx="88.4" cy="215"/><circle cx="74.6" cy="198.1"/><circle cx="88.7" cy="212.4"/><circle cx="83.2" cy="185.6"/><circle cx="83" cy="189.2"/><circle cx="91.7" cy="203.8"/><circle cx="63.6" cy="213.3"/><circle cx="47.3" cy="195.2"/><circle cx="96.5" cy="190"/><circle cx="46.1" cy="203.3"/><circle cx="115.6" cy="202.8"/><circle cx="49.9" cy="217.4"/><circle cx="104.9" cy="157.9"/><circle cx="74.8" cy="192.9"/><circle cx="65.4" cy="214.6"/><circle cx="68.9" cy="214.1"/><circle cx="58" cy="195.1"/><circle cx="63.9" cy="229"/><circle cx="120.4" cy="150.2"/><circle cx="81.1" cy="173.1"/><circle cx="102" cy="164"/><circle cx="51.5" cy="189.2"/><circle cx="98.3" cy="193.3"/><circle cx="92.6" cy="197.2"/><circle cx="80.4" cy="209.2"/><circle cx="62.4" cy="197.7"/><circle cx="52.1" cy="208.1"/><circle cx="47.6" cy="219.4"/><circle cx="82.9" cy="210.1"/><circle cx="69.7" cy="193.9"/><circle cx="71.4" cy="202.8"/><circle cx="99.5" cy="165"/><circle cx="91.1" cy="176.2"/><circle cx="113.5" cy="175.6"/><circle cx="69.9" cy="201.1"/><circle cx="100.2" cy="177.9"/><circle cx="90.8" cy="179"/><circle cx="54.4" cy="182.3"/><circle cx="88.7" cy="183"/><circle cx="76.6" cy="185.5"/><circle cx="90" cy="191.7"/><circle cx="62.1" cy="211.6"/><circle cx="66" cy="189.5"/><circle cx="115.1" cy="174.5"/><circle cx="87.6" cy="174.3"/><circle cx="76.2" cy="192.6"/><circle cx="52.4" cy="215.7"/><circle cx="87.3" cy="196.8"/><circle cx="113.2" cy="175.7"/><circle cx="100.3" cy="192.7"/><circle cx="64.9" cy="197.9"/><circle cx="85.2" cy="196.5"/><circle cx="83.6" cy="189.8"/><circle cx="104.2" cy="176.3"/><circle cx="87" cy="205.7"/><circle cx="77.7" cy="189.1"/><circle cx="57.1" cy="191.7"/><circle cx="86.4" cy="196.6"/><circle cx="83.9" cy="213.9"/><circle cx="92" cy="207.6"/><circle cx="72.3" cy="223"/><circle cx="80.2" cy="197.2"/><circle cx="75.4" cy="205.6"/><circle cx="109.6" cy="175"/><circle cx="87.7" cy="178.4"/><circle cx="61.8" cy="209.1"/><circle cx="84.6" cy="177.8"/><circle cx="84.4" cy="180"/><circle cx="61.9" cy="212.8"/><circle cx="103.9" cy="159"/><circle cx="66.8" cy="182.4"/><circle cx="46.2" cy="208.2"/><circle cx="106.6" cy="175.3"/><circle cx="94.5" cy="180.2"/><circle cx="74.3" cy="200.3"/><circle cx="115" cy="173.5"/><circle cx="84.1" cy="199.8"/><circle cx="94.7" cy="183.6"/><circle cx="77.9" cy="189.5"/><circle cx="57.4" cy="207.6"/><circle cx="60.1" cy="215.4"/><circle cx="73.5" cy="191"/><circle cx="99.3" cy="206.8"/><circle cx="63.5" cy="203.1"/><circle cx="77.2" cy="193.1"/><circle cx="70.3" cy="197"/><circle cx="76.7" cy="207.9"/><circle cx="107.2" cy="187"/><circle cx="67.8" cy="192.4"/><circle cx="79.9" cy="195.3"/><circle cx="60" cy="204.1"/><circle cx="96.9" cy="198.8"/><circle cx="109.9" cy="194.4"/><circle cx="116.1" cy="194.2"/><circle cx="95.6" cy="197.5"/><circle cx="72.7" cy="216.5"/><circle cx="72.7" cy="197.6"/><circle cx="95.6" cy="174.7"/><circle cx="64.4" cy="224.6"/><circle cx="78.6" cy="184.5"/><circle cx="57" cy="202.5"/><circle cx="119.2" cy="157.3"/><circle cx="79.8" cy="199.1"/><circle cx="85.6" cy="170.9"/><circle cx="77.9" cy="205.5"/><circle cx="77.8" cy="184"/><circle cx="75.4" cy="200.1"/><circle cx="76.6" cy="174.2"/><circle cx="55.1" cy="217.1"/><circle cx="95.2" cy="166.2"/><circle cx="83.2" cy="211.4"/><circle cx="92.5" cy="199.2"/><circle cx="78.4" cy="180.8"/><circle cx="97" cy="197.8"/><circle cx="84.6" cy="174.4"/><circle cx="56.6" cy="206"/><circle cx="98.1" cy="205.1"/><circle cx="96.8" cy="190.8"/><circle cx="45.5" cy="201.2"/><circle cx="54.5" cy="216.5"/><circle cx="79.1" cy="206.2"/><circle cx="63.1" cy="206.1"/><circle cx="83" cy="194.7"/><circle cx="94" cy="205"/><circle cx="72.1" cy="204.7"/><circle cx="91.5" cy="201.3"/><circle cx="62.8" cy="211.2"/><circle cx="59.7" cy="190.4"/><circle cx="78.8" cy="169.8"/><circle cx="104.2" cy="186.1"/><circle cx="62.4" cy="202.6"/><circle cx="101.2" cy="182.2"/><circle cx="60.1" cy="189.5"/><circle cx="87.7" cy="188"/><circle cx="89.8" cy="169.3"/><circle cx="66.1" cy="213.1"/><circle cx="74.7" cy="193.1"/><circle cx="74.3" cy="186.8"/><circle cx="88" cy="187.5"/><circle cx="75.2" cy="195.4"/><circle cx="71" cy="192.7"/><circle cx="65.7" cy="202.5"/><circle cx="58.5" cy="196"/><circle cx="56.4" cy="176.9"/><circle cx="94.7" cy="202.4"/><circle cx="67.4" cy="199.7"/><circle cx="77.2" cy="171.8"/><circle cx="92.6" cy="180.7"/><circle cx="67.4" cy="192"/><circle cx="68.3" cy="189.6"/><circle cx="73.3" cy="173.9"/><circle cx="73.6" cy="207.6"/><circle cx="92.4" cy="188"/><circle cx="96.9" cy="190.6"/><circle cx="81.3" cy="197.4"/><circle cx="59.8" cy="200.8"/><circle cx="71.2" cy="186"/><circle cx="88" cy="188.8"/><circle cx="60.8" cy="220.6"/><circle cx="84.1" cy="204.8"/><circle cx="55.4" cy="212.4"/><circle cx="57.2" cy="200.9"/><circle cx="70.4" cy="214.3"/><circle cx="61.2" cy="190.5"/><circle cx="46.5" cy="217.1"/><circle cx="60.1" cy="223"/><circle cx="88.7" cy="198.9"/><circle cx="83" cy="199.9"/><circle cx="106.6" cy="183.8"/><circle cx="86.6" cy="165.3"/><circle cx="101.9" cy="187.4"/><circle cx="54.3" cy="226.4"/><circle cx="60.9" cy="223.8"/><circle cx="95.3" cy="189.7"/><circle cx="104.4" cy="181.7"/><circle cx="94.2" cy="186.2"/><circle cx="58.8" cy="219.2"/><circle cx="96.8" cy="194.3"/><circle cx="83.3" cy="199.1"/><circle cx="74.6" cy="170.2"/><circle cx="98" cy="181.2"/><circle cx="123.7" cy="164.9"/><circle cx="84.8" cy="191.8"/><circle cx="85.9" cy="205.9"/><circle cx="89.4" cy="173.8"/><circle cx="51.2" cy="220.1"/><circle cx="99" cy="184.4"/><circle cx="59.1" cy="197.3"/><circle cx="67" cy="200.6"/><circle cx="96.3" cy="185.8"/><circle cx="73.5" cy="190.2"/><circle cx="90.9" cy="191.8"/><circle cx="80.9" cy="198.5"/><circle cx="105.4" cy="184.3"/><circle cx="63.2" cy="196.6"/><circle cx="87" cy="204.9"/><circle cx="70.6" cy="191.3"/><circle cx="46.8" cy="200.1"/><circle cx="75.4" cy="203.4"/><circle cx="79.8" cy="192.8"/><circle cx="74.6" cy="190.2"/><circle cx="90.8" cy="197.2"/><circle cx="63.9" cy="188.1"/><circle cx="97.6" cy="198.4"/><circle cx="78.7" cy="188.4"/><circle cx="83" cy="202.2"/><circle cx="85.5" cy="181.2"/><circle cx="74" cy="203.9"/><circle cx="53.9" cy="212.5"/><circle cx="63.3" cy="217.6"/><circle cx="85.8" cy="204.7"/><circle cx="84.8" cy="181.4"/><circle cx="78.2" cy="187.1"/><circle cx="66.7" cy="218.8"/><circle cx="100.3" cy="152.8"/><circle cx="71.7" cy="174.1"/><circle cx="76.6" cy="201"/><circle cx="45.8" cy="185.2"/><circle cx="52.1" cy="200.2"/><circle cx="94.1" cy="206.5"/><circle cx="85.9" cy="200.7"/><circle cx="84.6" cy="178.5"/><circle cx="116.5" cy="165.6"/><circle cx="97.6" cy="183.7"/><circle cx="85.1" cy="198.7"/><circle cx="46.7" cy="209.9"/><circle cx="72.4" cy="208"/><circle cx="57.8" cy="192.9"/><circle cx="61" cy="171.5"/><circle cx="51.2" cy="222.1"/><circle cx="62.8" cy="191.1"/><circle cx="62.4" cy="210.5"/><circle cx="84.2" cy="183.9"/><circle cx="44.8" cy="207.2"/><circle cx="57.2" cy="188.5"/><circle cx="66.3" cy="195.2"/><circle cx="74.1" cy="180.4"/><circle cx="91.3" cy="183.3"/><circle cx="52.5" cy="221.6"/><circle cx="80.1" cy="211.9"/><circle cx="78.1" cy="213.3"/><circle cx="58.7" cy="226.4"/><circle cx="69.9" cy="204.5"/><circle cx="70.6" cy="216.9"/><circle cx="55.6" cy="210.8"/><circle cx="64.2" cy="185.5"/><circle cx="87.4" cy="185.5"/><circle cx="58.9" cy="215.8"/><circle cx="69.5" cy="198.7"/><circle cx="63.8" cy="206.4"/><circle cx="83.5" cy="196"/><circle cx="87.1" cy="193.4"/><circle cx="45.3" cy="203.3"/><circle cx="56.4" cy="223.2"/><circle cx="97.1" cy="198.3"/><circle cx="78.9" cy="212.7"/><circle cx="78.6" cy="182.7"/><circle cx="47.9" cy="200.7"/><circle cx="76" cy="211.7"/><circle cx="76.4" cy="187"/><circle cx="96.5" cy="174.5"/><circle cx="61" cy="209.7"/><circle cx="60.8" cy="212.8"/><circle cx="91.1" cy="169.8"/><circle cx="86.7" cy="197.9"/><circle cx="79.7" cy="190.8"/><circle cx="91.1" cy="206.8"/><circle cx="52.3" cy="217.2"/><circle cx="88.8" cy="193.1"/><circle cx="79.5" cy="223.7"/><circle cx="79.4" cy="175.5"/><circle cx="72.7" cy="210.8"/><circle cx="85.9" cy="178.9"/><circle cx="68.2" cy="207.9"/><circle cx="90.4" cy="184"/><circle cx="51.4" cy="205.8"/><circle cx="103.2" cy="189.9"/><circle cx="78.4" cy="204.9"/><circle cx="59.5" cy="196.6"/><circle cx="68.4" cy="199.1"/><circle cx="85.7" cy="180.9"/><circle cx="109.8" cy="187.6"/><circle cx="53.1" cy="204.7"/><circle cx="83.1" cy="167.2"/><circle cx="57.6" cy="194.1"/><circle cx="75.1" cy="205.8"/><circle cx="83.8" cy="180.8"/><circle cx="84.1" cy="202.2"/><circle cx="79.9" cy="190.8"/><circle cx="49.2" cy="186.6"/><circle cx="89.7" cy="186.1"/><circle cx="55.2" cy="214.7"/><circle cx="83.4" cy="200.5"/><circle cx="100.1" cy="178.4"/><circle cx="45.2" cy="196.5"/><circle cx="56.4" cy="198.1"/><circle cx="74.9" cy="191.3"/><circle cx="82.4" cy="178.4"/><circle cx="111.8" cy="182.4"/><circle cx="103.4" cy="175.2"/><circle cx="55" cy="222.3"/><circle cx="78.1" cy="195.5"/><circle cx="83.2" cy="202"/><circle cx="83.1" cy="195.1"/><circle cx="94.2" cy="154"/><circle cx="50.6" cy="220"/><circle cx="79.8" cy="194.8"/><circle cx="94.2" cy="189.1"/><circle cx="72.1" cy="198.1"/><circle cx="75.6" cy="195"/><circle cx="118.8" cy="167.6"/><circle cx="74.4" cy="208.3"/><circle cx="78" cy="195.8"/><circle cx="54.7" cy="207.4"/><circle cx="80" cy="198.5"/><circle cx="75.5" cy="190.1"/><circle cx="61.1" cy="218.2"/><circle cx="99.2" cy="179.5"/><circle cx="62.9" cy="190.6"/><circle cx="92.6" cy="210.2"/><circle cx="105.7" cy="180.1"/><circle cx="85.1" cy="176.8"/><circle cx="77.4" cy="187.4"/><circle cx="73.7" cy="212.9"/><circle cx="59.1" cy="208.5"/><circle cx="71" cy="186.1"/><circle cx="84.6" cy="198.8"/><circle cx="83.8" cy="220.1"/><circle cx="69.5" cy="200.7"/><circle cx="77.5" cy="210.7"/><circle cx="70.9" cy="202.9"/><circle cx="121.4" cy="150.7"/><circle cx="54.8" cy="191.4"/><circle cx="88.5" cy="182.2"/><circle cx="88.8" cy="189.4"/><circle cx="75.4" cy="216.7"/><circle cx="80.1" cy="199.2"/><circle cx="69.6" cy="194.5"/><circle cx="52.2" cy="220.4"/><circle cx="65.6" cy="222.1"/><circle cx="71.2" cy="187.5"/><circle cx="123.7" cy="185.7"/><circle cx="80.3" cy="203.8"/><circle cx="44.7" cy="206"/><circle cx="77.4" cy="202.9"/><circle cx="74.6" cy="189.9"/><circle cx="99.7" cy="170"/><circle cx="74.2" cy="167.4"/><circle cx="112.8" cy="205.7"/><circle cx="67" cy="231.1"/><circle cx="84.8" cy="195.6"/><circle cx="66.9" cy="219.8"/><circle cx="44.7" cy="210.5"/><circle cx="100.4" cy="161.7"/><circle cx="75.8" cy="209.3"/><circle cx="77.5" cy="172.4"/><circle cx="81.3" cy="193.1"/><circle cx="104.9" cy="174.8"/><circle cx="73.8" cy="206"/><circle cx="49.6" cy="218.4"/><circle cx="75.2" cy="191"/><circle cx="65.8" cy="197.4"/><circle cx="72.4" cy="222.3"/><circle cx="76.8" cy="204.2"/><circle cx="60" cy="216.8"/><circle cx="94.3" cy="177.3"/><circle cx="119.7" cy="181.1"/><circle cx="49.6" cy="206.6"/><circle cx="59.1" cy="217.7"/><circle cx="112.7" cy="214.6"/><circle cx="68.2" cy="196"/><circle cx="110.1" cy="180.7"/><circle cx="59.8" cy="203"/><circle cx="70.7" cy="206.7"/><circle cx="84.5" cy="173.6"/><circle cx="57.4" cy="210.7"/><circle cx="99.8" cy="195.2"/><circle cx="86.6" cy="186.5"/><circle cx="90.1" cy="186.1"/><circle cx="98.6" cy="196.1"/><circle cx="84.9" cy="185.8"/><circle cx="82.9" cy="195.9"/><circle cx="58.9" cy="200.2"/><circle cx="95.5" cy="179.6"/><circle cx="70.7" cy="216.4"/><circle cx="61.9" cy="206.2"/><circle cx="74.7" cy="194.3"/><circle cx="80.8" cy="214.3"/><circle cx="104" cy="177.7"/><circle cx="81.2" cy="216.1"/><circle cx="93.3" cy="184.8"/><circle cx="55.2" cy="216.8"/><circle cx="89.8" cy="197.5"/><circle cx="60.8" cy="208"/><circle cx="88.9" cy="185.6"/><circle cx="73.9" cy="217.6"/><circle cx="90.6" cy="181.1"/><circle cx="87.1" cy="204.9"/><circle cx="55.5" cy="215.8"/><circle cx="56.2" cy="204.2"/><circle cx="55.3" cy="209.2"/><circle cx="73.2" cy="205.8"/><circle cx="52.5" cy="208.9"/><circle cx="85.5" cy="197.8"/><circle cx="74.2" cy="169.9"/><circle cx="95" cy="207.2"/><circle cx="59.9" cy="202.6"/><circle cx="52.4" cy="214.2"/><circle cx="58" cy="224.4"/><circle cx="54.7" cy="192.6"/><circle cx="89.5" cy="189.7"/><circle cx="85.1" cy="210.6"/><circle cx="109.3" cy="150.2"/><circle cx="65.4" cy="222"/><circle cx="70.1" cy="179.8"/><circle cx="59.9" cy="211.4"/><circle cx="82.7" cy="191.6"/><circle cx="100.4" cy="185.3"/><circle cx="90.6" cy="175.9"/><circle cx="65.7" cy="220.3"/><circle cx="89.9" cy="194.1"/><circle cx="72.5" cy="185.6"/><circle cx="94" cy="190.8"/><circle cx="64.6" cy="229.3"/><circle cx="92" cy="182.1"/><circle cx="80.2" cy="190"/><circle cx="53.9" cy="198.4"/><circle cx="55.3" cy="186.9"/><circle cx="109.1" cy="177.6"/><circle cx="98.8" cy="194.7"/><circle cx="96.7" cy="200.6"/><circle cx="79.4" cy="206.2"/><circle cx="98.4" cy="168.4"/><circle cx="72.7" cy="207.9"/><circle cx="80.8" cy="207.6"/><circle cx="58.5" cy="216.9"/><circle cx="107" cy="187.5"/><circle cx="86" cy="178.3"/><circle cx="74.8" cy="173.8"/><circle cx="71.2" cy="200.7"/><circle cx="70.4" cy="159.7"/><circle cx="54.7" cy="223.9"/><circle cx="71.6" cy="208.3"/><circle cx="53.7" cy="210.8"/><circle cx="63.5" cy="211"/><circle cx="60.7" cy="207.6"/><circle cx="96.8" cy="184"/><circle cx="84.2" cy="156.7"/><circle cx="82.6" cy="170.7"/><circle cx="48.6" cy="216.9"/><circle cx="44.7" cy="215.3"/><circle cx="63.1" cy="184.8"/><circle cx="62.8" cy="207.9"/><circle cx="56.1" cy="195.4"/><circle cx="106.2" cy="176.9"/><circle cx="127.1" cy="186.5"/><circle cx="80.9" cy="198.5"/><circle cx="70.6" cy="196.5"/><circle cx="77.7" cy="170"/><circle cx="62.7" cy="189.1"/><circle cx="58.8" cy="195.5"/><circle cx="77.2" cy="197.9"/><circle cx="67.3" cy="194.4"/><circle cx="79" cy="180.3"/><circle cx="87" cy="190"/><circle cx="72.3" cy="197.6"/><circle cx="70.3" cy="220.9"/><circle cx="71.9" cy="205"/><circle cx="76.9" cy="188.9"/><circle cx="60.6" cy="205.2"/><circle cx="44.3" cy="207.8"/><circle cx="72" cy="211.9"/><circle cx="67.3" cy="220.4"/><circle cx="80.1" cy="205.9"/><circle cx="80.7" cy="225.9"/><circle cx="59.3" cy="216.8"/><circle cx="101" cy="192.7"/><circle cx="123.5" cy="164.3"/><circle cx="125.5" cy="165.1"/><circle cx="83.5" cy="211.1"/><circle cx="65" cy="229.2"/><circle cx="70" cy="189.6"/><circle cx="75.6" cy="201"/><circle cx="83" cy="196.1"/><circle cx="57.3" cy="189.2"/><circle cx="77.3" cy="208.3"/><circle cx="90.4" cy="199.5"/><circle cx="50" cy="209.1"/></g>
<g fill="#00B0F6" fill-opacity="0.65"><circle cx="78.9" cy="248.9"/><circle cx="90.2" cy="230.7"/><circle cx="85.3" cy="232.5"/><circle cx="87.8" cy="241.5"/><circle cx="90.7" cy="246.8"/><circle cx="89.9" cy="229"/><circle cx="68.1" cy="243.2"/><circle cx="89.5" cy="238"/><circle cx="76.5" cy="228.6"/><circle cx="73.9" cy="254.3"/><circle cx="99.3" cy="242.9"/><circle cx="70.7" cy="236.2"/><circle cx="83" cy="249.2"/><circle cx="69.9" cy="250.8"/><circle cx="68.4" cy="242"/><circle cx="77.9" cy="236.7"/><circle cx="63.7" cy="240.6"/><circle cx="86.7" cy="234.3"/><circle cx="75.2" cy="246"/><circle cx="86.4" cy="247.4"/><circle cx="98" cy="240.7"/><circle cx="71.6" cy="248.7"/><circle cx="81.7" cy="245.2"/><circle cx="71.1" cy="242"/><circle cx="87.7" cy="239.9"/><circle cx="105.9" cy="224.7"/><circle cx="92.3" cy="246"/><circle cx="78.2" cy="229.3"/><circle cx="73.7" cy="250.2"/><circle cx="90.8" cy="236.6"/><circle cx="77.3" cy="249.1"/><circle cx="73.3" cy="225.2"/><circle cx="93" cy="234.5"/><circle cx="90.7" cy="227.4"/><circle cx="74.9" cy="234.4"/><circle cx="74.1" cy="235.2"/><circle cx="101.8" cy="223.5"/><circle cx="76.4" cy="242.4"/><circle cx="78.3" cy="244.4"/><circle cx="85.3" cy="241.1"/><circle cx="84.3" cy="236.7"/><circle cx="86.7" cy="238.9"/><circle cx="94.1" cy="242.9"/><circle cx="69.8" cy="234.9"/><circle cx="69" cy="253.5"/><circle cx="78" cy="249.1"/><circle cx="88.1" cy="236.7"/><circle cx="83.8" cy="234.7"/><circle cx="83.9" cy="247.3"/><circle cx="86.7" cy="235.7"/><circle cx="85" cy="245.1"/><circle cx="63.1" cy="248.7"/><circle cx="86" cy="229.2"/><circle cx="88" cy="241.7"/><circle cx="75.4" cy="234.9"/><circle cx="75.2" cy="254.8"/><circle cx="78.6" cy="233.8"/><circle cx="79.6" cy="235.5"/><circle cx="87.4" cy="240.8"/><circle cx="99.8" cy="256.5"/><circle cx="88.2" cy="241.2"/><circle cx="97.7" cy="238.6"/><circle cx="74" cy="250.1"/><circle cx="88.1" cy="247.3"/><circle cx="90.7" cy="239.4"/><circle cx="81.7" cy="241.1"/><circle cx="103.3" cy="237.4"/><circle cx="89.5" cy="246.7"/><circle cx="79.2" cy="228.4"/><circle cx="74.8" cy="244.8"/><circle cx="87.2" cy="249.5"/><circle cx="84.4" cy="236.5"/><circle cx="96.5" cy="239.2"/><circle cx="99.6" cy="239.9"/><circle cx="71.6" cy="232.5"/><circle cx="91.6" cy="243.7"/><circle cx="73.1" cy="238.1"/><circle cx="92" cy="244.1"/><circle cx="86" cy="234.4"/><circle cx="81" cy="228.6"/><circle cx="84.5" cy="244.8"/><circle cx="78.7" cy="242.7"/><circle cx="92.1" cy="244.7"/><circle cx="74.1" cy="257.3"/><circle cx="102.9" cy="212.5"/><circle cx="100.9" cy="214.7"/><circle cx="84.5" cy="219"/><circle cx="84.7" cy="245.7"/><circle cx="82.1" cy="235.6"/><circle cx="101.7" cy="226.9"/></g>
<g fill="#E76BF3" fill-opacity="0.65"><circle cx="64.8" cy="219.9"/><circle cx="95.9" cy="214.7"/><circle cx="127.1" cy="175.1"/><circle cx="77.1" cy="224.9"/><circle cx="55.3" cy="227.4"/><circle cx="126.8" cy="184.4"/><circle cx="111.8" cy="200.7"/><circle cx="128.5" cy="167.9"/><circle cx="127.5" cy="185.6"/><circle cx="132.1" cy="166.9"/><circle cx="89.1" cy="213.6"/><circle cx="85.8" cy="197.8"/><circle cx="131.1" cy="180.2"/><circle cx="85.7" cy="209.1"/><circle cx="73.8" cy="218.7"/><circle cx="80.1" cy="225.7"/><circle cx="99.9" cy="190.4"/><circle cx="126.7" cy="176.1"/><circle cx="107.4" cy="201.7"/><circle cx="86.9" cy="219.6"/><circle cx="131.9" cy="180"/><circle cx="71.9" cy="231.6"/><circle cx="114.3" cy="181.7"/><circle cx="129.2" cy="191.6"/><circle cx="63.4" cy="221.2"/><circle cx="90.4" cy="195"/><circle cx="93.2" cy="206.5"/><circle cx="81.1" cy="211.4"/><circle cx="131" cy="188.2"/><circle cx="75" cy="204.9"/><circle cx="94.4" cy="195.4"/><circle cx="109.5" cy="195.7"/><circle cx="93.2" cy="192"/><circle cx="129.3" cy="172.1"/><circle cx="102.6" cy="213.1"/><circle cx="112.3" cy="177.3"/><circle cx="131.4" cy="178.7"/><circle cx="80" cy="207.6"/><circle cx="69.2" cy="230.5"/><circle cx="102.7" cy="187.4"/><circle cx="66.4" cy="216.2"/><circle cx="103.4" cy="202"/><circle cx="140.1" cy="166"/><circle cx="122" cy="169.9"/><circle cx="114.1" cy="199.9"/><circle cx="108.9" cy="180.1"/><circle cx="116.4" cy="191.1"/><circle cx="64.6" cy="221.6"/><circle cx="66.5" cy="222"/><circle cx="89.4" cy="210.3"/><circle cx="116.3" cy="198.3"/><circle cx="76.5" cy="209.4"/><circle cx="97.1" cy="191.8"/><circle cx="91.7" cy="190.9"/><circle cx="81.8" cy="197.9"/><circle cx="84.4" cy="211.7"/><circle cx="56.1" cy="223.6"/><circle cx="100.4" cy="213.9"/><circle cx="81.2" cy="220.4"/><circle cx="129.5" cy="188.2"/><circle cx="127.9" cy="182.2"/><circle cx="86.5" cy="194.7"/><circle cx="78.9" cy="214.3"/><circle cx="106.8" cy="202.6"/><circle cx="119.9" cy="177.2"/><circle cx="114.9" cy="176.9"/><circle cx="64" cy="213"/><circle cx="109.1" cy="197.5"/><circle cx="138.4" cy="160.8"/><circle cx="97.2" cy="204.4"/><circle cx="98.9" cy="191.8"/><circle cx="83.8" cy="214.2"/><circle cx="129.3" cy="165.7"/><circle cx="63.5" cy="212.9"/><circle cx="107.4" cy="201.1"/><circle cx="70.9" cy="213.5"/><circle cx="81" cy="200.2"/><circle cx="122.7" cy="175.6"/><circle cx="92.9" cy="216.4"/><circle cx="79.1" cy="226.8"/><circle cx="108" cy="192"/><circle cx="108.1" cy="205.7"/><circle cx="116.7" cy="174.8"/><circle cx="87.3" cy="196.1"/><circle cx="78" cy="223.4"/><circle cx="110.7" cy="184.3"/><circle cx="69.3" cy="222.7"/><circle cx="133.9" cy="186.3"/><circle cx="113.7" cy="202.2"/><circle cx="130.2" cy="186"/><circle cx="130.8" cy="178.1"/><circle cx="107" cy="200.9"/><circle cx="66.2" cy="221.3"/><circle cx="125.1" cy="181.6"/><circle cx="105" cy="210.8"/><circle cx="106.1" cy="186.5"/><circle cx="75.5" cy="211.3"/><circle cx="78" cy="209.5"/><circle cx="51.1" cy="225.5"/><circle cx="67.4" cy="212"/><circle cx="80.6" cy="206.7"/><circle cx="90.7" cy="205.1"/><circle cx="71.1" cy="230.6"/><circle cx="62" cy="219"/><circle cx="78.4" cy="230.5"/><circle cx="98.9" cy="198.5"/><circle cx="82.3" cy="198"/><circle cx="82.1" cy="203"/><circle cx="114.8" cy="175.1"/><circle cx="56.1" cy="226"/><circle cx="101.8" cy="206.6"/><circle cx="74.6" cy="232.2"/><circle cx="69.5" cy="232.9"/><circle cx="74.9" cy="231.5"/><circle cx="137.1" cy="161.8"/><circle cx="101.8" cy="197.5"/><circle cx="87.3" cy="198.5"/><circle cx="105.7" cy="183.2"/><circle cx="107.1" cy="203.5"/><circle cx="78.6" cy="211"/></g>
<g fill="#00A9FF" fill-opacity="0.65"><circle cx="114" cy="197.2"/><circle cx="116.7" cy="205.5"/><circle cx="108.9" cy="188.3"/><circle cx="94.5" cy="214.2"/><circle cx="119.1" cy="186.8"/><circle cx="78.7" cy="226.4"/><circle cx="108" cy="212.6"/><circle cx="95" cy="203.6"/><circle cx="66.2" cy="230.1"/><circle cx="113.3" cy="206.5"/><circle cx="87.2" cy="212.2"/><circle cx="110.4" cy="214.3"/><circle cx="72.4" cy="233.5"/><circle cx="128.6" cy="191.8"/><circle cx="96.3" cy="222"/><circle cx="131.3" cy="190.4"/><circle cx="82" cy="217.8"/><circle cx="104.6" cy="220"/><circle cx="87" cy="229.7"/><circle cx="125.1" cy="184.6"/><circle cx="70.9" cy="222.3"/><circle cx="120.1" cy="180.4"/><circle cx="125.2" cy="185.7"/><circle cx="116.5" cy="192.4"/><circle cx="98.7" cy="224.8"/><circle cx="96.2" cy="209.2"/><circle cx="80.9" cy="224.6"/><circle cx="101.6" cy="203.7"/><circle cx="101.5" cy="202.9"/><circle cx="105.2" cy="194.9"/><circle cx="77.7" cy="210.6"/><circle cx="98.7" cy="211.9"/><circle cx="123.9" cy="183.9"/><circle cx="64" cy="230"/><circle cx="80.7" cy="221.1"/><circle cx="98.3" cy="199.7"/><circle cx="138.4" cy="171.9"/><circle cx="123.1" cy="178.6"/><circle cx="73.4" cy="228.9"/><circle cx="105.5" cy="212.6"/><circle cx="90.4" cy="201.7"/><circle cx="103.4" cy="205.5"/><circle cx="107.9" cy="218.9"/><circle cx="88.1" cy="205.1"/><circle cx="138.3" cy="169"/><circle cx="70.7" cy="225.8"/><circle cx="121.2" cy="190.3"/><circle cx="103.2" cy="218.1"/><circle cx="62.6" cy="228.1"/><circle cx="104.4" cy="218.6"/><circle cx="114.7" cy="183.7"/><circle cx="134.8" cy="185.1"/><circle cx="139" cy="167.5"/><circle cx="92.8" cy="203.5"/><circle cx="135.2" cy="173.5"/><circle cx="95.5" cy="221.3"/><circle cx="94.3" cy="226"/><circle cx="115.5" cy="210"/><circle cx="83.4" cy="216.5"/><circle cx="65.6" cy="220.1"/><circle cx="120.2" cy="201.5"/><circle cx="86.4" cy="221.9"/><circle cx="101.7" cy="199.4"/><circle cx="112.7" cy="189.8"/><circle cx="121.5" cy="202.8"/><circle cx="105.4" cy="200.7"/><circle cx="120.1" cy="183.5"/><circle cx="98.9" cy="208.6"/><circle cx="71.3" cy="227.9"/><circle cx="95.1" cy="221"/><circle cx="66.3" cy="219.2"/><circle cx="135.8" cy="179.7"/><circle cx="99.7" cy="212"/><circle cx="78.7" cy="214.4"/><circle cx="100.2" cy="207.4"/><circle cx="112.4" cy="203.8"/><circle cx="116.7" cy="207.8"/><circle cx="65.6" cy="223.9"/><circle cx="120.2" cy="182.1"/><circle cx="97.6" cy="206.6"/><circle cx="100.3" cy="195.2"/><circle cx="90.9" cy="202.3"/><circle cx="96.1" cy="210.7"/><circle cx="135.1" cy="175.5"/><circle cx="79.5" cy="230.6"/><circle cx="101.6" cy="220.2"/><circle cx="96.3" cy="227.2"/><circle cx="95.9" cy="198.2"/><circle cx="122.2" cy="180.8"/><circle cx="122.7" cy="199"/><circle cx="100.3" cy="194"/><circle cx="84.8" cy="206.9"/><circle cx="123.7" cy="199"/><circle cx="90" cy="201.5"/><circle cx="131.6" cy="184.8"/><circle cx="118.4" cy="202.8"/><circle cx="123.5" cy="195.6"/><circle cx="102.5" cy="212.9"/><circle cx="125.3" cy="189.9"/><circle cx="78.9" cy="225.5"/><circle cx="74.1" cy="214.2"/><circle cx="74.8" cy="225.4"/><circle cx="129.9" cy="176"/><circle cx="126.3" cy="190.1"/><circle cx="104.7" cy="192"/><circle cx="101.5" cy="217"/><circle cx="132" cy="178.6"/><circle cx="109.8" cy="188.6"/><circle cx="78.9" cy="214.1"/><circle cx="95.4" cy="199.3"/><circle cx="70.1" cy="217"/><circle cx="84.3" cy="211.8"/><circle cx="77.5" cy="216"/><circle cx="81.8" cy="219.5"/><circle cx="107" cy="190.5"/><circle cx="91" cy="221"/><circle cx="129.1" cy="177"/><circle cx="79.3" cy="227.7"/><circle cx="126.9" cy="196.5"/><circle cx="120.9" cy="186.2"/><circle cx="117.4" cy="203.8"/><circle cx="89" cy="224.7"/><circle cx="106.5" cy="191.6"/><circle cx="85.7" cy="218"/><circle cx="96.2" cy="203.6"/><circle cx="79.2" cy="227.8"/><circle cx="129.8" cy="180"/><circle cx="96.5" cy="220.3"/><circle cx="124.8" cy="177.3"/><circle cx="66.5" cy="224.1"/><circle cx="87.1" cy="229.3"/><circle cx="107.9" cy="218.2"/><circle cx="111.1" cy="195.7"/><circle cx="72" cy="231.1"/><circle cx="118.2" cy="182"/><circle cx="64.2" cy="222.4"/><circle cx="91.4" cy="205.5"/><circle cx="89.4" cy="201.7"/><circle cx="74.4" cy="223.8"/><circle cx="104.1" cy="198.3"/><circle cx="119.9" cy="194.6"/><circle cx="89.5" cy="214.4"/><circle cx="114.7" cy="196.1"/><circle cx="96.5" cy="225.8"/><circle cx="124.1" cy="193"/><circle cx="102.5" cy="207.6"/><circle cx="89.7" cy="221.8"/><circle cx="69.1" cy="225.2"/><circle cx="118.4" cy="207.5"/><circle cx="93.1" cy="206.1"/><circle cx="95.7" cy="219"/><circle cx="129" cy="180.9"/><circle cx="94.1" cy="209.4"/><circle cx="63.7" cy="219.9"/><circle cx="128.1" cy="186.1"/><circle cx="72.1" cy="216.9"/><circle cx="118.7" cy="192.4"/><circle cx="104.1" cy="219.8"/><circle cx="81.2" cy="214"/><circle cx="132.4" cy="181.9"/><circle cx="120.9" cy="196.6"/><circle cx="80.6" cy="225.1"/><circle cx="89.2" cy="210.6"/><circle cx="86.3" cy="221.9"/><circle cx="131.4" cy="176.9"/><circle cx="80.7" cy="216.8"/><circle cx="131.5" cy="182.2"/><circle cx="98.5" cy="208"/><circle cx="109" cy="208.7"/><circle cx="72.3" cy="220.1"/><circle cx="81.2" cy="214.3"/><circle cx="111.1" cy="196.8"/><circle cx="113.9" cy="194.1"/><circle cx="91" cy="212.9"/><circle cx="112" cy="214.4"/><circle cx="91.8" cy="223.2"/><circle cx="109.2" cy="199.4"/><circle cx="89.5" cy="221.9"/><circle cx="92.2" cy="215"/><circle cx="102" cy="194.4"/><circle cx="108.1" cy="209"/><circle cx="104.8" cy="207.1"/><circle cx="97.4" cy="208.1"/><circle cx="61.5" cy="222.1"/><circle cx="75.2" cy="214.4"/><circle cx="125.3" cy="194.7"/><circle cx="110.7" cy="204.1"/><circle cx="93.9" cy="220.3"/><circle cx="123.5" cy="187.2"/><circle cx="105.7" cy="217.7"/><circle cx="95.4" cy="204.5"/><circle cx="117.1" cy="190.4"/><circle cx="69.2" cy="222.7"/><circle cx="92.1" cy="202.8"/><circle cx="99" cy="222.1"/><circle cx="110.4" cy="213"/><circle cx="106.6" cy="191.9"/><circle cx="104.9" cy="214.5"/><circle cx="79.2" cy="223.8"/><circle cx="123.3" cy="199.5"/><circle cx="102.9" cy="219.2"/><circle cx="116.4" cy="190.6"/><circle cx="101" cy="218.1"/><circle cx="103.6" cy="200.4"/><circle cx="107.9" cy="194.3"/><circle cx="78.4" cy="232.4"/><circle cx="118.8" cy="198.5"/><circle cx="75.2" cy="229.2"/><circle cx="111.2" cy="212.7"/><circle cx="110.3" cy="204.5"/><circle cx="123.5" cy="185.3"/><circle cx="92.1" cy="224.6"/><circle cx="88.6" cy="206.7"/><circle cx="72.5" cy="218.4"/><circle cx="63.7" cy="221.5"/><circle cx="121.1" cy="197.5"/><circle cx="121.3" cy="203.5"/><circle cx="124.4" cy="186.5"/><circle cx="86.6" cy="219.2"/><circle cx="95.7" cy="221.5"/><circle cx="116.5" cy="207"/><circle cx="59.8" cy="229.3"/><circle cx="89.9" cy="223.3"/><circle cx="98.2" cy="195.3"/><circle cx="111.6" cy="210.5"/><circle cx="84" cy="218.9"/><circle cx="92.7" cy="226.5"/><circle cx="69.9" cy="222.8"/><circle cx="62.4" cy="230"/><circle cx="70.1" cy="216.3"/><circle cx="116.8" cy="201.3"/><circle cx="123.3" cy="193.4"/><circle cx="122.5" cy="191.5"/><circle cx="118.1" cy="195.5"/><circle cx="82.8" cy="228.7"/><circle cx="96.5" cy="208.1"/><circle cx="77.8" cy="215.5"/><circle cx="104.4" cy="212.2"/><circle cx="89.8" cy="224.8"/><circle cx="105.9" cy="208.6"/><circle cx="110.3" cy="188.5"/><circle cx="122.2" cy="195.1"/><circle cx="112.5" cy="197.3"/><circle cx="133.3" cy="180.2"/><circle cx="110.6" cy="188.6"/><circle cx="110.8" cy="207.6"/><circle cx="109.9" cy="208"/><circle cx="112.6" cy="194.4"/><circle cx="100.2" cy="219.3"/><circle cx="83.8" cy="215.7"/><circle cx="99" cy="195.9"/><circle cx="87.3" cy="229.2"/><circle cx="87.4" cy="217.1"/><circle cx="83.7" cy="217"/><circle cx="124.8" cy="178.4"/><circle cx="95.3" cy="220.8"/><circle cx="83.7" cy="228.2"/><circle cx="67.5" cy="219"/><circle cx="76.4" cy="212.7"/><circle cx="130.3" cy="175.9"/></g>
<g fill="#E76BF3" fill-opacity="0.65"><circle cx="95.1" cy="196.8"/><circle cx="117.5" cy="186.8"/><circle cx="106.8" cy="204.2"/><circle cx="105.3" cy="190.5"/><circle cx="96.4" cy="198.8"/><circle cx="88.5" cy="198.9"/><circle cx="108.1" cy="181"/><circle cx="107.7" cy="179.4"/><circle cx="110.6" cy="191.2"/><circle cx="71.6" cy="218.4"/><circle cx="83.4" cy="199.9"/><circle cx="121.4" cy="179.4"/><circle cx="69.3" cy="190"/><circle cx="73.5" cy="200.1"/><circle cx="73.8" cy="213.6"/><circle cx="123.9" cy="180"/><circle cx="75.9" cy="193.5"/><circle cx="101.7" cy="199.1"/><circle cx="60.7" cy="210.7"/><circle cx="95.1" cy="207.6"/><circle cx="97.1" cy="180.3"/><circle cx="64.8" cy="196.5"/><circle cx="59.2" cy="199.5"/><circle cx="116.9" cy="180.1"/><circle cx="112.8" cy="200.9"/><circle cx="78.6" cy="201.3"/><circle cx="93.4" cy="219.3"/><circle cx="100.2" cy="211.6"/><circle cx="84.8" cy="208.5"/><circle cx="78.3" cy="196.5"/><circle cx="79.5" cy="195.8"/><circle cx="106.8" cy="167.1"/><circle cx="123.1" cy="175.4"/><circle cx="67" cy="203.9"/><circle cx="69.4" cy="213.4"/><circle cx="89.1" cy="167.6"/><circle cx="112.1" cy="190.5"/><circle cx="107.7" cy="197.2"/><circle cx="83" cy="190.1"/><circle cx="75.1" cy="198.2"/><circle cx="83.3" cy="202.2"/><circle cx="87.5" cy="207"/><circle cx="82.1" cy="204.3"/><circle cx="84.4" cy="205"/><circle cx="75.2" cy="210.6"/><circle cx="73.4" cy="199.6"/><circle cx="108.8" cy="196.4"/><circle cx="119.3" cy="182.5"/><circle cx="119.1" cy="196.7"/><circle cx="122.6" cy="194.8"/><circle cx="76.8" cy="206.7"/><circle cx="75.6" cy="209.1"/><circle cx="91" cy="198.7"/><circle cx="81" cy="191"/><circle cx="76.1" cy="212.1"/><circle cx="86.2" cy="212.6"/><circle cx="65.3" cy="228.4"/><circle cx="93.2" cy="180.1"/><circle cx="109.4" cy="203.6"/><circle cx="79" cy="203.7"/><circle cx="92.7" cy="193.4"/><circle cx="74.9" cy="192.7"/><circle cx="96.5" cy="203.6"/><circle cx="112.5" cy="192.6"/><circle cx="109" cy="177.5"/><circle cx="64.4" cy="225.9"/><circle cx="116.9" cy="175.4"/><circle cx="105.7" cy="207.9"/><circle cx="84.7" cy="196.7"/><circle cx="89.6" cy="191.4"/><circle cx="125.3" cy="191.5"/><circle cx="112" cy="194.9"/><circle cx="104.6" cy="185.3"/><circle cx="124.7" cy="195.7"/><circle cx="78.7" cy="203.7"/><circle cx="61.4" cy="209.2"/><circle cx="83.2" cy="211"/><circle cx="122.4" cy="187.4"/><circle cx="96.4" cy="190.5"/><circle cx="111.5" cy="190.1"/><circle cx="88.6" cy="196.4"/><circle cx="104.5" cy="191.4"/><circle cx="93.2" cy="206.2"/><circle cx="90" cy="182"/><circle cx="68.9" cy="191"/><circle cx="65.8" cy="216.8"/><circle cx="120.8" cy="175.3"/><circle cx="81.5" cy="183.1"/><circle cx="83.1" cy="207.5"/><circle cx="78.6" cy="197.7"/><circle cx="102.6" cy="207.3"/><circle cx="78.2" cy="195.3"/><circle cx="81.6" cy="204.9"/><circle cx="95.8" cy="189.4"/><circle cx="100.9" cy="205.3"/><circle cx="74.8" cy="204.1"/><circle cx="66.1" cy="206.1"/><circle cx="77.3" cy="213.4"/><circle cx="106.3" cy="209"/><circle cx="76.7" cy="195"/><circle cx="113.3" cy="196.5"/><circle cx="94.6" cy="200.5"/><circle cx="111.4" cy="205.6"/><circle cx="89.9" cy="205.7"/><circle cx="98.9" cy="193.8"/><circle cx="96.3" cy="179.9"/><circle cx="101.6" cy="186.1"/><circle cx="85.5" cy="209.2"/><circle cx="71.5" cy="212.9"/><circle cx="54.5" cy="213.7"/><circle cx="109.8" cy="197.4"/><circle cx="77.3" cy="192.8"/><circle cx="102" cy="177.9"/><circle cx="98" cy="217.7"/><circle cx="90.2" cy="210.6"/><circle cx="117.2" cy="198.2"/><circle cx="103.9" cy="183.4"/><circle cx="71.5" cy="211.7"/><circle cx="88.7" cy="195.3"/><circle cx="59.8" cy="209"/><circle cx="81.3" cy="224.6"/><circle cx="81.9" cy="217"/><circle cx="99.1" cy="184.6"/><circle cx="123.6" cy="194.9"/><circle cx="82.2" cy="199"/><circle cx="103.9" cy="172.8"/><circle cx="116.4" cy="182"/><circle cx="80.1" cy="201"/><circle cx="92.2" cy="201.7"/><circle cx="102.7" cy="193.4"/><circle cx="108.6" cy="194.6"/><circle cx="100.8" cy="199.8"/><circle cx="93.9" cy="203.8"/><circle cx="59" cy="207.6"/><circle cx="92.5" cy="197.2"/><circle cx="74.3" cy="201.5"/><circle cx="96.3" cy="197.5"/><circle cx="64.8" cy="215.2"/><circle cx="96.6" cy="194.4"/><circle cx="124.9" cy="185.7"/><circle cx="74.9" cy="207.2"/><circle cx="102.7" cy="197.3"/><circle cx="75.7" cy="195.3"/><circle cx="114.1" cy="177.8"/><circle cx="91.3" cy="208.5"/><circle cx="113" cy="181.7"/><circle cx="91.3" cy="218.9"/><circle cx="76.5" cy="194.2"/><circle cx="68.1" cy="218"/><circle cx="114.6" cy="186.1"/><circle cx="86.6" cy="208"/><circle cx="88.4" cy="192"/><circle cx="68.4" cy="213.6"/><circle cx="74.2" cy="199.9"/><circle cx="115.9" cy="181.8"/><circle cx="100.5" cy="202.3"/><circle cx="80.4" cy="194.1"/><circle cx="122.5" cy="185.4"/><circle cx="114.4" cy="203"/><circle cx="67.2" cy="223.2"/><circle cx="107.6" cy="177.9"/><circle cx="102.6" cy="200.6"/><circle cx="110.5" cy="199"/><circle cx="55.6" cy="215.6"/><circle cx="116.1" cy="194.7"/><circle cx="88.5" cy="192.2"/><circle cx="72.6" cy="215.5"/><circle cx="98.1" cy="198.1"/><circle cx="99" cy="191.1"/><circle cx="66.4" cy="215.1"/><circle cx="70.7" cy="198.8"/><circle cx="62.7" cy="193.9"/><circle cx="80.5" cy="205.4"/><circle cx="117.8" cy="198.3"/><circle cx="94.6" cy="193.4"/><circle cx="94.2" cy="196.8"/><circle cx="93.7" cy="205.9"/><circle cx="113.9" cy="189.1"/><circle cx="104" cy="183.8"/><circle cx="98.8" cy="207"/><circle cx="58.9" cy="200.7"/><circle cx="84.3" cy="207.6"/><circle cx="115.1" cy="194.8"/><circle cx="69.4" cy="208.1"/><circle cx="72.7" cy="217.8"/><circle cx="98.9" cy="188.6"/><circle cx="95.5" cy="210.8"/><circle cx="104.3" cy="205.1"/><circle cx="80.8" cy="206.8"/><circle cx="54" cy="213.6"/><circle cx="74.9" cy="195.9"/><circle cx="117.3" cy="174.4"/><circle cx="96.3" cy="196.4"/><circle cx="116.8" cy="189.3"/><circle cx="47.3" cy="220.1"/><circle cx="83" cy="199.1"/><circle cx="89.4" cy="191.2"/><circle cx="103.9" cy="198.6"/><circle cx="61" cy="201.9"/><circle cx="100.2" cy="193.1"/><circle cx="93" cy="202.9"/><circle cx="121.1" cy="188.3"/><circle cx="103.6" cy="180.9"/><circle cx="95.4" cy="209.3"/><circle cx="85.6" cy="210.3"/><circle cx="94.1" cy="191.8"/><circle cx="86.2" cy="226"/><circle cx="96.9" cy="192.8"/><circle cx="122.1" cy="200.4"/><circle cx="74.3" cy="204.6"/><circle cx="123.5" cy="189.9"/><circle cx="92.3" cy="200.9"/><circle cx="90.6" cy="179"/><circle cx="127" cy="186.8"/><circle cx="110.2" cy="183.9"/><circle cx="98.4" cy="201.2"/><circle cx="76.4" cy="194.4"/><circle cx="90.2" cy="205.6"/><circle cx="102.6" cy="179"/><circle cx="96.8" cy="188.5"/><circle cx="78.2" cy="204.4"/><circle cx="98.1" cy="197.5"/><circle cx="68" cy="202.4"/><circle cx="72" cy="207.5"/><circle cx="114.8" cy="187.1"/><circle cx="111.8" cy="183.4"/><circle cx="74.8" cy="203"/><circle cx="92.6" cy="202.9"/><circle cx="102.3" cy="179.5"/><circle cx="82.6" cy="215.3"/><circle cx="89.4" cy="205.9"/><circle cx="105.3" cy="179.4"/><circle cx="95" cy="191.8"/><circle cx="67" cy="215.4"/><circle cx="122.1" cy="182.7"/><circle cx="82" cy="188.1"/><circle cx="67.2" cy="211.2"/><circle cx="72.3" cy="198"/><circle cx="73" cy="191.9"/><circle cx="127" cy="190.6"/><circle cx="103.6" cy="201.7"/><circle cx="84.8" cy="196.6"/><circle cx="103.9" cy="202.3"/><circle cx="64.9" cy="203.3"/><circle cx="68.2" cy="197.8"/><circle cx="100.6" cy="198.9"/><circle cx="98.8" cy="191.2"/><circle cx="118.9" cy="191.4"/><circle cx="107.4" cy="205.7"/><circle cx="67" cy="210.9"/><circle cx="101.6" cy="199.2"/><circle cx="64" cy="192.6"/><circle cx="76.5" cy="209.8"/><circle cx="82.2" cy="186.3"/><circle cx="99.2" cy="180.1"/><circle cx="88.6" cy="220.3"/><circle cx="61.8" cy="215.8"/><circle cx="77.4" cy="203.7"/><circle cx="68.8" cy="207.6"/><circle cx="115.2" cy="199.5"/><circle cx="77.9" cy="183.3"/><circle cx="91.9" cy="211.5"/><circle cx="67.3" cy="217.9"/><circle cx="93.9" cy="208.5"/><circle cx="110.1" cy="202.5"/><circle cx="70.8" cy="203.9"/><circle cx="114.4" cy="186.8"/><circle cx="79.4" cy="203"/><circle cx="69.4" cy="204.2"/><circle cx="89.7" cy="212"/><circle cx="66.5" cy="211.9"/><circle cx="122.7" cy="169.4"/><circle cx="88.8" cy="202.5"/><circle cx="45.6" cy="219.5"/><circle cx="78.3" cy="195.7"/><circle cx="90.2" cy="206.3"/><circle cx="66.7" cy="192.7"/><circle cx="94.5" cy="203.5"/><circle cx="96.4" cy="177.7"/><circle cx="72.7" cy="219.5"/><circle cx="70.8" cy="211.1"/><circle cx="74.4" cy="214.8"/><circle cx="90.7" cy="194.6"/><circle cx="119" cy="176.1"/><circle cx="58.4" cy="226.7"/><circle cx="104.8" cy="182.3"/><circle cx="64.9" cy="219.8"/><circle cx="87.9" cy="201.4"/><circle cx="112.8" cy="184.9"/><circle cx="105.8" cy="190.2"/><circle cx="73.9" cy="195.7"/><circle cx="108.6" cy="198.9"/><circle cx="107.4" cy="185.8"/><circle cx="84" cy="186.2"/><circle cx="64.3" cy="196.7"/><circle cx="93.4" cy="200.6"/><circle cx="113.5" cy="182.1"/><circle cx="82.6" cy="191.2"/><circle cx="98" cy="204.3"/><circle cx="103.3" cy="186.5"/><circle cx="98.2" cy="182.9"/><circle cx="57.2" cy="217.8"/><circle cx="87.3" cy="193.3"/><circle cx="101.8" cy="210.2"/><circle cx="69.5" cy="203.7"/><circle cx="91.1" cy="202.6"/><circle cx="92.1" cy="192.4"/><circle cx="114.3" cy="174.8"/><circle cx="113.7" cy="185.8"/><circle cx="118.3" cy="189"/><circle cx="111" cy="189.1"/><circle cx="107.5" cy="173.4"/><circle cx="78.6" cy="202.4"/><circle cx="69.5" cy="196.1"/><circle cx="108.8" cy="205.6"/><circle cx="103" cy="202.9"/><circle cx="115.4" cy="192"/><circle cx="100.6" cy="184.1"/><circle cx="110.2" cy="199"/><circle cx="113.6" cy="196.1"/><circle cx="104.7" cy="189.7"/><circle cx="82.6" cy="205.5"/><circle cx="91.5" cy="190.2"/><circle cx="110" cy="189.5"/><circle cx="137.3" cy="172.6"/><circle cx="61.5" cy="212.7"/><circle cx="102.8" cy="188.7"/><circle cx="95" cy="209.3"/><circle cx="100.6" cy="191.3"/><circle cx="82" cy="181"/><circle cx="91.8" cy="211.1"/><circle cx="109.3" cy="190.2"/><circle cx="82.4" cy="208.2"/><circle cx="82.6" cy="225.5"/><circle cx="70.2" cy="196"/><circle cx="94.9" cy="184.8"/><circle cx="115.1" cy="172.4"/><circle cx="121.8" cy="202.9"/><circle cx="66.1" cy="204.2"/><circle cx="67.7" cy="214.7"/><circle cx="77.4" cy="183.1"/><circle cx="90" cy="197.7"/><circle cx="82.7" cy="193.8"/><circle cx="91.7" cy="201.7"/><circle cx="103.3" cy="197.8"/><circle cx="79.3" cy="190.5"/><circle cx="83.1" cy="216.6"/><circle cx="130.7" cy="187.6"/><circle cx="88.6" cy="198.2"/><circle cx="100.5" cy="182"/><circle cx="102.9" cy="194.7"/><circle cx="116.6" cy="166.1"/><circle cx="80.5" cy="213.1"/><circle cx="83.9" cy="217.4"/><circle cx="100" cy="202.8"/><circle cx="80.6" cy="188.3"/><circle cx="68.7" cy="217.1"/><circle cx="101.7" cy="190.8"/><circle cx="100.5" cy="187.1"/><circle cx="99.1" cy="194.6"/><circle cx="103.3" cy="182.9"/><circle cx="63" cy="211.9"/><circle cx="103.9" cy="198.3"/><circle cx="52.1" cy="219.8"/><circle cx="89" cy="199.7"/><circle cx="93.1" cy="192.9"/><circle cx="98.5" cy="203.8"/><circle cx="117.4" cy="195.7"/><circle cx="117.6" cy="191.5"/><circle cx="103.2" cy="191.9"/><circle cx="66.5" cy="210.8"/><circle cx="121.8" cy="192.8"/><circle cx="82.1" cy="209.5"/><circle cx="99.2" cy="191.4"/><circle cx="73.3" cy="207.3"/><circle cx="45.7" cy="212.6"/><circle cx="105.8" cy="190.2"/><circle cx="99.3" cy="201.9"/><circle cx="47.8" cy="221"/><circle cx="116.3" cy="190.7"/><circle cx="82.4" cy="215.3"/><circle cx="102" cy="205.6"/><circle cx="110" cy="173.5"/><circle cx="68.5" cy="209.9"/><circle cx="115.6" cy="193"/><circle cx="110.9" cy="201.2"/><circle cx="85.6" cy="196.2"/><circle cx="84.5" cy="200"/><circle cx="86.6" cy="190.6"/><circle cx="106" cy="197.3"/><circle cx="111.1" cy="193.1"/><circle cx="128.6" cy="181"/><circle cx="68.4" cy="208.4"/><circle cx="121" cy="181.6"/><circle cx="102.5" cy="199.2"/><circle cx="120.5" cy="175.4"/><circle cx="128.1" cy="188.2"/><circle cx="91.4" cy="179.6"/><circle cx="90.3" cy="200.1"/><circle cx="114.9" cy="189.5"/><circle cx="138.2" cy="170"/><circle cx="121.9" cy="195.2"/><circle cx="100.6" cy="175.2"/><circle cx="94.3" cy="209.7"/><circle cx="109.7" cy="196.5"/><circle cx="98.5" cy="203.3"/><circle cx="109.3" cy="192.3"/><circle cx="100.3" cy="195.8"/><circle cx="85.3" cy="190.5"/><circle cx="104.9" cy="196.5"/><circle cx="73.9" cy="192.2"/><circle cx="52" cy="223.1"/><circle cx="79.3" cy="210.6"/><circle cx="93.6" cy="189.5"/><circle cx="96.5" cy="222.4"/><circle cx="138.7" cy="171.7"/><circle cx="75.2" cy="192.2"/><circle cx="56.5" cy="208.2"/><circle cx="72.9" cy="196.7"/><circle cx="92.4" cy="186.1"/><circle cx="85.9" cy="196.5"/><circle cx="106.7" cy="191.6"/><circle cx="81.9" cy="185.6"/><circle cx="104.5" cy="197"/><circle cx="118.7" cy="197.3"/><circle cx="69.4" cy="201.5"/><circle cx="84.6" cy="194.9"/><circle cx="105.4" cy="191.1"/><circle cx="87.2" cy="204.4"/><circle cx="61.2" cy="215.1"/><circle cx="116.5" cy="187.1"/><circle cx="85.8" cy="209.9"/><circle cx="88.2" cy="203.4"/><circle cx="109.8" cy="191.4"/><circle cx="88.4" cy="193.1"/><circle cx="100.8" cy="189.8"/><circle cx="94.3" cy="180.3"/><circle cx="96.7" cy="199.7"/><circle cx="86.2" cy="206.7"/><circle cx="85" cy="193.5"/><circle cx="83.9" cy="203.7"/><circle cx="92.5" cy="201.2"/><circle cx="88.5" cy="208.7"/><circle cx="107" cy="188.9"/><circle cx="106.1" cy="198.8"/><circle cx="98.1" cy="197.3"/><circle cx="94.8" cy="201.8"/><circle cx="100.3" cy="197.4"/><circle cx="94.1" cy="203.1"/><circle cx="91.2" cy="199.7"/></g>
<g fill="#E76BF3" fill-opacity="0.65"><circle cx="59.4" cy="242.5"/><circle cx="53.6" cy="240.9"/><circle cx="48.7" cy="237.7"/><circle cx="47.3" cy="241.6"/><circle cx="66.2" cy="228.1"/><circle cx="51.4" cy="234.5"/><circle cx="54.3" cy="240.4"/><circle cx="54" cy="239.6"/><circle cx="48.8" cy="234"/><circle cx="52.2" cy="239.8"/></g>
<g fill="#9590FF" fill-opacity="0.65"><circle cx="157" cy="179.4"/><circle cx="152.2" cy="188.7"/><circle cx="144.5" cy="190.4"/><circle cx="161.1" cy="175.3"/><circle cx="146.2" cy="189.4"/><circle cx="144" cy="191.5"/><circle cx="167.2" cy="176.3"/><circle cx="145.1" cy="191.7"/></g>
<g fill="#C77CFF" fill-opacity="0.65"><circle cx="107.8" cy="233.3"/><circle cx="85.8" cy="247.9"/><circle cx="87.8" cy="243.9"/><circle cx="93.6" cy="249.5"/><circle cx="78.8" cy="251.7"/><circle cx="81.4" cy="247.4"/><circle cx="90.5" cy="242.8"/><circle cx="109.2" cy="236.6"/><circle cx="87.3" cy="243.5"/><circle cx="80.3" cy="256"/><circle cx="87.5" cy="244.8"/><circle cx="105.3" cy="233.7"/><circle cx="92.8" cy="246.7"/><circle cx="92" cy="237.9"/><circle cx="118.8" cy="223.3"/><circle cx="123" cy="228.6"/><circle cx="101.2" cy="229.8"/><circle cx="84.1" cy="252.3"/><circle cx="80.8" cy="243"/><circle cx="104.3" cy="236"/><circle cx="101.2" cy="229.1"/><circle cx="104.8" cy="226.3"/><circle cx="116.9" cy="234.4"/><circle cx="98.2" cy="237.4"/><circle cx="119.4" cy="227.4"/><circle cx="65.4" cy="255.7"/><circle cx="93.9" cy="244.1"/><circle cx="113.8" cy="226.9"/><circle cx="105.9" cy="224.2"/><circle cx="109.9" cy="239.6"/></g>
<g fill="#C77CFF" fill-opacity="0.65"><circle cx="96.7" cy="116.6"/><circle cx="99.4" cy="116.1"/><circle cx="96.6" cy="121.2"/><circle cx="98.6" cy="114"/><circle cx="87.9" cy="120.1"/><circle cx="84.4" cy="118.5"/><circle cx="97.8" cy="122.6"/><circle cx="90.4" cy="119.8"/><circle cx="87.6" cy="120.2"/><circle cx="92.6" cy="112.5"/><circle cx="96.3" cy="112.3"/><circle cx="93.8" cy="114.4"/><circle cx="92.4" cy="116.2"/><circle cx="85.6" cy="119.6"/><circle cx="84.1" cy="116.4"/><circle cx="97.5" cy="120.1"/><circle cx="98.6" cy="113.8"/><circle cx="97.2" cy="120.6"/><circle cx="92.7" cy="119"/><circle cx="85.6" cy="111.9"/><circle cx="90.4" cy="105.8"/><circle cx="84.5" cy="114.5"/><circle cx="93.7" cy="121.5"/><circle cx="86.1" cy="117.8"/><circle cx="90" cy="123.5"/><circle cx="98.7" cy="114.6"/><circle cx="95.9" cy="124.6"/><circle cx="105.6" cy="115.5"/></g>
<g fill="#C49A00" fill-opacity="0.65"><circle cx="150.4" cy="186.4"/><circle cx="128.3" cy="196"/><circle cx="141.8" cy="196.3"/><circle cx="136.5" cy="184"/><circle cx="122.3" cy="196"/><circle cx="133.2" cy="183.6"/><circle cx="140.4" cy="189.9"/><circle cx="136" cy="210.4"/><circle cx="128.8" cy="188.4"/><circle cx="123.5" cy="208.6"/><circle cx="129" cy="204.6"/><circle cx="123.3" cy="193"/><circle cx="114.6" cy="204.2"/><circle cx="148.4" cy="173.9"/><circle cx="144.9" cy="180.6"/><circle cx="134.7" cy="194"/><circle cx="143.6" cy="194.5"/><circle cx="112.1" cy="208.1"/><circle cx="124.6" cy="190.8"/><circle cx="120.7" cy="202"/><circle cx="141" cy="184.2"/><circle cx="100.9" cy="201.4"/><circle cx="127" cy="201.9"/><circle cx="104" cy="197.9"/><circle cx="112.8" cy="212.8"/><circle cx="107.2" cy="200"/><circle cx="133.7" cy="197.1"/><circle cx="111.2" cy="199.3"/><circle cx="122.1" cy="203.5"/><circle cx="130.8" cy="193.2"/><circle cx="140.7" cy="192.3"/><circle cx="136.6" cy="191.5"/><circle cx="135.6" cy="189.2"/><circle cx="123.1" cy="191.3"/><circle cx="130.2" cy="195.8"/><circle cx="140.5" cy="186.6"/><circle cx="121.7" cy="195.6"/><circle cx="95.7" cy="205.7"/><circle cx="123.6" cy="199.2"/><circle cx="103.2" cy="203.9"/><circle cx="118.5" cy="198.5"/><circle cx="128.1" cy="185.6"/><circle cx="104.4" cy="199.7"/><circle cx="129" cy="194.7"/><circle cx="128.3" cy="203"/><circle cx="120.2" cy="218.3"/><circle cx="123.6" cy="194.3"/><circle cx="97.5" cy="213.3"/><circle cx="129" cy="189.4"/><circle cx="99.2" cy="202.7"/><circle cx="116.4" cy="192"/><circle cx="123.1" cy="205.8"/><circle cx="126.3" cy="195"/><circle cx="133.9" cy="196.5"/><circle cx="101.4" cy="190.7"/><circle cx="130.5" cy="201.4"/><circle cx="117.7" cy="208.3"/><circle cx="131.4" cy="192.9"/><circle cx="130.3" cy="202.6"/><circle cx="114.5" cy="193.7"/><circle cx="115" cy="209.7"/><circle cx="120.9" cy="201.4"/><circle cx="129.7" cy="197.2"/><circle cx="137.7" cy="202.5"/><circle cx="123.2" cy="200.8"/><circle cx="103.5" cy="200.8"/><circle cx="112.2" cy="198.6"/><circle cx="125.4" cy="207.2"/><circle cx="108.6" cy="211"/><circle cx="132.9" cy="183.3"/><circle cx="109.1" cy="211.6"/><circle cx="131.7" cy="191.1"/><circle cx="113" cy="194.3"/><circle cx="131.7" cy="194.4"/><circle cx="98.1" cy="217.4"/><circle cx="143.7" cy="186.2"/><circle cx="115.7" cy="194.1"/><circle cx="129.3" cy="183.8"/><circle cx="123.9" cy="211.2"/><circle cx="146.5" cy="187.6"/><circle cx="108.4" cy="194.8"/><circle cx="148.5" cy="187.2"/><circle cx="112.6" cy="210.2"/><circle cx="124.2" cy="200.5"/><circle cx="113.9" cy="208.7"/><circle cx="140.4" cy="188.4"/><circle cx="111.9" cy="200.4"/><circle cx="114.6" cy="198.4"/><circle cx="155.3" cy="183.3"/><circle cx="136.8" cy="201.1"/><circle cx="121.2" cy="199.4"/><circle cx="110.3" cy="205.7"/><circle cx="100.5" cy="210.1"/><circle cx="138.3" cy="199.6"/><circle cx="124.9" cy="198.9"/><circle cx="129.7" cy="183.5"/><circle cx="124.1" cy="195.4"/><circle cx="118.3" cy="193.9"/><circle cx="126.3" cy="190.1"/><circle cx="105.8" cy="196.6"/><circle cx="111.5" cy="210.9"/><circle cx="110" cy="204.1"/><circle cx="139.7" cy="186"/><circle cx="125.8" cy="187.3"/><circle cx="132.9" cy="192"/><circle cx="143.4" cy="197.5"/><circle cx="120.2" cy="195.2"/><circle cx="139.3" cy="191.1"/><circle cx="113.8" cy="201.3"/><circle cx="119.2" cy="203.1"/><circle cx="112.4" cy="208.5"/><circle cx="116.3" cy="192.9"/><circle cx="116" cy="203.4"/><circle cx="130.5" cy="195.2"/><circle cx="132.8" cy="178.3"/><circle cx="118.9" cy="198.1"/><circle cx="129.8" cy="191.7"/><circle cx="109" cy="219.7"/><circle cx="124.3" cy="193.3"/><circle cx="120.2" cy="194.1"/><circle cx="118.5" cy="198.9"/><circle cx="123" cy="194.9"/><circle cx="103.1" cy="210.3"/><circle cx="129.1" cy="188.3"/><circle cx="129.8" cy="193.7"/><circle cx="114.5" cy="191.8"/><circle cx="115.6" cy="200.6"/><circle cx="104.4" cy="203.1"/><circle cx="130.7" cy="197.9"/><circle cx="133.5" cy="187.9"/><circle cx="131.4" cy="194.2"/><circle cx="108.4" cy="217.4"/><circle cx="128.6" cy="193.4"/><circle cx="110.7" cy="198.7"/><circle cx="103.8" cy="211.5"/><circle cx="134.6" cy="180.6"/><circle cx="129.1" cy="204.5"/><circle cx="130.4" cy="202"/><circle cx="108" cy="198.3"/><circle cx="123.9" cy="192.1"/><circle cx="136.9" cy="198.2"/><circle cx="121" cy="204.5"/><circle cx="96.3" cy="211.3"/><circle cx="125.5" cy="211.5"/><circle cx="144.2" cy="183.5"/><circle cx="118.7" cy="189.2"/><circle cx="133" cy="205.1"/><circle cx="109.5" cy="212.4"/><circle cx="126.4" cy="202.6"/><circle cx="110.7" cy="207.4"/><circle cx="104.2" cy="195.6"/><circle cx="118.2" cy="182.8"/><circle cx="122.4" cy="199.5"/><circle cx="138.1" cy="191.9"/><circle cx="110.4" cy="191.8"/><circle cx="112.7" cy="206.2"/><circle cx="130.7" cy="191.4"/><circle cx="109.4" cy="204.8"/><circle cx="119.5" cy="205.9"/><circle cx="116.9" cy="197.3"/><circle cx="137.5" cy="190"/><circle cx="118.7" cy="201"/><circle cx="138.6" cy="189.1"/><circle cx="129.3" cy="196.5"/><circle cx="113" cy="207"/><circle cx="138.3" cy="191"/><circle cx="152.5" cy="192.4"/><circle cx="104.5" cy="208.4"/><circle cx="139.4" cy="193.7"/><circle cx="126" cy="195.2"/></g>
<g stroke-width="2.3"><line x1="83" y1="128.9" x2="204.4" y2="43.9" stroke="#F8702E"/><line x1="100" y1="125" x2="162" y2="81.6" stroke="#D89000"/><line x1="75" y1="141.7" x2="140" y2="96.2" stroke="#C77CFF"/><line x1="58" y1="157.4" x2="118" y2="115.4" stroke="#F8766D"/><line x1="55" y1="166.5" x2="110" y2="128" stroke="#00BA38"/><line x1="50" y1="176" x2="140" y2="113" stroke="#FF62BC"/><line x1="50" y1="186.9" x2="118" y2="139.3" stroke="#35A2FF"/><line x1="50" y1="190.8" x2="125" y2="138.3" stroke="#00BA38"/><line x1="52" y1="192.1" x2="150" y2="123.5" stroke="#FF62BC"/><line x1="120" y1="146" x2="191.7" y2="95.8" stroke="#00C1A3"/><line x1="50" y1="197" x2="140" y2="134" stroke="#FF6C91"/><line x1="50" y1="209" x2="145" y2="142.5" stroke="#00BA38"/><line x1="50" y1="212" x2="135" y2="152.5" stroke="#00A9FF"/><line x1="50" y1="216" x2="150" y2="146" stroke="#FF62BC"/><line x1="52" y1="218.6" x2="151" y2="149.3" stroke="#E76BF3"/><line x1="50.8" y1="223.5" x2="120" y2="175" stroke="#00BFC4"/><line x1="60" y1="226.4" x2="208" y2="122.8" stroke="#8F87FF"/><line x1="60" y1="229" x2="135" y2="176.5" stroke="#D89000"/><line x1="65.6" y1="232.4" x2="162" y2="164.9" stroke="#C49A00"/><line x1="76.2" y1="238.7" x2="121" y2="207.3" stroke="#00B0F6"/></g></g>
<text x="23.3" y="12.7" class="t">Time adjusted analysis</text>
<text x="18.6" y="221.6" class="tk" text-anchor="end">3</text>
<text x="69.4" y="274.9" class="tk" text-anchor="middle">3</text>
<text x="18.6" y="150.9" class="tk" text-anchor="end">6</text>
<text x="140.0" y="274.9" class="tk" text-anchor="middle">6</text>
<text x="18.6" y="80.3" class="tk" text-anchor="end">9</text>
<text x="210.5" y="274.9" class="tk" text-anchor="middle">9</text>
<text x="146.2" y="285.8" class="ax" text-anchor="middle">COcont (L/min)</text>
<text transform="translate(10.2,142.4) rotate(-90)" class="ax" text-anchor="middle">CO−FloTrac (L/min)</text>
<text x="175.3" y="221.9" class="ax" text-anchor="middle">RM correlation = 0.582</text>
<text x="175.3" y="245.5" class="ax" text-anchor="middle">RMSE= 1.69 L/min</text>
</g>
</svg>
</body></html>
